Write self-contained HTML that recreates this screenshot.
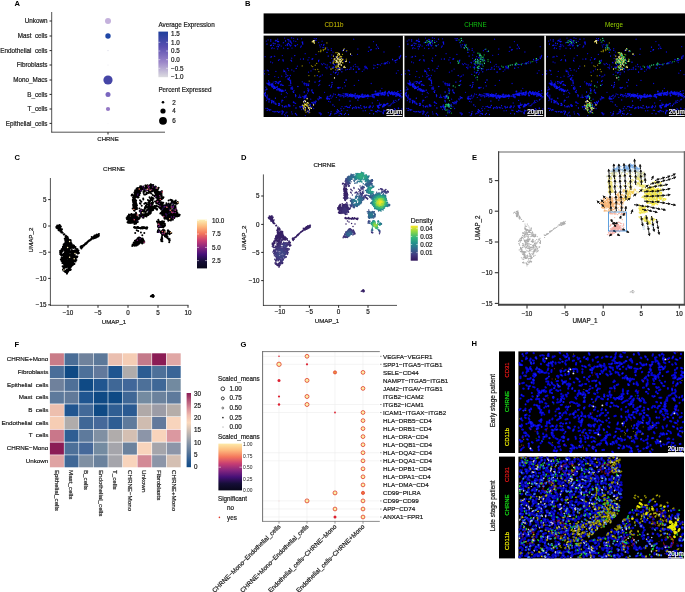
<!DOCTYPE html>
<html><head><meta charset="utf-8"><title>Figure</title><style>html,body{margin:0;padding:0;background:#fff;overflow:hidden}svg{display:block}</style></head><body>
<svg width="685" height="592" viewBox="0 0 685 592" font-family="'Liberation Sans', sans-serif" fill="#1a1a1a" stroke-width="0.2">
<style>.s{stroke:#1a1a1a}</style>
<defs>
<linearGradient id="gA" x1="0" y1="0" x2="0" y2="1"><stop offset="0.000" stop-color="#1f3f9c"/><stop offset="0.333" stop-color="#5a4fb0"/><stop offset="0.667" stop-color="#9b86c9"/><stop offset="1.000" stop-color="#dcdce0"/></linearGradient>
<linearGradient id="gC" x1="0" y1="0" x2="0" y2="1"><stop offset="0.000" stop-color="#fcf0b5"/><stop offset="0.143" stop-color="#fdb97d"/><stop offset="0.286" stop-color="#f4765c"/><stop offset="0.429" stop-color="#c73d73"/><stop offset="0.571" stop-color="#86267f"/><stop offset="0.714" stop-color="#451077"/><stop offset="0.857" stop-color="#150e37"/><stop offset="1.000" stop-color="#08071a"/></linearGradient>
<linearGradient id="gD" x1="0" y1="0" x2="0" y2="1"><stop offset="0.000" stop-color="#fde725"/><stop offset="0.167" stop-color="#8fd744"/><stop offset="0.333" stop-color="#35b779"/><stop offset="0.500" stop-color="#21918c"/><stop offset="0.667" stop-color="#31688e"/><stop offset="0.833" stop-color="#423a80"/><stop offset="1.000" stop-color="#32185c"/></linearGradient>
<linearGradient id="gF" x1="0" y1="0" x2="0" y2="1"><stop offset="0.000" stop-color="#8b1c55"/><stop offset="0.100" stop-color="#b45577"/><stop offset="0.200" stop-color="#d68b97"/><stop offset="0.300" stop-color="#f0bcae"/><stop offset="0.400" stop-color="#fbd9bd"/><stop offset="0.500" stop-color="#d2c0b5"/><stop offset="0.600" stop-color="#a9a9ae"/><stop offset="0.700" stop-color="#7e8fa5"/><stop offset="0.800" stop-color="#5a7799"/><stop offset="0.900" stop-color="#2f5e93"/><stop offset="1.000" stop-color="#0f4a85"/></linearGradient>
<linearGradient id="gG" x1="0" y1="0" x2="0" y2="1"><stop offset="0.000" stop-color="#fdeaa8"/><stop offset="0.143" stop-color="#fdb97d"/><stop offset="0.286" stop-color="#f4765c"/><stop offset="0.429" stop-color="#c73d73"/><stop offset="0.571" stop-color="#86267f"/><stop offset="0.714" stop-color="#451077"/><stop offset="0.857" stop-color="#150e37"/><stop offset="1.000" stop-color="#08071a"/></linearGradient>
<filter id="b3" x="-5%" y="-5%" width="110%" height="110%"><feGaussianBlur stdDeviation="0.8"/></filter>
<filter id="b5" x="-5%" y="-5%" width="110%" height="110%"><feGaussianBlur stdDeviation="0.8"/></filter>
<filter id="b6" x="-5%" y="-5%" width="110%" height="110%"><feGaussianBlur stdDeviation="0.85"/></filter>
<clipPath id="cb1"><rect x="263.6" y="35.6" width="139.3" height="81.4"/></clipPath><clipPath id="cb2"><rect x="404.4" y="35.6" width="139.9" height="81.4"/></clipPath><clipPath id="cb3"><rect x="545.9" y="35.6" width="139.1" height="81.4"/></clipPath><clipPath id="ch1"><rect x="518.4" y="351.4" width="165.6" height="101.6"/></clipPath><clipPath id="ch2"><rect x="518.4" y="456.6" width="165.6" height="101.8"/></clipPath>
</defs>
<rect x="0.0" y="0.0" width="685.0" height="592.0" fill="#fff"/>
<text x="14.5" y="6.2" font-size="7.6" fill="#000" font-weight="bold">A</text>
<line x1="51.7" y1="12.0" x2="51.7" y2="132.5" stroke="#1a1a1a" stroke-width="0.75"/>
<line x1="51.4" y1="132.2" x2="165.0" y2="132.2" stroke="#1a1a1a" stroke-width="0.75"/>
<text x="47.5" y="23.3" font-size="6.3" text-anchor="end" class="s" word-spacing="1.7">Unkown</text>
<line x1="49.5" y1="21.0" x2="51.7" y2="21.0" stroke="#1a1a1a" stroke-width="0.95"/>
<circle cx="108.0" cy="21.0" r="3.00" fill="#c4b1dc"/>
<text x="47.5" y="38.3" font-size="6.3" text-anchor="end" class="s" word-spacing="1.7">Mast cells</text>
<line x1="49.5" y1="36.0" x2="51.7" y2="36.0" stroke="#1a1a1a" stroke-width="0.95"/>
<circle cx="108.0" cy="36.0" r="2.70" fill="#1f47a6"/>
<text x="47.5" y="52.9" font-size="6.3" text-anchor="end" class="s" word-spacing="1.7">Endothelial cells</text>
<line x1="49.5" y1="50.6" x2="51.7" y2="50.6" stroke="#1a1a1a" stroke-width="0.95"/>
<circle cx="108.0" cy="50.6" r="0.70" fill="#dcdcea"/>
<text x="47.5" y="67.3" font-size="6.3" text-anchor="end" class="s" word-spacing="1.7">Fibroblasts</text>
<line x1="49.5" y1="65.0" x2="51.7" y2="65.0" stroke="#1a1a1a" stroke-width="0.95"/>
<circle cx="108.0" cy="65.0" r="0.50" fill="#e6e6ee"/>
<text x="47.5" y="82.3" font-size="6.3" text-anchor="end" class="s" word-spacing="1.7">Mono_Macs</text>
<line x1="49.5" y1="80.0" x2="51.7" y2="80.0" stroke="#1a1a1a" stroke-width="0.95"/>
<circle cx="108.0" cy="80.0" r="4.60" fill="#4545a6"/>
<text x="47.5" y="96.7" font-size="6.3" text-anchor="end" class="s" word-spacing="1.7">B_cells</text>
<line x1="49.5" y1="94.4" x2="51.7" y2="94.4" stroke="#1a1a1a" stroke-width="0.95"/>
<circle cx="108.0" cy="94.4" r="2.50" fill="#7a66bf"/>
<text x="47.5" y="111.3" font-size="6.3" text-anchor="end" class="s" word-spacing="1.7">T_cells</text>
<line x1="49.5" y1="109.0" x2="51.7" y2="109.0" stroke="#1a1a1a" stroke-width="0.95"/>
<circle cx="108.0" cy="109.0" r="2.10" fill="#9478c5"/>
<text x="47.5" y="125.7" font-size="6.3" text-anchor="end" class="s" word-spacing="1.7">Epithelial_cells</text>
<line x1="49.5" y1="123.4" x2="51.7" y2="123.4" stroke="#1a1a1a" stroke-width="0.95"/>
<circle cx="108.0" cy="123.4" r="0.40" fill="#eeeef2"/>
<line x1="108.0" y1="132.2" x2="108.0" y2="134.5" stroke="#1a1a1a" stroke-width="0.95"/>
<text x="108.0" y="141.4" font-size="6.0" text-anchor="middle" class="s">CHRNE</text>
<text x="158.4" y="27.1" font-size="6.3" class="s">Average Expression</text>
<rect x="158.4" y="31.6" width="9.6" height="45.6" fill="url(#gA)"/>
<text x="171.0" y="36.0" font-size="6.3" class="s">1.5</text>
<text x="171.0" y="44.6" font-size="6.3" class="s">1.0</text>
<line x1="158.4" y1="42.3" x2="160.3" y2="42.3" stroke="#fff" stroke-width="0.5"/>
<line x1="166.1" y1="42.3" x2="168.0" y2="42.3" stroke="#fff" stroke-width="0.5"/>
<text x="171.0" y="53.3" font-size="6.3" class="s">0.5</text>
<line x1="158.4" y1="51.0" x2="160.3" y2="51.0" stroke="#fff" stroke-width="0.5"/>
<line x1="166.1" y1="51.0" x2="168.0" y2="51.0" stroke="#fff" stroke-width="0.5"/>
<text x="171.0" y="62.0" font-size="6.3" class="s">0.0</text>
<line x1="158.4" y1="59.7" x2="160.3" y2="59.7" stroke="#fff" stroke-width="0.5"/>
<line x1="166.1" y1="59.7" x2="168.0" y2="59.7" stroke="#fff" stroke-width="0.5"/>
<text x="171.0" y="70.6" font-size="6.3" class="s">−0.5</text>
<line x1="158.4" y1="68.3" x2="160.3" y2="68.3" stroke="#fff" stroke-width="0.5"/>
<line x1="166.1" y1="68.3" x2="168.0" y2="68.3" stroke="#fff" stroke-width="0.5"/>
<text x="171.0" y="79.0" font-size="6.3" class="s">−1.0</text>
<text x="158.4" y="92.4" font-size="6.3" class="s">Percent Expressed</text>
<circle cx="163.0" cy="102.3" r="1.30" fill="#000"/>
<text x="172.3" y="104.6" font-size="6.3" class="s">2</text>
<circle cx="163.0" cy="111.0" r="2.60" fill="#000"/>
<text x="172.3" y="113.3" font-size="6.3" class="s">4</text>
<circle cx="163.0" cy="120.8" r="3.90" fill="#000"/>
<text x="172.3" y="123.1" font-size="6.3" class="s">6</text>
<text x="245.0" y="6.2" font-size="7.6" fill="#000" font-weight="bold">B</text>
<rect x="263.6" y="13.4" width="421.4" height="20.2" fill="#000"/>
<text x="334.0" y="26.9" font-size="6.3" text-anchor="middle" fill="#d0c400">CD11b</text>
<text x="475.4" y="26.9" font-size="6.3" text-anchor="middle" fill="#10c010">CHRNE</text>
<text x="614.0" y="26.9" font-size="6.3" text-anchor="middle" fill="#98d400">Merge</text>
<rect x="263.6" y="35.6" width="421.4" height="81.4" fill="#000"/>
<defs><g id="bblue">
<path d="M121.9 27.7h0M101.2 30.9h0M133.8 24.1h0M92.6 36.4h0M92.6 36.6h0M116.9 29.5h0M130.7 25.2h0M123.8 27.5h0M135.8 22.9h0M96.1 33.4h0M129.0 24.2h0M136.0 23.0h0M129.0 23.7h0M118.2 28.0h0M101.4 32.3h0M102.2 32.3h0M120.6 28.2h0M100.4 34.2h0M121.3 27.2h0M125.9 27.3h0M136.9 21.2h0M124.2 26.0h0M102.2 32.1h0M103.8 33.1h0M131.9 25.1h0M110.2 29.5h0M103.2 32.3h0M101.6 30.5h0M110.2 32.6h0M115.2 29.0h0M95.1 33.0h0M111.5 30.0h0M135.7 21.5h0M132.9 24.4h0M122.7 27.1h0M122.0 28.2h0M113.8 28.9h0M102.6 31.3h0M132.9 57.1h0M110.7 59.0h0M118.8 57.2h0M103.8 60.3h0M65.5 60.7h0M125.8 57.5h0M130.0 57.4h0M101.1 61.4h0M121.8 58.6h0M104.1 62.5h0M94.8 62.2h0M118.4 59.1h0M137.0 59.8h0M102.4 61.0h0M87.3 59.7h0M80.3 60.0h0M81.4 58.0h0M67.5 62.6h0M80.2 61.3h0M104.1 60.5h0M124.3 57.5h0M94.0 61.4h0M116.6 55.4h0M68.7 61.2h0M128.3 58.1h0M95.7 61.2h0M82.2 58.5h0M127.9 57.3h0M133.7 57.4h0M99.6 61.7h0M64.2 63.4h0M82.6 58.0h0M98.0 59.9h0M104.7 59.6h0M86.2 59.3h0M103.7 59.9h0M104.8 60.0h0M74.5 59.8h0M74.9 58.7h0M81.7 60.7h0M79.6 58.2h0M93.0 60.2h0M134.4 59.7h0M79.0 60.1h0M84.3 61.4h0M63.7 62.0h0M138.4 61.2h0M84.4 58.3h0M129.2 58.0h0M125.7 55.7h0M137.1 60.3h0M124.3 58.6h0M134.6 58.6h0M69.4 60.2h0M108.4 59.2h0M110.7 60.8h0M131.9 57.4h0M94.5 61.0h0M120.7 56.9h0M117.9 57.6h0M64.8 62.9h0M129.5 57.2h0M107.2 60.5h0M87.2 58.6h0M128.8 56.9h0M82.7 60.2h0M128.7 58.4h0M75.8 59.0h0M137.4 57.8h0M63.8 60.7h0M134.3 55.9h0M124.1 59.0h0M71.8 58.9h0M79.6 58.1h0M85.7 59.0h0M64.2 62.6h0M129.4 57.2h0M108.9 61.2h0M103.8 60.1h0M137.4 62.2h0M83.3 60.0h0M117.5 59.6h0M100.3 61.4h0M81.5 59.0h0M131.5 57.5h0M118.6 57.1h0M66.8 60.2h0M87.1 58.4h0M84.6 60.7h0M92.7 61.5h0M95.8 60.3h0M130.8 57.1h0M105.1 60.3h0M93.6 60.1h0M97.0 61.0h0M100.0 59.5h0M76.2 60.5h0M109.7 61.3h0M119.4 57.2h0M78.1 59.6h0M98.8 60.3h0M93.3 60.4h0M114.8 58.6h0M114.3 59.2h0M122.1 58.3h0M76.8 59.4h0M65.8 63.4h0M97.6 59.2h0M135.0 58.9h0M129.2 56.5h0M101.5 59.3h0M131.0 56.4h0M81.9 60.7h0M119.4 57.4h0M83.9 59.8h0M82.3 60.6h0M72.8 61.8h0M117.4 58.9h0M103.1 60.7h0M95.5 60.1h0M116.7 57.2h0M92.2 60.7h0M121.6 55.7h0M94.2 59.5h0M108.6 60.7h0M96.5 61.0h0M113.7 59.2h0M99.0 61.8h0M62.9 62.5h0M63.7 61.1h0M98.5 61.0h0M77.4 61.0h0M91.1 58.6h0M81.6 59.2h0M104.5 60.3h0M112.4 57.7h0M120.7 57.6h0M63.9 62.2h0M112.8 58.7h0M115.9 57.9h0M108.8 59.3h0M125.5 56.9h0M63.3 63.2h0M134.0 60.1h0M67.2 59.5h0M70.1 58.4h0M110.5 62.1h0M121.5 58.4h0M89.4 60.5h0M81.5 71.1h0M73.8 74.1h0M89.3 72.0h0M74.4 77.2h0M101.1 72.4h0M88.9 73.0h0M84.0 71.8h0M120.6 69.6h0M114.5 71.2h0M126.4 70.1h0M116.4 69.5h0M121.9 69.8h0M131.7 64.7h0M86.8 69.8h0M105.4 71.5h0M123.1 68.3h0M98.1 72.7h0M109.6 70.5h0M90.9 72.2h0M129.9 67.2h0M102.3 71.7h0M122.3 69.1h0M73.2 75.9h0M131.2 66.8h0M127.3 68.7h0M120.9 69.5h0M92.6 72.8h0M106.1 71.0h0M106.2 71.9h0M134.9 64.2h0M82.7 70.7h0M96.4 72.3h0M99.5 75.2h0M130.0 65.5h0M85.2 71.8h0M106.3 72.1h0M72.8 77.6h0M97.1 70.1h0M124.6 70.2h0M127.7 68.3h0M135.7 63.5h0M118.8 71.2h0M89.6 71.9h0M77.3 72.9h0M94.6 71.5h0M100.5 70.8h0M83.2 70.9h0M117.6 68.9h0M119.8 70.8h0M92.2 71.2h0M105.3 72.0h0M108.9 72.0h0M133.2 65.5h0M103.0 71.5h0M93.0 72.0h0M86.1 71.3h0M78.0 74.9h0M95.2 72.1h0M114.2 71.7h0M80.2 73.0h0M112.9 76.1h0M120.6 75.2h0M113.6 76.3h0M121.5 75.1h0M120.6 75.3h0M114.1 74.8h0M130.0 74.8h0M134.7 73.1h0M106.1 77.8h0M110.0 78.2h0M124.1 76.6h0M135.1 72.7h0M130.9 73.1h0M119.5 77.1h0M138.3 73.4h0M116.0 75.5h0M134.8 72.2h0M128.8 74.6h0M120.1 74.5h0M108.4 74.8h0M119.8 76.3h0M112.2 75.9h0M117.4 76.1h0M126.5 73.7h0M131.8 73.9h0M76.6 77.9h0M76.2 76.1h0M71.1 78.3h0M74.1 76.9h0M67.2 77.9h0M75.5 79.7h0M57.1 79.2h0M64.7 77.0h0M81.8 77.8h0M65.8 79.7h0M78.0 78.8h0M55.5 77.2h0M84.9 78.9h0M56.6 77.3h0M67.6 76.1h0M56.6 78.1h0M67.0 79.2h0M72.2 77.7h0M6.1 46.7h0M7.9 49.0h0M10.6 52.1h0M4.9 45.1h0M14.5 54.1h0M7.7 49.6h0M10.1 53.0h0M6.0 49.7h0M6.2 48.7h0M17.8 58.6h0M13.4 54.3h0M14.0 53.0h0M10.6 52.7h0M8.5 48.4h0M8.1 49.3h0M13.6 51.8h0M14.8 53.1h0M13.0 54.0h0M12.4 52.0h0M8.2 49.2h0M3.3 47.6h0M13.3 51.0h0M8.2 48.4h0M15.8 53.4h0M6.2 48.0h0M19.2 54.5h0M20.2 55.5h0M9.3 50.3h0M10.3 52.4h0M12.2 52.2h0M18.4 55.9h0M5.3 46.4h0M17.5 55.6h0M16.8 54.0h0M11.4 52.8h0M7.9 49.9h0M17.7 55.9h0M13.7 50.8h0M10.0 50.4h0M10.9 51.6h0M3.4 62.4h0M2.9 65.0h0M19.4 49.8h0M2.7 54.1h0M3.7 63.4h0M16.9 49.2h0M5.3 49.1h0M14.4 47.7h0M3.6 53.6h0M15.1 68.2h0M8.1 67.2h0M22.8 56.8h0M19.2 64.8h0M6.6 48.5h0M14.7 48.0h0M18.1 66.3h0M1.6 54.5h0M13.5 47.1h0M1.7 56.7h0M14.8 46.5h0M2.1 59.5h0M0.6 59.0h0M1.8 57.4h0M20.9 61.7h0M9.7 66.1h0M8.2 65.9h0M1.7 59.6h0M9.6 46.5h0M13.1 46.5h0M2.1 60.7h0M1.6 60.1h0M2.2 60.8h0M18.3 65.0h0M17.5 48.5h0M11.6 46.1h0M2.3 51.6h0M18.8 64.9h0M12.9 46.1h0M21.7 54.6h0M3.0 53.4h0M14.9 67.8h0M5.0 63.4h0M16.9 45.8h0M15.5 47.2h0M23.7 58.0h0M11.4 68.1h0M8.2 66.4h0M18.4 49.4h0M18.5 64.6h0M11.9 47.8h0M5.4 66.3h0M13.5 47.0h0M22.5 61.2h0M7.0 49.3h0M0.9 58.1h0M23.3 71.3h0M8.6 64.9h0M20.8 70.7h0M18.6 70.0h0M7.6 64.7h0M11.4 66.7h0M5.4 64.4h0M15.6 67.9h0M3.9 61.3h0M3.9 59.6h0M16.0 69.2h0M12.4 68.5h0M10.4 65.5h0M25.3 69.7h0M25.4 70.8h0M15.0 69.7h0M10.1 67.3h0M15.9 69.8h0M26.4 70.1h0M24.8 69.5h0M6.0 64.0h0M22.6 70.3h0M21.9 70.6h0M21.1 71.3h0M16.1 68.8h0M25.6 69.2h0M3.1 61.6h0M9.7 65.9h0M9.4 66.3h0M26.4 70.6h0M25.0 69.0h0M12.3 68.4h0M25.5 69.6h0M19.1 71.2h0M6.1 63.2h0M42.6 59.5h0M30.0 56.4h0M27.6 53.1h0M23.2 40.6h0M27.6 52.4h0M40.1 61.5h0M22.2 36.6h0M36.1 59.5h0M42.2 60.5h0M22.0 41.2h0M35.0 61.7h0M43.9 57.5h0M40.9 60.6h0M41.7 60.0h0M29.4 56.1h0M27.1 49.6h0M25.8 42.2h0M25.3 43.4h0M43.4 61.6h0M42.1 61.0h0M27.2 47.6h0M28.6 51.4h0M39.6 61.1h0M27.5 53.4h0M24.6 43.9h0M37.3 61.7h0M27.0 45.9h0M40.5 62.7h0M44.5 54.8h0M25.5 49.7h0M41.7 61.5h0M24.3 42.7h0M31.8 59.2h0M42.0 61.9h0M26.3 44.9h0M29.2 52.5h0M28.7 53.5h0M21.1 35.4h0M45.3 54.4h0M44.8 55.9h0M40.9 62.3h0M41.7 60.9h0M36.2 61.0h0M22.2 38.2h0M30.1 56.8h0M22.6 38.7h0M20.2 35.9h0M30.4 54.9h0M32.2 60.1h0M25.9 44.6h0M32.0 61.1h0M36.4 61.9h0M20.9 35.8h0M44.5 54.2h0M27.5 52.3h0M27.1 44.5h0M27.1 47.2h0M39.3 60.8h0M20.0 34.5h0M24.2 39.8h0M48.4 66.9h0M29.9 66.3h0M36.7 72.1h0M30.1 66.4h0M57.0 62.0h0M51.5 67.9h0M52.5 65.9h0M30.2 70.0h0M51.6 66.8h0M56.2 62.6h0M54.3 63.4h0M51.5 68.2h0M52.3 65.5h0M29.8 67.0h0M45.2 69.6h0M39.8 71.9h0M38.8 71.4h0M57.8 62.3h0M46.5 69.9h0M49.4 68.2h0M46.6 68.7h0M30.0 66.5h0M38.0 70.6h0M49.8 68.0h0M50.5 66.4h0M39.2 70.4h0M31.0 67.3h0M38.6 70.8h0M32.4 72.4h0M36.8 71.4h0M32.0 67.8h0M54.8 64.2h0M49.5 67.6h0M39.0 71.9h0M55.8 63.1h0M32.2 78.2h0M18.5 77.6h0M4.8 73.7h0M18.4 78.7h0M19.3 77.1h0M12.3 76.1h0M18.9 75.4h0M4.0 72.8h0M15.5 76.0h0M31.8 77.9h0M7.3 74.3h0M33.2 79.6h0M5.7 74.9h0M24.0 80.2h0M32.6 78.7h0M22.2 77.6h0M9.3 75.8h0M6.3 74.1h0M23.3 76.6h0M28.5 78.3h0M2.4 72.8h0M19.5 76.1h0M13.9 75.8h0M21.7 80.2h0M17.6 75.6h0M10.6 76.2h0M14.8 76.8h0M21.0 79.1h0M28.0 76.3h0M3.6 74.7h0M40.3 48.0h0M40.6 47.4h0M41.6 48.1h0M48.9 56.6h0M44.3 52.8h0M42.8 49.9h0M43.3 48.1h0M44.7 49.9h0M42.8 48.6h0M47.9 55.2h0M45.0 49.7h0M48.4 54.4h0M40.8 49.2h0M38.7 46.2h0M44.1 49.3h0M49.7 57.4h0M39.1 6.3h0M32.2 5.7h0M37.7 10.3h0M9.6 7.6h0M21.0 2.5h0M7.2 5.7h0M20.0 7.0h0M25.0 7.7h0M14.5 8.7h0M8.2 12.9h0M30.1 5.3h0M14.8 11.1h0M22.2 9.8h0M13.4 11.0h0M16.0 9.4h0M39.2 8.4h0M32.3 10.0h0M28.1 2.3h0M20.0 12.6h0M31.8 10.5h0M24.0 9.9h0M24.2 3.9h0M25.9 8.8h0M34.0 3.6h0M27.9 2.3h0M38.0 3.2h0M2.7 5.5h0M7.8 9.6h0M17.6 10.5h0M37.0 11.6h0M30.0 2.7h0M7.2 4.3h0M14.4 9.3h0M22.0 5.5h0M8.6 12.0h0M15.0 5.9h0M31.3 9.9h0M26.4 9.6h0M25.2 4.1h0M11.4 8.1h0M10.5 12.7h0M13.3 5.2h0M9.9 9.8h0M14.0 5.8h0M37.5 10.7h0M27.6 9.5h0M25.4 5.4h0M39.0 7.3h0M38.4 6.5h0M26.8 10.4h0M26.8 5.3h0M23.7 8.8h0M24.0 8.3h0M14.5 6.3h0M26.9 6.5h0M22.0 5.3h0M28.4 12.5h0M19.6 7.2h0M33.9 9.0h0M27.4 6.6h0M28.1 7.7h0M14.1 3.6h0M14.0 13.3h0M6.9 9.9h0M11.8 5.3h0M4.5 4.3h0M12.7 5.0h0M12.3 4.7h0M55.2 49.9h0M23.8 32.8h0M56.2 48.7h0M55.6 45.8h0M0.6 35.3h0M6.4 49.4h0M17.1 49.6h0M32.6 32.8h0M56.3 44.9h0M28.1 22.6h0M6.8 21.5h0M27.5 24.7h0M11.2 41.0h0M47.4 35.3h0M45.4 22.0h0M51.4 46.5h0M49.6 33.5h0M5.2 38.8h0M11.1 20.8h0M19.4 24.4h0M15.6 24.0h0M45.2 48.4h0M18.1 40.6h0M0.7 38.2h0M41.6 18.1h0M7.1 26.4h0M24.3 33.1h0M53.7 39.9h0M18.7 20.0h0M55.0 26.0h0M36.9 23.5h0M8.0 21.2h0M44.9 36.6h0M25.0 34.7h0M28.2 34.3h0M39.8 23.4h0M14.8 41.7h0M52.4 18.8h0M26.8 39.9h0M4.7 35.2h0M3.7 34.6h0M30.3 35.5h0M9.0 27.2h0M31.2 20.0h0M12.3 35.8h0M49.2 23.1h0M57.9 28.2h0M48.6 23.4h0M63.3 33.1h0M65.7 31.4h0M61.6 28.7h0M73.6 34.9h0M48.5 23.8h0M68.7 31.5h0M60.3 27.8h0M70.2 32.0h0M63.6 29.4h0M63.4 31.5h0M58.9 29.1h0M55.0 25.1h0M55.4 24.5h0M60.4 8.9h0M56.6 11.3h0M64.5 14.2h0M58.5 5.6h0M52.4 4.8h0M50.6 3.0h0M52.6 3.0h0M56.1 9.5h0M51.6 4.6h0M63.4 12.3h0M60.1 9.6h0M57.8 9.1h0M55.1 7.0h0M67.7 13.1h0M59.5 11.9h0M67.7 14.8h0M76.4 21.2h0M73.3 26.9h0M70.1 31.4h0M66.9 27.1h0M73.3 32.9h0M78.9 15.1h0M64.6 20.5h0M73.2 24.6h0M75.6 28.9h0M69.4 16.5h0M76.6 23.7h0M75.0 22.3h0M74.7 32.9h0M68.2 19.4h0M78.4 33.3h0M74.6 19.2h0M66.5 26.8h0M69.9 36.4h0M86.0 26.6h0M77.7 24.9h0M80.6 25.5h0M75.8 32.3h0M78.3 36.2h0M68.1 22.7h0M71.4 29.7h0M73.3 28.5h0M70.2 25.0h0M85.8 33.7h0M67.0 27.3h0M79.2 23.0h0M70.5 28.8h0M76.0 28.3h0M74.8 37.2h0M71.4 23.0h0M77.8 29.2h0M69.3 32.0h0M68.9 25.5h0M74.1 22.0h0M80.6 13.8h0M72.2 21.0h0M45.6 75.9h0M45.3 75.4h0M36.3 71.1h0M38.9 69.2h0M43.7 70.8h0M47.1 63.6h0M40.5 65.3h0M38.1 74.0h0M43.5 75.9h0M46.6 70.7h0M40.1 74.0h0M40.9 66.3h0M39.5 70.9h0M46.8 70.7h0M46.7 70.8h0M41.7 80.0h0M48.5 71.2h0M40.5 64.9h0M44.2 69.6h0M44.4 71.6h0M44.3 74.5h0M43.9 68.0h0M40.7 72.5h0M39.8 73.0h0M95.0 33.8h0M89.8 30.6h0M89.8 33.6h0M83.7 33.8h0M72.9 36.6h0M87.3 31.9h0M72.0 37.2h0M76.9 34.4h0M82.1 34.3h0M94.3 31.4h0M71.7 37.3h0M92.3 31.1h0M87.3 33.4h0M74.1 38.9h0M107.6 14.1h0M120.4 16.4h0M112.6 13.1h0M93.9 18.7h0M105.5 11.6h0M106.8 14.5h0M104.8 15.8h0M107.0 14.6h0M114.9 12.8h0M114.1 11.3h0M67.4 51.9h0M81.7 50.4h0M68.0 50.5h0M74.0 52.1h0M67.8 51.2h0M76.5 51.8h0M65.7 49.8h0M74.5 52.7h0M68.5 48.8h0M90.7 49.8h0M75.3 52.3h0M79.0 52.5h0M58.7 39.4h0M10.7 20.5h0M34.3 50.9h0M82.7 15.9h0M14.9 24.8h0M132.2 27.0h0M86.4 65.5h0M45.9 27.2h0M113.6 70.0h0M135.7 11.1h0M44.7 77.1h0M28.0 25.6h0M134.4 78.9h0M40.6 56.6h0M68.4 46.9h0M33.8 30.6h0M113.7 32.0h0M15.9 45.9h0M82.5 44.4h0M95.0 44.8h0M132.8 37.6h0M98.7 35.7h0M40.6 56.4h0M114.1 64.8h0M57.0 40.6h0M88.2 19.7h0M91.8 58.2h0M109.9 6.0h0M138.0 39.0h0M55.8 41.2h0M128.2 56.3h0M75.7 64.4h0M50.1 72.9h0M74.8 51.9h0M11.8 62.6h0M91.6 28.9h0M90.1 3.6h0M137.0 55.1h0M55.7 61.3h0M134.5 35.0h0M1.5 21.1h0M71.1 42.2h0M80.9 46.8h0M62.1 31.8h0M107.6 47.9h0M69.7 28.1h0M3.4 8.5h0M57.9 78.3h0M16.2 76.6h0M19.7 25.4h0M63.4 16.8h0M67.3 38.8h0M61.0 56.7h0M44.4 24.4h0M112.9 9.4h0M118.3 52.7h0M94.3 13.4h0M137.1 19.9h0M24.3 13.0h0M78.0 78.0h0M78.4 71.0h0M74.6 75.1h0M94.3 64.5h0M108.7 67.4h0M107.0 70.8h0M115.9 67.6h0M119.7 78.1h0M65.0 65.8h0M129.1 67.3h0M85.9 72.0h0M80.8 79.0h0M101.8 75.1h0M107.3 74.6h0M106.5 70.1h0M127.0 74.7h0M124.5 76.3h0M83.6 74.7h0M66.7 66.3h0M69.3 69.3h0M74.5 76.1h0M100.5 71.3h0M70.9 70.7h0M74.7 75.1h0M115.0 75.2h0" stroke="#0808d8" stroke-width="1.3" stroke-linecap="round" fill="none"/>
<path d="M127.1 58.5h0M111.9 55.9h0M135.7 59.6h0M98.7 58.8h0M87.5 60.0h0M128.3 57.2h0M128.0 57.4h0M115.3 57.7h0M132.9 58.7h0M132.2 58.2h0M95.6 60.8h0M109.3 60.7h0M88.7 60.9h0M113.4 59.5h0M95.4 61.9h0M132.2 57.8h0M83.4 58.6h0M125.3 56.1h0M132.4 60.3h0M105.2 60.7h0M92.3 62.5h0M126.4 57.3h0M94.4 60.7h0M132.4 57.9h0M115.0 59.7h0M120.8 59.3h0M134.2 58.4h0M135.9 58.9h0M117.4 57.8h0M93.5 60.0h0M91.3 60.0h0M136.0 60.5h0M88.3 59.0h0M129.4 58.5h0M97.6 61.0h0M90.5 60.4h0M123.9 57.5h0M108.9 60.5h0M87.5 60.6h0M117.7 58.0h0M88.2 59.5h0M100.9 60.4h0M91.8 62.0h0M112.8 59.1h0M114.1 58.3h0M86.1 59.6h0M130.5 58.6h0M95.2 62.2h0M121.5 57.2h0M98.6 60.9h0M114.0 58.7h0M102.1 60.7h0M118.0 58.1h0M85.7 60.4h0M88.7 59.6h0M103.4 60.3h0M88.2 60.1h0M129.4 58.9h0M97.0 60.8h0M99.3 61.2h0M119.4 58.8h0M113.4 59.1h0M113.7 57.9h0M104.0 59.7h0M109.5 59.2h0M89.3 59.4h0M111.5 58.7h0M118.9 58.0h0M124.6 60.0h0M134.7 58.4h0M10.8 51.0h0M17.7 55.0h0M9.0 48.6h0M4.4 48.1h0M8.6 50.9h0M17.0 54.0h0M10.9 52.2h0M5.1 47.8h0M18.6 55.1h0M5.3 48.8h0M8.4 50.7h0M10.9 51.5h0M8.5 50.4h0M15.5 53.7h0M8.8 51.3h0M17.6 55.2h0M15.8 55.0h0M11.0 51.3h0M115.2 72.1h0M120.3 69.1h0M120.2 69.2h0M124.0 68.0h0M116.4 69.4h0M119.4 70.3h0M120.1 70.8h0M114.2 70.8h0M114.7 70.1h0M120.8 69.1h0" stroke="#0c10e8" stroke-width="1.9" stroke-linecap="round" fill="none"/>
<path d="M121.9 27.7h0M92.6 36.6h0M135.8 22.9h0M129.0 23.7h0M120.6 28.2h0M136.9 21.2h0M131.9 25.1h0M110.2 32.6h0M135.7 21.5h0M113.8 28.9h0M118.8 57.2h0M130.0 57.4h0M94.8 62.2h0M87.3 59.7h0M80.2 61.3h0M116.6 55.4h0M82.2 58.5h0M64.2 63.4h0M86.2 59.3h0M74.9 58.7h0M134.4 59.7h0M138.4 61.2h0M137.1 60.3h0M108.4 59.2h0M120.7 56.9h0M107.2 60.5h0M128.7 58.4h0M134.3 55.9h0M85.7 59.0h0M103.8 60.1h0M100.3 61.4h0M66.8 60.2h0M95.8 60.3h0M97.0 61.0h0M119.4 57.2h0M114.8 58.6h0M65.8 63.4h0M101.5 59.3h0M83.9 59.8h0M103.1 60.7h0M121.6 55.7h0M113.7 59.2h0M98.5 61.0h0M104.5 60.3h0M112.8 58.7h0M63.3 63.2h0M110.5 62.1h0M73.8 74.1h0M88.9 73.0h0M126.4 70.1h0M86.8 69.8h0M109.6 70.5h0M122.3 69.1h0M120.9 69.5h0M134.9 64.2h0M130.0 65.5h0M97.1 70.1h0M118.8 71.2h0M100.5 70.8h0M92.2 71.2h0M103.0 71.5h0M95.2 72.1h0M120.6 75.2h0M114.1 74.8h0M110.0 78.2h0M119.5 77.1h0M128.8 74.6h0M112.2 75.9h0M76.6 77.9h0M67.2 77.9h0M81.8 77.8h0M84.9 78.9h0M67.0 79.2h0M10.6 52.1h0M10.1 53.0h0M13.4 54.3h0M8.1 49.3h0M12.4 52.0h0M8.2 48.4h0M20.2 55.5h0M18.4 55.9h0M11.4 52.8h0M10.0 50.4h0M19.4 49.8h0M5.3 49.1h0M8.1 67.2h0M14.7 48.0h0M1.7 56.7h0M1.8 57.4h0M1.7 59.6h0M1.6 60.1h0M11.6 46.1h0M21.7 54.6h0M16.9 45.8h0M8.2 66.4h0M5.4 66.3h0M0.9 58.1h0M18.6 70.0h0M15.6 67.9h0M12.4 68.5h0M15.0 69.7h0M24.8 69.5h0M21.1 71.3h0M9.7 65.9h0M12.3 68.4h0M42.6 59.5h0M27.6 52.4h0M42.2 60.5h0M40.9 60.6h0M25.8 42.2h0M27.2 47.6h0M24.6 43.9h0M44.5 54.8h0M31.8 59.2h0M28.7 53.5h0M40.9 62.3h0M30.1 56.8h0M32.2 60.1h0M20.9 35.8h0M27.1 47.2h0M48.4 66.9h0M57.0 62.0h0M51.6 66.8h0M52.3 65.5h0M38.8 71.4h0M46.6 68.7h0M50.5 66.4h0M32.4 72.4h0M49.5 67.6h0M18.5 77.6h0M12.3 76.1h0M31.8 77.9h0M24.0 80.2h0M6.3 74.1h0M19.5 76.1h0M10.6 76.2h0M3.6 74.7h0M48.9 56.6h0M44.7 49.9h0M48.4 54.4h0M49.7 57.4h0M9.6 7.6h0M25.0 7.7h0M14.8 11.1h0M39.2 8.4h0M31.8 10.5h0M34.0 3.6h0M7.8 9.6h0M7.2 4.3h0M15.0 5.9h0M11.4 8.1h0M14.0 5.8h0M39.0 7.3h0M23.7 8.8h0M22.0 5.3h0M27.4 6.6h0M6.9 9.9h0M12.3 4.7h0M55.6 45.8h0M32.6 32.8h0M27.5 24.7h0M51.4 46.5h0M19.4 24.4h0M0.7 38.2h0M53.7 39.9h0M8.0 21.2h0M39.8 23.4h0M4.7 35.2h0M31.2 20.0h0M48.6 23.4h0M73.6 34.9h0M70.2 32.0h0M55.0 25.1h0M64.5 14.2h0M52.6 3.0h0M60.1 9.6h0M59.5 11.9h0M70.1 31.4h0M64.6 20.5h0M76.6 23.7h0M78.4 33.3h0M86.0 26.6h0M78.3 36.2h0M70.2 25.0h0M70.5 28.8h0M77.8 29.2h0M80.6 13.8h0M36.3 71.1h0M40.5 65.3h0M40.1 74.0h0M46.7 70.8h0M44.2 69.6h0M40.7 72.5h0M89.8 33.6h0M72.0 37.2h0M71.7 37.3h0M107.6 14.1h0M105.5 11.6h0M114.9 12.8h0M68.0 50.5h0M65.7 49.8h0M75.3 52.3h0M34.3 50.9h0M86.4 65.5h0M44.7 77.1h0M68.4 46.9h0M82.5 44.4h0M40.6 56.4h0M91.8 58.2h0M128.2 56.3h0M11.8 62.6h0M55.7 61.3h0M80.9 46.8h0M3.4 8.5h0M63.4 16.8h0M112.9 9.4h0M24.3 13.0h0M94.3 64.5h0M119.7 78.1h0M80.8 79.0h0M127.0 74.7h0M69.3 69.3h0M74.7 75.1h0" stroke="#1c28ff" stroke-width="0.8" stroke-linecap="round" fill="none"/>
</g></defs>
<g clip-path="url(#cb1)"><g transform="translate(263.6 35.6)">
<use href="#bblue"/>
<path d="M73.2 25.7h0M73.7 30.1h0M79.2 26.9h0M77.8 25.6h0M79.8 14.6h0M70.6 25.3h0M73.8 21.1h0M78.1 21.0h0M76.4 26.1h0M75.7 21.7h0M74.7 31.1h0M77.8 29.9h0M75.2 17.7h0M73.5 24.8h0M81.0 30.7h0M77.3 21.6h0M76.0 24.3h0M74.5 19.8h0M77.4 25.4h0M78.9 18.8h0M70.8 42.3h0M71.8 26.8h0M77.3 21.0h0M82.8 25.2h0M76.1 33.9h0M72.2 23.3h0M74.0 19.2h0M76.7 27.7h0M76.3 28.5h0M79.1 27.1h0M74.5 31.1h0M72.6 31.9h0M74.7 29.0h0M83.2 15.1h0M74.7 23.6h0M82.7 23.6h0M87.0 18.5h0M77.0 23.7h0M77.6 22.9h0M73.6 17.1h0M76.0 18.6h0M70.0 25.9h0M75.0 30.2h0M69.8 27.4h0M76.9 24.1h0M72.1 25.1h0M79.2 23.8h0M79.1 24.2h0M82.7 25.6h0M74.8 18.1h0M69.5 27.3h0M74.5 26.8h0M72.6 24.8h0M72.9 26.9h0M74.6 34.1h0M72.6 30.6h0M71.1 23.4h0M72.0 31.3h0M77.3 26.1h0M76.5 20.5h0M81.4 31.9h0M75.4 25.6h0M78.2 24.7h0M74.7 23.2h0M74.0 23.3h0M78.6 24.0h0M73.7 22.6h0M69.2 32.7h0M77.6 29.5h0M73.3 32.2h0M76.1 32.2h0M75.4 25.3h0M73.3 25.9h0M76.4 32.4h0M82.0 25.9h0M80.6 13.0h0M73.5 26.6h0M79.2 27.4h0M75.3 23.4h0M72.1 34.2h0M80.2 31.5h0M75.5 23.0h0M77.8 25.4h0M75.0 25.4h0M72.8 21.5h0M74.5 19.1h0M78.0 29.4h0M72.3 17.1h0M77.2 26.6h0M75.6 19.4h0M67.4 33.4h0M74.6 27.8h0M75.2 27.4h0M70.1 23.4h0M69.8 20.5h0M41.3 65.1h0M41.9 68.4h0M40.2 70.1h0M43.0 68.0h0M47.8 72.7h0M45.7 69.5h0M45.1 72.8h0M40.6 68.5h0M50.0 69.3h0M44.2 69.9h0M45.0 67.5h0M40.6 73.9h0M43.5 63.1h0M43.1 70.0h0M44.7 71.5h0M43.8 70.8h0M43.7 67.0h0M41.0 67.9h0M39.8 72.9h0M45.6 72.3h0M41.6 68.9h0M41.9 73.8h0M44.3 75.7h0M40.7 69.8h0M40.0 66.2h0M42.6 69.5h0M41.8 65.9h0M43.5 69.6h0M45.2 72.2h0M39.9 71.7h0M41.6 75.1h0M42.9 69.0h0M42.0 66.0h0M46.1 76.9h0M38.8 69.7h0M42.7 68.7h0M45.9 74.2h0M42.4 76.7h0M43.1 69.8h0M43.7 68.3h0M46.5 72.3h0M42.1 69.9h0M40.8 71.3h0M39.9 70.5h0M41.8 72.2h0M50.4 6.7h0M49.4 5.4h0M49.2 6.0h0M49.9 5.5h0M48.6 6.2h0M50.7 7.7h0M50.2 5.1h0M50.8 5.2h0M57.3 15.1h0M55.2 16.0h0M59.8 15.0h0M57.1 16.1h0M61.8 13.1h0M63.3 7.3h0M61.3 13.7h0M57.2 14.4h0M61.7 12.2h0M59.6 13.9h0M54.2 33.7h0M51.6 34.0h0M49.1 30.9h0M47.8 30.2h0M55.2 36.1h0M53.1 27.8h0M51.2 40.2h0M45.6 45.5h0M51.6 29.6h0M45.3 39.9h0M38.6 30.3h0" stroke="#a89800" stroke-width="1.25" stroke-linecap="round" fill="none"/>
<path d="M73.2 25.7h0M79.2 26.9h0M79.8 14.6h0M73.8 21.1h0M76.4 26.1h0M74.7 31.1h0M75.2 17.7h0M81.0 30.7h0M76.0 24.3h0M77.4 25.4h0M70.8 42.3h0M77.3 21.0h0M76.1 33.9h0M74.0 19.2h0M76.3 28.5h0M74.5 31.1h0M74.7 29.0h0M74.7 23.6h0M87.0 18.5h0M77.6 22.9h0M76.0 18.6h0M75.0 30.2h0M76.9 24.1h0M79.2 23.8h0M82.7 25.6h0M69.5 27.3h0M72.6 24.8h0M74.6 34.1h0M71.1 23.4h0M77.3 26.1h0M81.4 31.9h0M78.2 24.7h0M74.0 23.3h0M73.7 22.6h0M77.6 29.5h0M76.1 32.2h0M73.3 25.9h0M82.0 25.9h0M73.5 26.6h0M75.3 23.4h0M80.2 31.5h0M77.8 25.4h0M72.8 21.5h0M78.0 29.4h0M77.2 26.6h0M67.4 33.4h0M75.2 27.4h0M69.8 20.5h0M41.3 65.1h0M40.2 70.1h0M47.8 72.7h0M45.1 72.8h0M50.0 69.3h0M45.0 67.5h0M43.5 63.1h0M44.7 71.5h0M43.7 67.0h0M39.8 72.9h0M41.6 68.9h0M44.3 75.7h0M40.0 66.2h0M41.8 65.9h0M45.2 72.2h0M41.6 75.1h0M42.0 66.0h0M38.8 69.7h0M45.9 74.2h0M43.1 69.8h0M46.5 72.3h0M40.8 71.3h0M41.8 72.2h0M50.4 6.7h0M49.4 5.4h0M49.2 6.0h0M49.9 5.5h0M48.6 6.2h0M50.7 7.7h0M50.2 5.1h0M50.8 5.2h0" stroke="#e8dc80" stroke-width="0.9" stroke-linecap="round" fill="none"/>
<path d="M73.2 25.7h0M79.8 14.6h0M76.4 26.1h0M75.2 17.7h0M76.0 24.3h0M70.8 42.3h0M76.1 33.9h0M76.3 28.5h0M74.7 29.0h0M87.0 18.5h0M76.0 18.6h0M76.9 24.1h0M82.7 25.6h0M72.6 24.8h0M71.1 23.4h0M81.4 31.9h0M74.0 23.3h0M77.6 29.5h0M73.3 25.9h0M73.5 26.6h0M80.2 31.5h0M72.8 21.5h0M77.2 26.6h0M75.2 27.4h0M41.3 65.1h0M47.8 72.7h0M50.0 69.3h0M43.5 63.1h0M43.7 67.0h0M41.6 68.9h0M40.0 66.2h0M45.2 72.2h0M42.0 66.0h0M45.9 74.2h0M46.5 72.3h0M41.8 72.2h0M50.4 6.7h0M49.9 5.5h0M50.2 5.1h0" stroke="#ffffff" stroke-width="0.8" stroke-linecap="round" fill="none"/>
</g></g>
<g clip-path="url(#cb2)"><g transform="translate(404.5 35.6)">
<use href="#bblue"/>
<path d="M74.5 30.6h0M78.6 26.1h0M71.4 25.8h0M78.9 21.5h0M76.5 22.2h0M78.6 30.4h0M74.3 25.3h0M78.1 22.1h0M75.3 20.3h0M79.7 19.3h0M72.6 27.3h0M83.6 25.7h0M73.0 23.8h0M77.5 28.2h0M79.9 27.6h0M73.4 32.4h0M84.0 15.6h0M83.5 24.1h0M77.8 24.2h0M74.4 17.6h0M70.8 26.4h0M70.6 27.9h0M72.9 25.6h0M79.9 24.7h0M75.6 18.6h0M75.3 27.3h0M73.7 27.4h0M73.4 31.1h0M72.8 31.8h0M77.3 21.0h0M76.2 26.1h0M75.5 23.7h0M79.4 24.5h0M70.0 33.2h0M74.1 32.7h0M76.2 25.8h0M77.2 32.9h0M81.4 13.5h0M80.0 27.9h0M72.9 34.7h0M76.3 23.5h0M75.8 25.9h0M75.3 19.6h0M73.1 17.6h0M76.4 19.9h0M75.4 28.3h0M70.9 23.9h0M42.7 68.9h0M43.8 68.5h0M46.5 70.0h0M41.4 69.0h0M45.0 70.4h0M41.4 74.4h0M43.9 70.5h0M44.6 71.3h0M41.8 68.4h0M46.4 72.8h0M42.7 74.3h0M41.5 70.3h0M43.4 70.0h0M44.3 70.1h0M40.7 72.2h0M43.7 69.5h0M46.9 77.4h0M43.5 69.2h0M43.2 77.2h0M44.5 68.8h0M42.9 70.4h0M40.7 71.0h0M23.7 5.8h0M21.1 6.7h0M22.6 7.0h0M30.3 6.9h0M31.5 10.1h0M27.9 5.2h0M22.8 4.7h0M25.7 6.8h0M25.8 7.8h0M24.7 6.1h0M54.5 4.3h0M57.1 4.8h0M55.9 6.3h0M56.7 2.8h0M61.8 9.3h0M61.9 11.8h0M63.0 14.3h0M61.0 10.4h0M63.1 12.9h0M59.9 12.4h0M54.5 26.9h0M53.8 27.6h0M54.3 27.3h0M53.4 25.6h0M128.3 25.9h0M111.1 29.1h0M110.6 28.4h0M107.7 29.2h0M112.7 28.5h0M105.7 29.6h0M103.7 30.1h0M111.7 27.6h0M121.7 28.0h0M98.6 31.5h0M116.8 29.0h0M132.0 23.1h0M116.9 28.5h0M131.7 23.2h0M126.5 26.2h0M104.0 31.3h0M97.1 30.4h0M43.6 63.0h0M43.5 60.8h0M43.8 62.1h0M45.0 64.9h0M41.9 60.5h0M44.9 57.6h0M54.6 49.8h0M50.8 51.5h0M48.7 50.3h0M70.0 40.0h0M72.7 41.6h0M72.8 44.2h0" stroke="#10a840" stroke-width="1.25" stroke-linecap="round" fill="none"/>
<path d="M74.5 30.6h0M71.4 25.8h0M76.5 22.2h0M74.3 25.3h0M75.3 20.3h0M72.6 27.3h0M73.0 23.8h0M79.9 27.6h0M84.0 15.6h0M77.8 24.2h0M70.8 26.4h0M72.9 25.6h0M75.6 18.6h0M73.7 27.4h0M72.8 31.8h0M76.2 26.1h0M79.4 24.5h0M74.1 32.7h0M77.2 32.9h0M80.0 27.9h0M76.3 23.5h0M75.3 19.6h0M76.4 19.9h0M70.9 23.9h0M43.8 68.5h0M41.4 69.0h0M41.4 74.4h0M44.6 71.3h0M46.4 72.8h0M41.5 70.3h0M44.3 70.1h0M43.7 69.5h0M43.5 69.2h0M44.5 68.8h0M40.7 71.0h0M21.1 6.7h0M30.3 6.9h0M27.9 5.2h0M25.7 6.8h0M24.7 6.1h0M57.1 4.8h0M56.7 2.8h0M61.9 11.8h0M61.0 10.4h0M59.9 12.4h0M53.8 27.6h0M53.4 25.6h0M111.1 29.1h0M107.7 29.2h0M105.7 29.6h0M111.7 27.6h0M98.6 31.5h0M132.0 23.1h0M131.7 23.2h0M104.0 31.3h0M43.6 63.0h0M43.8 62.1h0M41.9 60.5h0M54.6 49.8h0M48.7 50.3h0M72.7 41.6h0" stroke="#40d8b0" stroke-width="0.85" stroke-linecap="round" fill="none"/>
</g></g>
<g clip-path="url(#cb3)"><g transform="translate(546 35.6)">
<use href="#bblue"/>
<path d="M73.2 25.7h0M73.7 30.1h0M79.2 26.9h0M77.8 25.6h0M79.8 14.6h0M70.6 25.3h0M73.8 21.1h0M78.1 21.0h0M76.4 26.1h0M75.7 21.7h0M74.7 31.1h0M77.8 29.9h0M75.2 17.7h0M73.5 24.8h0M81.0 30.7h0M77.3 21.6h0M76.0 24.3h0M74.5 19.8h0M77.4 25.4h0M78.9 18.8h0M70.8 42.3h0M71.8 26.8h0M77.3 21.0h0M82.8 25.2h0M76.1 33.9h0M72.2 23.3h0M74.0 19.2h0M76.7 27.7h0M76.3 28.5h0M79.1 27.1h0M74.5 31.1h0M72.6 31.9h0M74.7 29.0h0M83.2 15.1h0M74.7 23.6h0M82.7 23.6h0M87.0 18.5h0M77.0 23.7h0M77.6 22.9h0M73.6 17.1h0M76.0 18.6h0M70.0 25.9h0M75.0 30.2h0M69.8 27.4h0M76.9 24.1h0M72.1 25.1h0M79.2 23.8h0M79.1 24.2h0M82.7 25.6h0M74.8 18.1h0M69.5 27.3h0M74.5 26.8h0M72.6 24.8h0M72.9 26.9h0M74.6 34.1h0M72.6 30.6h0M71.1 23.4h0M72.0 31.3h0M77.3 26.1h0M76.5 20.5h0M81.4 31.9h0M75.4 25.6h0M78.2 24.7h0M74.7 23.2h0M74.0 23.3h0M78.6 24.0h0M73.7 22.6h0M69.2 32.7h0M77.6 29.5h0M73.3 32.2h0M76.1 32.2h0M75.4 25.3h0M73.3 25.9h0M76.4 32.4h0M82.0 25.9h0M80.6 13.0h0M73.5 26.6h0M79.2 27.4h0M75.3 23.4h0M72.1 34.2h0M80.2 31.5h0M75.5 23.0h0M77.8 25.4h0M75.0 25.4h0M72.8 21.5h0M74.5 19.1h0M78.0 29.4h0M72.3 17.1h0M77.2 26.6h0M75.6 19.4h0M67.4 33.4h0M74.6 27.8h0M75.2 27.4h0M70.1 23.4h0M69.8 20.5h0M41.3 65.1h0M41.9 68.4h0M40.2 70.1h0M43.0 68.0h0M47.8 72.7h0M45.7 69.5h0M45.1 72.8h0M40.6 68.5h0M50.0 69.3h0M44.2 69.9h0M45.0 67.5h0M40.6 73.9h0M43.5 63.1h0M43.1 70.0h0M44.7 71.5h0M43.8 70.8h0M43.7 67.0h0M41.0 67.9h0M39.8 72.9h0M45.6 72.3h0M41.6 68.9h0M41.9 73.8h0M44.3 75.7h0M40.7 69.8h0M40.0 66.2h0M42.6 69.5h0M41.8 65.9h0M43.5 69.6h0M45.2 72.2h0M39.9 71.7h0M41.6 75.1h0M42.9 69.0h0M42.0 66.0h0M46.1 76.9h0M38.8 69.7h0M42.7 68.7h0M45.9 74.2h0M42.4 76.7h0M43.1 69.8h0M43.7 68.3h0M46.5 72.3h0M42.1 69.9h0M40.8 71.3h0M39.9 70.5h0M41.8 72.2h0M50.4 6.7h0M49.4 5.4h0M49.2 6.0h0M49.9 5.5h0M48.6 6.2h0M50.7 7.7h0M50.2 5.1h0M50.8 5.2h0M57.3 15.1h0M55.2 16.0h0M59.8 15.0h0M57.1 16.1h0M61.8 13.1h0M63.3 7.3h0M61.3 13.7h0M57.2 14.4h0M61.7 12.2h0M59.6 13.9h0M54.2 33.7h0M51.6 34.0h0M49.1 30.9h0M47.8 30.2h0M55.2 36.1h0M53.1 27.8h0M51.2 40.2h0M45.6 45.5h0M51.6 29.6h0M45.3 39.9h0M38.6 30.3h0" stroke="#a89800" stroke-width="1.25" stroke-linecap="round" fill="none"/>
<path d="M73.2 25.7h0M79.2 26.9h0M79.8 14.6h0M73.8 21.1h0M76.4 26.1h0M74.7 31.1h0M75.2 17.7h0M81.0 30.7h0M76.0 24.3h0M77.4 25.4h0M70.8 42.3h0M77.3 21.0h0M76.1 33.9h0M74.0 19.2h0M76.3 28.5h0M74.5 31.1h0M74.7 29.0h0M74.7 23.6h0M87.0 18.5h0M77.6 22.9h0M76.0 18.6h0M75.0 30.2h0M76.9 24.1h0M79.2 23.8h0M82.7 25.6h0M69.5 27.3h0M72.6 24.8h0M74.6 34.1h0M71.1 23.4h0M77.3 26.1h0M81.4 31.9h0M78.2 24.7h0M74.0 23.3h0M73.7 22.6h0M77.6 29.5h0M76.1 32.2h0M73.3 25.9h0M82.0 25.9h0M73.5 26.6h0M75.3 23.4h0M80.2 31.5h0M77.8 25.4h0M72.8 21.5h0M78.0 29.4h0M77.2 26.6h0M67.4 33.4h0M75.2 27.4h0M69.8 20.5h0M41.3 65.1h0M40.2 70.1h0M47.8 72.7h0M45.1 72.8h0M50.0 69.3h0M45.0 67.5h0M43.5 63.1h0M44.7 71.5h0M43.7 67.0h0M39.8 72.9h0M41.6 68.9h0M44.3 75.7h0M40.0 66.2h0M41.8 65.9h0M45.2 72.2h0M41.6 75.1h0M42.0 66.0h0M38.8 69.7h0M45.9 74.2h0M43.1 69.8h0M46.5 72.3h0M40.8 71.3h0M41.8 72.2h0M50.4 6.7h0M49.4 5.4h0M49.2 6.0h0M49.9 5.5h0M48.6 6.2h0M50.7 7.7h0M50.2 5.1h0M50.8 5.2h0" stroke="#e8dc80" stroke-width="0.9" stroke-linecap="round" fill="none"/>
<path d="M73.2 25.7h0M79.8 14.6h0M76.4 26.1h0M75.2 17.7h0M76.0 24.3h0M70.8 42.3h0M76.1 33.9h0M76.3 28.5h0M74.7 29.0h0M87.0 18.5h0M76.0 18.6h0M76.9 24.1h0M82.7 25.6h0M72.6 24.8h0M71.1 23.4h0M81.4 31.9h0M74.0 23.3h0M77.6 29.5h0M73.3 25.9h0M73.5 26.6h0M80.2 31.5h0M72.8 21.5h0M77.2 26.6h0M75.2 27.4h0M41.3 65.1h0M47.8 72.7h0M50.0 69.3h0M43.5 63.1h0M43.7 67.0h0M41.6 68.9h0M40.0 66.2h0M45.2 72.2h0M42.0 66.0h0M45.9 74.2h0M46.5 72.3h0M41.8 72.2h0M50.4 6.7h0M49.9 5.5h0M50.2 5.1h0" stroke="#ffffff" stroke-width="0.8" stroke-linecap="round" fill="none"/>
<path d="M74.5 30.6h0M78.6 26.1h0M71.4 25.8h0M78.9 21.5h0M76.5 22.2h0M78.6 30.4h0M74.3 25.3h0M78.1 22.1h0M75.3 20.3h0M79.7 19.3h0M72.6 27.3h0M83.6 25.7h0M73.0 23.8h0M77.5 28.2h0M79.9 27.6h0M73.4 32.4h0M84.0 15.6h0M83.5 24.1h0M77.8 24.2h0M74.4 17.6h0M70.8 26.4h0M70.6 27.9h0M72.9 25.6h0M79.9 24.7h0M75.6 18.6h0M75.3 27.3h0M73.7 27.4h0M73.4 31.1h0M72.8 31.8h0M77.3 21.0h0M76.2 26.1h0M75.5 23.7h0M79.4 24.5h0M70.0 33.2h0M74.1 32.7h0M76.2 25.8h0M77.2 32.9h0M81.4 13.5h0M80.0 27.9h0M72.9 34.7h0M76.3 23.5h0M75.8 25.9h0M75.3 19.6h0M73.1 17.6h0M76.4 19.9h0M75.4 28.3h0M70.9 23.9h0M42.7 68.9h0M43.8 68.5h0M46.5 70.0h0M41.4 69.0h0M45.0 70.4h0M41.4 74.4h0M43.9 70.5h0M44.6 71.3h0M41.8 68.4h0M46.4 72.8h0M42.7 74.3h0M41.5 70.3h0M43.4 70.0h0M44.3 70.1h0M40.7 72.2h0M43.7 69.5h0M46.9 77.4h0M43.5 69.2h0M43.2 77.2h0M44.5 68.8h0M42.9 70.4h0M40.7 71.0h0M23.7 5.8h0M21.1 6.7h0M22.6 7.0h0M30.3 6.9h0M31.5 10.1h0M27.9 5.2h0M22.8 4.7h0M25.7 6.8h0M25.8 7.8h0M24.7 6.1h0M54.5 4.3h0M57.1 4.8h0M55.9 6.3h0M56.7 2.8h0M61.8 9.3h0M61.9 11.8h0M63.0 14.3h0M61.0 10.4h0M63.1 12.9h0M59.9 12.4h0M54.5 26.9h0M53.8 27.6h0M54.3 27.3h0M53.4 25.6h0M128.3 25.9h0M111.1 29.1h0M110.6 28.4h0M107.7 29.2h0M112.7 28.5h0M105.7 29.6h0M103.7 30.1h0M111.7 27.6h0M121.7 28.0h0M98.6 31.5h0M116.8 29.0h0M132.0 23.1h0M116.9 28.5h0M131.7 23.2h0M126.5 26.2h0M104.0 31.3h0M97.1 30.4h0M43.6 63.0h0M43.5 60.8h0M43.8 62.1h0M45.0 64.9h0M41.9 60.5h0M44.9 57.6h0M54.6 49.8h0M50.8 51.5h0M48.7 50.3h0M70.0 40.0h0M72.7 41.6h0M72.8 44.2h0" stroke="#10a840" stroke-width="1.25" stroke-linecap="round" fill="none"/>
<path d="M74.5 30.6h0M71.4 25.8h0M76.5 22.2h0M74.3 25.3h0M75.3 20.3h0M72.6 27.3h0M73.0 23.8h0M79.9 27.6h0M84.0 15.6h0M77.8 24.2h0M70.8 26.4h0M72.9 25.6h0M75.6 18.6h0M73.7 27.4h0M72.8 31.8h0M76.2 26.1h0M79.4 24.5h0M74.1 32.7h0M77.2 32.9h0M80.0 27.9h0M76.3 23.5h0M75.3 19.6h0M76.4 19.9h0M70.9 23.9h0M43.8 68.5h0M41.4 69.0h0M41.4 74.4h0M44.6 71.3h0M46.4 72.8h0M41.5 70.3h0M44.3 70.1h0M43.7 69.5h0M43.5 69.2h0M44.5 68.8h0M40.7 71.0h0M21.1 6.7h0M30.3 6.9h0M27.9 5.2h0M25.7 6.8h0M24.7 6.1h0M57.1 4.8h0M56.7 2.8h0M61.9 11.8h0M61.0 10.4h0M59.9 12.4h0M53.8 27.6h0M53.4 25.6h0M111.1 29.1h0M107.7 29.2h0M105.7 29.6h0M111.7 27.6h0M98.6 31.5h0M132.0 23.1h0M131.7 23.2h0M104.0 31.3h0M43.6 63.0h0M43.8 62.1h0M41.9 60.5h0M54.6 49.8h0M48.7 50.3h0M72.7 41.6h0" stroke="#40d8b0" stroke-width="0.85" stroke-linecap="round" fill="none"/>
<path d="M73.2 25.7h0M77.8 25.6h0M73.8 21.1h0M75.7 21.7h0M75.2 17.7h0M77.3 21.6h0M77.4 25.4h0M71.8 26.8h0M76.1 33.9h0M76.7 27.7h0M74.5 31.1h0M83.2 15.1h0M87.0 18.5h0M73.6 17.1h0M75.0 30.2h0M72.1 25.1h0M82.7 25.6h0M74.5 26.8h0M74.6 34.1h0M72.0 31.3h0M81.4 31.9h0M74.7 23.2h0M73.7 22.6h0M73.3 32.2h0M73.3 25.9h0M80.6 13.0h0M75.3 23.4h0M75.5 23.0h0M72.8 21.5h0M72.3 17.1h0M67.4 33.4h0M70.1 23.4h0M41.3 65.1h0M43.0 68.0h0M45.1 72.8h0M44.2 69.9h0M43.5 63.1h0M43.8 70.8h0M39.8 72.9h0M41.9 73.8h0M40.0 66.2h0M43.5 69.6h0M41.6 75.1h0M46.1 76.9h0M45.9 74.2h0M43.7 68.3h0M40.8 71.3h0" stroke="#e0e868" stroke-width="0.9" stroke-linecap="round" fill="none"/>
</g></g>
<rect x="402.9" y="35.6" width="1.5" height="81.6" fill="#fff"/>
<rect x="544.3" y="35.6" width="1.6" height="81.6" fill="#fff"/>
<text x="394.3" y="114.0" font-size="6.4" text-anchor="middle" fill="#fff" stroke="#fff">20μm</text>
<line x1="386.4" y1="115.5" x2="402.2" y2="115.5" stroke="#fff" stroke-width="0.9"/>
<text x="535.3" y="114.0" font-size="6.4" text-anchor="middle" fill="#fff" stroke="#fff">20μm</text>
<line x1="527.4" y1="115.5" x2="543.2" y2="115.5" stroke="#fff" stroke-width="0.9"/>
<text x="676.8" y="114.0" font-size="6.4" text-anchor="middle" fill="#fff" stroke="#fff">20μm</text>
<line x1="668.9" y1="115.5" x2="684.7" y2="115.5" stroke="#fff" stroke-width="0.9"/>
<text x="14.5" y="160.3" font-size="7.6" fill="#000" font-weight="bold">C</text>
<text x="114.0" y="170.6" font-size="6.2" text-anchor="middle" class="s">CHRNE</text>
<line x1="50.4" y1="178.0" x2="50.4" y2="305.7" stroke="#1a1a1a" stroke-width="0.75"/>
<line x1="50.0" y1="305.3" x2="188.5" y2="305.3" stroke="#1a1a1a" stroke-width="0.75"/>
<text x="46.5" y="201.9" font-size="6.3" text-anchor="end" class="s">5</text>
<line x1="48.2" y1="199.6" x2="50.4" y2="199.6" stroke="#1a1a1a" stroke-width="0.95"/>
<text x="46.5" y="228.3" font-size="6.3" text-anchor="end" class="s">0</text>
<line x1="48.2" y1="226.0" x2="50.4" y2="226.0" stroke="#1a1a1a" stroke-width="0.95"/>
<text x="46.5" y="254.5" font-size="6.3" text-anchor="end" class="s">−5</text>
<line x1="48.2" y1="252.2" x2="50.4" y2="252.2" stroke="#1a1a1a" stroke-width="0.95"/>
<text x="46.5" y="280.7" font-size="6.3" text-anchor="end" class="s">−10</text>
<line x1="48.2" y1="278.4" x2="50.4" y2="278.4" stroke="#1a1a1a" stroke-width="0.95"/>
<text x="46.5" y="307.1" font-size="6.3" text-anchor="end" class="s">−15</text>
<line x1="48.2" y1="304.8" x2="50.4" y2="304.8" stroke="#1a1a1a" stroke-width="0.95"/>
<text x="68.0" y="315.1" font-size="6.3" text-anchor="middle" class="s">−10</text>
<line x1="68.0" y1="305.3" x2="68.0" y2="307.8" stroke="#1a1a1a" stroke-width="0.95"/>
<text x="98.0" y="315.1" font-size="6.3" text-anchor="middle" class="s">−5</text>
<line x1="98.0" y1="305.3" x2="98.0" y2="307.8" stroke="#1a1a1a" stroke-width="0.95"/>
<text x="128.0" y="315.1" font-size="6.3" text-anchor="middle" class="s">0</text>
<line x1="128.0" y1="305.3" x2="128.0" y2="307.8" stroke="#1a1a1a" stroke-width="0.95"/>
<text x="158.0" y="315.1" font-size="6.3" text-anchor="middle" class="s">5</text>
<line x1="158.0" y1="305.3" x2="158.0" y2="307.8" stroke="#1a1a1a" stroke-width="0.95"/>
<text x="188.0" y="315.1" font-size="6.3" text-anchor="middle" class="s">10</text>
<line x1="188.0" y1="305.3" x2="188.0" y2="307.8" stroke="#1a1a1a" stroke-width="0.95"/>
<text x="114.0" y="323.6" font-size="6.15" text-anchor="middle" class="s">UMAP_1</text>
<text x="31.0" y="242.2" font-size="6.2" text-anchor="middle" transform="rotate(-90 31.0 240.0)" class="s">UMAP_2</text>
<path d="M56.5 227.7h0M59.9 226.4h0M56.4 227.0h0M59.1 228.8h0M59.5 227.9h0M58.2 226.7h0M57.2 225.4h0M58.6 227.4h0M57.9 227.0h0M58.8 228.2h0M60.1 227.5h0M56.2 226.9h0M56.2 227.1h0M57.2 227.5h0M59.7 225.1h0M58.0 228.1h0M58.3 227.7h0M58.6 225.6h0M59.3 225.9h0M59.5 227.1h0M59.9 226.2h0M59.9 227.0h0M60.3 228.1h0M58.6 226.0h0M59.6 227.8h0M60.9 226.6h0M59.3 227.9h0M58.8 227.5h0M58.7 226.2h0M56.9 226.5h0M59.3 229.4h0M59.9 228.7h0M59.6 228.2h0M58.7 228.3h0M58.8 228.6h0M59.7 225.4h0M58.7 228.3h0M58.6 225.8h0M58.2 227.7h0M60.1 228.2h0M58.5 229.2h0M57.2 228.3h0M60.1 226.7h0M58.8 227.9h0M58.4 228.1h0M59.9 225.8h0M57.8 227.5h0M58.6 229.5h0M57.4 226.4h0M59.5 229.3h0M59.4 227.6h0M57.5 226.3h0M59.3 226.6h0M59.6 227.3h0M57.9 227.3h0M59.1 230.0h0M58.6 230.2h0M61.1 230.5h0M59.2 229.0h0M61.5 230.9h0M61.3 231.6h0M61.9 232.0h0M60.5 231.4h0M59.6 230.4h0M61.0 231.8h0M60.3 230.0h0M61.8 231.6h0M62.7 232.7h0M59.5 229.9h0M59.5 230.3h0M61.2 232.1h0M60.9 230.4h0M62.0 229.2h0M60.7 229.6h0M61.4 231.3h0M61.4 230.9h0M61.3 232.5h0M60.5 228.6h0M59.8 229.6h0M59.7 229.9h0M61.0 231.6h0M61.1 230.1h0M64.4 234.2h0M63.7 234.6h0M64.4 234.6h0M67.4 244.9h0M65.4 261.7h0M69.0 241.3h0M72.1 253.2h0M63.7 257.4h0M71.7 244.7h0M73.5 251.1h0M64.8 263.7h0M65.2 266.3h0M71.2 246.5h0M73.4 261.1h0M68.0 271.8h0M66.4 238.0h0M64.0 270.8h0M67.5 251.8h0M64.3 249.7h0M69.9 267.3h0M72.7 247.5h0M65.6 238.7h0M70.2 266.1h0M67.8 269.5h0M75.5 246.9h0M62.4 261.3h0M72.3 261.1h0M68.2 254.2h0M77.2 250.5h0M66.1 245.5h0M61.8 260.6h0M73.8 250.7h0M68.0 240.8h0M60.4 253.8h0M67.6 252.0h0M68.2 247.1h0M65.7 261.5h0M75.4 252.5h0M61.2 255.3h0M70.1 264.6h0M63.2 262.2h0M71.4 263.0h0M67.3 245.6h0M64.8 265.3h0M72.7 256.0h0M64.3 270.8h0M65.9 266.8h0M68.3 250.1h0M66.0 235.8h0M68.7 260.5h0M70.6 265.8h0M66.9 246.5h0M62.5 261.4h0M72.3 247.1h0M72.4 259.7h0M62.7 249.4h0M74.6 257.5h0M66.1 267.0h0M67.9 246.0h0M61.8 250.9h0M66.9 247.2h0M77.8 253.6h0M65.3 263.1h0M66.8 254.1h0M69.6 246.0h0M71.8 251.5h0M76.1 256.2h0M62.5 258.5h0M72.0 252.2h0M66.9 243.2h0M75.0 254.0h0M73.8 254.8h0M68.8 258.2h0M70.8 251.9h0M73.4 261.3h0M66.8 240.3h0M68.0 257.9h0M65.9 255.8h0M63.6 260.9h0M72.4 261.0h0M73.8 261.3h0M65.2 266.0h0M69.4 265.1h0M68.1 244.4h0M69.1 260.3h0M67.5 249.6h0M71.3 251.7h0M66.9 261.9h0M64.4 261.2h0M65.0 261.1h0M72.9 247.5h0M66.2 244.5h0M70.7 244.6h0M68.5 262.2h0M73.4 259.6h0M65.2 264.9h0M67.5 248.0h0M69.2 244.1h0M64.7 266.5h0M73.1 251.3h0M69.9 269.6h0M72.7 260.3h0M65.8 265.4h0M68.3 250.0h0M67.1 270.6h0M75.3 252.7h0M66.6 242.3h0M65.8 266.2h0M66.4 254.1h0M70.5 239.9h0M68.4 268.3h0M64.3 263.4h0M72.1 256.5h0M72.4 246.0h0M65.5 266.6h0M65.9 241.0h0M67.2 247.4h0M69.2 260.6h0M65.2 245.2h0M68.1 251.0h0M76.7 250.0h0M66.6 263.5h0M72.4 247.2h0M70.0 259.4h0M72.9 255.0h0M71.2 257.3h0M61.8 250.7h0M65.2 261.4h0M67.8 250.8h0M75.4 247.8h0M63.2 258.9h0M70.7 246.3h0M65.9 241.1h0M66.6 238.8h0M71.5 266.3h0M72.2 258.4h0M66.1 244.9h0M66.3 272.0h0M68.5 252.0h0M74.8 253.1h0M72.0 256.9h0M69.7 243.6h0M66.1 260.2h0M65.7 261.3h0M60.6 251.3h0M66.3 262.2h0M64.9 247.0h0M64.1 244.5h0M66.3 242.4h0M72.2 251.8h0M61.6 260.9h0M67.5 254.3h0M66.9 256.9h0M66.6 262.1h0M77.1 248.9h0M74.5 252.5h0M78.0 251.8h0M66.3 242.0h0M64.6 243.6h0M65.0 265.5h0M67.7 269.4h0M73.1 248.0h0M70.3 259.6h0M66.4 238.5h0M70.5 270.1h0M68.0 248.5h0M69.5 269.3h0M74.1 247.5h0M64.5 256.4h0M69.2 264.4h0M65.5 266.7h0M74.4 254.2h0M60.8 259.4h0M67.3 250.4h0M70.4 262.3h0M74.0 247.2h0M65.0 245.2h0M66.0 240.6h0M61.8 258.2h0M62.9 259.8h0M68.7 243.9h0M70.8 259.9h0M73.1 256.3h0M64.5 266.2h0M64.6 244.5h0M65.1 260.9h0M66.3 242.5h0M64.6 264.2h0M67.2 256.8h0M67.9 249.3h0M70.9 267.1h0M73.8 247.3h0M74.9 256.2h0M70.4 265.0h0M66.6 250.1h0M70.7 267.0h0M71.1 252.1h0M63.6 244.7h0M71.4 244.2h0M63.4 259.4h0M71.1 254.1h0M68.8 260.4h0M67.5 254.3h0M74.2 251.6h0M69.7 264.9h0M71.8 250.1h0M63.8 257.8h0M70.8 248.3h0M64.9 243.9h0M74.5 253.7h0M72.2 262.0h0M70.7 259.0h0M61.0 250.6h0M67.2 245.8h0M65.5 241.5h0M69.5 245.9h0M65.4 242.4h0M60.9 254.7h0M64.9 243.8h0M64.5 246.9h0M68.0 258.2h0M78.5 250.4h0M69.7 264.9h0M70.1 258.2h0M62.6 266.3h0M65.6 244.6h0M73.7 259.6h0M72.2 261.2h0M65.6 266.2h0M69.4 262.8h0M75.1 256.3h0M68.1 255.3h0M71.8 244.5h0M66.9 256.2h0M67.9 252.2h0M61.2 251.4h0M73.7 260.9h0M66.3 241.2h0M63.6 253.9h0M65.2 272.0h0M70.3 260.4h0M68.7 243.5h0M74.4 264.1h0M72.0 257.2h0M65.7 261.2h0M66.4 242.3h0M65.7 242.2h0M62.2 255.1h0M66.1 262.1h0M68.5 260.9h0M63.7 244.2h0M72.9 264.9h0M62.3 262.9h0M72.3 263.7h0M72.2 252.8h0M72.3 262.7h0M68.1 241.3h0M67.7 252.0h0M68.6 243.0h0M71.0 265.8h0M63.4 270.5h0M67.2 238.9h0M73.6 258.6h0M69.2 256.0h0M69.6 259.7h0M66.3 241.8h0M68.8 270.5h0M68.1 251.5h0M66.9 242.6h0M63.2 259.1h0M71.4 266.6h0M68.8 257.3h0M70.7 265.5h0M72.5 256.6h0M71.9 251.3h0M64.1 266.2h0M72.2 261.1h0M66.4 257.2h0M66.8 251.7h0M65.2 261.7h0M69.6 263.9h0M68.1 253.6h0M64.1 270.1h0M71.0 247.6h0M64.7 259.3h0M71.4 250.8h0M71.6 244.4h0M71.6 255.3h0M75.0 250.3h0M73.6 247.7h0M69.5 257.9h0M70.7 243.9h0M63.8 260.9h0M74.4 263.8h0M73.9 251.4h0M71.9 246.2h0M72.7 251.4h0M68.7 249.7h0M68.0 247.1h0M67.0 260.0h0M69.8 241.2h0M66.9 245.3h0M65.2 264.1h0M65.5 266.6h0M65.8 246.0h0M68.1 254.2h0M68.1 242.6h0M68.4 270.3h0M68.0 238.2h0M74.8 256.2h0M69.0 262.5h0M64.2 270.6h0M66.2 243.3h0M66.3 245.0h0M62.4 259.6h0M72.0 252.8h0M65.7 261.0h0M65.5 241.0h0M66.3 250.8h0M67.5 242.8h0M65.5 262.7h0M71.8 253.6h0M69.6 240.1h0M64.3 244.8h0M69.2 257.7h0M68.1 248.1h0M69.9 244.1h0M75.0 261.1h0M71.0 256.1h0M66.1 265.0h0M63.6 260.4h0M67.0 263.5h0M72.8 252.8h0M70.6 266.0h0M69.7 268.6h0M72.3 257.7h0M73.2 247.4h0M70.5 266.4h0M65.0 246.0h0M69.6 244.0h0M73.6 253.2h0M66.9 257.8h0M73.1 260.5h0M66.5 271.1h0M69.2 269.1h0M71.3 247.1h0M71.8 247.1h0M71.6 257.3h0M64.2 262.7h0M66.3 251.8h0M73.3 246.5h0M75.3 258.3h0M68.7 257.1h0M68.2 265.9h0M62.8 260.1h0M69.0 241.3h0M66.6 245.2h0M64.7 247.7h0M62.7 258.9h0M67.6 253.7h0M70.2 265.1h0M67.1 257.8h0M67.4 244.4h0M72.2 247.7h0M65.2 240.8h0M65.2 260.9h0M71.5 258.5h0M72.0 256.7h0M69.3 246.0h0M65.1 246.6h0M73.7 260.0h0M60.7 253.7h0M72.0 251.1h0M70.9 257.7h0M65.7 265.7h0M62.9 259.5h0M68.4 243.9h0M71.9 255.8h0M62.2 251.1h0M61.9 251.1h0M64.9 243.8h0M72.3 258.6h0M74.4 257.7h0M67.2 242.5h0M69.8 259.5h0M67.9 265.1h0M70.1 259.3h0M69.2 242.6h0M63.4 270.5h0M64.0 263.3h0M76.1 251.7h0M63.3 248.6h0M68.9 270.6h0M67.8 264.7h0M75.2 257.3h0M67.4 244.1h0M64.9 262.5h0M70.0 265.0h0M71.5 246.9h0M71.8 244.6h0M64.7 257.2h0M64.3 255.4h0M68.3 245.8h0M68.9 252.2h0M73.9 259.2h0M73.1 258.7h0M69.1 262.2h0M65.0 246.5h0M62.5 250.0h0M72.1 255.3h0M74.9 259.6h0M74.9 255.9h0M75.0 260.2h0M66.0 264.9h0M71.2 245.8h0M69.7 243.7h0M66.9 273.7h0M65.8 258.3h0M61.9 251.4h0M66.6 244.1h0M63.6 246.7h0M71.1 246.6h0M68.9 242.0h0M65.2 253.1h0M68.1 265.8h0M67.9 247.5h0M66.4 266.0h0M67.2 246.3h0M73.7 261.0h0M77.9 253.7h0M70.3 257.6h0M64.9 256.6h0M65.1 252.2h0M62.6 259.5h0M69.0 260.3h0M69.5 242.2h0M72.1 260.7h0M68.3 248.1h0M72.7 246.9h0M70.8 245.5h0M60.1 254.0h0M66.4 241.4h0M66.4 243.0h0M70.5 240.1h0M67.5 257.9h0M69.3 269.5h0M65.9 266.9h0M64.5 270.8h0M67.3 242.4h0M63.9 247.1h0M66.4 266.8h0M69.7 269.3h0M74.4 259.2h0M66.0 238.6h0M74.3 259.3h0M68.9 242.3h0M73.7 261.8h0M62.7 249.0h0M70.8 251.7h0M62.3 249.6h0M69.6 245.7h0M74.8 256.7h0M69.6 242.2h0M69.8 257.2h0M77.3 252.4h0M64.9 261.3h0M65.4 255.4h0M72.7 260.8h0M76.1 252.0h0M69.4 259.9h0M65.8 257.4h0M75.3 260.8h0M64.6 260.4h0M65.5 270.7h0M74.4 257.5h0M66.5 266.4h0M71.4 252.4h0M62.0 260.6h0M67.7 254.6h0M68.3 248.2h0M67.4 265.6h0M73.2 260.2h0M64.8 256.1h0M66.8 264.5h0M67.3 251.1h0M69.3 248.9h0M68.7 257.4h0M72.9 251.3h0M69.9 241.9h0M72.3 258.2h0M66.5 242.7h0M72.0 250.5h0M61.9 257.2h0M71.4 247.1h0M64.4 267.7h0M63.4 259.4h0M63.0 262.3h0M70.7 240.6h0M67.0 241.5h0M70.8 265.6h0M68.8 246.0h0M69.3 250.7h0M64.4 261.4h0M72.7 256.8h0M75.8 257.8h0M72.3 265.0h0M67.2 272.2h0M70.3 258.2h0M66.5 266.2h0M65.2 248.6h0M70.9 242.5h0M64.9 263.5h0M75.6 251.5h0M66.1 263.5h0M73.6 260.7h0M72.3 259.1h0M70.6 266.3h0M68.8 239.5h0M63.9 267.4h0M72.9 246.7h0M71.3 258.9h0M66.7 270.0h0M63.5 267.7h0M72.8 262.3h0M67.4 264.7h0M69.7 266.9h0M69.0 252.2h0M60.0 251.1h0M72.0 245.3h0M74.4 259.5h0M69.0 257.6h0M64.7 238.8h0M62.9 246.7h0M66.3 265.1h0M69.4 244.0h0M65.4 264.4h0M70.9 254.5h0M70.8 265.7h0M68.6 241.2h0M69.6 257.6h0M67.9 265.0h0M73.3 247.9h0M69.5 240.6h0M67.8 241.9h0M65.1 244.4h0M67.5 243.5h0M73.3 247.1h0M70.5 264.5h0M72.6 264.5h0M62.0 260.2h0M68.1 270.7h0M65.3 250.8h0M65.9 248.0h0M70.5 242.4h0M72.7 256.3h0M66.9 258.3h0M65.6 271.7h0M70.0 257.6h0M66.9 259.8h0M73.2 264.3h0M74.2 246.7h0M63.5 263.5h0M70.7 266.4h0M66.6 250.7h0M70.7 265.0h0M67.5 245.2h0M70.7 241.8h0M65.2 262.7h0M73.1 255.4h0M67.4 240.9h0M71.6 246.5h0M65.6 243.5h0M68.9 259.7h0M69.7 263.6h0M62.4 258.7h0M66.9 243.0h0M69.4 259.5h0M68.4 242.4h0M73.3 255.7h0M69.4 244.1h0M64.9 252.4h0M68.2 248.2h0M67.3 241.6h0M72.7 264.7h0M75.7 259.4h0M75.5 260.7h0M68.8 252.2h0M70.0 268.4h0M61.6 253.0h0M61.5 251.3h0M69.3 244.8h0M74.8 252.2h0M65.7 238.8h0M69.8 265.3h0M66.3 253.8h0M66.1 265.2h0M73.8 256.5h0M63.5 246.5h0M69.8 240.9h0M64.7 264.5h0M75.6 261.6h0M74.5 253.3h0M67.8 253.8h0M65.6 246.3h0M69.1 241.5h0M73.0 255.2h0M71.7 263.5h0M71.7 246.7h0M67.5 263.9h0M73.7 256.0h0M69.3 260.3h0M70.2 269.6h0M66.9 242.9h0M71.2 262.1h0M68.7 258.1h0M68.9 243.9h0M67.5 254.1h0M63.9 256.8h0M65.3 257.3h0M62.7 251.2h0M67.1 251.7h0M67.9 240.5h0M67.5 251.1h0M65.0 262.0h0M63.4 261.9h0M64.1 270.8h0M64.4 261.0h0M68.4 256.7h0M61.7 252.1h0M69.9 257.2h0M64.5 263.0h0M66.5 253.3h0M70.2 240.3h0M68.0 241.9h0M67.5 252.3h0M70.6 240.5h0M63.8 253.8h0M70.9 256.2h0M65.3 239.2h0M68.4 263.9h0M73.7 246.5h0M64.0 261.1h0M65.5 238.4h0M66.5 252.4h0M65.6 237.6h0M72.8 260.9h0M65.7 261.3h0M74.6 259.7h0M65.4 256.2h0M66.5 242.7h0M72.3 262.5h0M64.7 263.1h0M69.1 258.2h0M70.1 263.6h0M71.6 244.6h0M68.9 244.0h0M69.5 242.3h0M67.6 251.7h0M65.5 251.5h0M73.8 252.6h0M69.5 249.9h0M67.8 249.8h0M71.6 244.2h0M70.1 242.9h0M67.3 255.5h0M66.5 266.3h0M72.7 261.0h0M65.1 262.1h0M61.0 253.7h0M69.2 258.5h0M69.8 254.7h0M66.9 262.0h0M65.0 246.4h0M69.4 264.0h0M76.0 252.6h0M69.1 260.3h0M63.5 260.9h0M65.6 240.7h0M70.6 266.0h0M67.7 248.8h0M64.6 246.7h0M69.4 265.1h0M65.1 261.5h0M60.4 251.9h0M65.4 239.9h0M74.7 259.6h0M70.3 256.7h0M66.5 254.5h0M66.3 242.5h0M66.3 244.3h0M71.9 251.6h0M68.9 266.7h0M66.7 266.4h0M64.1 271.1h0M72.7 262.8h0M70.9 259.6h0M68.8 239.5h0M72.6 245.5h0M71.9 259.1h0M66.4 243.9h0M72.2 253.3h0M71.8 246.8h0M65.7 240.0h0M67.4 246.2h0M67.7 272.1h0M68.9 260.1h0M63.7 262.3h0M62.8 248.2h0M69.8 241.8h0M64.5 246.1h0M69.5 257.6h0M67.6 250.4h0M64.8 247.6h0M74.4 253.3h0M71.8 255.4h0M64.7 245.5h0M75.3 257.1h0M66.3 251.9h0M66.9 271.8h0M70.1 269.2h0M63.2 259.2h0M68.5 243.8h0M67.9 253.7h0M73.9 259.1h0M64.7 265.1h0M70.6 244.6h0M75.3 256.3h0M61.4 251.4h0M73.8 251.4h0M65.9 265.7h0M73.9 253.0h0M61.6 249.2h0M67.8 255.5h0M69.6 244.4h0M73.4 247.7h0M71.1 262.6h0M64.6 261.0h0M61.2 254.5h0M64.9 265.2h0M70.9 256.6h0M71.4 260.6h0M69.2 243.0h0M76.9 256.8h0M65.2 263.0h0M60.1 252.2h0M65.3 261.0h0M75.3 253.3h0M66.8 273.6h0M66.2 265.7h0M67.9 252.2h0M71.6 244.7h0M64.2 260.2h0M70.6 246.1h0M69.0 242.3h0M65.7 261.2h0M67.7 237.5h0M67.4 266.4h0M72.9 257.8h0M74.0 251.9h0M71.5 244.4h0M66.0 246.0h0M72.4 253.4h0M70.3 242.2h0M65.3 253.5h0M66.1 238.8h0M65.5 243.8h0M78.1 252.6h0M62.3 258.0h0M73.3 247.8h0M73.5 254.1h0M72.4 264.7h0M70.1 268.8h0M66.8 271.5h0M64.0 263.4h0M77.6 249.2h0M76.6 250.5h0M71.3 246.9h0M69.2 251.2h0M66.6 243.9h0M68.6 266.6h0M68.1 247.8h0M69.6 241.0h0M64.9 254.0h0M65.2 263.0h0M70.2 269.3h0M63.4 255.3h0M73.2 260.6h0M66.3 238.3h0M67.1 247.4h0M62.9 260.2h0M65.9 242.3h0M68.4 250.8h0M67.3 260.3h0M62.9 260.7h0M75.5 248.3h0M66.2 255.2h0M63.5 259.6h0M72.1 262.9h0M72.1 259.7h0M71.4 247.3h0M63.5 256.9h0M75.8 252.3h0M72.5 255.5h0M72.3 246.8h0M68.4 267.1h0M62.0 251.4h0M67.5 253.8h0M68.4 252.1h0M65.2 243.8h0M65.8 240.6h0M73.9 254.0h0M74.2 253.6h0M64.1 260.7h0M65.6 263.5h0M64.4 260.9h0M66.2 261.4h0M69.2 262.9h0M67.1 261.8h0M72.7 251.8h0M67.9 264.5h0M68.0 244.0h0M69.5 250.1h0M73.5 245.3h0M71.6 246.6h0M71.7 244.5h0M69.8 262.4h0M71.7 258.7h0M65.8 261.7h0M67.3 238.3h0M62.6 248.4h0M66.6 257.2h0M63.0 254.7h0M66.5 243.4h0M64.9 245.9h0M79.0 253.1h0M72.3 247.4h0M65.9 238.6h0M64.1 261.1h0M66.4 267.6h0M65.9 263.9h0M66.2 261.6h0M67.4 236.8h0M66.3 261.3h0M64.2 245.0h0M61.7 258.7h0M65.7 238.5h0M67.8 264.8h0M70.2 265.0h0M74.4 259.1h0M61.7 252.0h0M65.3 262.8h0M72.3 258.0h0M63.8 261.4h0M68.6 256.6h0M66.6 242.0h0M65.9 257.6h0M70.5 265.3h0M67.5 247.8h0M67.1 252.4h0M67.1 242.6h0M69.3 250.3h0M62.7 250.8h0M70.6 251.9h0M66.1 243.7h0M65.1 259.6h0M72.7 259.7h0M66.5 262.0h0M63.7 257.8h0M70.4 257.0h0M65.6 254.6h0M67.9 271.9h0M73.1 247.0h0M62.0 258.6h0M64.8 267.8h0M70.4 252.2h0M73.2 254.0h0M65.1 246.9h0M65.4 265.0h0M66.3 266.3h0M69.0 268.8h0M69.0 257.8h0M66.4 245.0h0M69.3 257.8h0M65.8 256.1h0M64.1 255.9h0M65.5 236.7h0M73.2 253.7h0M66.3 251.1h0M68.5 267.4h0M65.7 264.2h0M66.3 254.8h0M66.8 248.8h0M69.1 243.5h0M73.2 263.5h0M73.6 247.7h0M69.3 257.3h0M73.0 245.8h0M66.6 241.4h0M65.2 252.1h0M70.6 242.9h0M65.9 240.6h0M73.8 253.9h0M67.7 272.1h0M69.1 244.1h0M69.9 269.7h0M69.6 258.1h0M69.7 247.8h0M69.0 269.9h0M77.9 252.9h0M69.0 254.1h0M63.0 257.4h0M65.9 237.0h0M69.4 245.3h0M68.3 269.8h0M66.2 237.7h0M71.5 243.5h0M76.0 258.0h0M62.8 258.5h0M70.4 240.8h0M75.4 252.4h0M73.5 254.7h0M72.6 257.5h0M74.0 255.4h0M66.2 258.4h0M65.8 266.5h0M68.6 243.8h0M72.7 259.9h0M66.4 241.6h0M68.6 257.4h0M64.6 244.6h0M71.4 266.1h0M65.1 264.5h0M69.5 262.9h0M67.7 271.5h0M64.4 266.6h0M61.5 257.9h0M63.6 257.3h0M72.8 257.4h0M63.8 248.6h0M61.6 252.6h0M69.9 240.3h0M65.0 251.1h0M75.7 258.5h0M73.1 246.2h0M66.3 254.5h0M69.8 242.6h0M72.7 252.7h0M63.9 261.6h0M67.5 252.1h0M71.4 252.0h0M69.8 264.2h0M68.3 243.2h0M65.4 255.7h0M72.5 255.0h0M66.0 244.7h0M68.5 243.6h0M67.5 264.7h0M65.7 253.3h0M74.7 257.3h0M62.7 250.2h0M61.9 251.4h0M65.5 245.8h0M65.6 249.3h0M70.2 267.2h0M66.5 266.6h0M64.0 245.2h0M64.2 263.7h0M65.4 256.0h0M78.1 251.4h0M72.4 262.8h0M70.2 269.7h0M66.9 251.1h0M64.1 262.7h0M63.6 245.7h0M72.5 257.9h0M67.0 271.7h0M69.6 258.4h0M65.7 245.3h0M67.7 251.2h0M66.5 242.0h0M74.1 245.8h0M64.8 262.6h0M73.3 246.5h0M72.7 251.0h0M77.4 256.6h0M68.9 263.4h0M63.3 260.1h0M64.0 260.8h0M67.3 240.6h0M69.6 264.5h0M67.1 273.3h0M69.9 244.2h0M61.8 251.4h0M67.3 247.4h0M68.2 242.6h0M66.1 244.6h0M64.8 262.0h0M63.8 257.2h0M66.6 266.8h0M69.8 256.1h0M72.9 257.2h0M71.8 251.6h0M65.9 266.3h0M64.1 254.2h0M70.8 254.5h0M70.5 259.5h0M66.2 252.5h0M78.0 253.6h0M74.4 251.5h0M64.6 263.0h0M70.2 241.4h0M74.1 259.3h0M71.0 244.4h0M62.8 261.3h0M63.7 261.5h0M68.2 247.1h0M63.4 267.3h0M71.4 260.0h0M63.8 255.4h0M66.8 250.8h0M78.1 251.2h0M70.0 269.4h0M70.8 266.9h0M69.2 263.0h0M63.8 269.2h0M72.0 254.8h0M77.1 257.2h0M66.1 253.3h0M61.7 251.4h0M65.3 245.9h0M64.2 264.7h0M72.2 247.2h0M65.5 256.0h0M64.9 265.9h0M70.6 240.7h0M75.9 257.6h0M72.2 250.6h0M74.1 256.5h0M64.8 260.7h0M69.5 248.6h0M70.5 266.2h0M64.1 255.1h0M75.6 258.2h0M70.4 254.7h0M67.3 256.3h0M65.2 263.7h0M69.0 268.9h0M75.4 259.3h0M72.6 264.5h0M66.8 271.9h0M77.2 253.0h0M73.7 251.1h0M77.4 250.8h0M65.2 251.7h0M69.5 249.6h0M66.5 250.8h0M70.5 241.9h0M70.2 244.3h0M63.9 267.0h0M69.3 243.9h0M69.0 259.2h0M68.3 255.7h0M70.8 269.6h0M68.9 243.1h0M68.9 257.8h0M73.7 264.0h0M66.4 261.1h0M66.8 237.2h0M62.9 269.6h0M74.8 253.6h0M70.0 260.1h0M65.2 243.5h0M73.0 246.8h0M69.0 257.7h0M76.4 260.1h0M73.1 260.7h0M66.3 242.3h0M61.9 251.1h0M66.3 243.0h0M69.6 258.5h0M74.5 255.6h0M70.1 252.3h0M81.6 248.0h0M81.4 246.6h0M81.1 246.2h0M81.1 247.1h0M80.7 247.8h0M82.4 247.3h0M80.9 246.4h0M80.6 246.7h0M81.1 248.0h0M81.4 248.6h0M81.6 247.5h0M81.5 246.1h0M81.2 246.7h0M87.3 242.7h0M82.2 246.8h0M85.0 244.1h0M82.4 246.4h0M90.8 239.8h0M88.3 241.4h0M90.1 240.3h0M90.8 239.2h0M88.5 241.3h0M91.1 239.2h0M86.6 242.9h0M87.1 242.7h0M83.8 245.1h0M86.1 243.3h0M84.9 244.5h0M88.5 241.1h0M91.2 239.5h0M85.9 243.2h0M92.1 238.5h0M89.4 240.5h0M89.0 240.9h0M83.8 245.7h0M90.2 240.2h0M83.1 245.4h0M83.0 245.8h0M90.1 240.2h0M88.8 240.9h0M86.0 243.4h0M90.0 240.0h0M81.8 246.6h0M86.3 243.7h0M86.8 242.8h0M83.4 245.6h0M85.6 243.4h0M90.8 239.8h0M85.4 243.6h0M82.1 246.4h0M86.0 243.0h0M85.7 243.5h0M82.9 245.7h0M85.6 243.5h0M89.3 240.3h0M88.7 241.1h0M87.4 241.8h0M89.8 240.6h0M84.6 245.1h0M86.2 243.1h0M90.3 239.8h0M85.8 244.0h0M86.4 243.0h0M83.5 245.3h0M85.6 243.2h0M88.6 241.2h0M86.7 242.8h0M86.8 243.1h0M89.0 240.5h0M82.8 245.8h0M85.4 243.7h0M90.3 240.1h0M85.1 243.9h0M87.5 242.3h0M85.4 243.9h0M93.2 237.8h0M92.9 237.4h0M98.4 234.4h0M95.6 237.0h0M96.0 235.8h0M99.0 234.1h0M97.2 236.6h0M97.6 235.0h0M96.4 234.7h0M96.4 235.2h0M97.2 235.5h0M96.8 235.6h0M95.5 237.7h0M93.5 238.2h0M93.7 236.5h0M96.3 235.1h0M97.2 236.5h0M98.5 235.1h0M98.3 235.8h0M96.1 236.6h0M95.3 236.0h0M94.6 235.5h0M96.6 234.7h0M93.6 238.5h0M97.3 236.2h0M93.4 237.3h0M98.9 235.7h0M96.0 236.8h0M94.4 237.2h0M96.3 237.4h0M94.0 237.1h0M98.3 235.8h0M93.1 237.8h0M94.5 236.6h0M95.9 236.6h0M96.5 237.1h0M97.2 235.1h0M94.8 237.2h0M93.1 238.5h0M95.6 236.5h0M97.5 236.8h0M94.2 236.3h0M97.5 235.9h0M95.3 236.3h0M97.6 235.3h0M92.0 238.7h0M97.8 235.6h0M96.0 235.5h0M98.1 236.4h0M94.2 237.1h0M95.4 237.5h0M94.1 236.6h0M96.9 235.2h0M94.0 238.2h0M95.2 237.4h0M94.4 237.1h0M96.5 237.3h0M96.5 236.2h0M93.5 237.8h0M96.0 236.2h0M96.7 236.0h0M95.6 236.4h0M96.3 235.7h0M96.2 236.3h0M94.4 237.7h0M97.1 235.4h0M97.2 235.7h0M91.7 237.1h0M94.8 236.1h0M96.3 235.3h0M98.1 234.4h0M93.7 237.0h0M95.6 235.5h0M95.0 238.0h0M149.8 187.9h0M156.5 195.9h0M146.6 186.1h0M138.4 196.7h0M133.7 196.2h0M144.7 190.9h0M134.5 195.9h0M154.7 189.4h0M147.4 186.9h0M142.6 189.3h0M146.1 189.4h0M158.0 188.2h0M160.9 194.3h0M139.4 194.9h0M158.7 187.7h0M138.2 190.1h0M134.7 195.4h0M157.8 196.2h0M155.0 189.1h0M149.9 187.5h0M158.6 194.7h0M145.5 190.3h0M150.8 184.2h0M138.1 192.6h0M154.0 189.8h0M155.4 193.3h0M155.9 188.8h0M145.5 187.3h0M137.3 189.8h0M135.8 194.1h0M135.2 191.2h0M160.5 191.8h0M146.8 187.3h0M137.8 188.0h0M156.4 196.4h0M158.6 195.3h0M148.3 187.5h0M133.8 195.6h0M134.2 195.8h0M139.2 190.6h0M141.1 186.3h0M156.5 193.4h0M157.1 191.3h0M138.1 193.2h0M148.0 186.9h0M158.8 193.2h0M138.5 194.1h0M140.3 190.5h0M138.8 188.5h0M156.6 188.3h0M136.6 190.4h0M149.5 186.9h0M157.8 197.6h0M134.9 194.8h0M160.3 199.1h0M157.7 201.9h0M158.5 191.8h0M158.9 194.0h0M137.8 188.4h0M160.4 198.4h0M152.7 186.6h0M137.9 193.6h0M147.0 188.3h0M148.4 187.3h0M155.8 188.5h0M157.9 195.4h0M145.0 189.9h0M154.8 190.2h0M154.8 189.9h0M147.2 188.2h0M136.8 193.6h0M154.1 189.8h0M150.5 190.0h0M141.5 186.8h0M155.6 188.1h0M140.4 188.8h0M142.2 189.3h0M157.1 197.2h0M160.5 192.7h0M145.3 189.9h0M139.3 190.1h0M131.6 195.4h0M137.9 189.1h0M157.5 195.0h0M140.5 187.8h0M160.3 199.0h0M158.6 194.7h0M160.2 199.0h0M153.8 187.1h0M157.3 191.5h0M155.6 189.1h0M146.3 188.1h0M149.9 187.7h0M158.6 193.8h0M139.0 188.5h0M139.3 189.5h0M139.1 194.4h0M157.5 188.7h0M148.5 191.0h0M135.4 190.6h0M149.3 188.8h0M159.5 195.2h0M159.9 195.0h0M157.6 189.8h0M136.3 190.6h0M134.0 195.8h0M154.4 187.5h0M135.6 190.9h0M155.9 190.4h0M159.8 193.1h0M158.6 197.2h0M156.2 188.5h0M148.6 189.7h0M154.0 190.5h0M160.1 194.4h0M160.0 192.9h0M157.9 195.2h0M159.0 195.3h0M147.0 189.2h0M145.7 187.8h0M158.2 199.4h0M157.1 196.4h0M149.9 191.4h0M158.7 192.5h0M154.8 192.5h0M157.0 197.4h0M145.6 190.2h0M148.3 189.0h0M155.0 192.5h0M147.2 188.1h0M139.3 191.5h0M139.2 191.8h0M136.7 192.0h0M135.8 191.2h0M156.7 194.6h0M161.4 192.2h0M141.1 189.0h0M137.7 192.0h0M135.1 190.6h0M139.1 191.0h0M151.1 187.5h0M137.2 192.7h0M157.1 197.1h0M138.4 194.5h0M148.1 186.6h0M156.8 189.5h0M158.8 193.3h0M134.9 192.6h0M159.0 195.9h0M139.2 189.0h0M158.9 200.5h0M138.6 189.0h0M134.7 192.1h0M148.5 189.5h0M138.6 194.7h0M156.1 187.2h0M145.2 187.9h0M147.7 188.5h0M158.2 194.1h0M148.5 189.1h0M145.1 189.8h0M156.6 191.8h0M161.8 198.0h0M147.6 186.9h0M147.7 189.7h0M160.1 198.7h0M156.6 189.7h0M161.2 192.3h0M156.7 196.4h0M147.1 188.4h0M145.0 191.1h0M138.2 194.4h0M146.6 187.9h0M156.7 191.9h0M137.3 195.8h0M137.3 195.1h0M146.7 186.5h0M139.0 190.3h0M135.8 190.6h0M156.5 188.8h0M139.1 191.6h0M157.4 197.8h0M143.4 192.0h0M147.7 189.9h0M158.5 193.5h0M156.0 188.6h0M155.6 189.9h0M145.5 189.4h0M136.4 190.7h0M136.7 193.4h0M157.9 197.2h0M157.2 193.9h0M147.0 186.6h0M156.3 197.7h0M137.8 188.6h0M134.1 195.3h0M146.1 188.2h0M138.2 188.8h0M147.6 187.9h0M158.0 197.0h0M161.6 196.0h0M139.3 194.7h0M147.9 188.2h0M148.7 189.1h0M140.0 190.7h0M155.8 191.9h0M155.1 189.0h0M156.8 188.6h0M148.8 187.3h0M160.8 195.6h0M156.1 190.0h0M141.1 187.3h0M163.5 197.3h0M136.7 194.4h0M135.4 192.6h0M150.3 191.0h0M157.1 196.5h0M156.9 192.0h0M147.3 188.7h0M137.8 197.4h0M137.7 191.3h0M137.2 194.1h0M135.9 197.2h0M147.2 188.2h0M133.2 198.9h0M151.3 191.0h0M148.5 187.3h0M155.1 192.0h0M161.2 191.5h0M143.5 191.5h0M134.9 197.8h0M155.5 194.8h0M149.3 187.3h0M147.7 187.4h0M146.8 189.1h0M158.9 194.3h0M142.9 188.1h0M139.8 187.6h0M158.4 198.8h0M137.1 189.1h0M155.7 189.1h0M151.0 190.9h0M158.1 193.9h0M139.9 188.5h0M155.5 186.5h0M141.0 189.4h0M153.9 189.4h0M153.7 187.4h0M155.7 195.3h0M161.7 195.1h0M135.5 190.8h0M153.4 187.6h0M144.4 191.6h0M137.6 190.7h0M138.7 188.3h0M140.4 187.8h0M159.8 193.8h0M158.0 192.2h0M138.2 193.1h0M160.0 195.4h0M157.4 191.2h0M156.1 191.6h0M155.0 189.2h0M135.8 190.6h0M157.1 191.5h0M151.7 189.8h0M157.1 197.5h0M159.6 195.9h0M136.7 191.8h0M157.0 188.4h0M152.0 184.9h0M151.8 185.8h0M138.1 191.7h0M140.2 186.2h0M132.9 195.1h0M149.0 188.1h0M149.7 190.2h0M149.2 189.8h0M147.1 190.0h0M135.5 190.8h0M149.8 192.1h0M156.3 202.4h0M139.7 190.2h0M154.8 188.8h0M136.6 188.6h0M156.1 187.8h0M160.7 194.3h0M147.3 188.9h0M140.5 189.5h0M154.5 189.4h0M135.2 197.1h0M147.4 188.6h0M136.8 193.7h0M147.1 188.7h0M162.8 197.8h0M157.6 194.1h0M157.0 196.3h0M158.2 199.2h0M145.6 188.9h0M150.0 187.3h0M138.6 193.9h0M136.9 190.2h0M158.6 193.9h0M160.0 199.6h0M137.9 196.2h0M158.2 198.8h0M135.7 196.8h0M156.2 188.0h0M154.7 188.3h0M135.7 190.5h0M140.4 190.9h0M142.7 188.9h0M159.8 199.0h0M145.6 190.1h0M152.7 186.2h0M156.0 197.0h0M137.8 192.6h0M136.2 192.3h0M157.8 194.1h0M134.4 192.7h0M149.7 188.1h0M161.7 193.0h0M136.1 190.7h0M146.7 187.7h0M147.9 189.1h0M133.0 197.3h0M145.6 188.2h0M137.1 189.3h0M139.6 190.2h0M158.6 194.7h0M156.8 191.6h0M159.3 198.9h0M162.5 197.5h0M141.4 189.1h0M134.7 195.7h0M136.5 190.8h0M149.4 187.8h0M136.8 194.0h0M161.6 192.7h0M138.5 189.3h0M156.0 191.6h0M144.7 189.7h0M150.2 187.6h0M159.2 196.5h0M137.1 195.6h0M160.1 199.0h0M151.1 190.3h0M157.0 188.4h0M151.1 191.2h0M145.3 188.1h0M150.8 190.5h0M138.1 196.5h0M140.0 190.0h0M140.7 187.4h0M143.9 188.0h0M149.7 187.3h0M151.3 185.0h0M150.5 187.9h0M149.7 191.3h0M154.1 190.4h0M135.4 196.1h0M147.5 187.9h0M149.7 190.5h0M147.7 189.0h0M156.1 188.5h0M155.2 195.7h0M157.2 192.2h0M147.2 187.4h0M153.7 190.5h0M137.6 195.0h0M146.0 190.0h0M154.8 192.4h0M141.1 187.2h0M155.4 196.4h0M156.9 202.1h0M158.7 194.3h0M158.0 196.6h0M150.0 188.1h0M148.1 187.6h0M154.2 189.2h0M158.2 199.1h0M143.6 193.0h0M155.2 192.6h0M135.0 192.5h0M148.4 185.7h0M160.0 193.0h0M137.2 195.2h0M145.5 189.4h0M141.8 187.7h0M156.6 191.1h0M152.6 191.3h0M136.0 190.5h0M140.1 189.1h0M158.9 195.6h0M159.6 199.1h0M158.2 191.9h0M138.6 189.7h0M149.5 187.2h0M144.8 191.2h0M157.3 188.5h0M156.7 188.1h0M158.5 193.0h0M137.3 189.2h0M139.5 190.9h0M147.6 189.8h0M136.8 193.7h0M157.0 192.3h0M158.3 195.1h0M132.3 194.8h0M144.9 189.3h0M159.0 192.0h0M131.9 194.8h0M141.6 187.1h0M158.6 194.3h0M157.1 193.7h0M144.1 190.0h0M143.4 189.2h0M148.4 189.2h0M147.4 188.7h0M139.1 189.1h0M141.7 189.0h0M156.3 201.6h0M136.1 193.1h0M158.5 198.2h0M139.2 191.8h0M145.4 190.4h0M154.1 190.7h0M155.7 195.0h0M162.0 191.2h0M148.3 189.2h0M155.5 192.1h0M159.5 196.3h0M151.2 185.3h0M158.1 188.9h0M146.8 187.7h0M158.1 188.3h0M159.7 199.5h0M160.6 195.1h0M135.1 197.5h0M158.3 192.0h0M161.2 194.9h0M163.2 198.1h0M157.2 191.0h0M157.6 199.2h0M139.1 191.2h0M154.3 189.5h0M150.2 185.6h0M157.4 194.3h0M149.2 187.8h0M156.6 196.9h0M162.3 198.7h0M140.8 187.8h0M154.7 189.3h0M153.3 185.1h0M134.9 194.1h0M154.8 190.8h0M161.6 196.7h0M159.2 192.3h0M141.0 190.0h0M138.6 190.0h0M155.0 189.2h0M158.3 194.2h0M156.0 188.1h0M158.0 192.7h0M161.7 191.9h0M159.5 192.8h0M147.1 188.2h0M150.2 188.4h0M157.9 197.1h0M142.1 188.7h0M150.1 188.1h0M135.4 192.6h0M139.4 192.0h0M158.5 193.8h0M137.2 188.8h0M148.7 186.9h0M135.5 197.1h0M155.0 189.0h0M157.6 199.5h0M155.4 191.5h0M137.6 190.7h0M139.4 188.4h0M159.0 192.8h0M146.3 189.8h0M150.6 187.9h0M145.4 187.4h0M135.3 190.2h0M157.0 195.4h0M138.1 193.8h0M151.0 189.0h0M145.1 190.7h0M138.4 192.0h0M135.4 194.7h0M137.2 189.5h0M159.0 193.8h0M135.5 196.0h0M135.2 191.2h0M159.4 195.5h0M158.8 194.7h0M141.2 187.8h0M134.1 199.2h0M138.6 197.3h0M155.6 190.2h0M138.2 190.9h0M156.7 196.1h0M159.2 195.9h0M157.9 192.9h0M160.7 199.0h0M156.1 189.5h0M147.4 187.8h0M152.4 187.3h0M154.6 189.5h0M157.0 193.8h0M158.0 188.0h0M147.4 187.5h0M135.9 190.8h0M144.7 188.3h0M156.8 191.8h0M162.0 197.0h0M161.3 199.2h0M156.5 190.6h0M142.8 188.7h0M149.7 187.6h0M138.6 194.5h0M132.3 194.9h0M153.7 187.3h0M146.5 187.9h0M137.5 192.9h0M149.6 185.5h0M150.7 188.1h0M158.8 193.4h0M139.2 191.3h0M143.2 186.6h0M160.5 194.6h0M140.4 189.0h0M160.5 198.5h0M145.8 190.8h0M147.1 187.7h0M158.2 196.8h0M158.9 192.9h0M150.2 187.8h0M158.5 193.7h0M137.3 195.9h0M134.7 196.4h0M160.8 199.5h0M157.2 191.2h0M156.8 191.0h0M158.3 192.3h0M141.2 190.8h0M157.8 195.8h0M146.7 188.0h0M147.0 187.3h0M149.3 189.9h0M140.4 189.8h0M151.1 188.1h0M147.2 188.0h0M161.8 191.3h0M157.4 201.8h0M138.2 194.5h0M142.9 189.0h0M139.2 194.8h0M138.3 188.9h0M137.1 189.8h0M157.3 197.1h0M140.5 188.1h0M159.0 194.6h0M146.7 187.2h0M155.1 188.0h0M159.1 199.5h0M152.0 184.9h0M136.7 189.2h0M154.2 190.1h0M144.3 190.3h0M136.6 191.6h0M160.6 195.4h0M148.3 187.2h0M154.2 188.6h0M136.7 192.8h0M159.2 199.8h0M151.3 185.1h0M158.4 194.1h0M141.7 186.8h0M156.6 201.4h0M138.0 194.5h0M159.3 192.8h0M159.0 196.0h0M159.2 198.5h0M158.2 194.1h0M150.1 188.0h0M157.7 192.6h0M157.1 193.7h0M138.9 190.8h0M140.3 187.6h0M143.2 186.5h0M135.9 191.9h0M132.2 194.6h0M152.3 186.5h0M149.8 187.6h0M149.9 189.7h0M144.7 189.8h0M147.2 187.0h0M144.7 189.1h0M146.1 186.0h0M147.4 186.7h0M144.1 189.5h0M150.8 187.0h0M145.4 185.6h0M146.4 189.7h0M147.0 185.7h0M147.8 185.7h0M146.0 186.8h0M150.4 189.6h0M149.8 187.2h0M146.0 189.2h0M146.2 189.8h0M149.9 189.8h0M144.1 189.0h0M149.7 187.3h0M151.5 186.1h0M148.4 188.1h0M149.4 189.0h0M145.7 186.1h0M153.1 187.8h0M151.9 186.8h0M147.7 186.1h0M149.4 188.2h0M153.0 187.7h0M149.9 189.1h0M149.7 185.6h0M151.9 190.2h0M149.8 186.3h0M150.8 187.1h0M151.4 186.3h0M152.4 189.4h0M149.6 188.7h0M148.1 186.5h0M150.8 189.9h0M147.3 185.3h0M145.3 185.4h0M150.6 189.4h0M147.1 187.3h0M145.8 186.7h0M146.0 189.6h0M146.2 186.6h0M150.9 187.4h0M146.7 189.4h0M149.8 190.2h0M152.2 188.2h0M150.4 189.1h0M150.1 185.7h0M146.2 187.7h0M152.3 185.4h0M146.6 188.1h0M148.2 190.5h0M148.5 188.2h0M150.4 189.1h0M150.8 186.1h0M146.4 190.3h0M151.9 187.0h0M147.3 186.5h0M151.3 187.4h0M151.3 190.0h0M146.0 186.9h0M149.7 187.9h0M152.4 186.5h0M151.9 189.4h0M147.2 186.6h0M149.8 189.8h0M145.5 185.9h0M150.7 188.3h0M149.2 187.9h0M144.1 189.0h0M145.2 189.1h0M147.2 186.3h0M145.3 189.6h0M146.8 186.7h0M150.3 186.9h0M151.6 189.9h0M146.3 188.9h0M146.7 189.0h0M146.2 186.4h0M150.3 186.5h0M149.9 189.6h0M145.6 187.5h0M149.5 187.6h0M132.8 200.2h0M134.4 203.2h0M135.7 203.1h0M134.8 206.7h0M135.4 199.4h0M135.0 209.8h0M134.0 204.7h0M133.6 201.0h0M133.4 201.3h0M133.3 200.0h0M133.6 200.3h0M134.0 207.3h0M136.1 205.9h0M137.0 207.9h0M134.2 204.0h0M134.5 202.8h0M133.2 206.1h0M135.5 204.6h0M135.2 209.0h0M134.7 204.2h0M134.5 204.5h0M134.0 201.8h0M135.3 203.8h0M136.2 200.7h0M133.1 202.5h0M136.5 207.2h0M133.1 204.4h0M135.8 206.4h0M133.4 198.5h0M136.2 206.7h0M133.6 197.4h0M134.5 201.0h0M135.4 200.3h0M137.0 205.6h0M133.6 204.8h0M134.9 199.4h0M134.0 207.8h0M136.2 203.3h0M134.0 205.6h0M134.4 202.5h0M133.5 205.5h0M134.0 209.9h0M136.5 204.3h0M134.6 210.2h0M134.9 200.9h0M134.9 202.0h0M134.2 207.6h0M135.7 209.1h0M134.1 200.4h0M134.6 210.7h0M132.8 199.8h0M134.1 199.1h0M133.7 207.3h0M135.4 205.1h0M135.4 202.2h0M135.4 204.4h0M134.8 202.6h0M135.0 199.2h0M135.4 205.0h0M134.9 201.2h0M133.9 210.3h0M135.0 203.2h0M134.9 207.7h0M134.3 201.2h0M134.6 205.2h0M136.0 202.9h0M136.7 205.0h0M133.9 209.2h0M134.0 210.4h0M134.4 205.9h0M134.4 208.1h0M133.8 203.2h0M135.0 205.1h0M134.7 208.1h0M135.4 201.4h0M132.9 201.6h0M134.2 200.4h0M133.7 206.8h0M135.7 207.7h0M134.0 199.6h0M135.1 207.4h0M135.6 199.9h0M135.9 202.3h0M136.0 208.3h0M136.0 206.7h0M135.0 208.1h0M134.8 199.6h0M133.2 205.0h0M133.4 204.6h0M135.8 208.2h0M133.2 205.5h0M135.6 203.3h0M132.6 208.6h0M133.1 208.5h0M135.1 207.3h0M136.7 208.7h0M134.1 207.3h0M134.2 207.8h0M135.2 204.4h0M134.9 206.6h0M134.3 207.3h0M135.0 204.3h0M135.2 206.8h0M134.3 205.7h0M133.3 208.8h0M135.2 206.9h0M136.3 207.4h0M136.0 208.4h0M134.3 205.7h0M135.7 205.8h0M133.7 207.6h0M136.3 208.6h0M136.6 208.9h0M134.7 208.9h0M133.0 208.3h0M134.3 205.8h0M135.0 208.2h0M133.7 206.7h0M136.1 206.8h0M133.6 207.8h0M135.0 206.5h0M134.0 207.9h0M134.6 207.6h0M135.3 207.4h0M136.2 207.5h0M134.2 207.0h0M134.5 206.1h0M134.2 204.6h0M133.8 205.9h0M136.5 208.3h0M134.5 207.2h0M135.6 205.6h0M137.0 208.9h0M135.4 205.0h0M134.3 206.9h0M134.8 221.7h0M134.3 222.6h0M135.4 218.2h0M129.0 220.3h0M133.5 220.1h0M129.6 214.7h0M134.4 223.4h0M132.7 222.1h0M129.4 219.7h0M133.1 217.6h0M131.6 220.8h0M134.1 218.4h0M134.0 220.8h0M137.1 221.0h0M134.6 219.1h0M135.6 218.8h0M129.0 219.3h0M134.6 218.7h0M129.5 219.8h0M134.2 218.6h0M127.4 218.5h0M136.5 220.8h0M136.7 220.4h0M135.3 223.8h0M134.8 214.2h0M134.4 219.3h0M132.9 216.8h0M136.6 215.8h0M132.5 218.0h0M136.3 215.5h0M132.2 220.9h0M131.2 221.3h0M133.3 218.0h0M131.4 221.6h0M133.7 216.7h0M135.9 221.3h0M134.3 217.7h0M134.1 220.5h0M133.9 222.5h0M130.6 222.4h0M129.8 219.3h0M129.0 219.9h0M136.1 218.8h0M138.2 218.4h0M133.5 219.7h0M134.2 220.0h0M136.9 220.2h0M133.8 220.6h0M132.4 217.3h0M136.3 219.4h0M127.4 218.9h0M135.7 217.9h0M135.2 218.4h0M134.7 216.5h0M133.7 216.7h0M133.6 219.7h0M136.0 217.7h0M136.0 215.4h0M132.2 216.0h0M136.4 215.7h0M132.7 221.4h0M133.1 220.6h0M137.3 219.4h0M134.4 219.3h0M132.4 220.5h0M135.2 217.9h0M133.3 215.3h0M131.5 220.2h0M132.1 214.9h0M136.2 215.0h0M136.7 221.3h0M137.1 221.1h0M138.9 218.8h0M134.8 221.9h0M132.4 218.9h0M133.7 217.3h0M135.4 215.5h0M132.0 220.2h0M136.1 217.6h0M132.7 221.9h0M135.0 219.7h0M137.6 221.3h0M132.0 218.8h0M130.3 218.8h0M136.6 215.7h0M133.0 218.1h0M132.3 217.1h0M133.6 217.5h0M131.7 220.7h0M133.3 218.2h0M132.4 220.6h0M137.7 217.2h0M134.6 217.7h0M133.3 219.9h0M133.5 217.4h0M138.9 218.7h0M131.3 220.7h0M131.3 213.9h0M137.2 221.4h0M135.1 214.7h0M135.2 219.5h0M133.9 215.8h0M137.1 221.9h0M133.1 221.6h0M136.0 218.8h0M133.1 219.0h0M129.6 218.7h0M129.7 222.0h0M128.9 219.6h0M133.6 217.2h0M134.7 221.9h0M134.7 216.3h0M133.5 222.2h0M133.6 221.6h0M136.4 216.1h0M135.7 218.9h0M128.9 218.5h0M128.6 217.0h0M131.8 222.7h0M133.3 220.3h0M131.6 216.4h0M132.6 220.5h0M137.7 219.4h0M131.5 220.3h0M132.2 220.1h0M133.2 221.8h0M135.0 217.4h0M137.8 221.9h0M134.5 216.6h0M133.1 221.7h0M132.5 221.0h0M133.0 220.3h0M133.3 221.2h0M131.4 220.1h0M132.1 215.7h0M136.2 216.6h0M130.1 220.1h0M133.9 215.2h0M130.4 221.2h0M129.8 219.9h0M132.7 216.0h0M131.6 219.9h0M136.2 223.6h0M133.7 217.1h0M130.4 222.7h0M133.8 220.4h0M128.4 217.9h0M134.4 216.6h0M132.5 221.4h0M132.0 220.5h0M136.0 218.5h0M128.6 220.1h0M132.3 216.4h0M129.7 219.9h0M128.8 219.8h0M127.3 217.3h0M135.8 218.4h0M128.9 218.9h0M126.6 217.9h0M132.2 217.7h0M131.7 221.8h0M134.2 218.3h0M133.5 217.5h0M136.9 220.2h0M129.0 218.8h0M131.1 218.2h0M135.5 216.0h0M127.8 218.8h0M131.1 220.7h0M133.6 214.6h0M131.2 219.5h0M137.2 220.4h0M135.4 219.4h0M134.1 222.0h0M131.2 219.3h0M132.2 214.5h0M135.3 215.4h0M132.9 222.4h0M134.4 214.7h0M133.0 216.5h0M134.5 220.2h0M135.9 220.0h0M128.3 216.6h0M131.2 222.6h0M136.7 219.4h0M132.9 221.0h0M136.5 220.5h0M136.3 218.8h0M131.3 219.4h0M131.6 216.2h0M132.6 221.0h0M132.6 221.5h0M135.7 218.7h0M131.6 221.0h0M135.2 220.8h0M129.5 219.6h0M130.1 223.0h0M134.5 219.6h0M130.1 218.5h0M129.2 216.2h0M129.8 221.2h0M131.6 221.7h0M132.3 215.1h0M133.8 215.4h0M136.3 215.9h0M135.6 214.7h0M132.2 222.8h0M133.6 222.6h0M131.5 218.2h0M134.4 224.0h0M136.0 219.2h0M129.3 218.6h0M134.0 218.3h0M136.3 220.8h0M131.4 221.2h0M136.8 217.4h0M133.5 217.0h0M134.6 216.8h0M134.9 218.9h0M135.9 220.3h0M136.3 214.4h0M131.8 216.5h0M134.8 221.7h0M136.3 217.4h0M136.9 221.8h0M134.0 219.9h0M129.2 222.0h0M134.8 220.5h0M132.3 215.7h0M131.7 219.9h0M131.4 215.4h0M132.7 216.8h0M129.8 218.7h0M127.0 219.3h0M137.3 217.7h0M136.3 220.0h0M127.9 216.9h0M132.9 214.8h0M136.4 214.1h0M128.4 215.7h0M131.2 220.0h0M135.0 217.5h0M132.2 221.0h0M135.2 221.1h0M135.2 216.3h0M130.9 220.4h0M136.7 221.0h0M129.5 215.4h0M134.0 222.3h0M130.3 221.8h0M136.7 220.7h0M133.8 218.0h0M134.1 218.2h0M133.0 220.8h0M138.7 218.8h0M133.8 222.0h0M133.1 220.5h0M132.8 219.1h0M136.2 217.6h0M139.7 217.9h0M136.0 221.2h0M133.9 222.2h0M133.4 222.2h0M132.8 219.6h0M136.7 221.3h0M134.7 217.1h0M138.9 219.1h0M131.1 218.8h0M134.4 217.6h0M133.0 218.0h0M127.7 216.3h0M134.1 216.6h0M131.4 221.6h0M128.3 219.0h0M136.0 212.8h0M133.2 214.8h0M130.8 221.5h0M135.9 218.5h0M134.9 217.2h0M135.8 215.6h0M131.6 216.1h0M129.0 215.6h0M132.0 215.5h0M136.4 220.4h0M137.1 219.3h0M134.9 218.5h0M139.3 217.9h0M130.2 221.1h0M138.4 218.7h0M138.3 219.1h0M134.0 217.6h0M134.6 218.5h0M136.3 221.1h0M126.9 218.4h0M134.3 222.6h0M137.1 221.5h0M134.7 218.4h0M136.8 220.8h0M132.4 219.0h0M134.6 216.8h0M136.0 219.3h0M128.9 214.5h0M133.9 222.8h0M133.4 219.1h0M134.2 220.3h0M134.2 217.8h0M136.5 217.5h0M135.4 222.4h0M134.7 215.1h0M133.9 215.1h0M135.3 221.3h0M131.1 220.5h0M133.7 216.5h0M137.1 220.0h0M133.9 218.6h0M134.0 214.9h0M132.9 218.0h0M132.1 219.5h0M135.6 217.7h0M131.3 221.1h0M132.5 221.6h0M134.6 217.1h0M135.9 218.7h0M135.1 223.8h0M132.8 216.9h0M135.8 217.7h0M131.2 219.8h0M136.1 214.1h0M131.6 220.3h0M131.7 220.5h0M130.3 220.9h0M135.5 215.8h0M130.1 219.0h0M135.0 214.4h0M133.6 221.7h0M127.3 218.9h0M130.2 222.1h0M134.3 223.0h0M128.8 219.2h0M136.5 216.5h0M134.6 218.7h0M129.5 222.5h0M134.2 222.1h0M131.2 219.2h0M128.3 217.9h0M131.1 219.2h0M130.7 217.3h0M130.2 219.3h0M129.2 222.8h0M127.9 219.0h0M128.5 220.4h0M129.1 219.1h0M129.9 218.4h0M130.5 219.0h0M131.8 221.1h0M128.4 221.2h0M128.9 219.2h0M127.5 217.5h0M130.4 219.5h0M129.5 217.0h0M130.2 217.5h0M128.4 222.2h0M127.8 218.0h0M127.9 222.1h0M131.3 219.1h0M129.4 219.9h0M131.2 220.1h0M129.5 219.1h0M129.2 217.2h0M130.7 220.0h0M130.6 218.1h0M130.6 219.0h0M129.3 217.6h0M128.2 218.1h0M128.3 220.9h0M130.6 217.8h0M131.0 218.9h0M127.5 219.3h0M130.9 220.2h0M126.9 217.9h0M130.1 217.7h0M130.3 217.8h0M129.8 220.3h0M128.2 222.6h0M131.5 220.3h0M130.0 217.9h0M131.6 220.1h0M130.2 217.5h0M128.3 217.3h0M131.2 219.2h0M127.7 222.4h0M127.5 222.2h0M128.9 219.2h0M128.8 222.6h0M130.3 220.1h0M128.9 222.5h0M129.1 222.1h0M128.2 222.8h0M130.1 218.9h0M129.5 219.3h0M128.5 222.3h0M131.0 218.5h0M131.1 219.4h0M128.5 222.8h0M131.0 218.3h0M150.1 208.6h0M154.8 206.7h0M150.8 213.0h0M149.1 210.9h0M143.3 216.7h0M140.3 215.5h0M145.5 214.7h0M146.9 215.1h0M149.1 213.6h0M145.1 214.4h0M139.4 215.8h0M141.0 213.5h0M145.3 211.5h0M150.2 212.6h0M156.1 205.9h0M143.7 214.4h0M144.9 214.0h0M150.8 212.4h0M149.0 212.4h0M141.5 213.8h0M153.8 208.6h0M143.8 217.0h0M148.4 215.1h0M142.5 216.1h0M140.7 216.4h0M149.5 213.2h0M141.3 215.3h0M149.9 208.3h0M141.5 214.0h0M148.8 209.9h0M150.9 212.1h0M151.2 210.9h0M148.8 212.9h0M145.4 215.7h0M145.3 215.1h0M152.6 208.3h0M154.4 206.5h0M152.0 208.9h0M151.7 207.9h0M154.8 206.8h0M146.4 213.9h0M146.2 214.4h0M149.2 212.2h0M143.1 217.2h0M149.4 211.1h0M150.2 208.1h0M148.1 215.0h0M146.2 215.8h0M146.7 215.9h0M140.3 216.1h0M157.2 208.9h0M144.4 215.8h0M142.7 214.9h0M143.1 217.0h0M152.0 209.3h0M147.7 209.2h0M143.7 216.5h0M148.1 209.8h0M143.2 217.0h0M145.8 212.8h0M143.5 216.5h0M154.5 206.4h0M148.8 211.8h0M150.1 213.8h0M140.3 216.4h0M149.4 211.5h0M145.4 215.4h0M146.0 211.5h0M143.5 215.7h0M143.5 216.3h0M153.0 209.1h0M142.3 214.0h0M143.1 215.4h0M144.9 215.2h0M149.3 210.2h0M141.9 212.4h0M148.1 213.2h0M146.5 216.6h0M152.7 209.9h0M151.8 208.7h0M148.7 212.4h0M146.3 214.0h0M143.9 214.6h0M152.4 210.0h0M153.0 209.5h0M150.4 210.6h0M153.2 210.1h0M148.9 212.1h0M142.8 214.8h0M147.6 214.6h0M154.6 207.4h0M150.0 209.9h0M150.9 210.8h0M150.7 210.7h0M139.5 215.5h0M150.3 208.5h0M145.2 214.8h0M145.3 211.6h0M153.4 208.2h0M139.8 215.6h0M148.3 213.0h0M148.6 212.6h0M148.9 213.0h0M150.4 207.8h0M147.8 210.1h0M150.6 208.5h0M155.3 208.1h0M149.1 208.5h0M147.2 214.7h0M149.3 211.2h0M156.3 205.9h0M151.3 209.5h0M150.8 211.2h0M145.4 215.3h0M141.3 212.7h0M150.2 212.8h0M149.4 210.7h0M148.5 212.4h0M142.9 215.1h0M150.6 208.4h0M150.3 207.6h0M140.9 215.1h0M148.6 213.0h0M153.2 206.8h0M152.8 208.6h0M154.8 207.0h0M141.2 216.0h0M152.4 209.1h0M143.1 214.9h0M155.0 206.8h0M148.1 214.1h0M142.6 217.5h0M148.6 213.5h0M141.1 214.7h0M150.0 208.5h0M140.2 216.6h0M146.0 213.6h0M144.9 215.2h0M139.3 214.9h0M148.7 214.5h0M150.2 212.1h0M142.4 216.2h0M145.8 214.3h0M146.1 216.0h0M145.9 216.3h0M148.7 212.8h0M146.5 214.5h0M148.3 213.8h0M147.3 214.2h0M149.3 212.7h0M153.3 208.0h0M149.7 212.1h0M149.1 211.4h0M142.3 212.8h0M143.7 216.6h0M143.5 217.7h0M150.9 210.2h0M148.4 211.1h0M150.0 209.3h0M141.5 211.2h0M143.4 211.1h0M142.8 209.9h0M148.6 208.3h0M143.8 211.2h0M143.6 211.1h0M145.3 208.8h0M150.4 206.0h0M141.1 212.3h0M141.4 212.3h0M150.4 206.0h0M140.1 211.2h0M146.1 207.0h0M151.5 205.8h0M148.9 207.1h0M145.0 207.2h0M141.4 211.1h0M144.2 210.9h0M148.6 208.0h0M151.2 206.2h0M150.0 208.9h0M140.7 210.9h0M144.2 211.5h0M143.8 210.9h0M149.5 209.0h0M141.7 211.2h0M140.4 211.7h0M143.6 211.1h0M141.0 211.6h0M142.1 212.6h0M146.0 207.2h0M144.4 211.0h0M143.3 211.1h0M144.7 208.4h0M145.5 206.7h0M149.5 208.8h0M141.0 212.5h0M144.2 211.8h0M143.0 211.4h0M141.2 212.7h0M148.2 207.8h0M151.9 205.7h0M141.1 213.2h0M148.7 208.3h0M151.7 210.7h0M140.7 211.4h0M143.9 211.0h0M147.1 206.9h0M144.1 211.2h0M149.6 208.6h0M146.0 207.7h0M149.8 209.7h0M141.6 211.7h0M141.2 209.4h0M143.7 210.9h0M148.5 207.3h0M145.8 208.2h0M143.9 210.0h0M145.5 208.1h0M143.2 210.9h0M151.1 208.9h0M139.7 211.0h0M149.3 207.2h0M146.9 227.5h0M147.3 227.5h0M134.5 227.8h0M141.2 227.9h0M135.9 227.9h0M143.7 228.1h0M140.2 227.9h0M146.8 227.5h0M138.0 227.1h0M145.9 228.1h0M136.7 227.6h0M142.1 227.1h0M141.4 227.6h0M142.8 228.0h0M143.6 227.8h0M137.8 228.0h0M141.4 227.4h0M147.0 228.5h0M137.6 227.0h0M144.3 227.6h0M145.3 227.8h0M145.9 227.7h0M140.4 228.2h0M134.9 227.8h0M142.9 228.1h0M138.2 227.5h0M134.0 227.3h0M136.0 228.1h0M138.4 227.2h0M141.4 227.4h0M136.2 228.0h0M138.3 227.9h0M142.2 228.4h0M136.5 227.8h0M145.9 228.4h0M135.5 227.2h0M143.2 228.3h0M142.0 227.5h0M146.6 228.6h0M144.4 227.9h0M140.5 228.4h0M135.4 227.6h0M143.9 227.1h0M146.9 228.7h0M138.9 228.1h0M144.8 227.8h0M139.4 227.9h0M138.2 227.6h0M134.8 226.9h0M135.2 233.0h0M140.9 232.4h0M144.3 233.0h0M138.2 231.1h0M142.3 235.3h0M136.7 230.2h0M133.2 244.4h0M141.4 239.9h0M139.7 242.4h0M143.2 239.6h0M137.7 238.2h0M143.5 241.2h0M133.4 244.6h0M134.0 243.0h0M138.2 239.7h0M141.2 239.5h0M138.0 239.7h0M139.6 240.7h0M142.0 239.7h0M137.9 244.2h0M135.6 243.6h0M135.2 241.6h0M140.3 239.6h0M144.2 242.0h0M139.9 238.9h0M138.4 237.7h0M142.1 240.6h0M139.1 243.7h0M134.9 243.3h0M135.5 241.1h0M139.9 238.6h0M139.0 238.4h0M132.6 244.5h0M141.3 242.6h0M138.2 241.1h0M141.3 241.5h0M138.3 243.3h0M138.2 240.0h0M137.7 242.7h0M138.9 238.5h0M138.0 243.4h0M137.0 242.8h0M142.8 241.2h0M140.7 240.3h0M136.8 239.9h0M136.9 242.9h0M142.0 239.8h0M138.5 240.0h0M135.8 241.8h0M141.1 239.1h0M137.1 244.8h0M137.6 243.2h0M143.7 241.2h0M133.7 242.4h0M139.0 238.9h0M137.9 244.7h0M138.1 239.2h0M138.1 242.9h0M135.8 242.7h0M136.8 244.2h0M140.8 240.3h0M137.6 244.1h0M134.6 243.1h0M137.4 244.7h0M138.1 243.4h0M138.4 238.2h0M137.3 238.9h0M144.3 242.0h0M143.9 241.3h0M137.5 239.5h0M143.8 240.7h0M143.3 241.1h0M135.1 245.2h0M138.6 243.7h0M139.3 237.4h0M143.0 242.7h0M141.4 239.8h0M140.5 239.3h0M141.9 241.0h0M140.5 240.4h0M139.1 238.7h0M139.8 240.1h0M138.9 242.9h0M139.4 241.3h0M136.8 242.2h0M133.7 245.3h0M136.7 242.7h0M138.7 239.3h0M133.0 245.1h0M136.6 244.2h0M138.4 243.9h0M143.0 241.5h0M138.3 243.5h0M136.9 243.2h0M143.5 240.8h0M140.5 239.7h0M143.1 242.5h0M140.7 241.7h0M136.6 245.6h0M140.8 242.7h0M134.7 244.7h0M135.8 243.5h0M140.6 239.9h0M140.3 242.6h0M141.8 240.8h0M134.4 245.8h0M138.8 240.9h0M136.3 243.3h0M144.0 242.5h0M135.6 242.7h0M140.2 238.7h0M140.1 240.1h0M138.7 240.1h0M140.0 237.8h0M139.8 237.7h0M139.8 238.5h0M137.2 240.0h0M135.2 242.6h0M139.0 240.1h0M140.4 240.4h0M136.1 242.9h0M135.4 243.0h0M136.4 242.5h0M136.0 243.1h0M138.3 239.5h0M138.8 239.9h0M135.6 242.0h0M135.1 242.3h0M140.8 239.1h0M139.0 241.4h0M135.8 241.7h0M137.1 240.6h0M140.6 241.1h0M136.5 242.4h0M142.4 239.6h0M138.6 238.1h0M137.9 239.6h0M132.2 246.0h0M142.6 238.6h0M136.6 240.6h0M139.5 238.0h0M135.7 244.7h0M140.1 238.9h0M140.5 238.1h0M139.1 241.2h0M135.5 242.9h0M141.5 240.8h0M135.0 241.0h0M133.9 243.4h0M138.7 240.5h0M135.4 241.7h0M135.5 242.8h0M140.2 239.2h0M137.2 240.3h0M134.9 240.7h0M141.8 240.9h0M137.5 239.6h0M143.3 241.2h0M142.4 240.4h0M135.6 241.8h0M140.9 238.4h0M140.6 239.8h0M139.9 240.7h0M138.4 238.1h0M136.2 241.1h0M138.6 239.4h0M141.7 240.1h0M135.4 242.9h0M135.4 242.6h0M135.8 241.6h0M135.3 241.9h0M135.3 242.0h0M138.4 240.0h0M134.8 242.8h0M142.2 243.5h0M137.5 243.5h0M140.1 238.1h0M139.7 239.7h0M137.0 244.6h0M136.9 239.7h0M136.9 243.2h0M135.5 245.4h0M136.6 242.3h0M139.2 242.9h0M139.4 240.5h0M135.6 243.1h0M140.4 239.8h0M136.2 242.1h0M137.5 242.2h0M141.2 242.1h0M138.0 240.4h0M139.0 240.3h0M136.7 241.3h0M139.1 242.3h0M138.5 240.3h0M137.3 239.5h0M139.7 240.2h0M139.0 240.5h0M140.2 242.2h0M139.7 241.1h0M137.1 242.4h0M137.2 239.7h0M135.6 242.4h0M136.0 240.2h0M138.2 240.2h0M136.1 243.3h0M136.7 243.0h0M139.6 240.9h0M136.9 242.0h0M139.1 240.9h0M138.3 240.6h0M138.1 239.9h0M137.8 239.9h0M136.6 242.4h0M140.2 241.8h0M139.3 241.2h0M136.8 240.1h0M139.2 241.1h0M138.6 238.5h0M137.3 239.6h0M139.4 241.2h0M137.4 239.3h0M138.2 238.7h0M137.9 240.6h0M136.5 242.2h0M137.5 239.8h0M151.7 197.3h0M151.5 197.8h0M149.5 197.3h0M151.8 198.1h0M153.5 198.5h0M151.2 199.0h0M152.8 198.2h0M153.3 198.2h0M153.3 198.6h0M150.8 199.4h0M152.5 197.7h0M153.3 198.5h0M152.0 199.8h0M154.9 206.0h0M145.9 207.9h0M150.6 206.9h0M150.2 192.8h0M155.0 201.4h0M148.6 206.0h0M156.7 200.6h0M148.3 202.5h0M145.4 194.5h0M154.4 196.0h0M140.2 193.1h0M152.7 201.0h0M151.8 203.0h0M151.4 207.0h0M138.3 197.4h0M143.3 199.4h0M139.4 208.6h0M144.3 203.7h0M139.9 203.2h0M150.8 193.1h0M140.0 200.2h0M152.8 195.1h0M147.9 192.8h0M148.5 209.5h0M141.4 201.7h0M146.6 194.1h0M140.5 203.7h0M145.5 203.0h0M143.2 198.6h0M141.7 205.7h0M155.9 208.7h0M144.1 194.6h0M157.0 209.8h0M145.9 205.7h0M150.8 209.5h0M151.4 193.5h0M146.6 192.8h0M154.4 206.0h0M140.4 200.7h0M153.5 198.8h0M148.6 193.1h0M148.6 193.0h0M156.3 208.3h0M147.0 210.1h0M142.2 210.3h0M149.5 204.0h0M151.1 204.9h0M149.5 201.1h0M149.1 201.4h0M150.3 198.8h0M147.9 200.1h0M150.0 201.3h0M150.1 204.4h0M151.9 202.7h0M149.9 204.6h0M150.8 199.4h0M153.4 198.4h0M150.0 201.7h0M151.9 204.5h0M152.7 204.1h0M151.4 199.6h0M152.0 202.7h0M150.5 204.4h0M150.3 204.3h0M149.0 200.9h0M149.4 201.1h0M153.1 202.8h0M150.8 199.8h0M149.1 201.5h0M149.7 201.3h0M152.4 199.4h0M149.8 203.4h0M150.5 199.9h0M149.9 205.4h0M151.5 204.8h0M150.6 199.3h0M151.7 198.5h0M151.5 200.0h0M147.0 204.7h0M145.9 202.9h0M148.1 204.6h0M146.7 204.2h0M146.4 203.2h0M145.2 203.3h0M162.0 207.0h0M161.3 208.0h0M158.0 197.6h0M162.3 205.9h0M163.6 208.3h0M158.1 203.2h0M159.1 202.7h0M158.3 198.3h0M158.3 202.0h0M159.9 201.4h0M159.8 201.8h0M161.5 204.3h0M160.8 204.0h0M160.6 205.5h0M162.6 208.9h0M161.1 209.6h0M161.7 202.3h0M162.1 207.9h0M162.1 204.6h0M159.3 200.3h0M160.0 202.2h0M157.3 200.6h0M160.7 207.2h0M163.2 205.2h0M163.3 207.1h0M156.9 201.3h0M161.5 204.3h0M163.5 208.3h0M158.6 203.2h0M159.9 201.8h0M164.3 208.2h0M160.2 207.1h0M160.0 200.3h0M164.6 206.0h0M163.5 206.0h0M159.3 207.5h0M162.2 202.7h0M158.7 203.4h0M161.1 203.7h0M162.7 207.8h0M157.7 201.0h0M161.4 203.1h0M159.4 202.6h0M159.0 203.7h0M163.3 202.8h0M161.0 202.5h0M162.5 204.1h0M160.7 208.2h0M162.0 208.7h0M160.2 200.3h0M159.2 202.3h0M163.1 207.7h0M161.6 203.3h0M158.7 203.5h0M164.6 207.3h0M161.6 206.5h0M161.7 206.4h0M158.5 204.0h0M158.6 201.8h0M163.3 206.9h0M164.5 207.1h0M159.9 201.9h0M158.3 203.6h0M160.8 204.9h0M161.4 202.7h0M164.6 207.8h0M161.3 202.6h0M160.1 203.2h0M161.6 204.4h0M165.4 206.1h0M158.4 206.6h0M157.9 203.4h0M157.3 203.6h0M159.7 203.2h0M160.4 203.0h0M157.7 206.2h0M160.1 208.3h0M159.8 206.1h0M159.9 204.2h0M162.0 206.4h0M164.0 206.1h0M158.3 198.9h0M160.1 206.6h0M161.8 202.4h0M160.0 200.2h0M159.7 207.4h0M156.3 203.4h0M162.0 206.4h0M159.3 207.2h0M162.8 206.4h0M158.8 203.2h0M159.0 198.3h0M161.8 208.2h0M161.7 203.3h0M157.9 200.7h0M158.7 202.9h0M162.4 207.4h0M160.0 205.8h0M169.5 204.8h0M165.8 215.1h0M163.0 211.7h0M173.5 217.3h0M172.6 216.7h0M162.6 210.3h0M165.1 207.8h0M170.0 209.4h0M173.3 211.3h0M170.9 211.8h0M170.6 208.3h0M170.5 211.6h0M168.8 216.3h0M168.8 204.6h0M164.5 216.4h0M166.7 214.1h0M162.9 208.4h0M167.6 218.7h0M170.9 208.7h0M167.2 218.7h0M165.4 215.7h0M165.8 212.6h0M164.1 214.0h0M173.8 217.1h0M167.8 217.6h0M164.3 213.0h0M164.3 213.9h0M169.6 216.6h0M165.7 209.2h0M173.1 209.4h0M169.3 210.0h0M164.7 214.4h0M172.9 215.0h0M173.0 209.6h0M173.1 217.3h0M170.7 218.7h0M167.1 208.5h0M167.7 218.5h0M167.1 207.2h0M172.4 211.7h0M171.7 217.6h0M163.8 213.3h0M166.0 210.6h0M172.5 214.7h0M171.5 217.6h0M167.1 212.0h0M167.4 207.4h0M167.3 211.1h0M164.9 210.2h0M176.4 212.7h0M169.1 215.4h0M172.9 219.8h0M168.2 206.8h0M172.7 205.8h0M173.4 206.9h0M160.3 213.4h0M168.1 211.1h0M163.2 214.3h0M167.1 210.3h0M170.9 204.2h0M165.9 216.0h0M165.8 215.9h0M172.4 217.2h0M170.3 210.0h0M171.4 215.2h0M167.5 218.7h0M173.1 206.7h0M174.4 210.9h0M172.5 214.9h0M176.3 213.5h0M162.2 214.3h0M171.7 210.0h0M171.1 217.9h0M172.7 215.9h0M169.8 211.3h0M172.8 211.1h0M170.1 219.0h0M168.2 211.6h0M173.1 209.0h0M169.3 210.3h0M166.4 207.5h0M168.8 207.2h0M166.2 210.8h0M169.1 212.2h0M173.6 208.6h0M170.6 212.6h0M173.2 214.4h0M174.9 207.7h0M164.2 208.1h0M164.4 213.4h0M169.5 210.3h0M171.0 206.8h0M174.6 209.6h0M167.4 206.0h0M168.3 211.1h0M174.6 209.0h0M165.6 213.9h0M162.4 207.9h0M169.5 215.7h0M172.4 211.9h0M164.3 212.3h0M167.8 205.9h0M166.6 205.6h0M171.4 218.4h0M177.1 216.4h0M171.7 216.7h0M163.1 209.9h0M169.5 208.0h0M175.7 213.2h0M171.7 213.6h0M164.6 218.7h0M169.1 206.2h0M174.2 212.3h0M169.5 216.1h0M165.7 209.9h0M169.4 214.3h0M170.0 211.5h0M169.2 217.4h0M164.7 207.6h0M167.0 216.8h0M171.9 211.6h0M175.5 205.9h0M165.2 210.8h0M170.8 215.2h0M172.7 211.3h0M167.0 204.2h0M175.3 211.9h0M169.8 213.0h0M165.2 207.7h0M171.3 211.4h0M168.3 220.7h0M167.7 209.4h0M165.2 217.8h0M164.6 213.4h0M173.4 216.3h0M171.8 211.0h0M168.4 211.7h0M169.9 209.4h0M167.5 211.9h0M164.9 218.1h0M176.1 210.9h0M170.1 217.2h0M171.4 207.3h0M168.9 216.0h0M169.3 205.3h0M173.6 208.9h0M170.7 208.1h0M169.3 209.1h0M168.8 204.8h0M172.0 208.1h0M169.2 211.6h0M174.2 209.0h0M175.7 209.9h0M162.2 213.9h0M171.0 208.2h0M167.9 206.5h0M175.7 210.6h0M171.8 206.3h0M176.2 214.1h0M166.5 218.6h0M167.7 213.9h0M166.0 210.2h0M169.7 214.0h0M168.1 207.2h0M164.0 212.7h0M170.0 206.7h0M170.2 214.0h0M166.4 213.4h0M167.6 212.0h0M171.3 207.5h0M166.5 214.9h0M169.2 210.7h0M172.5 212.0h0M167.5 217.9h0M175.1 207.3h0M169.8 217.6h0M166.0 208.9h0M168.5 204.8h0M166.1 217.3h0M170.7 219.3h0M171.3 207.3h0M163.5 213.4h0M169.7 212.6h0M173.3 211.5h0M173.5 216.0h0M170.9 220.6h0M172.3 208.4h0M171.1 216.6h0M169.1 208.2h0M172.1 215.4h0M164.9 216.3h0M169.0 212.5h0M166.8 208.7h0M170.1 211.5h0M168.3 204.4h0M176.5 213.3h0M171.7 209.2h0M177.0 212.8h0M166.6 209.5h0M170.3 213.8h0M168.5 211.5h0M174.2 216.7h0M169.9 208.0h0M166.0 210.7h0M169.3 216.4h0M165.9 210.6h0M170.8 211.0h0M168.1 204.8h0M167.6 207.7h0M168.4 213.1h0M175.4 210.6h0M165.7 206.6h0M170.8 218.2h0M176.1 215.1h0M171.8 209.9h0M168.8 210.9h0M164.9 206.6h0M173.5 211.7h0M164.6 209.6h0M164.1 215.1h0M166.3 215.6h0M173.8 209.4h0M171.8 213.9h0M174.3 207.3h0M164.9 205.2h0M167.2 212.2h0M170.4 219.8h0M165.5 210.6h0M172.8 211.7h0M166.7 216.3h0M166.0 210.4h0M167.1 207.4h0M169.6 217.6h0M170.5 210.6h0M172.2 211.0h0M174.5 214.7h0M168.8 206.4h0M172.1 206.4h0M165.4 214.6h0M164.8 206.8h0M164.3 210.6h0M170.7 212.3h0M166.5 218.7h0M163.4 208.4h0M167.0 215.2h0M170.7 212.0h0M172.6 211.2h0M160.5 213.2h0M168.4 208.4h0M169.9 215.6h0M163.1 208.2h0M163.8 211.0h0M168.2 209.8h0M176.1 213.6h0M168.7 210.4h0M168.4 204.8h0M172.9 216.5h0M173.2 211.6h0M170.3 211.4h0M171.8 211.4h0M175.1 207.1h0M169.0 214.1h0M167.4 215.0h0M172.8 210.5h0M173.2 212.1h0M175.2 209.1h0M174.1 211.2h0M164.1 216.7h0M165.9 211.1h0M170.5 207.5h0M176.4 214.2h0M173.0 212.6h0M168.1 210.1h0M168.0 211.1h0M166.2 211.0h0M170.7 208.4h0M173.5 207.2h0M172.7 214.5h0M163.3 211.5h0M166.0 210.2h0M167.7 208.9h0M171.0 218.5h0M165.3 211.6h0M170.1 212.9h0M169.1 210.0h0M174.3 207.6h0M167.8 214.1h0M169.3 219.5h0M172.5 212.2h0M169.3 210.8h0M168.1 212.3h0M167.4 210.1h0M162.2 211.8h0M175.6 210.9h0M175.6 207.9h0M168.7 204.8h0M172.9 207.8h0M164.3 211.7h0M168.4 218.9h0M168.0 209.4h0M176.5 215.6h0M167.4 212.0h0M174.3 210.0h0M172.1 211.1h0M167.3 205.5h0M164.9 211.6h0M167.9 211.2h0M161.4 213.0h0M174.0 211.6h0M167.2 211.3h0M172.1 213.4h0M176.0 212.8h0M162.3 214.8h0M163.4 208.4h0M168.9 207.3h0M170.8 218.8h0M170.1 209.9h0M173.3 211.8h0M167.2 217.7h0M170.1 209.8h0M164.3 214.3h0M165.6 215.6h0M172.7 217.3h0M169.5 209.0h0M169.6 209.1h0M168.1 211.9h0M170.4 211.8h0M170.0 210.0h0M175.8 213.5h0M165.3 207.0h0M169.9 206.3h0M167.8 204.9h0M169.0 211.9h0M162.5 214.6h0M165.9 213.7h0M165.3 207.4h0M167.8 219.6h0M169.4 206.3h0M170.5 213.1h0M168.3 207.3h0M171.9 207.5h0M167.2 208.7h0M172.9 212.1h0M167.5 213.2h0M167.6 206.4h0M169.0 204.3h0M162.7 214.2h0M172.3 212.8h0M165.2 210.7h0M167.3 218.3h0M171.4 207.4h0M163.2 208.1h0M173.8 216.2h0M172.8 209.1h0M162.5 213.8h0M171.3 212.4h0M170.7 218.7h0M174.2 207.5h0M173.6 213.4h0M176.1 214.2h0M170.9 216.4h0M172.8 207.0h0M172.3 207.8h0M165.7 207.4h0M175.6 213.9h0M168.2 209.2h0M166.5 207.3h0M173.3 213.4h0M172.7 211.7h0M171.6 216.5h0M172.9 212.4h0M172.1 211.9h0M168.0 215.4h0M164.8 207.8h0M162.7 209.5h0M164.0 211.1h0M161.6 212.5h0M172.7 213.8h0M176.9 216.3h0M165.4 210.2h0M172.5 207.4h0M170.4 212.1h0M166.2 210.9h0M168.0 205.7h0M173.3 210.6h0M170.0 210.9h0M170.7 211.5h0M170.9 211.8h0M167.7 211.9h0M172.9 205.5h0M169.0 213.6h0M164.1 207.4h0M167.2 213.2h0M162.1 213.2h0M165.7 211.1h0M161.1 213.6h0M171.3 208.7h0M168.0 216.9h0M163.7 207.1h0M166.0 215.3h0M167.5 218.1h0M172.4 207.7h0M171.7 211.9h0M163.4 213.0h0M169.6 213.3h0M164.7 211.6h0M172.9 212.6h0M162.7 213.5h0M169.7 211.9h0M163.8 210.1h0M163.8 211.2h0M169.2 208.2h0M169.0 214.8h0M172.5 208.8h0M169.0 210.6h0M163.5 213.9h0M164.2 216.2h0M170.0 219.9h0M171.2 210.5h0M164.6 208.0h0M170.5 211.8h0M174.5 212.6h0M166.9 208.7h0M169.1 212.0h0M172.0 211.6h0M164.5 209.6h0M166.6 209.7h0M171.1 218.3h0M170.0 211.6h0M171.7 209.5h0M172.7 208.7h0M169.7 206.0h0M168.9 216.3h0M172.4 211.7h0M171.0 211.7h0M174.0 211.0h0M167.9 209.8h0M165.7 210.6h0M166.7 216.9h0M169.9 210.1h0M171.4 206.7h0M164.5 212.7h0M169.8 210.7h0M172.5 214.8h0M169.8 207.5h0M171.8 211.5h0M172.9 214.7h0M171.2 210.9h0M169.9 210.6h0M171.1 209.8h0M177.4 212.9h0M172.3 207.3h0M168.1 215.0h0M166.8 214.7h0M174.1 206.3h0M162.2 214.6h0M167.3 205.6h0M166.6 208.9h0M172.0 216.4h0M169.1 208.6h0M174.6 206.9h0M168.6 218.4h0M160.8 213.1h0M167.4 218.1h0M169.1 214.7h0M170.7 215.1h0M167.9 209.8h0M171.5 216.9h0M164.0 213.6h0M164.7 213.6h0M168.2 209.0h0M165.9 206.7h0M175.9 210.7h0M173.4 211.9h0M171.3 218.9h0M174.1 209.3h0M163.8 213.5h0M169.4 207.8h0M167.4 216.7h0M164.9 208.1h0M167.5 212.8h0M165.5 216.9h0M163.5 215.1h0M163.0 213.6h0M170.4 212.6h0M164.0 211.6h0M164.1 210.9h0M166.0 209.1h0M166.0 210.5h0M164.6 207.4h0M165.4 205.3h0M166.4 203.2h0M169.9 210.5h0M170.7 215.1h0M174.4 216.2h0M164.2 210.2h0M175.2 212.1h0M168.9 209.9h0M172.2 208.1h0M174.9 207.9h0M167.9 213.9h0M173.5 218.2h0M167.7 216.8h0M172.0 209.5h0M173.1 207.1h0M165.3 218.4h0M172.0 209.1h0M167.4 211.3h0M168.1 209.9h0M171.9 211.0h0M167.2 206.7h0M169.9 210.6h0M173.5 209.7h0M173.9 216.6h0M163.5 216.2h0M166.0 205.7h0M164.1 212.1h0M168.0 209.6h0M172.5 210.1h0M169.0 216.0h0M166.8 205.8h0M161.3 213.4h0M162.5 213.2h0M172.5 209.3h0M175.5 216.5h0M168.1 208.5h0M164.5 210.2h0M172.8 206.4h0M168.9 206.6h0M173.3 216.8h0M175.0 208.9h0M175.7 214.9h0M169.4 206.8h0M165.9 208.7h0M176.3 209.6h0M169.7 214.2h0M170.0 206.2h0M168.6 211.2h0M171.6 212.8h0M168.5 208.0h0M171.6 218.7h0M175.6 207.4h0M172.5 213.3h0M172.4 217.0h0M170.2 209.5h0M169.4 218.5h0M164.0 213.0h0M173.4 212.2h0M172.9 209.2h0M173.2 212.2h0M173.1 206.1h0M167.1 211.8h0M168.8 210.8h0M169.4 204.7h0M174.1 216.5h0M170.0 211.5h0M166.4 207.5h0M163.7 215.6h0M165.8 210.5h0M169.7 207.7h0M170.3 206.2h0M171.4 210.2h0M171.8 211.3h0M169.2 211.3h0M163.2 211.4h0M172.9 213.6h0M168.2 216.0h0M170.4 217.4h0M174.1 206.0h0M168.1 204.7h0M166.2 209.2h0M165.8 205.9h0M170.1 209.3h0M174.5 214.8h0M176.2 209.8h0M164.6 218.2h0M175.3 206.5h0M172.6 217.3h0M166.3 213.7h0M165.5 216.9h0M174.1 208.3h0M164.4 218.2h0M169.8 209.9h0M169.4 214.1h0M169.9 214.8h0M168.5 219.3h0M168.8 215.3h0M172.2 217.6h0M170.3 218.2h0M173.0 207.4h0M171.5 212.0h0M163.6 212.8h0M168.7 220.0h0M171.0 209.4h0M175.5 215.0h0M175.0 213.2h0M177.1 216.3h0M172.0 210.1h0M174.1 207.7h0M175.5 210.8h0M169.9 210.0h0M167.7 204.6h0M164.8 206.8h0M167.4 209.9h0M166.3 210.2h0M170.5 217.5h0M168.9 211.3h0M170.5 211.3h0M167.2 213.6h0M169.2 211.2h0M162.1 209.2h0M169.0 216.6h0M169.3 214.7h0M165.0 218.1h0M168.9 212.1h0M170.4 214.5h0M165.7 216.3h0M170.4 217.2h0M171.5 210.4h0M167.3 208.0h0M174.6 207.4h0M165.3 210.4h0M172.5 217.0h0M168.3 205.2h0M166.9 212.2h0M165.9 209.5h0M168.9 218.7h0M175.6 210.2h0M173.8 212.2h0M168.7 209.3h0M162.4 214.0h0M173.5 207.3h0M169.2 218.2h0M169.7 216.1h0M168.0 211.0h0M164.6 210.5h0M172.4 207.1h0M167.9 205.3h0M165.2 207.8h0M168.9 211.8h0M169.8 220.1h0M171.2 208.0h0M168.6 214.0h0M165.7 205.0h0M175.1 214.6h0M174.8 207.5h0M173.7 206.2h0M161.2 212.5h0M172.9 214.9h0M168.5 207.2h0M166.2 218.6h0M176.8 211.0h0M168.5 219.8h0M166.1 210.9h0M175.5 209.3h0M174.4 213.2h0M166.2 215.5h0M171.9 212.3h0M162.2 215.0h0M162.3 214.2h0M170.4 211.8h0M166.9 214.8h0M172.2 212.4h0M172.6 206.9h0M174.3 218.0h0M166.6 216.7h0M172.6 211.4h0M166.7 216.7h0M165.4 211.3h0M166.9 205.9h0M162.0 211.6h0M170.9 211.9h0M172.5 209.9h0M168.1 209.7h0M169.1 216.3h0M168.5 204.9h0M170.8 206.3h0M165.8 205.3h0M167.7 207.7h0M173.5 207.1h0M170.2 220.2h0M171.5 214.6h0M166.6 215.3h0M164.6 210.9h0M163.6 216.3h0M161.7 212.8h0M169.6 209.5h0M165.3 216.0h0M164.6 217.9h0M168.9 212.7h0M172.3 210.7h0M173.7 208.8h0M167.2 212.1h0M164.3 215.0h0M165.5 215.2h0M168.6 211.7h0M166.8 209.8h0M170.4 208.7h0M173.2 209.7h0M170.9 217.8h0M169.5 209.2h0M169.8 209.9h0M162.8 213.1h0M167.9 207.4h0M165.4 207.9h0M172.1 219.2h0M165.3 214.2h0M175.0 207.1h0M167.3 213.5h0M163.4 213.2h0M168.5 215.8h0M166.8 213.3h0M169.9 205.4h0M165.5 215.7h0M171.6 210.7h0M162.6 209.3h0M169.6 213.0h0M170.5 215.4h0M166.7 218.4h0M164.1 211.9h0M169.0 205.0h0M172.3 217.0h0M166.3 210.6h0M172.4 216.5h0M169.1 215.7h0M172.4 212.0h0M166.5 214.4h0M174.5 210.0h0M171.1 215.3h0M168.8 218.2h0M166.3 204.9h0M174.5 209.4h0M172.2 209.0h0M166.6 214.6h0M168.8 203.5h0M168.2 208.5h0M170.7 217.6h0M166.1 208.1h0M177.8 214.9h0M179.4 215.4h0M172.0 213.9h0M175.2 215.3h0M173.3 213.1h0M173.2 213.1h0M173.4 213.6h0M178.6 214.4h0M179.1 214.7h0M179.1 215.0h0M176.9 215.2h0M173.2 212.9h0M173.7 213.8h0M173.5 212.3h0M174.2 213.2h0M176.6 215.4h0M176.8 214.0h0M177.3 215.7h0M177.6 215.9h0M173.3 213.1h0M177.7 214.5h0M179.0 214.9h0M174.5 213.7h0M174.9 213.9h0M173.7 212.9h0M178.4 215.3h0M175.0 213.9h0M178.8 216.0h0M178.1 214.6h0M179.7 214.8h0M171.8 212.9h0M173.9 202.9h0M171.1 200.0h0M175.2 202.3h0M175.8 200.4h0M174.3 201.6h0M177.6 202.6h0M175.4 201.1h0M175.8 200.6h0M173.6 202.5h0M170.4 199.8h0M177.5 202.1h0M174.1 202.4h0M171.7 200.0h0M175.1 201.0h0M178.1 202.8h0M172.5 200.6h0M170.8 200.0h0M177.7 202.1h0M171.4 200.7h0M173.6 202.4h0M177.9 202.9h0M171.3 200.4h0M168.6 200.4h0M175.7 203.0h0M176.5 203.5h0M171.7 202.7h0M176.5 203.5h0M175.7 203.0h0M174.3 201.7h0M175.9 203.1h0M176.0 203.1h0M171.0 203.2h0M174.6 202.3h0M176.2 203.1h0M174.7 201.7h0M175.0 203.0h0M173.6 205.5h0M176.2 203.0h0M173.0 202.1h0M175.5 203.7h0M175.2 202.8h0M173.1 202.4h0M171.1 203.2h0M171.8 201.9h0M175.3 202.4h0M176.4 203.6h0M176.9 203.7h0M173.8 202.7h0M175.8 202.8h0M175.4 202.3h0M175.9 203.5h0M173.4 204.5h0M158.4 223.7h0M159.1 224.3h0M160.1 224.6h0M159.0 224.5h0M161.8 224.0h0M160.9 227.1h0M162.3 221.6h0M160.2 226.9h0M160.0 225.7h0M160.9 226.0h0M161.6 223.5h0M162.2 226.2h0M164.0 221.4h0M158.9 227.0h0M156.9 221.5h0M158.7 223.9h0M159.6 223.5h0M157.7 222.7h0M162.3 221.4h0M161.1 226.0h0M158.6 220.9h0M160.0 222.1h0M158.1 222.0h0M158.0 226.8h0M158.3 223.0h0M158.4 222.9h0M158.9 227.1h0M159.9 222.6h0M159.3 225.2h0M164.4 225.3h0M158.7 224.8h0M158.4 225.0h0M158.8 224.8h0M163.1 226.0h0M163.4 221.8h0M164.5 223.7h0M162.7 221.4h0M159.7 225.9h0M161.5 224.9h0M158.0 221.5h0M161.5 223.5h0M161.2 226.4h0M159.7 225.8h0M160.0 226.0h0M158.2 226.4h0M161.7 221.5h0M161.4 222.6h0M161.4 222.5h0M163.0 225.5h0M160.9 223.1h0M159.2 222.5h0M161.9 225.7h0M161.8 221.5h0M158.5 226.1h0M162.1 225.7h0M158.9 224.8h0M165.0 225.5h0M160.4 224.2h0M160.6 223.6h0M163.2 225.5h0M160.0 226.4h0M161.3 224.7h0M163.9 226.0h0M159.0 224.1h0M163.7 222.5h0M163.3 227.4h0M158.8 224.5h0M164.9 224.0h0M159.6 221.8h0M160.0 223.8h0M163.2 226.5h0M161.0 225.6h0M158.9 221.3h0M159.4 225.1h0M160.1 223.5h0M158.9 223.7h0M164.5 226.3h0M162.4 222.4h0M161.6 225.6h0M158.9 221.7h0M163.3 222.3h0M160.4 226.5h0M160.5 224.9h0M164.5 225.4h0M163.5 225.6h0M161.5 224.7h0M161.3 226.4h0M159.9 227.0h0M158.4 225.0h0M158.7 223.9h0M161.6 225.7h0M158.7 227.7h0M163.3 225.8h0M161.9 225.0h0M158.3 219.8h0M162.0 225.1h0M157.9 226.0h0M161.6 225.5h0M162.5 223.8h0M158.2 223.9h0M160.8 224.1h0M162.4 225.4h0M161.1 222.5h0M162.6 225.7h0M160.6 223.5h0M159.6 226.6h0M162.2 221.9h0M160.7 222.2h0M161.3 226.7h0M162.0 224.6h0M162.2 225.1h0M159.1 221.9h0M159.4 224.2h0M161.9 225.2h0M160.6 222.9h0M161.4 225.0h0M158.7 226.7h0M160.6 223.7h0M161.8 224.5h0M164.3 224.6h0M162.2 221.3h0M164.8 223.7h0M160.3 226.3h0M158.8 222.9h0M157.9 223.1h0M161.3 223.8h0M159.0 223.2h0M161.3 223.6h0M160.7 223.5h0M159.2 222.7h0M160.3 226.6h0M159.0 227.6h0M158.6 226.7h0M162.9 222.7h0M160.7 221.9h0M159.7 223.7h0M160.2 223.9h0M162.1 227.0h0M158.5 223.8h0M160.0 223.9h0M158.1 223.6h0M163.0 225.5h0M159.9 222.0h0M157.6 232.0h0M159.1 230.4h0M159.6 230.4h0M157.9 230.5h0M158.4 229.9h0M158.6 231.3h0M158.4 232.0h0M163.8 232.9h0M162.9 234.8h0M166.4 236.5h0M162.3 231.2h0M163.9 233.1h0M166.2 235.8h0M162.9 233.3h0M166.9 233.5h0M170.0 232.8h0M162.1 235.8h0M166.7 236.3h0M169.2 233.0h0M162.5 232.2h0M166.7 236.1h0M160.9 232.2h0M164.8 234.7h0M166.8 236.5h0M166.4 236.4h0M166.2 235.0h0M161.1 232.9h0M161.3 233.0h0M166.0 236.4h0M164.2 232.6h0M161.8 231.8h0M166.1 235.9h0M164.8 234.5h0M166.0 236.7h0M162.1 231.6h0M165.2 234.0h0M166.1 235.8h0M168.0 230.3h0M163.6 230.3h0M163.8 230.3h0M163.0 233.1h0M170.0 232.8h0M164.1 233.3h0M166.2 236.1h0M164.9 235.7h0M170.1 233.5h0M166.2 236.2h0M166.8 236.6h0M166.1 235.1h0M171.3 233.1h0M170.2 233.2h0M168.0 230.2h0M166.8 234.6h0M165.6 234.3h0M168.3 233.4h0M160.8 232.1h0M164.2 233.8h0M162.3 231.6h0M165.0 236.4h0M166.8 234.6h0M163.7 233.0h0M166.4 234.9h0M166.3 236.2h0M165.2 233.7h0M164.8 234.9h0M164.4 233.1h0M166.1 236.0h0M162.5 231.8h0M164.9 236.3h0M161.8 231.5h0M166.4 234.5h0M171.1 232.9h0M167.1 233.5h0M165.5 234.1h0M161.9 232.2h0M164.7 234.0h0M169.6 233.6h0M163.1 234.5h0M169.8 232.7h0M170.1 232.1h0M170.4 233.3h0M162.9 229.9h0M169.7 234.2h0M164.1 234.5h0M164.6 230.8h0M169.4 233.1h0M165.7 234.4h0M163.5 234.8h0M165.2 234.6h0M163.9 230.5h0M163.1 230.5h0M165.2 233.8h0M162.1 231.8h0M162.2 231.6h0M165.9 235.7h0M167.7 230.9h0M163.5 232.5h0M161.4 232.3h0M162.7 233.6h0M162.7 232.5h0M163.3 230.9h0M164.1 234.0h0M170.3 232.9h0M167.8 231.1h0M163.1 233.5h0M164.0 234.4h0M163.5 234.4h0M162.1 230.7h0M162.6 231.5h0M165.9 235.2h0M164.5 233.9h0M166.5 236.6h0M167.2 233.3h0M162.6 231.5h0M164.8 232.3h0M165.8 235.2h0M165.0 235.0h0M164.3 230.3h0M164.5 232.5h0M166.7 235.4h0M167.5 236.4h0M164.1 232.0h0M162.2 232.1h0M165.7 234.1h0M168.8 231.0h0M165.6 236.7h0M164.0 232.6h0M166.5 234.7h0M167.5 232.7h0M164.1 234.4h0M163.6 231.0h0M161.5 232.2h0M163.4 232.3h0M166.8 234.9h0M162.7 230.2h0M161.4 232.6h0M162.0 234.2h0M161.0 232.9h0M166.8 237.5h0M165.4 236.4h0M164.6 232.9h0M160.7 232.5h0M163.1 233.9h0M165.9 236.1h0M165.8 236.7h0M161.1 232.7h0M170.3 232.5h0M165.8 235.9h0M164.2 234.1h0M162.4 241.2h0M161.9 237.1h0M161.9 241.3h0M162.0 238.0h0M161.3 241.1h0M162.1 241.0h0M161.9 239.4h0M162.1 238.1h0M161.9 238.8h0M162.3 238.9h0M161.5 238.3h0M161.0 239.7h0M161.8 239.5h0M168.9 238.8h0M169.6 239.0h0M168.7 238.5h0M168.0 238.2h0M168.7 239.3h0M167.8 238.3h0M168.7 238.7h0M169.2 242.2h0M169.4 240.1h0M169.3 240.5h0M169.4 240.5h0M169.8 240.4h0M169.4 240.8h0M168.9 239.1h0M152.3 296.4h0M152.5 296.7h0M153.9 296.0h0M152.5 295.9h0M152.4 294.9h0M151.2 296.2h0M152.9 295.4h0M153.5 295.9h0M153.0 295.2h0M150.8 296.3h0M152.4 296.7h0M153.2 296.9h0M151.5 295.8h0M153.1 295.0h0" stroke="#000" stroke-width="2.0" stroke-linecap="round" fill="none"/>
<path d="M74.2 258.8h0M67.6 247.5h0M69.6 241.5h0M63.9 270.1h0M69.6 257.2h0M75.0 253.4h0M146.2 189.7h0M142.5 212.7h0M172.1 208.9h0" stroke="#fcf0b5" stroke-width="1.5" stroke-linecap="round" fill="none"/>
<path d="M151.6 189.8h0M148.6 187.4h0M159.7 195.8h0M152.7 186.9h0M141.5 210.3h0M137.4 240.2h0M150.6 205.0h0M160.0 206.3h0M157.8 201.4h0M173.0 207.4h0M173.3 212.2h0M169.7 209.9h0M173.4 206.2h0M173.3 209.4h0M172.5 212.7h0M175.2 212.4h0M173.3 218.2h0M176.0 209.0h0M159.7 226.0h0M162.4 233.4h0" stroke="#832681" stroke-width="1.5" stroke-linecap="round" fill="none"/>
<path d="M161.0 191.8h0M155.8 187.0h0M152.8 185.8h0M138.0 193.8h0M146.3 189.7h0M133.8 218.9h0M137.1 220.9h0M148.4 211.0h0M140.8 213.9h0M140.4 210.4h0M165.1 206.6h0M164.1 207.2h0M169.1 213.3h0M173.0 209.4h0M162.9 208.2h0M172.7 209.6h0M174.2 209.8h0M170.2 212.0h0M162.4 209.4h0M169.2 209.1h0M166.5 216.0h0M167.6 207.3h0M166.8 214.6h0M166.5 215.0h0M174.0 209.8h0M168.1 205.0h0M173.2 205.1h0M172.1 203.3h0M160.9 226.6h0M158.6 230.8h0M164.3 232.8h0" stroke="#1d1147" stroke-width="1.5" stroke-linecap="round" fill="none"/>
<path d="M142.9 186.7h0M140.9 190.4h0M156.6 188.1h0M155.9 188.3h0M147.2 190.2h0M143.9 189.1h0M149.3 186.6h0M137.6 195.0h0M155.7 196.6h0M146.0 189.7h0M142.7 216.7h0M140.2 211.9h0M140.1 238.8h0M159.3 203.5h0M164.3 206.6h0M166.2 206.5h0M172.0 206.8h0M173.9 216.8h0M173.3 207.1h0M165.9 214.0h0M171.4 217.0h0M158.6 226.6h0M159.1 232.2h0" stroke="#51127c" stroke-width="1.5" stroke-linecap="round" fill="none"/>
<path d="M147.3 189.3h0M157.0 188.1h0M150.1 190.3h0M169.7 218.7h0M177.9 202.5h0M170.9 232.5h0" stroke="#fec488" stroke-width="1.5" stroke-linecap="round" fill="none"/>
<path d="M162.3 192.1h0M134.3 219.8h0M137.1 215.0h0M160.3 199.6h0M171.7 212.0h0M158.8 224.3h0M162.4 231.4h0" stroke="#e75263" stroke-width="1.5" stroke-linecap="round" fill="none"/>
<path d="M139.2 189.0h0M133.8 209.4h0M166.9 207.3h0M170.5 210.2h0M164.9 231.9h0" stroke="#fc8961" stroke-width="1.5" stroke-linecap="round" fill="none"/>
<path d="M157.3 201.7h0M148.0 185.9h0M149.0 188.9h0M144.2 242.3h0M175.2 210.2h0M171.3 206.9h0M163.7 216.6h0M158.5 224.2h0M164.1 233.8h0" stroke="#b73779" stroke-width="1.5" stroke-linecap="round" fill="none"/>
<rect x="197.0" y="219.6" width="10.0" height="48.8" fill="url(#gC)"/>
<text x="212.0" y="222.7" font-size="6.3" class="s">10.0</text>
<line x1="197.0" y1="220.4" x2="199.0" y2="220.4" stroke="#fff" stroke-width="0.5"/>
<line x1="205.0" y1="220.4" x2="207.0" y2="220.4" stroke="#fff" stroke-width="0.5"/>
<text x="212.0" y="236.3" font-size="6.3" class="s">7.5</text>
<line x1="197.0" y1="234.0" x2="199.0" y2="234.0" stroke="#fff" stroke-width="0.5"/>
<line x1="205.0" y1="234.0" x2="207.0" y2="234.0" stroke="#fff" stroke-width="0.5"/>
<text x="212.0" y="249.7" font-size="6.3" class="s">5.0</text>
<line x1="197.0" y1="247.4" x2="199.0" y2="247.4" stroke="#fff" stroke-width="0.5"/>
<line x1="205.0" y1="247.4" x2="207.0" y2="247.4" stroke="#fff" stroke-width="0.5"/>
<text x="212.0" y="262.9" font-size="6.3" class="s">2.5</text>
<line x1="197.0" y1="260.6" x2="199.0" y2="260.6" stroke="#fff" stroke-width="0.5"/>
<line x1="205.0" y1="260.6" x2="207.0" y2="260.6" stroke="#fff" stroke-width="0.5"/>
<text x="241.0" y="159.7" font-size="7.6" fill="#000" font-weight="bold">D</text>
<text x="324.4" y="166.8" font-size="6.2" text-anchor="middle" class="s">CHRNE</text>
<line x1="263.4" y1="174.4" x2="263.4" y2="305.8" stroke="#1a1a1a" stroke-width="0.75"/>
<line x1="263.0" y1="305.4" x2="397.0" y2="305.4" stroke="#1a1a1a" stroke-width="0.75"/>
<text x="259.5" y="198.3" font-size="6.3" text-anchor="end" class="s">5</text>
<line x1="261.2" y1="196.0" x2="263.4" y2="196.0" stroke="#1a1a1a" stroke-width="0.95"/>
<text x="259.5" y="226.7" font-size="6.3" text-anchor="end" class="s">0</text>
<line x1="261.2" y1="224.4" x2="263.4" y2="224.4" stroke="#1a1a1a" stroke-width="0.95"/>
<text x="259.5" y="254.7" font-size="6.3" text-anchor="end" class="s">−5</text>
<line x1="261.2" y1="252.4" x2="263.4" y2="252.4" stroke="#1a1a1a" stroke-width="0.95"/>
<text x="259.5" y="282.9" font-size="6.3" text-anchor="end" class="s">−10</text>
<line x1="261.2" y1="280.6" x2="263.4" y2="280.6" stroke="#1a1a1a" stroke-width="0.95"/>
<text x="280.0" y="314.1" font-size="6.3" text-anchor="middle" class="s">−10</text>
<line x1="280.0" y1="305.4" x2="280.0" y2="307.8" stroke="#1a1a1a" stroke-width="0.95"/>
<text x="309.4" y="314.1" font-size="6.3" text-anchor="middle" class="s">−5</text>
<line x1="309.4" y1="305.4" x2="309.4" y2="307.8" stroke="#1a1a1a" stroke-width="0.95"/>
<text x="338.6" y="314.1" font-size="6.3" text-anchor="middle" class="s">0</text>
<line x1="338.6" y1="305.4" x2="338.6" y2="307.8" stroke="#1a1a1a" stroke-width="0.95"/>
<text x="368.0" y="314.1" font-size="6.3" text-anchor="middle" class="s">5</text>
<line x1="368.0" y1="305.4" x2="368.0" y2="307.8" stroke="#1a1a1a" stroke-width="0.95"/>
<text x="327.0" y="323.1" font-size="6.15" text-anchor="middle" class="s">UMAP_1</text>
<text x="244.0" y="240.2" font-size="6.2" text-anchor="middle" transform="rotate(-90 244.0 238.0)" class="s">UMAP_2</text>
<path d="M268.8 218.4h0M272.1 217.0h0M268.6 217.7h0M271.3 219.6h0M271.7 218.6h0M270.4 217.4h0M269.4 216.0h0M270.7 218.0h0M270.1 217.7h0M271.0 218.9h0M272.2 218.1h0M268.5 217.5h0M268.4 217.8h0M269.4 218.1h0M271.9 215.7h0M270.2 218.9h0M270.5 218.4h0M270.8 216.2h0M271.4 216.5h0M271.6 217.8h0M272.0 216.8h0M272.1 217.6h0M272.5 218.8h0M270.8 216.6h0M271.8 218.5h0M273.1 217.2h0M271.4 218.6h0M271.0 218.1h0M270.9 216.8h0M269.1 217.2h0M271.5 220.2h0M272.1 219.5h0M271.8 218.9h0M270.9 219.0h0M271.0 219.4h0M271.9 216.0h0M270.9 219.0h0M270.8 216.4h0M270.4 218.4h0M272.3 218.9h0M270.7 220.0h0M269.5 219.1h0M272.3 217.3h0M271.0 218.6h0M270.6 218.8h0M272.1 216.3h0M270.0 218.2h0M270.8 220.3h0M269.6 217.0h0M271.7 220.1h0M271.6 218.3h0M269.7 216.9h0M271.5 217.3h0M271.8 217.9h0M270.1 218.0h0M271.3 220.8h0M270.8 221.1h0M273.3 221.4h0M271.4 219.8h0M273.6 221.8h0M273.4 222.5h0M274.0 223.0h0M272.7 222.3h0M271.8 221.2h0M273.1 222.8h0M272.5 220.8h0M273.9 222.5h0M274.8 223.7h0M271.7 220.7h0M271.7 221.1h0M273.3 223.0h0M273.0 221.2h0M274.1 220.0h0M272.9 220.4h0M273.5 222.2h0M273.6 221.8h0M273.4 223.5h0M272.7 219.3h0M272.0 220.4h0M271.9 220.7h0M273.1 222.6h0M273.2 220.9h0M276.5 225.3h0M275.8 225.7h0M276.4 225.7h0M279.4 236.7h0M281.0 232.8h0M283.6 236.4h0M283.2 238.4h0M278.5 229.4h0M277.6 230.0h0M287.3 238.8h0M278.2 237.3h0M280.0 232.3h0M280.2 238.9h0M279.3 237.4h0M278.0 227.0h0M278.9 238.3h0M274.8 241.4h0M280.0 237.8h0M278.9 239.0h0M281.6 237.9h0M278.9 234.8h0M278.9 231.8h0M280.2 236.1h0M278.2 236.2h0M282.6 236.3h0M281.2 235.8h0M278.7 233.8h0M282.5 231.4h0M284.3 237.9h0M277.9 232.5h0M279.2 239.4h0M277.3 237.0h0M282.6 238.2h0M278.0 232.6h0M278.6 230.1h0M278.2 236.7h0M281.7 235.3h0M276.9 238.9h0M276.2 236.2h0M278.4 234.0h0M278.4 233.5h0M276.6 235.3h0M279.6 239.4h0M278.5 229.9h0M277.0 236.9h0M278.1 232.1h0M280.7 235.5h0M276.7 236.2h0M278.3 234.1h0M275.7 236.4h0M283.4 235.9h0M277.0 235.6h0M279.2 237.7h0M277.6 233.0h0M281.5 237.7h0M277.5 234.0h0M277.0 235.5h0M276.6 238.8h0M277.7 236.4h0M283.7 236.2h0M278.3 232.7h0M280.8 235.2h0M278.5 233.9h0M277.8 233.8h0M275.8 235.9h0M280.1 232.9h0M280.6 234.7h0M279.3 230.3h0M278.4 233.3h0M279.0 234.2h0M283.6 236.2h0M282.7 235.6h0M283.9 238.0h0M280.0 239.0h0M281.8 232.7h0M278.9 237.1h0M277.9 237.9h0M280.2 234.3h0M280.0 229.6h0M278.3 235.0h0M278.4 236.7h0M277.6 232.5h0M279.6 234.5h0M281.6 231.5h0M276.4 236.5h0M281.9 235.8h0M277.1 237.8h0M281.6 235.7h0M285.2 238.3h0M281.0 232.9h0M278.6 237.0h0M276.8 239.6h0M281.6 233.0h0M279.4 236.1h0M277.3 232.3h0M281.3 237.9h0M277.2 238.4h0M280.5 235.5h0M277.0 235.5h0M279.2 234.1h0M281.2 234.2h0M275.4 240.6h0M279.4 235.8h0M283.8 236.3h0M280.4 237.6h0M277.1 238.4h0M283.2 237.6h0M281.7 235.4h0M278.7 235.8h0M275.7 238.6h0M280.9 233.6h0M280.0 239.4h0M279.3 238.2h0M281.5 233.8h0M282.7 237.3h0M278.5 232.9h0M278.4 234.7h0M282.5 231.5h0M279.3 234.0h0M276.0 239.0h0M278.0 230.0h0M280.9 233.9h0M274.8 241.0h0M274.4 241.6h0M281.6 237.6h0M281.6 233.8h0M281.9 233.4h0M278.5 234.3h0M282.7 232.1h0M279.0 233.0h0M280.8 237.8h0M277.2 240.6h0M282.8 234.1h0M280.8 230.9h0M284.9 238.5h0M272.2 243.3h0M284.0 237.1h0M276.8 230.2h0M275.0 238.5h0M281.4 235.7h0M280.6 232.7h0M281.5 232.1h0M279.8 233.5h0M277.1 236.1h0M279.5 235.2h0M278.0 239.9h0M282.4 234.0h0M286.1 238.5h0M279.5 237.0h0M282.6 233.3h0M279.4 232.4h0M283.6 238.4h0M277.6 235.1h0M278.9 234.6h0M280.4 234.0h0M281.4 235.8h0M279.4 233.2h0M281.3 236.5h0M277.8 230.2h0M275.6 238.4h0M281.8 232.4h0M277.7 238.1h0M281.1 233.1h0M283.7 238.6h0M278.9 234.5h0M280.9 235.6h0M280.0 232.0h0M282.2 231.8h0M280.0 233.5h0M282.6 232.0h0M277.4 230.6h0M285.6 238.3h0M277.6 229.7h0M277.6 228.9h0M278.6 234.3h0M283.5 236.3h0M280.9 235.7h0M281.5 233.9h0M283.6 235.9h0M282.1 234.5h0M277.0 238.2h0M277.6 232.2h0M276.7 238.6h0M277.4 231.4h0M278.4 234.1h0M278.4 236.0h0M280.8 230.9h0M284.6 237.3h0M278.4 235.6h0M277.7 231.4h0M279.4 238.1h0M274.9 240.1h0M281.8 233.3h0M276.6 237.9h0M276.9 239.5h0M276.8 237.3h0M280.5 235.4h0M282.6 236.3h0M273.7 241.3h0M281.6 236.2h0M281.2 234.6h0M283.5 236.4h0M282.6 237.9h0M281.0 233.9h0M279.8 228.8h0M283.4 236.2h0M278.0 237.8h0M282.3 233.8h0M278.1 230.2h0M277.6 235.4h0M278.6 235.6h0M281.6 232.5h0M278.4 229.7h0M279.2 239.3h0M278.0 233.8h0M277.3 235.5h0M277.8 232.1h0M280.0 235.7h0M285.4 237.0h0M283.7 236.2h0M279.3 229.7h0M274.8 240.4h0M278.5 235.1h0M277.0 237.7h0M278.0 230.0h0M279.4 228.1h0M276.2 236.7h0M277.7 229.8h0M278.7 233.5h0M279.1 234.2h0M278.1 235.4h0M277.2 238.7h0M278.5 236.7h0M277.6 228.0h0M281.1 235.1h0M284.9 237.6h0M278.7 233.0h0M282.5 234.5h0M278.0 232.0h0M281.1 235.8h0M278.0 228.3h0M281.4 237.1h0M278.2 229.0h0M283.4 235.2h0M282.3 232.3h0M280.6 235.5h0M278.5 233.1h0M276.7 236.4h0M275.9 240.6h0M281.9 231.7h0M285.0 238.0h0M281.8 234.3h0M280.3 234.8h0M278.1 236.4h0M280.5 235.3h0M277.6 237.6h0M276.1 236.9h0M275.7 237.5h0M277.8 237.1h0M278.6 233.5h0M286.0 237.6h0M285.2 238.3h0M279.3 232.1h0M281.9 235.9h0M279.3 239.3h0M280.2 234.3h0M278.2 236.3h0M282.2 233.0h0M282.9 236.1h0M280.2 239.0h0M277.4 237.7h0M282.6 232.1h0M282.5 233.5h0M282.2 236.1h0M281.3 235.6h0M280.9 234.8h0M278.8 228.5h0M277.3 235.2h0M278.4 233.9h0M278.3 234.6h0M293.3 240.0h0M293.2 238.5h0M292.8 238.0h0M292.9 239.0h0M292.5 239.7h0M294.2 239.2h0M292.7 238.2h0M292.4 238.6h0M292.9 239.9h0M293.2 240.6h0M293.4 239.4h0M293.3 237.9h0M293.0 238.6h0M299.0 234.3h0M293.9 238.6h0M296.7 235.8h0M294.2 238.2h0M302.4 231.2h0M300.0 232.9h0M301.7 231.8h0M302.4 230.6h0M300.2 232.8h0M302.7 230.6h0M298.3 234.5h0M298.8 234.4h0M295.6 236.9h0M297.8 235.0h0M296.6 236.2h0M300.2 232.6h0M302.8 231.0h0M297.6 234.8h0M303.7 229.8h0M301.0 232.0h0M300.6 232.4h0M295.5 237.5h0M301.9 231.6h0M294.9 237.2h0M294.7 237.6h0M301.7 231.6h0M300.5 232.4h0M297.8 235.0h0M301.7 231.5h0M293.6 238.5h0M298.0 235.4h0M298.5 234.4h0M295.2 237.4h0M297.3 235.0h0M302.5 231.3h0M297.1 235.2h0M293.9 238.2h0M297.7 234.6h0M297.5 235.2h0M294.7 237.5h0M297.3 235.1h0M300.9 231.8h0M300.3 232.6h0M299.0 233.4h0M301.4 232.1h0M296.3 236.9h0M297.9 234.7h0M301.9 231.2h0M297.5 235.7h0M298.1 234.7h0M295.3 237.1h0M297.3 234.9h0M300.3 232.8h0M298.4 234.4h0M298.5 234.8h0M300.7 232.0h0M294.6 237.6h0M297.1 235.3h0M301.9 231.5h0M296.8 235.6h0M299.2 233.9h0M297.1 235.5h0M304.7 229.1h0M304.4 228.7h0M309.8 225.5h0M307.2 228.3h0M307.5 227.0h0M310.4 225.2h0M308.8 227.8h0M309.1 226.1h0M307.9 225.8h0M307.9 226.4h0M308.7 226.7h0M308.3 226.8h0M307.1 229.0h0M305.1 229.5h0M305.2 227.7h0M307.8 226.2h0M308.7 227.7h0M310.0 226.2h0M309.8 226.9h0M307.6 227.9h0M306.8 227.2h0M306.2 226.7h0M308.1 225.8h0M305.2 229.9h0M308.8 227.4h0M305.0 228.5h0M310.4 226.9h0M307.5 228.0h0M305.9 228.5h0M307.8 228.6h0M305.5 228.4h0M309.8 227.0h0M304.7 229.1h0M306.0 227.9h0M307.4 227.8h0M308.0 228.3h0M308.7 226.2h0M306.3 228.4h0M304.7 229.9h0M307.2 227.7h0M309.0 228.1h0M305.8 227.6h0M309.0 227.1h0M306.8 227.5h0M309.1 226.4h0M303.6 230.1h0M309.3 226.8h0M307.6 226.7h0M309.6 227.6h0M305.7 228.4h0M306.9 228.8h0M305.6 227.9h0M308.4 226.4h0M305.5 229.6h0M306.8 228.7h0M306.0 228.4h0M308.0 228.5h0M308.0 227.5h0M305.1 229.1h0M307.5 227.4h0M308.2 227.2h0M307.2 227.7h0M307.8 226.9h0M307.8 227.5h0M306.0 229.0h0M308.6 226.5h0M308.7 226.9h0M303.3 228.3h0M306.4 227.3h0M307.8 226.5h0M309.6 225.5h0M305.3 228.2h0M307.1 226.6h0M306.5 229.3h0M343.6 189.2h0M345.3 192.3h0M346.5 192.3h0M344.9 194.0h0M344.4 190.1h0M344.3 190.4h0M344.2 188.9h0M344.5 189.3h0M345.1 193.2h0M345.3 191.9h0M344.0 195.5h0M345.6 193.4h0M344.9 190.9h0M344.0 191.7h0M344.0 193.6h0M345.4 190.0h0M346.2 189.3h0M344.4 194.0h0M345.3 191.6h0M344.4 194.8h0M345.7 189.9h0M345.8 191.1h0M344.9 189.4h0M343.7 188.8h0M346.3 191.3h0M345.6 191.7h0M345.7 190.2h0M345.9 192.4h0M345.1 190.3h0M344.6 192.4h0M346.2 190.5h0M343.8 190.7h0M345.0 189.4h0M346.7 191.4h0M344.1 194.3h0M344.2 193.8h0M344.1 194.8h0M343.5 198.1h0M345.0 193.9h0M339.9 204.4h0M357.5 218.2h0M358.0 218.2h0M352.0 218.7h0M346.8 218.6h0M354.4 218.8h0M351.0 218.6h0M357.5 218.2h0M356.5 218.8h0M347.5 218.2h0M352.8 217.8h0M352.2 218.2h0M353.5 218.7h0M354.3 218.5h0M348.6 218.7h0M352.1 218.1h0M357.6 219.3h0M354.9 218.3h0M356.0 218.5h0M356.5 218.4h0M351.1 218.9h0M353.6 218.8h0M349.2 217.9h0M352.2 218.1h0M347.0 218.7h0M349.1 218.6h0M352.9 219.1h0M356.5 219.2h0M353.9 219.1h0M352.8 218.2h0M357.2 219.4h0M355.1 218.6h0M351.3 219.2h0M354.6 217.8h0M357.5 219.5h0M349.7 218.8h0M355.4 218.5h0M350.2 218.6h0M346.0 224.0h0M351.6 223.4h0M355.0 224.0h0M349.0 222.0h0M353.0 226.5h0M347.5 221.0h0M362.8 291.3h0M363.0 291.7h0M364.4 290.9h0M363.0 290.8h0M363.0 289.7h0M361.8 291.1h0M363.4 290.3h0M364.1 290.8h0M363.5 290.0h0M361.3 291.3h0M362.9 291.6h0M363.8 291.8h0M362.1 290.7h0M363.6 289.9h0M349.0 218.3h0M344.5 196.2h0M337.6 207.9h0M346.8 192.0h0M346.8 218.8h0M340.6 204.6h0M349.0 218.2h0M337.9 208.5h0M289.5 241.3h0M344.8 188.6h0M280.1 239.8h0M273.2 242.7h0M345.4 193.7h0M283.6 238.5h0M284.9 238.7h0M272.6 244.1h0M345.8 193.5h0M279.5 239.8h0M279.2 266.8h0M338.7 206.3h0M344.6 196.1h0M344.7 195.3h0M283.3 238.8h0M284.6 238.8h0M276.4 241.7h0M274.6 242.0h0M339.3 205.6h0M344.0 198.0h0M345.2 195.0h0M347.1 189.8h0M283.0 238.4h0M284.2 238.9h0M345.7 218.5h0M340.0 205.5h0M348.4 217.6h0M273.4 243.5h0M346.1 193.1h0M345.3 195.3h0M274.0 242.8h0M338.8 206.9h0M272.3 244.4h0M279.5 240.0h0M277.7 241.3h0M285.0 238.9h0M284.3 239.0h0M347.3 218.5h0M345.2 195.0h0M345.3 218.5h0M348.8 217.8h0M344.8 194.9h0M274.1 243.6h0M272.8 243.5h0M274.8 242.9h0M337.9 208.0h0M344.9 188.0h0M344.5 197.3h0M279.0 267.2h0M278.9 240.8h0M346.5 192.5h0M287.3 239.7h0M278.9 267.1h0M280.3 240.1h0M342.2 203.7h0M273.9 243.0h0M274.1 243.6h0M343.9 197.8h0M338.3 207.4h0M345.9 194.4h0M344.2 198.3h0M273.9 243.5h0M284.2 238.7h0M344.1 187.8h0M344.6 197.1h0M274.8 242.3h0M285.7 239.2h0M274.3 243.3h0M283.8 238.7h0M283.4 239.0h0M339.3 206.6h0M280.3 240.1h0M283.4 238.8h0M274.0 243.3h0M338.7 208.1h0M346.2 194.3h0M346.4 188.8h0M343.1 204.4h0M338.0 209.4h0M273.7 243.5h0M280.1 240.1h0M338.4 208.6h0M338.5 207.5h0M283.4 239.2h0M273.5 243.6h0M344.9 188.1h0M344.9 197.3h0M283.8 239.0h0M346.3 217.9h0M345.5 194.5h0M344.6 196.7h0M343.1 237.8h0M344.3 187.4h0M285.9 239.1h0M290.3 242.5h0M345.1 195.2h0M283.3 239.0h0M345.4 195.4h0M344.8 197.4h0M284.1 239.1h0M285.1 239.3h0M339.2 207.3h0M338.8 209.0h0M346.0 193.7h0M346.2 218.3h0M285.2 239.0h0M345.1 197.0h0M345.1 197.2h0M289.0 240.9h0M345.7 217.5h0M345.6 188.6h0M347.0 192.5h0M340.5 205.3h0M338.5 209.5h0M338.2 209.1h0M345.2 196.3h0M339.3 208.0h0M274.0 243.3h0M343.7 204.7h0M346.2 193.7h0M344.9 196.7h0M274.9 243.3h0M344.8 196.7h0M285.6 239.6h0M339.5 207.0h0M345.6 196.1h0M345.9 188.2h0M345.4 196.6h0M344.9 217.9h0M281.7 239.7h0M286.0 239.4h0M344.1 204.7h0M287.4 240.3h0M339.2 208.2h0M340.1 206.2h0M273.9 243.6h0M339.4 208.0h0M273.8 244.2h0M346.3 193.9h0M273.8 244.3h0M274.1 243.6h0M285.3 239.6h0M344.7 199.0h0M345.1 196.4h0M285.2 239.8h0M280.0 240.5h0M278.6 242.1h0M345.8 196.0h0M280.2 240.2h0M290.9 245.3h0M345.1 196.7h0M338.5 212.6h0M339.2 213.2h0M289.9 243.3h0M346.2 194.3h0M345.6 205.0h0M277.2 265.4h0M339.4 213.2h0M347.3 193.6h0M284.8 239.4h0M338.9 212.4h0M345.8 188.3h0M289.9 244.0h0M278.9 265.3h0M346.2 194.5h0M272.3 246.3h0M338.4 209.0h0M280.0 265.2h0M346.0 196.2h0M278.3 265.4h0M343.0 204.8h0M346.2 188.3h0M338.6 212.8h0M346.5 195.0h0M339.4 212.5h0M279.6 241.6h0M339.4 212.7h0M346.5 195.1h0M279.3 265.6h0M345.2 204.6h0M279.7 240.8h0M282.9 239.5h0M343.9 186.1h0M276.2 264.4h0M289.1 242.6h0M346.0 196.3h0M344.9 204.8h0M279.7 265.5h0M342.5 184.1h0M340.2 207.2h0M284.3 239.3h0M344.8 199.5h0M350.8 189.2h0M344.7 198.7h0M344.8 205.1h0M343.1 205.6h0M342.9 205.5h0M344.5 204.5h0M279.0 265.1h0M272.6 246.1h0M344.8 200.1h0M275.5 263.9h0M277.4 243.0h0M278.7 242.9h0M342.3 205.4h0M279.8 265.6h0M345.4 197.0h0M284.2 239.7h0M276.6 264.2h0M284.7 239.4h0M272.9 246.0h0M278.8 264.9h0M285.5 239.6h0M345.5 197.6h0M339.2 213.0h0M339.5 210.6h0M277.2 243.8h0M338.9 209.1h0M279.0 265.2h0M278.6 242.9h0M280.0 241.4h0M339.8 213.0h0M339.9 208.9h0M289.9 244.8h0M279.9 241.8h0M289.9 243.6h0M345.9 204.2h0M344.4 186.2h0M339.6 210.3h0M340.4 207.0h0M277.0 243.2h0M343.2 205.0h0M339.8 212.9h0M339.3 211.1h0M273.7 244.8h0M344.2 205.2h0M276.3 264.2h0M345.8 195.9h0M277.6 265.1h0M282.8 240.2h0M273.8 245.3h0M344.8 199.9h0M279.8 264.9h0M285.1 240.0h0M340.2 207.7h0M278.9 242.9h0M342.5 206.0h0M345.2 197.6h0M342.5 206.2h0M351.2 189.7h0M345.7 204.1h0M344.7 205.3h0M279.9 265.3h0M339.3 209.2h0M344.8 205.1h0M275.5 263.9h0M277.6 243.6h0M340.1 209.3h0M343.2 206.4h0M278.3 242.9h0M276.1 264.2h0M277.3 244.3h0M345.8 197.5h0M339.8 208.7h0M273.2 246.0h0M276.3 263.9h0M346.9 195.2h0M343.0 205.7h0M345.9 196.8h0M275.0 262.9h0M289.7 245.1h0M285.3 239.9h0M345.7 197.1h0M342.8 183.5h0M289.9 245.9h0M346.2 205.3h0M340.2 213.2h0M340.5 209.8h0M346.6 195.8h0M340.1 212.4h0M278.3 243.2h0M340.1 212.4h0M341.5 207.9h0M345.9 196.9h0M347.5 194.3h0M341.1 207.6h0" stroke="#362065" stroke-width="1.5" stroke-linecap="round" fill="none"/>
<path d="M288.6 242.0h0M352.1 190.7h0M341.6 207.3h0M340.0 209.5h0M276.2 264.2h0M345.8 197.7h0M344.8 205.8h0M278.3 244.1h0M345.4 199.8h0M339.8 209.3h0M281.5 240.5h0M346.4 205.8h0M341.5 208.2h0M289.3 242.9h0M340.4 209.3h0M346.1 196.8h0M342.5 206.4h0M345.5 206.5h0M278.3 244.0h0M341.1 207.5h0M339.9 209.1h0M346.4 204.6h0M347.0 196.1h0M343.6 206.0h0M341.1 209.2h0M339.4 211.5h0M346.1 198.6h0M279.6 242.5h0M342.7 206.5h0M339.8 209.8h0M341.0 208.0h0M340.4 210.1h0M277.5 264.0h0M339.8 209.3h0M345.9 204.6h0M345.5 198.4h0M340.4 209.5h0M346.2 205.4h0M343.1 205.9h0M339.7 210.0h0M340.4 210.0h0M289.8 246.0h0M341.0 208.7h0M273.3 247.6h0M340.7 212.4h0M349.0 208.5h0M281.3 240.9h0M278.6 264.5h0M289.3 249.1h0M340.4 212.9h0M340.2 208.7h0M273.0 247.1h0M341.0 213.4h0M346.4 206.0h0M344.3 207.0h0M273.4 246.9h0M339.8 209.3h0M347.1 205.9h0M346.0 206.3h0M346.0 186.4h0M349.7 209.3h0M345.4 200.4h0M340.0 210.6h0M347.6 207.4h0M340.4 209.9h0M280.3 242.2h0M288.4 242.6h0M343.7 206.9h0M343.9 206.5h0M280.5 263.6h0M346.6 205.6h0M354.9 233.6h0M279.1 244.6h0M278.9 243.2h0M341.6 209.2h0M341.4 209.7h0M279.4 242.5h0M276.2 263.4h0M275.9 262.4h0M276.0 263.4h0M340.5 208.8h0M348.5 209.6h0M347.8 194.9h0M347.1 206.6h0M278.8 243.8h0M289.6 245.9h0M340.8 208.5h0M341.2 209.0h0M345.4 206.8h0M341.1 212.5h0M349.1 209.2h0M340.0 210.2h0M348.6 212.2h0M340.7 209.4h0M345.8 186.6h0M343.8 206.8h0M340.8 208.8h0M341.0 210.3h0M347.0 197.0h0M347.2 206.1h0M354.9 233.9h0M277.2 244.4h0M280.3 242.0h0M348.1 207.8h0M341.1 207.8h0M341.2 207.8h0M275.7 246.2h0M347.1 205.4h0M347.1 196.8h0M345.9 199.4h0M346.8 196.1h0M345.5 207.1h0M344.6 206.7h0M277.2 245.3h0M344.6 185.0h0M343.1 183.2h0M346.9 196.2h0M346.3 185.9h0M355.0 233.6h0M347.3 207.5h0M354.5 232.2h0M346.1 214.3h0M348.4 211.6h0M282.5 263.4h0M347.1 204.9h0M341.3 210.4h0M344.6 206.7h0M342.4 208.3h0M344.9 184.5h0M341.0 209.0h0M275.9 246.1h0M280.2 264.0h0M280.7 241.7h0M343.2 183.6h0M343.6 206.8h0M345.6 206.3h0M341.9 208.7h0M340.7 210.5h0M349.7 208.9h0M346.8 205.3h0M345.6 185.1h0M344.3 207.5h0M277.0 244.6h0M278.7 263.3h0M281.0 263.2h0M354.7 234.1h0M345.0 207.9h0M346.7 197.7h0M279.3 243.2h0M342.2 209.4h0M350.6 192.3h0M341.2 209.5h0M279.1 263.9h0M289.1 245.3h0M345.2 206.6h0M349.2 208.8h0M342.2 209.7h0M344.9 206.6h0M347.4 206.5h0M289.2 244.6h0M278.2 244.7h0M341.3 213.1h0M348.5 207.3h0M345.4 206.6h0M347.2 205.7h0M379.5 233.8h0M279.6 243.2h0M279.8 262.8h0M348.0 211.7h0M279.2 243.9h0M345.2 207.7h0M347.4 205.8h0M340.8 211.5h0M345.5 206.8h0M279.5 244.3h0M345.3 214.5h0M279.6 243.9h0M346.8 202.6h0M341.4 211.4h0M347.1 214.0h0M342.1 208.3h0M341.5 212.8h0M280.9 263.9h0M344.7 184.3h0M349.4 209.0h0M347.7 210.4h0M279.5 243.9h0M343.2 183.4h0M340.8 210.1h0M344.6 206.5h0M345.7 207.3h0M277.7 245.6h0M346.7 208.8h0M341.9 208.4h0M347.7 210.4h0M346.5 197.2h0M342.1 213.0h0M342.2 209.6h0M347.9 212.2h0M343.2 207.1h0M347.9 211.1h0M340.6 210.1h0M343.4 208.1h0M278.5 244.6h0M342.0 210.7h0M341.9 209.0h0M345.4 184.7h0M281.5 241.7h0M346.9 207.6h0M345.5 207.1h0M341.2 212.2h0M276.2 246.5h0M344.9 208.4h0M345.8 207.6h0M385.9 189.5h0M279.8 243.0h0M282.2 262.8h0M279.6 244.5h0M343.5 236.3h0M346.7 207.8h0M344.6 207.3h0M341.7 211.8h0M344.6 207.2h0M280.9 263.8h0M343.8 236.9h0M346.6 208.8h0M345.0 184.0h0M341.6 210.3h0M343.3 207.4h0M347.5 211.6h0M341.2 211.2h0M347.4 205.6h0M345.5 208.8h0M280.4 243.0h0M341.4 209.2h0M347.9 210.2h0M280.2 243.2h0M346.9 197.9h0M346.0 214.3h0M281.5 242.0h0M346.5 207.9h0M278.3 246.1h0M342.4 210.4h0M342.0 208.9h0M343.0 209.6h0M346.0 185.9h0M342.5 210.1h0M282.8 262.8h0M345.0 208.6h0M346.5 198.7h0M345.7 209.1h0M347.1 209.0h0M343.6 209.3h0M347.1 207.4h0M341.1 211.3h0M346.4 207.8h0M288.0 243.8h0M278.6 245.6h0M346.8 209.0h0M275.6 260.9h0M346.8 207.7h0M346.7 186.0h0M342.0 209.3h0M347.1 198.1h0M345.5 208.8h0M381.0 189.0h0M342.5 211.2h0M281.9 263.0h0M276.0 260.5h0M344.5 213.0h0M341.8 210.6h0M345.1 208.7h0M343.8 183.8h0M342.0 209.6h0M344.4 207.2h0M353.3 229.9h0M282.2 263.0h0M347.9 209.5h0M346.5 209.0h0M347.4 196.6h0M342.5 210.6h0M280.1 243.6h0M385.3 190.1h0M347.0 207.7h0M342.1 209.5h0M346.3 208.3h0M288.9 249.7h0M342.3 211.5h0M288.0 244.1h0M385.9 189.6h0M387.6 191.2h0M344.8 207.7h0M347.9 211.8h0M381.3 189.0h0M287.2 248.8h0M346.7 208.7h0M345.5 208.5h0M343.0 213.2h0M346.1 208.5h0M280.3 263.1h0M347.9 211.3h0M342.4 210.6h0M343.3 209.2h0M354.4 232.8h0M345.2 213.0h0M349.7 209.0h0M345.3 209.5h0M343.3 211.7h0M274.0 249.7h0M343.3 212.0h0M343.1 207.7h0M344.4 207.6h0M346.9 203.9h0M278.1 245.6h0M344.5 207.6h0M345.8 207.4h0M343.9 208.2h0M343.3 209.0h0M342.9 210.4h0M274.3 247.4h0M341.8 210.4h0M343.8 208.1h0M342.7 211.3h0M354.6 232.8h0M348.1 209.6h0M345.5 209.3h0M276.9 246.3h0M380.6 188.8h0M279.8 243.4h0M275.2 247.0h0M342.3 211.9h0M281.0 262.1h0M345.0 184.5h0M347.5 209.6h0M275.5 260.5h0M347.3 211.1h0M346.0 208.0h0M342.1 210.3h0M342.1 210.0h0M351.3 193.0h0M344.7 212.5h0M345.3 213.8h0M344.3 209.3h0M347.2 210.7h0M346.8 197.8h0M344.5 211.9h0M342.2 211.4h0M344.0 207.7h0M344.4 209.9h0M346.0 211.4h0M286.9 242.4h0M282.0 262.7h0M278.8 246.4h0M276.9 261.0h0M345.5 184.5h0M343.9 210.7h0M345.0 210.7h0M347.1 210.2h0M342.5 210.3h0M347.1 209.5h0M343.9 208.1h0M288.8 249.2h0M346.7 211.6h0M277.4 245.8h0M346.9 208.9h0M342.5 211.0h0M287.8 244.9h0M344.0 210.9h0M276.1 247.5h0M281.9 262.9h0M282.2 262.5h0M343.1 211.2h0M281.5 242.1h0M279.6 244.1h0M346.6 185.5h0M348.0 210.6h0M342.3 211.9h0M353.9 231.1h0M347.1 204.2h0M279.7 262.7h0M385.5 190.1h0M359.7 190.6h0M343.5 211.2h0M343.6 212.3h0M345.5 207.8h0M342.1 209.3h0M277.7 246.9h0M273.6 250.4h0M354.2 232.7h0M282.0 261.6h0M342.9 209.0h0M346.5 208.9h0M346.6 208.5h0M366.4 198.2h0M344.7 208.7h0M344.0 212.0h0M273.9 251.3h0M346.8 208.6h0M387.7 191.2h0M272.9 252.1h0M344.0 211.9h0M350.1 208.0h0M347.5 211.3h0M343.4 211.3h0M281.3 242.4h0M346.8 210.5h0M345.6 212.0h0M345.6 212.2h0M344.1 236.1h0M347.2 204.0h0M344.4 210.4h0M342.6 210.8h0M274.1 251.2h0M345.2 209.5h0M342.5 212.0h0M345.0 212.4h0M346.8 209.4h0M342.1 211.6h0M345.2 207.8h0M279.7 244.2h0M281.0 262.0h0M388.2 192.0h0M342.2 210.9h0M276.5 260.8h0M342.2 209.3h0M281.2 243.4h0M288.0 248.6h0M274.4 250.6h0M344.5 212.0h0M342.7 213.1h0M344.2 208.1h0M345.1 208.4h0M275.5 247.7h0M344.7 210.6h0M342.9 210.8h0M353.1 231.0h0M342.0 211.0h0M279.5 246.4h0M342.1 210.3h0M276.4 247.8h0M345.5 184.1h0M344.8 213.2h0M344.8 212.9h0M343.6 211.7h0M343.3 210.8h0M345.8 209.9h0M342.6 210.1h0M276.0 260.1h0M281.3 242.8h0M345.4 208.7h0M343.9 210.6h0M344.5 237.1h0M347.7 212.1h0M281.2 262.4h0M342.3 210.3h0M345.1 210.0h0" stroke="#3a296e" stroke-width="1.5" stroke-linecap="round" fill="none"/>
<path d="M381.9 188.9h0M281.3 262.8h0M287.2 249.6h0M345.2 213.0h0M345.0 208.3h0M349.2 229.0h0M345.3 210.4h0M278.4 247.1h0M342.6 211.0h0M344.2 212.6h0M343.9 211.0h0M344.1 208.3h0M345.2 237.6h0M348.6 186.2h0M344.5 209.9h0M345.2 213.4h0M343.5 211.8h0M347.3 197.8h0M381.5 189.4h0M344.6 208.1h0M354.2 232.3h0M347.7 211.1h0M343.7 209.8h0M347.9 211.4h0M287.8 250.1h0M345.7 210.8h0M280.2 246.5h0M345.6 212.2h0M344.8 212.7h0M347.5 211.0h0M273.7 253.7h0M359.6 190.0h0M346.1 211.1h0M344.7 210.8h0M282.1 262.1h0M278.6 246.9h0M279.9 246.0h0M344.2 210.5h0M282.0 262.4h0M278.4 246.8h0M281.7 262.6h0M346.8 209.5h0M347.5 211.6h0M273.9 250.8h0M387.7 191.8h0M346.7 210.2h0M344.4 212.5h0M287.1 249.8h0M342.6 212.1h0M351.2 229.4h0M279.9 244.4h0M344.7 209.0h0M279.7 246.0h0M345.7 208.6h0M350.6 229.0h0M287.5 243.7h0M279.9 244.4h0M281.5 262.5h0M346.2 209.6h0M342.4 210.5h0M287.9 250.5h0M347.5 210.6h0M354.0 232.7h0M276.8 248.5h0M344.2 211.5h0M362.4 191.8h0M349.0 186.2h0M287.7 244.5h0M347.2 211.4h0M358.9 191.7h0M277.4 248.1h0M279.7 247.0h0M343.9 209.1h0M360.6 190.4h0M286.8 248.3h0M344.1 212.1h0M347.3 210.7h0M343.8 211.2h0M279.9 246.1h0M346.3 212.8h0M280.9 244.4h0M360.3 190.4h0M347.5 198.2h0M343.6 212.4h0M360.1 190.2h0M346.9 211.4h0M343.8 212.8h0M346.1 211.6h0M274.7 259.3h0M345.1 210.2h0M344.8 210.1h0M273.9 253.3h0M354.0 188.4h0M274.4 255.7h0M360.6 190.8h0M275.9 247.8h0M276.6 259.3h0M343.1 210.3h0M359.7 190.5h0M277.9 259.9h0M279.5 246.6h0M347.2 211.0h0M388.0 191.6h0M287.7 250.4h0M280.4 261.5h0M345.6 212.0h0M350.0 228.7h0M343.3 210.8h0M276.5 259.7h0M347.4 198.4h0M285.7 249.0h0M274.5 251.3h0M277.4 248.6h0M346.1 209.7h0M346.2 184.9h0M347.9 204.9h0M344.6 212.3h0M388.0 192.1h0M367.7 198.4h0M279.5 246.1h0M381.6 189.7h0M382.7 189.6h0M345.0 212.4h0M277.9 260.0h0M277.8 259.6h0M350.7 229.2h0M286.7 249.2h0M343.1 211.3h0M281.9 260.5h0M350.4 208.0h0M275.1 249.9h0M343.5 210.8h0M278.5 246.4h0M351.7 229.7h0M365.1 196.9h0M347.8 197.4h0M274.5 252.3h0M366.7 197.8h0M279.4 247.9h0M344.1 210.1h0M345.4 209.7h0M287.2 244.9h0M345.1 210.5h0M287.6 252.1h0M277.0 249.1h0M275.8 249.9h0M280.4 244.3h0M344.3 236.4h0M281.7 261.8h0M286.8 248.6h0M346.2 183.4h0M274.7 252.1h0M353.9 187.5h0M274.5 254.1h0M364.9 195.9h0M349.2 185.5h0M362.6 191.9h0M275.6 249.4h0M280.8 244.4h0M274.6 254.1h0M287.3 251.9h0M358.5 189.1h0M278.5 260.7h0M347.8 198.4h0M277.6 259.7h0M356.1 192.2h0M346.4 184.7h0M344.9 211.1h0M283.3 259.7h0M360.4 192.6h0M363.3 193.3h0M278.5 259.4h0M287.3 244.7h0M349.2 229.4h0M283.9 242.6h0M285.4 243.3h0M384.4 190.6h0M275.0 252.5h0M362.3 192.2h0M279.9 247.9h0M286.3 250.0h0M365.8 197.6h0M284.0 249.0h0M278.1 260.1h0M280.5 244.2h0M372.3 232.8h0M354.0 232.6h0M275.3 251.7h0M284.7 248.8h0M283.7 242.2h0M287.5 254.4h0M288.3 252.8h0M284.4 249.0h0M286.9 252.9h0M286.5 252.4h0M349.4 186.1h0M287.0 248.7h0M286.7 248.7h0M275.4 255.0h0M277.5 248.4h0M275.3 251.5h0M276.8 258.1h0M350.8 229.5h0M283.4 259.2h0M286.9 245.6h0M286.3 251.9h0M283.4 259.3h0M286.3 251.7h0M276.2 248.3h0M357.0 192.4h0M279.5 246.7h0M280.1 246.5h0M286.3 256.7h0M278.3 259.3h0M277.9 248.5h0M276.0 249.3h0M277.6 259.3h0M277.5 247.8h0M287.3 244.7h0M371.6 232.6h0M275.9 249.7h0M275.7 249.8h0M278.3 247.6h0M285.6 243.3h0M360.0 190.1h0M353.7 233.1h0M280.2 245.9h0M345.8 183.4h0M280.5 260.5h0M362.4 193.7h0M285.1 243.5h0M286.6 252.3h0M286.6 249.8h0M277.3 257.8h0M277.5 259.7h0M282.8 260.0h0M284.0 243.3h0M284.8 249.7h0M287.2 250.9h0M353.8 234.1h0M278.6 259.9h0M287.5 250.8h0M284.0 249.4h0M283.8 243.4h0M277.9 259.2h0M348.9 185.2h0M275.3 251.8h0M284.7 249.3h0M350.2 229.3h0M356.5 192.0h0M286.3 257.0h0M281.7 260.1h0M279.3 248.8h0M286.3 243.7h0M287.4 253.4h0M287.5 251.0h0M276.6 248.9h0M286.4 248.0h0M350.9 230.1h0M282.9 260.2h0M274.9 251.1h0M284.6 257.6h0M281.0 244.4h0M286.9 253.9h0M277.0 258.9h0M275.5 252.0h0M285.9 247.8h0M275.5 254.7h0M276.7 259.5h0M278.5 259.4h0M286.7 244.4h0M277.4 249.9h0M345.8 182.8h0M277.5 248.4h0M286.0 249.0h0M347.9 184.3h0M276.3 256.6h0M277.4 258.0h0M275.9 253.6h0M284.6 243.1h0M276.2 259.3h0M367.5 199.3h0M274.6 251.1h0M349.4 229.4h0M365.5 196.2h0M282.3 249.2h0M285.6 251.2h0M276.3 257.7h0M285.7 242.8h0M278.0 259.4h0M275.5 252.1h0M286.0 244.1h0M274.1 252.9h0M275.1 255.1h0M386.3 192.1h0M274.8 251.5h0M276.7 257.1h0M352.8 232.1h0M285.7 252.7h0M287.2 253.5h0M278.5 259.9h0M361.0 193.7h0M277.3 257.0h0M274.2 253.3h0M282.2 259.2h0M285.2 248.1h0M284.5 257.5h0M282.9 248.6h0M353.5 232.8h0M277.1 258.5h0M282.8 243.9h0M280.4 260.2h0M384.8 190.8h0M283.4 242.9h0M275.0 252.8h0M278.9 248.7h0M275.4 252.7h0M378.9 189.4h0M287.2 245.5h0M284.9 257.8h0M344.8 235.1h0M283.0 258.9h0M285.9 251.8h0M352.7 231.1h0M361.6 194.2h0M277.6 259.7h0M284.2 242.7h0M385.4 191.5h0M282.6 259.0h0M276.8 257.4h0M365.3 196.4h0M283.2 249.8h0M285.5 253.5h0M353.7 234.3h0M285.6 248.4h0M281.0 246.5h0M284.7 249.9h0M280.3 248.1h0M346.3 237.2h0M285.2 257.2h0M286.4 245.6h0M372.7 232.7h0M345.2 181.2h0M277.8 250.0h0M275.0 252.2h0M286.5 250.1h0M348.7 185.0h0M280.7 249.1h0M346.6 182.7h0M348.1 184.7h0M276.5 253.9h0M275.1 252.9h0M285.4 253.8h0M276.8 249.7h0M282.6 258.8h0M284.4 247.9h0M385.4 191.5h0" stroke="#3e3277" stroke-width="1.5" stroke-linecap="round" fill="none"/>
<path d="M349.2 229.5h0M384.8 191.4h0M365.3 196.1h0M278.0 258.7h0M274.9 254.1h0M278.6 259.2h0M284.7 243.5h0M277.9 248.2h0M284.8 243.4h0M353.1 231.8h0M284.9 247.6h0M278.0 257.8h0M285.4 247.1h0M277.2 259.4h0M284.1 243.9h0M384.4 190.8h0M276.1 253.6h0M285.7 256.9h0M285.0 248.7h0M276.5 254.1h0M283.8 248.3h0M280.8 249.8h0M350.2 205.7h0M276.5 253.6h0M362.0 189.0h0M364.9 195.3h0M285.8 243.5h0M278.9 249.3h0M280.1 247.7h0M386.6 192.7h0M284.1 247.7h0M276.1 256.2h0M345.6 236.5h0M385.8 192.2h0M286.1 243.8h0M276.3 252.9h0M286.3 250.3h0M350.9 230.1h0M285.3 252.2h0M283.1 244.3h0M361.4 188.7h0M285.6 252.3h0M365.3 196.2h0M352.7 231.2h0M345.8 181.0h0M283.0 248.6h0M380.1 231.9h0M283.9 249.1h0M285.0 251.3h0M282.2 258.1h0M386.3 192.3h0M282.2 260.3h0M352.1 231.3h0M282.6 260.1h0M385.6 191.5h0M372.5 232.5h0M282.4 257.9h0M285.8 243.6h0M276.6 255.9h0M282.4 247.0h0M277.3 259.1h0M344.6 234.0h0M282.6 259.0h0M355.0 192.9h0M275.8 250.4h0M277.6 256.4h0M282.7 258.5h0M276.7 253.1h0M275.9 250.3h0M379.6 232.0h0M349.3 229.9h0M279.8 257.8h0M280.9 259.8h0M278.2 258.2h0M278.6 259.7h0M281.6 249.8h0M286.9 246.3h0M350.7 230.0h0M286.4 246.0h0M350.6 205.6h0M277.8 257.2h0M282.5 258.3h0M284.7 253.5h0M275.0 253.4h0M276.9 256.6h0M355.8 192.4h0M282.6 244.1h0M284.2 255.4h0M286.7 245.4h0M282.8 258.8h0M284.3 250.8h0M352.5 232.3h0M276.2 253.8h0M275.7 253.1h0M286.4 244.7h0M364.9 195.7h0M283.1 246.4h0M285.1 252.9h0M351.0 230.6h0M284.7 244.9h0M286.2 252.0h0M278.7 259.5h0M360.1 193.2h0M362.0 194.1h0M279.4 257.7h0M280.7 259.7h0M284.7 253.6h0M379.6 232.2h0M346.0 237.0h0M276.4 256.3h0M281.2 250.2h0M363.7 196.3h0M277.1 253.7h0M286.8 252.3h0M277.0 253.9h0M276.9 258.3h0M278.8 257.4h0M348.5 229.5h0M283.8 251.7h0M282.8 244.1h0M282.0 250.1h0M347.5 183.1h0M349.7 230.3h0M284.2 256.6h0M286.0 251.9h0M280.2 258.9h0M282.1 244.5h0M348.1 184.5h0M285.6 253.6h0M281.9 249.7h0M279.9 258.1h0M282.6 259.3h0M283.6 249.8h0M284.4 253.7h0M347.6 182.7h0M351.9 230.5h0M282.9 246.8h0M350.9 230.3h0M275.6 256.4h0M277.8 258.7h0M276.9 255.5h0M364.3 198.1h0M281.2 248.5h0M286.1 251.4h0M278.3 258.1h0M279.1 256.4h0M275.6 252.2h0M282.7 259.5h0M361.1 188.9h0M281.8 249.7h0M383.8 191.7h0M275.8 254.3h0M282.5 259.5h0M284.7 252.5h0M286.7 245.9h0M363.2 190.1h0M277.0 258.2h0M284.6 244.0h0M386.0 192.2h0M275.6 253.7h0M277.4 255.7h0M351.5 230.4h0M284.5 257.5h0M282.9 250.2h0M285.8 246.3h0M281.0 250.1h0M278.0 250.2h0M283.9 244.4h0M277.2 252.3h0M350.5 229.9h0M282.7 258.0h0M276.1 256.3h0M282.9 249.0h0M281.5 250.1h0M277.3 255.8h0M284.3 251.1h0M379.5 232.0h0M277.3 256.6h0M284.5 250.5h0M283.9 247.1h0M348.1 230.3h0M279.4 259.5h0M368.3 221.4h0M348.0 183.9h0M281.6 250.6h0M345.8 232.1h0M284.3 250.2h0M276.8 251.9h0M277.0 255.3h0M286.3 252.1h0M281.8 248.6h0M277.2 257.4h0M351.1 206.1h0M344.9 234.7h0M282.5 259.3h0M284.1 252.3h0M284.6 248.4h0M278.2 258.7h0M379.7 231.5h0M278.4 259.0h0M284.2 245.0h0M282.8 246.8h0M352.4 231.6h0M280.7 249.6h0M277.8 250.9h0M285.6 253.8h0M385.9 191.9h0M280.0 250.5h0M282.3 244.4h0M285.8 251.7h0M383.2 191.2h0M387.0 192.9h0M275.8 255.1h0M361.2 188.2h0M284.9 250.3h0M277.9 258.4h0M277.0 256.4h0M275.9 254.1h0M346.0 179.7h0M284.3 257.7h0M279.6 250.4h0M284.5 250.0h0M285.7 247.1h0M276.7 256.0h0M283.8 243.8h0M276.0 254.4h0M276.7 255.9h0M349.7 229.7h0M282.1 258.0h0M281.7 257.8h0M360.9 193.6h0M280.4 249.2h0M283.4 244.2h0M277.2 254.3h0M285.4 246.5h0M283.7 243.6h0M278.1 252.9h0M284.2 254.0h0M283.6 247.7h0M277.5 255.5h0M386.6 192.7h0M386.0 192.7h0M277.1 255.0h0M282.8 258.6h0M276.2 255.5h0M284.3 251.7h0M351.3 230.7h0M277.4 256.0h0M347.6 182.3h0M383.7 191.6h0M283.3 251.5h0M281.3 249.9h0M286.3 245.5h0M277.3 254.1h0M283.7 251.3h0M276.1 253.8h0M278.5 253.9h0M280.1 250.8h0M275.7 253.7h0M284.3 258.0h0M276.7 253.8h0M278.3 254.1h0M283.8 247.8h0M283.7 243.7h0M348.4 183.7h0M282.1 257.5h0M281.8 255.2h0M277.7 254.0h0M285.7 244.9h0M284.1 250.9h0M346.2 181.1h0M284.0 249.7h0M284.1 245.5h0M286.3 246.5h0M285.7 246.2h0M284.1 253.8h0M280.1 258.9h0M276.5 253.7h0M278.5 254.8h0M278.4 249.7h0M351.0 206.6h0M279.3 249.3h0M284.0 255.7h0M282.1 256.5h0M281.8 247.0h0M349.0 183.2h0M279.9 258.0h0M279.4 253.0h0M352.9 235.1h0M278.9 250.9h0M281.3 250.3h0M285.8 245.2h0M286.1 245.9h0M285.2 246.3h0M285.3 254.0h0M280.8 253.1h0M277.5 257.4h0M281.8 258.3h0M361.4 188.3h0M352.0 230.9h0M277.1 254.8h0M354.2 207.7h0M284.2 250.6h0M281.9 258.0h0M283.3 243.8h0M278.2 258.0h0M285.0 247.8h0M345.8 181.1h0M362.4 195.1h0M363.8 187.4h0M281.1 250.3h0M278.7 249.7h0M277.9 256.8h0M350.2 205.4h0M280.4 256.8h0M277.4 253.7h0M285.6 254.6h0M282.0 252.8h0M276.2 253.4h0M285.0 253.4h0M281.4 258.1h0M285.1 256.4h0M362.6 188.8h0M276.3 255.6h0M285.1 253.3h0M352.1 231.2h0M362.0 195.1h0M360.7 193.7h0M284.7 255.2h0M348.4 183.7h0M386.2 192.3h0M282.5 252.2h0M349.9 230.0h0M283.5 251.1h0M282.3 252.3h0M279.4 258.6h0M284.6 255.7h0M362.0 188.6h0M347.6 182.2h0M284.4 247.4h0M384.2 191.5h0M281.4 258.1h0M277.3 255.9h0M278.6 256.4h0M283.3 255.8h0M284.7 252.4h0M283.4 244.6h0M282.4 249.5h0M281.0 250.2h0M382.0 191.0h0M279.5 257.7h0M285.7 254.1h0M350.1 204.8h0M280.7 250.6h0M349.7 229.9h0M384.1 192.1h0M284.7 245.0h0M280.9 250.3h0M278.3 255.0h0M351.3 231.4h0M362.9 188.4h0M365.4 195.3h0M276.9 254.9h0M279.1 252.7h0M281.6 257.4h0M352.5 232.4h0M345.6 180.6h0M281.4 252.6h0M281.8 257.1h0M347.4 237.4h0M346.2 178.6h0M369.7 196.9h0M277.5 254.5h0M280.6 250.0h0M276.9 253.5h0M351.4 231.2h0M385.8 192.2h0M281.1 250.7h0M281.0 255.3h0M346.2 179.0h0M282.8 252.5h0M279.0 254.8h0M351.1 206.4h0M350.7 230.2h0M282.1 250.8h0M361.3 188.4h0M285.5 245.4h0M284.9 247.3h0M284.2 254.8h0M280.7 253.2h0M281.2 257.4h0M282.4 255.1h0M277.8 254.5h0M348.9 230.0h0M278.3 251.0h0M363.8 197.4h0" stroke="#423a80" stroke-width="1.5" stroke-linecap="round" fill="none"/>
<path d="M278.2 256.4h0M368.8 220.7h0M363.9 197.7h0M277.3 254.4h0M278.9 252.4h0M363.8 187.5h0M281.7 257.8h0M348.1 183.7h0M279.0 250.4h0M277.0 254.1h0M284.7 253.0h0M285.1 253.3h0M281.2 251.1h0M277.8 253.9h0M360.5 194.7h0M277.3 255.5h0M277.7 254.0h0M363.3 187.1h0M282.3 250.1h0M346.0 179.7h0M345.9 179.0h0M285.1 246.0h0M363.1 197.8h0M283.4 252.7h0M385.1 192.2h0M284.3 255.7h0M348.9 230.6h0M347.0 181.7h0M364.0 187.7h0M385.3 192.0h0M284.2 253.9h0M350.2 198.2h0M281.5 255.8h0M347.7 231.1h0M281.6 250.2h0M280.7 250.0h0M278.6 254.9h0M277.3 253.6h0M279.1 250.3h0M282.5 257.5h0M360.5 193.9h0M280.9 252.3h0M281.1 253.0h0M345.4 234.7h0M281.6 256.9h0M278.3 254.4h0M364.1 187.4h0M346.4 179.2h0M369.0 221.6h0M371.0 183.0h0M279.9 257.7h0M353.3 207.5h0M386.5 192.8h0M346.6 179.0h0M281.2 255.7h0M281.4 256.9h0M368.0 223.0h0M358.8 193.9h0M346.2 181.1h0M281.5 250.5h0M362.0 196.4h0M362.2 187.4h0M279.9 257.4h0M283.9 245.1h0M363.3 198.1h0M281.6 250.9h0M347.5 181.9h0M351.3 231.8h0M279.5 256.9h0M363.7 192.0h0M284.4 252.3h0M361.2 194.3h0M281.3 253.0h0M284.3 245.6h0M345.8 232.5h0M281.0 251.9h0M349.4 183.4h0M351.4 206.4h0M280.8 250.7h0M351.2 231.2h0M284.0 253.4h0M353.8 207.3h0M352.2 232.3h0M352.6 232.5h0M280.9 256.2h0M347.5 180.5h0M284.2 255.6h0M345.7 234.9h0M283.6 256.4h0M381.9 191.9h0M383.2 191.5h0M348.7 182.2h0M348.8 183.2h0M284.7 253.8h0M360.9 187.7h0M347.5 181.3h0M283.7 245.8h0M346.8 231.6h0M283.1 255.5h0M349.1 231.0h0M346.7 179.7h0M282.1 251.9h0M284.2 245.5h0M352.0 205.9h0M279.0 254.7h0M282.3 250.8h0M346.4 179.2h0M357.3 193.4h0M347.6 182.3h0M281.4 255.6h0M360.9 195.3h0M350.1 183.6h0M346.0 233.9h0M346.7 180.4h0M283.4 253.3h0M283.1 254.9h0M277.7 254.3h0M357.6 194.0h0M351.3 231.1h0M277.7 254.1h0M277.7 253.7h0M281.6 252.4h0M346.1 233.2h0M348.1 231.1h0M281.2 253.4h0M346.2 233.3h0M282.3 253.1h0M347.1 179.0h0M350.0 183.5h0M361.8 187.9h0M278.3 254.0h0M361.1 196.3h0M352.4 195.0h0M350.8 231.5h0M346.5 236.5h0M282.6 251.7h0M350.4 200.7h0M282.9 252.2h0M351.1 205.4h0M349.3 182.8h0M347.9 236.6h0M383.9 191.8h0M281.7 256.5h0M278.2 254.9h0M281.6 251.1h0M374.3 211.7h0M282.0 252.0h0M361.8 195.5h0M280.9 252.8h0M363.0 186.5h0M281.0 253.0h0M348.0 231.4h0M348.0 182.7h0M346.2 234.3h0M371.3 182.9h0M281.8 252.1h0M281.2 255.9h0M368.7 210.0h0M279.2 254.6h0M369.7 196.7h0M346.4 179.4h0M351.0 231.1h0M352.0 205.2h0M351.6 231.7h0M351.0 201.6h0M353.2 206.1h0M363.5 199.1h0M348.1 230.9h0M349.0 183.0h0M372.1 181.5h0M371.9 181.2h0M349.3 183.1h0M371.4 231.1h0M348.0 181.3h0M360.1 186.1h0M349.9 183.1h0M346.5 178.9h0M370.1 196.8h0M370.9 181.3h0M281.4 252.1h0M364.0 187.3h0M348.9 182.4h0M348.9 181.2h0M366.6 195.2h0M370.9 183.2h0M370.2 182.4h0M350.9 200.9h0M371.4 180.3h0M372.6 180.6h0M349.2 183.1h0M281.1 252.9h0M346.4 235.3h0M360.9 195.4h0M347.0 180.8h0M281.1 255.0h0M346.0 234.2h0M280.5 255.0h0M346.8 179.2h0M346.3 232.7h0M350.1 183.4h0M345.7 234.4h0M349.6 231.4h0M280.5 253.6h0M348.3 231.2h0M385.6 192.9h0M371.1 196.6h0M371.6 183.5h0M368.2 184.5h0M349.5 231.5h0M369.0 222.2h0M346.4 234.5h0M370.5 197.8h0M353.9 207.0h0M348.2 236.5h0M348.7 236.4h0M348.8 182.4h0M346.3 234.5h0" stroke="#3e4684" stroke-width="1.5" stroke-linecap="round" fill="none"/>
<path d="M366.8 195.2h0M363.5 198.7h0M369.0 183.4h0M347.6 236.0h0M349.3 182.5h0M354.5 207.0h0M348.2 231.7h0M350.5 231.1h0M347.2 179.1h0M363.8 187.1h0M363.7 199.7h0M351.1 231.9h0M347.4 232.0h0M348.1 177.6h0M354.4 206.6h0M348.8 231.3h0M348.2 230.7h0M362.4 187.0h0M372.1 180.3h0M347.9 177.4h0M368.3 184.1h0M369.2 183.4h0M350.4 232.2h0M348.3 230.9h0M346.5 234.0h0M366.5 185.8h0M350.5 231.5h0M374.8 216.9h0M347.5 176.9h0M362.9 199.6h0M348.3 231.0h0M351.4 231.8h0M370.5 183.0h0M348.0 231.8h0M353.1 206.2h0M354.2 206.6h0M371.5 180.8h0M381.3 192.4h0M347.3 179.2h0M349.4 230.9h0M352.0 234.2h0M368.8 222.9h0M353.8 207.1h0M348.5 180.5h0M349.5 230.7h0M352.0 233.0h0M372.1 183.8h0M348.6 231.3h0M346.4 234.7h0M370.0 221.2h0M347.6 231.4h0M352.2 203.9h0M347.8 236.3h0M346.4 234.4h0M389.5 205.4h0M351.0 181.7h0M346.9 179.2h0M348.6 176.9h0M346.1 233.5h0M369.0 182.9h0M369.9 183.9h0M372.3 179.7h0M373.7 212.1h0M369.3 211.6h0M369.4 182.4h0M351.6 205.0h0M362.3 186.2h0M362.1 186.6h0M348.7 231.1h0M346.7 179.0h0M346.6 235.2h0M348.0 177.1h0M367.5 185.1h0M346.1 233.5h0M349.0 231.1h0M351.3 232.6h0M368.0 183.6h0M371.0 184.1h0M367.3 211.8h0M353.4 206.7h0M347.4 180.0h0M353.8 205.3h0M348.9 181.8h0M348.4 179.1h0M359.9 196.7h0M372.2 179.7h0M362.3 200.3h0M354.0 206.7h0M369.8 184.2h0M349.3 231.8h0M348.7 235.9h0M348.0 231.1h0M351.7 201.3h0M375.1 214.2h0M372.3 195.8h0M362.9 198.6h0M346.8 178.9h0M369.9 181.4h0M371.1 197.7h0M348.2 181.5h0M370.6 196.5h0M351.9 204.5h0M352.0 233.7h0M372.2 230.8h0M368.1 195.6h0M370.9 180.3h0M378.9 230.7h0M351.8 203.0h0M349.8 231.6h0M347.6 231.6h0M367.4 185.1h0M370.3 183.6h0M349.1 231.5h0M349.1 177.2h0M347.5 177.5h0M356.6 195.0h0M349.9 180.3h0M360.9 197.1h0M379.8 230.4h0M347.5 180.2h0M347.4 235.9h0M346.6 233.3h0M352.1 202.1h0M348.6 176.7h0M351.1 234.2h0M363.3 199.5h0M366.9 185.2h0M373.6 218.1h0M368.3 183.9h0M348.9 180.1h0M347.0 233.6h0M369.4 183.3h0M349.3 231.4h0M367.2 184.9h0M382.3 192.5h0M351.6 203.8h0M348.0 178.1h0M371.8 180.7h0M349.0 179.4h0M368.8 183.7h0M366.2 185.4h0M369.0 211.2h0M369.5 221.3h0M348.8 231.1h0M347.9 177.7h0M367.0 184.6h0M347.9 232.1h0M369.1 182.5h0M353.8 204.9h0M347.4 178.8h0M349.0 231.4h0M379.0 192.7h0M369.3 182.0h0M354.2 206.2h0M369.0 182.4h0M349.0 181.7h0M372.2 230.9h0M348.7 177.4h0M368.9 182.2h0M349.1 232.1h0M369.4 218.3h0M370.4 181.6h0M376.7 192.3h0M353.0 203.9h0M368.8 196.0h0M350.2 232.8h0M374.3 216.6h0M368.9 182.1h0M346.4 233.5h0M359.5 196.5h0M371.0 183.8h0M362.2 197.4h0M351.0 174.3h0M349.6 232.4h0M349.0 231.7h0M371.7 197.5h0M348.6 181.1h0M381.3 192.4h0M350.0 177.3h0M368.3 213.5h0M372.6 212.2h0M350.4 231.7h0M383.5 193.8h0M370.2 181.6h0M349.9 177.4h0M348.7 232.1h0M351.4 201.1h0M361.4 202.8h0M365.9 185.2h0M351.4 233.2h0M350.0 180.3h0M351.1 201.4h0M346.2 234.6h0M370.2 195.4h0M370.0 184.7h0M369.4 184.0h0M368.4 216.6h0M352.5 175.9h0M349.0 177.1h0M354.0 180.5h0M369.1 182.9h0M356.8 205.8h0M389.1 205.0h0M351.7 202.2h0M349.9 232.7h0M347.5 234.0h0M351.3 176.3h0M346.9 234.5h0" stroke="#3a5187" stroke-width="1.5" stroke-linecap="round" fill="none"/>
<path d="M349.8 232.0h0M352.1 200.8h0M371.6 179.9h0M362.5 198.4h0M361.7 198.5h0M354.4 206.5h0M349.6 179.2h0M372.3 196.5h0M372.1 211.8h0M350.5 234.0h0M354.8 183.3h0M351.9 198.9h0M369.3 182.6h0M348.6 176.3h0M365.5 190.5h0M350.0 232.8h0M375.3 216.0h0M349.3 177.6h0M360.9 197.3h0M346.4 233.3h0M346.6 234.3h0M350.2 179.4h0M370.4 184.1h0M346.6 233.3h0M370.5 196.0h0M359.0 205.0h0M348.5 179.7h0M370.4 181.5h0M367.1 185.2h0M349.4 235.3h0M369.6 184.6h0M369.0 184.0h0M350.4 232.4h0M368.5 211.8h0M351.4 200.6h0M366.2 183.7h0M369.5 223.2h0M347.5 234.6h0M353.0 177.6h0M347.1 234.9h0M350.5 175.8h0M348.1 178.1h0M373.8 216.2h0M347.7 178.6h0M369.3 184.3h0M369.3 182.9h0M346.6 233.2h0M355.6 196.7h0M347.5 234.3h0M356.1 196.1h0M347.4 233.8h0M355.5 205.1h0M349.3 178.4h0M356.8 206.0h0M348.9 235.1h0M361.1 198.0h0M350.6 232.2h0M352.3 175.3h0M362.3 198.2h0M368.8 213.3h0M368.6 217.0h0M372.7 211.9h0M351.1 200.0h0M361.2 198.0h0M346.5 234.4h0M372.6 195.2h0M351.9 177.3h0M361.9 199.1h0M359.2 195.4h0M346.9 234.9h0M369.0 183.4h0M351.3 177.8h0M352.4 177.3h0M362.6 198.8h0M369.1 183.3h0M348.0 177.9h0M348.4 179.1h0M372.5 211.6h0M374.8 215.9h0M367.6 186.0h0M379.1 230.4h0M355.1 205.7h0M349.6 176.7h0M372.4 195.8h0M360.9 198.0h0M361.5 200.5h0M351.8 202.0h0M350.7 179.1h0M373.7 212.7h0M348.9 234.5h0M359.2 197.5h0M351.7 203.3h0M360.4 197.8h0M373.4 216.6h0M373.5 217.1h0M351.5 234.3h0M361.4 202.2h0M368.1 213.1h0M353.5 177.0h0M350.7 178.4h0M349.8 231.7h0M349.9 179.1h0M381.3 224.0h0M367.1 185.7h0M367.6 182.3h0M352.2 199.9h0M348.4 235.8h0M350.1 180.5h0M369.0 217.3h0M369.9 185.0h0M349.8 233.0h0M349.9 179.7h0M348.3 233.7h0M370.0 212.1h0M350.0 232.6h0M349.1 180.5h0M374.3 195.5h0M352.0 202.4h0M375.2 214.4h0M369.6 180.8h0M369.2 218.3h0M371.7 217.3h0M346.8 234.8h0M347.0 232.7h0M347.3 234.0h0M372.0 195.9h0M367.5 184.1h0M348.8 235.0h0M369.3 217.7h0M351.2 176.0h0M374.7 215.9h0M349.3 178.1h0M372.6 211.7h0M374.1 212.9h0M360.8 197.6h0M371.9 229.7h0M350.1 232.0h0M365.7 184.4h0M361.3 200.9h0M368.5 217.4h0M351.9 176.0h0M367.5 182.4h0M373.6 216.1h0M348.5 234.3h0M353.4 204.8h0M348.8 231.9h0M359.6 198.0h0M352.4 200.9h0M369.4 184.7h0M374.8 214.1h0M371.2 184.4h0M367.6 182.3h0M349.5 232.0h0M357.1 206.6h0M368.6 212.3h0M389.7 204.7h0M372.5 216.8h0M368.6 182.7h0M367.6 185.3h0M368.9 181.6h0M354.2 180.0h0M354.2 205.7h0M369.4 184.7h0M356.0 205.7h0M350.9 233.4h0M351.0 178.9h0M359.2 197.8h0M352.7 202.1h0M347.5 232.8h0M352.3 175.0h0M374.6 215.1h0M370.3 217.7h0M368.8 182.8h0M351.8 175.4h0M349.5 176.6h0M361.5 201.8h0M356.6 206.3h0M370.1 216.4h0M368.6 182.7h0M349.8 233.9h0M349.0 232.6h0M372.5 197.3h0M353.6 205.0h0M368.6 185.6h0M369.2 181.8h0M350.2 176.6h0M349.0 178.5h0M372.2 197.6h0M373.0 211.8h0M357.6 205.0h0M359.1 196.8h0M373.6 196.3h0M351.8 174.5h0M368.4 185.8h0M350.6 176.7h0M350.4 178.6h0M369.3 181.5h0M353.5 199.5h0M368.9 182.4h0M360.6 198.0h0M371.8 213.0h0M371.5 212.9h0M358.7 204.9h0M369.6 185.2h0M349.8 178.7h0M364.9 184.8h0M369.3 212.0h0M351.9 202.5h0M356.7 196.4h0M368.8 215.6h0M372.9 216.3h0M368.7 213.4h0M350.2 232.9h0M351.8 175.5h0M373.4 216.1h0M359.3 197.8h0M350.4 232.6h0M352.2 203.6h0" stroke="#355c8a" stroke-width="1.5" stroke-linecap="round" fill="none"/>
<path d="M372.0 195.8h0M373.1 195.8h0M358.7 204.0h0M352.3 201.4h0M368.9 216.6h0M389.1 204.8h0M360.7 198.1h0M369.0 217.2h0M354.6 204.5h0M356.2 204.6h0M349.9 179.7h0M368.2 185.0h0M371.7 215.5h0M347.8 233.6h0M368.8 182.7h0M347.2 234.1h0M348.3 235.2h0M368.7 180.5h0M349.9 180.1h0M360.8 202.4h0M388.8 206.0h0M361.0 200.3h0M368.6 182.5h0M367.7 185.9h0M369.8 214.7h0M372.0 184.8h0M350.4 178.5h0M371.7 214.1h0M372.3 198.3h0M369.4 181.4h0M370.4 195.7h0M351.8 178.3h0M357.3 205.9h0M351.2 177.3h0M350.0 177.3h0M353.0 202.6h0M360.0 200.4h0M360.6 199.5h0M375.2 194.5h0M351.0 233.8h0M354.3 181.6h0M370.1 184.5h0M373.6 216.4h0M349.1 235.2h0M357.9 204.1h0M351.1 179.3h0M373.4 216.0h0M379.0 229.9h0M370.7 203.2h0M349.9 235.4h0M372.0 214.0h0M352.4 175.0h0M372.2 214.4h0M370.4 195.1h0M349.9 232.4h0M372.5 216.3h0M370.4 214.2h0M347.7 234.5h0M350.1 177.8h0M351.4 175.6h0M353.7 201.0h0M368.5 181.2h0M356.0 183.1h0M352.0 179.2h0M359.7 203.4h0M372.6 215.6h0M369.7 181.3h0M370.1 216.6h0M379.1 230.2h0M383.4 194.4h0M353.5 204.7h0M383.8 194.8h0M372.2 211.9h0M350.1 178.5h0M370.5 214.0h0M361.8 200.5h0M351.1 175.9h0M370.4 212.4h0M351.1 178.2h0M360.1 198.6h0M347.7 234.8h0M360.8 202.6h0M359.9 199.9h0M350.0 180.0h0M372.4 217.7h0M371.0 213.3h0M354.8 177.3h0M349.3 177.3h0M360.0 200.8h0M349.9 179.4h0M354.3 200.8h0M369.1 214.4h0M359.2 202.8h0M361.5 199.8h0M358.8 197.2h0M373.8 186.2h0M368.2 182.8h0M369.5 212.2h0M371.8 212.9h0M351.6 176.0h0M361.3 200.3h0M357.3 182.7h0M351.2 176.0h0M368.3 186.0h0M347.9 234.0h0M369.6 212.9h0M356.8 204.2h0M347.7 234.9h0M347.3 233.8h0M369.1 181.1h0M359.7 200.5h0M361.3 199.0h0M349.2 235.6h0M367.0 182.0h0M369.2 181.7h0M368.7 214.4h0M372.2 215.6h0M367.6 185.9h0M368.4 185.4h0M370.3 212.3h0M368.2 181.1h0M358.7 203.0h0M370.9 203.0h0M353.9 174.8h0M368.8 215.6h0M372.3 216.3h0M381.1 223.5h0M371.3 217.7h0M347.6 233.7h0M353.9 174.6h0M371.1 213.9h0M366.2 184.0h0M389.2 204.6h0M349.7 176.8h0M381.1 193.4h0M369.2 214.7h0M373.5 194.5h0M369.7 215.7h0M369.8 215.6h0M360.1 198.3h0M356.5 197.7h0M371.9 213.9h0M355.6 203.9h0M370.0 217.3h0M357.8 196.3h0M368.1 182.8h0M376.3 195.0h0M356.6 197.2h0M378.8 194.1h0M355.9 198.3h0M352.2 200.9h0M368.5 186.5h0M388.5 205.2h0M367.8 182.9h0M367.2 183.2h0M371.1 212.6h0M371.5 199.1h0M360.6 198.5h0M371.7 202.8h0M367.5 186.2h0M379.0 230.1h0M371.0 194.8h0M371.3 217.2h0M377.3 193.4h0M359.1 202.2h0M355.6 205.1h0M355.4 178.1h0M354.4 200.6h0M372.8 216.0h0M368.4 185.9h0M353.6 174.9h0M369.1 214.4h0M369.4 217.6h0M370.6 217.5h0M359.8 202.0h0M370.3 213.0h0M354.1 200.8h0M369.1 217.3h0M351.2 177.1h0M353.4 177.2h0M378.6 210.9h0M372.4 215.1h0M353.6 177.3h0M354.5 200.8h0M379.0 193.9h0M378.8 194.2h0M357.3 181.3h0M372.0 185.5h0M375.7 194.6h0M367.4 180.8h0M372.8 196.8h0M366.8 186.6h0M352.2 177.5h0M369.4 215.4h0M352.8 177.0h0M373.8 195.4h0M369.0 214.7h0M379.1 194.1h0M372.7 212.7h0M358.2 204.5h0M356.0 205.2h0M387.2 206.4h0M367.7 192.8h0M372.5 193.8h0M371.6 217.0h0M370.7 217.2h0M354.9 201.2h0M360.6 198.9h0M356.4 202.5h0M370.4 217.0h0M353.6 176.3h0M369.2 213.3h0M371.7 214.3h0M360.7 201.9h0M356.5 197.4h0M357.2 204.4h0M359.4 202.7h0M349.1 235.0h0M358.9 203.6h0M378.3 194.0h0M349.7 234.5h0M350.0 234.5h0M347.8 234.4h0M374.6 196.0h0M360.1 198.1h0M360.7 203.7h0M367.1 190.5h0M354.9 201.5h0M355.9 205.0h0M368.5 214.0h0M369.5 214.7h0M373.2 213.1h0M366.0 183.5h0M385.4 195.9h0M356.6 196.6h0M370.4 216.2h0M371.1 202.9h0M359.5 201.8h0M371.1 212.3h0M353.2 202.5h0M356.1 205.3h0" stroke="#31688e" stroke-width="1.5" stroke-linecap="round" fill="none"/>
<path d="M369.3 214.1h0M373.5 197.1h0M359.3 204.3h0M350.9 177.4h0M354.4 204.3h0M372.9 186.3h0M371.5 216.6h0M372.4 185.8h0M354.8 178.3h0M353.3 177.6h0M369.1 215.3h0M355.6 178.2h0M376.6 194.1h0M381.5 224.1h0M369.4 215.0h0M371.2 214.5h0M372.2 215.7h0M352.8 202.4h0M369.7 213.0h0M371.9 215.3h0M378.2 194.6h0M372.3 230.1h0M367.6 186.3h0M358.9 202.8h0M368.7 180.4h0M367.6 180.7h0M379.7 194.1h0M368.4 181.5h0M354.9 200.5h0M372.9 193.4h0M348.4 234.8h0M370.9 214.1h0M359.4 201.5h0M366.8 192.6h0M359.9 200.9h0M369.2 215.3h0M351.7 178.8h0M360.4 199.3h0M378.6 194.5h0M352.9 199.9h0M365.9 181.8h0M351.7 177.7h0M371.9 215.4h0M370.6 214.4h0M355.7 178.2h0M372.8 198.9h0M372.7 230.3h0M354.9 178.6h0M369.4 180.5h0M376.0 194.3h0M367.7 182.5h0M369.1 175.9h0M368.8 214.2h0M372.3 229.3h0M355.8 204.7h0M355.1 180.0h0M357.8 204.5h0M369.4 213.6h0M376.1 195.2h0M367.8 186.7h0M385.6 195.3h0M371.6 217.0h0M355.4 197.9h0M373.3 197.7h0M355.8 204.3h0M374.9 208.8h0M358.3 198.7h0M373.5 197.7h0M363.3 183.8h0M372.0 216.0h0M368.9 187.0h0M359.1 199.0h0M378.3 194.3h0M356.0 201.3h0M371.6 215.2h0M370.5 215.1h0M366.8 190.7h0M371.9 193.5h0M354.1 177.6h0M388.1 204.5h0M367.3 180.2h0M356.9 203.9h0M355.7 179.5h0M356.2 177.8h0M384.2 195.4h0M356.0 178.0h0M366.3 180.4h0M368.4 180.7h0M368.9 180.2h0M367.3 180.5h0M377.1 195.1h0M368.7 180.8h0M367.9 179.6h0M355.8 179.1h0M383.1 194.8h0M359.3 202.6h0M372.5 229.4h0M354.6 176.2h0M373.6 187.0h0M388.7 204.3h0M375.1 196.2h0M368.5 176.6h0M359.9 202.4h0M373.0 197.2h0M372.4 215.7h0M369.2 215.0h0M375.7 195.5h0M378.0 194.2h0M356.2 197.6h0M370.1 216.5h0M370.4 216.6h0M378.5 193.7h0M368.5 176.5h0M367.2 180.1h0M368.9 214.2h0M370.8 217.1h0M387.0 206.3h0M359.5 202.7h0M366.5 180.1h0M359.0 200.7h0M359.5 202.1h0M370.1 214.1h0M372.8 214.3h0M369.4 214.5h0M360.1 203.0h0M353.9 200.5h0M369.1 186.1h0M379.5 194.7h0M371.3 213.5h0M356.2 178.4h0M370.7 216.9h0M372.7 197.4h0M359.4 199.5h0M356.2 178.6h0M387.8 204.3h0M378.9 194.1h0M368.5 176.2h0M387.9 204.8h0M370.9 215.4h0M359.2 181.5h0M368.3 192.6h0M379.2 193.6h0M373.7 196.5h0M378.2 221.0h0M372.0 216.1h0M378.4 194.1h0M370.0 213.9h0M375.2 196.0h0M368.0 188.4h0M377.9 193.8h0M373.6 197.6h0M371.0 213.9h0M374.9 195.4h0M374.4 196.6h0M372.0 216.2h0M359.2 202.3h0M356.7 203.4h0M371.3 216.6h0M380.1 210.4h0M359.2 203.3h0M355.9 177.4h0M380.5 223.5h0M360.0 201.2h0M367.2 179.4h0M355.5 177.6h0" stroke="#2d728e" stroke-width="1.5" stroke-linecap="round" fill="none"/>
<path d="M354.5 200.6h0M368.6 187.8h0M376.1 194.6h0M360.3 201.9h0M357.1 178.7h0M383.9 195.5h0M356.0 176.4h0M367.3 190.3h0M371.0 214.0h0M372.0 193.7h0M380.7 224.3h0M378.6 194.0h0M355.3 177.4h0M368.2 186.5h0M354.5 177.5h0M367.7 179.9h0M368.9 193.3h0M359.2 181.7h0M371.3 216.2h0M354.8 200.9h0M379.2 194.3h0M354.8 177.3h0M371.9 193.6h0M355.4 179.3h0M374.8 196.5h0M373.1 199.1h0M374.9 196.7h0M373.2 197.9h0M354.0 200.8h0M367.0 180.3h0M356.6 178.1h0M375.6 196.5h0M354.6 199.6h0M368.5 177.2h0M374.1 196.6h0M385.7 196.8h0M370.8 214.7h0M366.7 191.5h0M359.0 200.7h0M383.3 195.5h0M355.4 178.0h0M372.2 215.0h0M374.9 196.8h0M372.3 228.3h0M356.4 204.1h0M372.5 198.7h0M370.4 214.4h0M367.5 179.9h0M367.7 179.6h0M372.7 187.6h0M378.7 210.0h0M367.3 191.2h0M374.9 208.0h0M356.4 174.3h0M385.1 196.5h0M356.1 175.6h0M369.6 187.4h0M365.5 181.1h0M373.0 198.5h0M357.1 203.7h0M374.6 197.7h0M356.3 176.4h0M354.8 177.9h0M369.4 187.2h0M358.7 199.4h0M354.3 200.8h0M368.0 178.1h0M368.1 191.0h0M355.9 176.1h0M372.5 204.5h0M372.1 202.6h0M356.6 201.2h0M355.1 200.7h0M377.2 195.2h0M357.6 173.8h0M379.7 194.0h0M355.4 179.6h0M356.7 178.0h0M384.2 195.7h0M385.0 197.2h0M380.6 210.0h0M356.7 176.5h0M367.1 180.4h0M376.9 194.9h0M381.1 210.9h0M371.5 203.4h0M357.4 174.9h0M375.2 196.2h0M367.7 176.8h0M380.3 223.1h0M368.6 188.1h0M386.1 198.5h0M371.6 202.3h0M380.2 223.8h0M387.7 205.9h0M356.1 175.5h0M376.5 195.9h0M384.5 196.8h0M387.4 205.6h0M382.9 195.1h0M372.2 186.9h0M374.0 206.6h0M358.4 199.8h0M359.1 179.4h0M368.0 177.0h0M371.7 203.2h0M357.2 174.2h0M378.2 229.5h0M380.9 209.4h0M365.3 181.0h0M359.7 201.1h0M367.4 176.6h0M354.6 200.7h0M356.1 178.8h0M359.3 202.1h0M380.2 223.8h0M370.9 187.3h0M373.9 197.8h0M369.1 192.0h0M374.5 196.8h0M372.0 202.3h0M370.3 193.5h0M356.7 175.1h0M380.4 224.2h0M376.5 208.7h0M370.8 187.3h0M372.4 203.0h0M377.6 195.4h0M368.4 189.7h0M366.4 178.7h0M357.6 175.5h0M380.2 210.1h0M380.0 223.7h0M369.1 192.7h0M371.5 192.9h0M367.8 190.8h0M368.1 190.0h0M371.1 194.2h0M357.9 175.2h0M373.2 220.8h0M365.9 180.0h0M356.8 174.6h0M380.5 223.9h0M367.6 179.4h0M360.7 181.4h0M375.4 196.0h0M378.1 229.6h0" stroke="#297c8d" stroke-width="1.5" stroke-linecap="round" fill="none"/>
<path d="M368.9 187.7h0M356.0 201.2h0M356.4 174.9h0M357.9 177.6h0M362.0 182.1h0M367.4 176.7h0M357.2 176.1h0M375.4 197.2h0M356.1 173.7h0M371.8 192.3h0M357.9 173.4h0M385.7 197.3h0M372.7 203.9h0M366.9 179.1h0M386.9 203.8h0M369.2 192.3h0M378.1 195.2h0M369.8 191.8h0M356.0 173.5h0M368.7 192.9h0M368.8 187.8h0M380.5 210.4h0M355.9 178.3h0M378.9 210.2h0M373.7 197.9h0M387.2 206.3h0M383.7 196.6h0M356.2 177.7h0M384.5 208.1h0M365.3 179.3h0M356.9 178.1h0M358.3 174.2h0M358.5 177.4h0M356.6 178.4h0M380.1 195.7h0M356.7 177.5h0M372.7 204.1h0M355.3 176.6h0M356.1 174.0h0M375.5 207.9h0M373.1 186.7h0M369.1 192.5h0M357.7 199.7h0M373.1 202.9h0M358.6 181.3h0M387.1 202.6h0M378.0 209.7h0M372.9 203.6h0M358.2 178.2h0M387.5 202.6h0M371.7 191.7h0M356.2 178.7h0M358.3 175.6h0M374.1 221.1h0M367.7 189.6h0M372.5 204.9h0M356.5 179.2h0M370.2 187.9h0M366.5 176.0h0M367.2 176.3h0M382.3 209.3h0M367.9 190.9h0M367.5 179.7h0M383.1 210.0h0M380.1 194.7h0M365.4 177.4h0M366.0 180.6h0M366.3 176.8h0M367.0 178.1h0M373.0 221.1h0M372.7 204.7h0M367.1 189.6h0M367.1 179.6h0M358.3 177.3h0M381.8 208.9h0M368.2 190.5h0M366.3 177.1h0M386.6 205.6h0M375.7 197.4h0M372.5 204.1h0M366.5 176.9h0M371.5 224.0h0M356.7 175.0h0M358.7 174.7h0M358.8 178.9h0M378.3 221.1h0M383.5 208.4h0M356.8 174.7h0M385.2 196.6h0M377.6 194.8h0M361.6 179.7h0M366.0 176.3h0M378.3 195.0h0M383.3 196.1h0M359.0 177.6h0M374.9 208.3h0M361.4 172.2h0M375.3 208.2h0M358.6 174.0h0M357.2 176.1h0M369.6 191.4h0M374.5 197.5h0M373.4 221.4h0M372.5 221.6h0M357.8 176.4h0M372.2 222.7h0M360.3 178.9h0M358.0 177.0h0M358.9 175.7h0M357.4 176.0h0M376.0 196.0h0M357.8 178.6h0M366.6 178.4h0M384.9 196.9h0M373.9 206.3h0M373.0 198.9h0M358.4 173.8h0M364.2 178.9h0M365.5 177.5h0M386.4 203.3h0M381.0 208.9h0M364.6 179.1h0M382.8 196.3h0M365.5 177.6h0M366.6 180.0h0M367.2 176.9h0M382.2 196.2h0M373.6 201.0h0M372.6 203.7h0M357.8 176.5h0M372.7 222.1h0M379.9 195.3h0M365.7 181.1h0M379.0 221.9h0M374.7 208.3h0M357.9 174.7h0M379.1 208.8h0M375.6 208.5h0M367.0 176.4h0M377.6 195.0h0M377.5 208.8h0M372.4 201.3h0M368.6 188.3h0M384.8 196.3h0M381.6 196.1h0M357.0 178.0h0M356.8 175.9h0M378.8 209.4h0M371.2 223.1h0M359.2 178.1h0M380.9 208.9h0M385.2 196.7h0M364.9 175.7h0M364.6 178.1h0M368.1 188.1h0M371.1 188.0h0M381.5 209.1h0M357.7 176.6h0M367.4 176.4h0M362.6 173.0h0M382.0 195.7h0M376.2 196.1h0M369.0 192.4h0M374.0 197.8h0M370.5 187.6h0M366.5 175.4h0M372.8 203.0h0M385.8 199.5h0M371.7 223.3h0M357.8 177.0h0M379.6 224.1h0M363.3 174.0h0M370.3 191.0h0M356.2 177.2h0M368.8 187.2h0M376.8 208.8h0M357.7 176.6h0M373.7 197.9h0M377.3 196.8h0M377.4 196.6h0M357.7 175.5h0M380.3 209.2h0M364.6 178.8h0M365.3 178.6h0M357.9 174.8h0M360.3 178.5h0M371.1 223.5h0" stroke="#25878c" stroke-width="1.5" stroke-linecap="round" fill="none"/>
<path d="M373.8 206.2h0M360.3 180.6h0M380.9 208.8h0M357.9 177.2h0M376.7 196.9h0M365.6 180.5h0M377.9 208.8h0M382.5 196.5h0M368.6 192.4h0M357.3 174.7h0M374.4 206.7h0M372.2 222.4h0M356.7 177.7h0M386.5 204.1h0M357.4 177.7h0M371.4 223.7h0M362.3 173.9h0M383.5 195.6h0M373.0 204.0h0M375.0 197.5h0M357.0 177.2h0M375.2 197.6h0M384.7 196.9h0M363.8 173.1h0M387.0 205.2h0M373.8 203.3h0M378.0 208.7h0M372.9 199.9h0M368.6 188.0h0M366.6 177.8h0M375.2 208.2h0M361.8 173.1h0M374.0 221.2h0M357.2 176.3h0M356.8 178.1h0M365.3 180.9h0M363.2 179.8h0M364.2 175.5h0M370.7 187.9h0M369.4 192.9h0M357.8 175.9h0M359.1 176.5h0M366.0 174.7h0M375.6 196.9h0M357.1 178.1h0M380.3 224.6h0M377.9 195.8h0M380.3 195.6h0M356.3 176.0h0M374.1 199.8h0M374.9 197.3h0M357.8 176.4h0M358.5 176.5h0M373.6 204.2h0M366.6 176.3h0M377.9 221.8h0M374.9 199.1h0M386.6 203.1h0M385.8 204.8h0M372.1 191.5h0M375.1 197.3h0M366.4 176.3h0M360.4 176.2h0M357.6 174.8h0M383.3 196.5h0M372.8 222.3h0M380.5 195.6h0M374.5 206.2h0M360.0 177.3h0M374.4 205.0h0M356.8 178.1h0M364.8 177.8h0M372.6 201.5h0M360.5 177.5h0M385.6 198.8h0M356.3 175.7h0M357.8 175.6h0M373.6 191.9h0M379.8 224.7h0M360.7 173.9h0M385.6 204.9h0M384.5 197.1h0M367.0 176.5h0M370.7 188.6h0M371.2 193.2h0M360.3 179.7h0M357.8 174.5h0M372.1 192.5h0M359.9 178.3h0M357.5 177.4h0M370.4 188.6h0M373.3 203.4h0M359.6 176.4h0M364.5 178.9h0M359.4 175.5h0M369.7 192.7h0M356.8 174.1h0M386.3 204.1h0M361.4 181.7h0M359.3 177.4h0M383.7 196.6h0M379.4 195.6h0M363.6 176.0h0M361.4 175.3h0M371.2 223.1h0M385.8 199.9h0M366.6 176.8h0M367.0 177.1h0M383.7 196.7h0M366.1 177.4h0M358.1 176.1h0M379.4 224.0h0M367.3 177.8h0M357.4 176.0h0M362.4 175.2h0M379.6 196.2h0M370.1 192.4h0M357.9 177.0h0M376.7 196.9h0M360.4 175.4h0M385.9 203.3h0M368.7 191.2h0M375.0 197.1h0M379.5 209.7h0M365.2 177.7h0M358.9 177.3h0M371.4 223.9h0M383.2 196.9h0M386.7 205.3h0M357.3 176.2h0M378.7 196.6h0M384.3 206.8h0M383.0 195.7h0M383.7 207.3h0M376.0 196.8h0M373.5 199.5h0M382.2 195.7h0M359.9 175.5h0M385.2 198.5h0M373.7 202.8h0M370.5 192.4h0M374.1 200.9h0M383.3 207.3h0M370.6 187.9h0M365.3 177.1h0M370.0 188.0h0M384.3 197.8h0M386.2 200.6h0M361.1 176.1h0M372.0 192.5h0M360.4 178.6h0M366.6 176.8h0M365.0 177.7h0M359.1 175.5h0M381.6 208.6h0M370.5 188.0h0M361.4 175.2h0M359.3 175.1h0M377.5 196.1h0M372.8 204.5h0M369.0 190.9h0M357.5 175.5h0M372.1 191.5h0M360.5 176.0h0M360.8 173.7h0M384.2 206.5h0" stroke="#21918c" stroke-width="1.5" stroke-linecap="round" fill="none"/>
<path d="M366.1 178.6h0M361.9 179.5h0M383.6 196.3h0M376.4 197.6h0M361.6 177.3h0M386.4 199.2h0M382.4 207.7h0M370.4 191.4h0M370.8 192.1h0M360.3 176.1h0M366.3 175.2h0M363.2 174.3h0M360.5 179.9h0M385.9 200.3h0M357.4 177.3h0M365.6 177.3h0M369.5 191.8h0M358.3 178.1h0M378.2 195.8h0M366.0 178.3h0M357.7 177.5h0M360.7 178.7h0M385.7 206.5h0M366.4 176.5h0M381.2 208.6h0M362.1 178.1h0M382.7 196.8h0M364.7 178.5h0M356.9 176.4h0M360.1 175.8h0M379.9 225.2h0M385.7 203.8h0M374.0 221.9h0M359.6 177.2h0M377.9 197.2h0M373.0 222.4h0M381.5 196.4h0M360.8 175.8h0M357.7 178.3h0M384.3 196.9h0M382.4 197.5h0M373.9 203.8h0M360.6 175.5h0M381.0 195.6h0M386.9 200.7h0M376.2 198.3h0M357.8 176.3h0M362.5 173.0h0M371.4 191.6h0M377.7 208.2h0M363.2 175.1h0M373.9 205.0h0M369.7 189.3h0M377.7 196.9h0M360.6 176.4h0M360.4 178.2h0M385.0 197.4h0M360.3 175.5h0M371.8 191.8h0M362.1 174.3h0M372.6 223.0h0M360.2 177.0h0M371.8 223.6h0M374.6 204.9h0M361.7 178.7h0M369.6 188.8h0M384.6 199.0h0M379.1 196.6h0M375.2 199.8h0M382.2 197.6h0M358.3 178.3h0M386.5 202.4h0M377.0 208.5h0M361.6 179.3h0M361.9 178.4h0M359.0 175.5h0M360.7 176.1h0M386.0 200.3h0M386.3 205.0h0M381.9 207.7h0M374.6 203.7h0M376.8 208.8h0M375.5 197.3h0M375.8 206.9h0M360.7 176.7h0M375.5 197.2h0M360.9 179.5h0M364.3 175.3h0M373.0 203.3h0M378.6 224.4h0M383.0 196.5h0M372.5 222.5h0M362.8 174.7h0M377.7 208.2h0M358.0 174.8h0M366.2 177.5h0M386.3 199.4h0M358.6 175.1h0M359.8 176.0h0M357.4 175.4h0M372.3 225.3h0M358.1 176.2h0M360.4 175.8h0M359.0 177.5h0M359.1 177.9h0M361.3 176.6h0M382.6 197.1h0M369.7 187.8h0M362.2 178.2h0M359.0 176.4h0M370.3 190.4h0M358.0 175.1h0M380.2 196.0h0M361.4 178.9h0M378.1 222.0h0M358.9 175.4h0M371.7 188.1h0M370.7 188.0h0M360.3 175.8h0M365.3 178.3h0M384.0 207.1h0M384.0 206.2h0M374.9 200.1h0M359.9 174.8h0M358.0 176.9h0M365.6 176.2h0M384.0 206.6h0M385.3 199.8h0M379.4 208.3h0M376.3 228.0h0M383.5 196.5h0M377.2 196.7h0M382.8 207.3h0M378.4 196.6h0M384.4 198.6h0M360.7 176.4h0M381.0 208.3h0M372.8 222.7h0M365.2 177.8h0M362.1 178.3h0M374.1 203.3h0M372.6 191.8h0M361.0 178.4h0M384.5 206.2h0M379.6 195.7h0M377.8 208.0h0M374.8 206.4h0M383.6 208.3h0M365.2 176.6h0" stroke="#269a87" stroke-width="1.5" stroke-linecap="round" fill="none"/>
<path d="M357.9 176.3h0M364.7 177.5h0M359.2 175.6h0M370.1 188.4h0M379.6 208.6h0M360.6 176.2h0M377.0 198.3h0M380.5 208.3h0M362.4 178.6h0M358.8 174.8h0M383.2 196.8h0M365.1 177.8h0M360.2 173.6h0M373.0 222.4h0M376.2 199.0h0M374.2 200.7h0M370.4 189.3h0M365.4 177.4h0M374.6 200.3h0M361.3 174.2h0M358.0 175.7h0M374.6 204.2h0M371.7 224.0h0M377.7 208.8h0M376.9 206.7h0M369.5 188.5h0M378.4 196.2h0M359.0 173.8h0M361.2 177.7h0M373.4 201.4h0M377.6 208.4h0M372.8 223.1h0M384.2 197.2h0M375.8 205.6h0M359.1 177.4h0M360.4 174.4h0M386.3 204.0h0M379.1 196.7h0M360.1 175.1h0M375.7 227.6h0M360.0 176.0h0M358.2 175.1h0M363.0 175.5h0M375.9 205.6h0M364.2 175.6h0M377.0 227.5h0M382.8 198.2h0M362.4 175.0h0M379.1 196.0h0M362.9 174.6h0M382.6 207.2h0M376.8 196.8h0M363.3 174.8h0M381.2 196.2h0M383.6 206.3h0M358.3 176.8h0M381.5 196.7h0M379.0 195.8h0M376.1 205.9h0M373.7 203.0h0M375.0 203.4h0M385.8 200.5h0M360.5 178.0h0M377.1 228.8h0M384.5 199.6h0M364.5 178.1h0M371.9 223.2h0M374.6 221.2h0M379.3 197.7h0M386.1 202.6h0M378.6 209.0h0M361.9 175.6h0M358.2 176.1h0M374.5 200.5h0M360.8 175.1h0M374.6 202.0h0M374.2 221.4h0M374.4 200.8h0M381.4 197.5h0M386.2 203.4h0M375.0 200.6h0M361.7 175.7h0M384.6 200.5h0M372.4 222.7h0M369.3 189.6h0M363.5 175.9h0M374.0 205.5h0M362.9 177.8h0M382.1 196.9h0M373.6 201.2h0M371.2 188.4h0M384.1 206.8h0M359.8 178.1h0M385.2 204.5h0M378.8 208.5h0M361.2 176.4h0M364.7 176.9h0M358.7 175.9h0M361.4 178.3h0M370.6 189.3h0M370.2 190.9h0M360.9 177.5h0M375.6 206.0h0M377.7 223.7h0M377.9 196.7h0M379.9 197.2h0M381.6 196.9h0M376.5 198.7h0M376.5 227.3h0M360.5 178.2h0M359.8 177.1h0M384.3 198.8h0M383.1 198.7h0M374.9 199.1h0M359.8 176.1h0M375.6 200.1h0M382.5 196.7h0M374.4 201.9h0M383.0 198.6h0M360.3 173.7h0M375.8 206.9h0M385.1 203.8h0M381.3 208.4h0M382.5 207.1h0M370.3 190.9h0M380.0 208.9h0M385.3 198.6h0M370.4 189.2h0M361.6 176.4h0M361.8 173.4h0M383.1 197.3h0M364.4 177.7h0M384.7 198.6h0M376.0 198.8h0M360.4 178.0h0M382.3 198.4h0M374.3 202.5h0M379.7 197.5h0M362.7 176.5h0M382.5 197.9h0M362.8 173.5h0M363.9 175.8h0M360.3 175.9h0M380.0 197.0h0M360.0 176.5h0M360.0 175.4h0M372.5 222.5h0M385.4 205.2h0M377.6 197.4h0M372.7 222.6h0M361.9 173.0h0M362.4 177.7h0M378.4 198.0h0M376.6 227.5h0M375.2 206.3h0M360.3 175.5h0M383.2 199.0h0" stroke="#2ba482" stroke-width="1.5" stroke-linecap="round" fill="none"/>
<path d="M374.5 203.9h0M376.7 227.6h0M361.2 176.1h0M372.8 224.4h0M384.4 199.4h0M378.7 197.9h0M376.3 205.2h0M375.0 204.3h0M380.6 207.4h0M383.8 198.3h0M377.8 227.6h0M376.1 227.1h0M384.7 199.1h0M376.2 205.9h0M376.7 227.7h0M361.9 174.5h0M380.7 196.9h0M376.3 200.2h0M380.9 197.9h0M378.3 206.9h0M375.0 201.3h0M376.3 198.7h0M378.2 196.8h0M378.0 206.8h0M377.0 206.3h0M376.4 227.2h0M383.8 198.1h0M378.5 196.8h0M373.4 225.6h0M374.1 203.1h0M384.0 198.9h0M373.6 221.8h0M376.4 207.3h0M374.3 201.3h0M379.2 206.6h0M360.9 174.6h0M376.5 205.5h0M373.8 223.5h0M379.6 197.3h0M376.0 199.5h0M374.5 199.8h0M384.4 203.0h0M382.5 197.2h0M360.3 176.4h0M374.3 202.8h0M360.9 177.9h0M376.1 200.1h0M376.3 200.3h0M375.2 201.3h0M385.5 200.2h0M382.6 207.0h0M379.4 207.5h0M385.0 203.8h0M375.7 204.5h0M383.1 206.5h0M385.8 203.0h0M376.7 227.8h0M372.3 223.2h0M380.8 197.8h0M374.9 221.7h0M361.0 177.5h0M379.9 207.7h0M361.5 175.7h0M373.1 223.5h0M376.0 206.3h0M374.7 203.2h0M385.7 200.4h0M383.6 199.3h0M374.0 202.5h0M377.4 207.7h0M375.6 204.1h0M377.4 224.6h0M383.3 199.2h0M377.7 199.5h0M376.7 226.0h0M374.8 199.9h0M381.6 196.7h0M372.5 226.9h0M373.0 224.6h0M379.8 198.6h0M375.7 205.6h0M377.9 197.2h0M381.7 207.6h0" stroke="#30ae7e" stroke-width="1.5" stroke-linecap="round" fill="none"/>
<path d="M375.2 222.8h0M383.5 201.0h0M375.6 201.3h0M383.1 204.6h0M377.4 198.2h0M382.6 199.7h0M373.2 224.3h0M377.3 206.9h0M379.4 206.3h0M373.5 225.0h0M383.5 201.1h0M373.8 225.5h0M378.4 198.0h0M374.3 223.6h0M383.8 203.6h0M381.2 197.7h0M379.5 198.6h0M384.6 204.7h0M378.4 198.5h0M376.1 227.9h0M376.9 199.1h0M376.5 227.0h0M384.6 203.6h0M382.7 198.9h0M383.5 202.0h0M374.0 224.1h0M377.1 226.1h0M382.7 198.4h0M377.1 227.8h0M376.4 227.1h0M377.0 227.7h0M378.1 207.6h0M381.5 198.2h0M376.8 204.3h0M379.3 198.1h0M382.9 205.9h0M385.1 203.0h0M385.4 201.7h0M382.6 206.5h0M384.1 200.7h0M378.3 198.9h0M374.4 203.4h0M379.1 208.3h0M373.7 223.3h0M383.3 198.5h0M381.1 206.4h0M381.9 198.7h0M383.4 201.9h0M376.6 205.5h0M376.3 227.6h0M379.8 206.6h0M384.6 199.6h0M381.5 196.9h0M375.7 199.8h0M382.7 207.0h0M376.9 207.0h0M374.4 201.6h0M378.3 199.2h0M377.7 206.7h0M383.5 199.0h0M383.0 200.1h0M383.9 202.7h0M377.0 204.5h0M376.3 198.5h0M382.2 199.7h0M381.1 207.8h0M379.4 198.7h0M374.6 202.8h0M373.3 225.9h0M374.9 203.2h0M380.9 207.7h0M382.9 207.4h0M383.6 201.4h0M381.3 208.0h0M384.6 202.4h0M378.7 197.5h0M377.0 227.3h0M384.1 199.4h0M374.7 201.4h0M378.2 199.2h0M376.6 199.8h0M380.1 197.4h0M375.8 200.2h0M380.9 197.6h0M375.5 225.0h0M383.7 198.4h0M377.4 199.9h0M383.5 206.8h0M385.3 202.2h0M376.5 200.4h0M379.4 197.7h0M380.0 207.6h0M383.7 206.0h0M375.1 225.8h0M376.3 200.4h0M384.1 201.3h0M379.1 206.3h0" stroke="#35b779" stroke-width="1.5" stroke-linecap="round" fill="none"/>
<path d="M376.8 204.8h0M378.7 205.7h0M378.0 199.0h0M376.3 200.1h0M375.1 226.0h0M377.5 201.0h0M382.8 200.8h0M379.7 206.1h0M375.7 201.0h0M376.4 200.6h0M375.9 227.9h0M376.6 200.3h0M376.3 199.8h0M380.0 206.0h0M376.0 200.7h0M379.3 205.3h0M378.0 198.5h0M377.4 198.0h0M380.6 198.2h0M378.3 199.7h0M375.5 200.4h0M374.9 202.5h0M382.8 206.7h0M376.0 225.5h0M377.2 198.2h0M376.5 226.2h0M377.5 224.3h0M377.1 199.4h0M375.5 200.4h0M379.1 205.2h0M381.9 206.7h0M375.1 225.6h0M379.7 198.7h0M383.4 203.2h0M382.2 198.7h0M384.6 204.5h0M383.2 199.1h0M376.2 226.8h0M385.3 201.8h0M381.6 199.8h0M374.5 223.6h0M382.2 203.7h0M379.5 200.0h0M381.3 206.6h0M376.5 227.4h0M374.5 224.9h0M381.6 207.0h0M376.2 227.4h0M380.7 207.6h0M382.6 201.4h0M382.0 201.2h0M376.2 200.3h0M377.1 203.1h0M381.9 199.6h0M376.1 226.3h0M374.8 223.4h0M377.6 199.7h0M376.9 199.3h0M376.8 205.9h0M376.2 226.3h0M376.5 200.7h0M377.0 206.7h0M379.0 200.4h0M383.6 203.5h0M376.2 200.8h0M382.3 205.3h0M375.8 205.1h0M376.9 198.5h0M383.5 202.9h0M377.9 201.6h0M380.6 207.3h0M380.5 199.6h0M377.1 225.7h0M376.4 227.0h0M380.4 207.3h0M382.1 201.3h0M383.4 204.2h0" stroke="#4cbf6c" stroke-width="1.5" stroke-linecap="round" fill="none"/>
<path d="M379.4 200.4h0M374.4 224.9h0M383.1 201.8h0M382.6 201.4h0M376.0 225.2h0M383.0 200.8h0M383.0 202.1h0M380.3 198.8h0M376.6 203.2h0M373.5 224.6h0M378.7 201.2h0M379.5 199.6h0M376.8 205.0h0M376.4 226.2h0M383.1 202.4h0M375.9 225.4h0M382.2 200.8h0M377.3 205.2h0M374.4 222.9h0M381.4 200.2h0M382.0 199.5h0M382.7 204.8h0M378.1 199.4h0M381.1 201.6h0M382.1 206.4h0M376.3 199.9h0M375.3 226.9h0M379.8 199.1h0M375.5 224.9h0M380.1 199.6h0M383.8 203.2h0M376.1 205.1h0M382.8 201.1h0M375.5 224.7h0M381.8 206.5h0M379.2 206.0h0M381.0 205.1h0M384.3 202.1h0M383.4 201.5h0M382.4 198.6h0M374.8 225.0h0M381.7 207.0h0M376.9 204.4h0M383.2 202.3h0M378.2 200.8h0M374.9 224.0h0M381.9 199.1h0M382.2 201.3h0M383.3 199.0h0M382.9 201.0h0M380.0 199.5h0M380.2 199.0h0M375.3 227.6h0M382.4 200.6h0M380.2 199.6h0M376.2 203.8h0M380.0 199.5h0M378.4 202.1h0M380.4 199.1h0M380.3 199.0h0M375.2 227.5h0M379.3 205.6h0M377.0 226.5h0M382.5 200.3h0M376.2 203.6h0M380.1 199.8h0M383.3 202.7h0M379.2 201.8h0M378.1 199.4h0M384.2 200.9h0M384.6 203.0h0M379.0 200.6h0M379.4 200.9h0M380.3 201.3h0M373.9 225.9h0M383.4 200.2h0M375.9 203.7h0M380.9 202.1h0M380.9 205.0h0M380.3 201.2h0" stroke="#62c75e" stroke-width="1.5" stroke-linecap="round" fill="none"/>
<path d="M376.5 200.6h0M374.3 225.5h0M378.5 205.9h0M379.2 203.9h0M373.4 224.1h0M383.1 203.4h0M378.2 200.7h0M380.3 202.7h0M379.9 203.9h0M376.8 205.3h0M375.1 225.1h0M378.4 199.5h0M376.0 200.3h0M382.0 201.1h0M380.6 201.5h0M381.3 205.2h0M381.9 201.6h0M377.8 201.6h0M380.3 199.5h0M381.9 203.4h0M377.2 204.7h0M381.1 198.2h0M377.8 203.0h0M381.5 202.2h0M379.5 206.3h0M380.6 201.5h0M382.7 199.5h0M375.1 223.3h0M378.8 200.9h0M382.8 203.7h0M379.2 206.3h0M378.1 203.9h0M374.6 223.8h0M374.5 224.3h0M382.8 199.2h0M376.7 225.6h0M383.1 204.9h0M378.9 198.9h0M379.5 201.3h0M375.4 226.1h0M382.2 199.1h0M377.0 225.7h0M381.3 199.3h0M380.5 201.0h0M383.5 202.0h0M374.4 225.5h0M380.7 199.8h0M378.4 199.3h0M374.2 224.2h0M380.0 202.8h0M378.5 198.8h0M384.0 202.0h0M377.6 201.0h0M383.4 201.3h0M374.1 223.9h0M376.1 202.4h0M379.5 204.6h0M378.7 201.4h0M378.4 201.3h0M374.4 225.1h0M382.7 201.7h0M378.3 205.3h0M382.6 201.6h0M378.3 201.6h0" stroke="#78cf51" stroke-width="1.5" stroke-linecap="round" fill="none"/>
<path d="M380.3 200.5h0M379.2 202.2h0M378.2 200.7h0M377.1 224.6h0M379.9 202.3h0M381.7 201.7h0M379.3 199.6h0M382.0 203.8h0M383.1 204.8h0M380.6 202.3h0M383.5 202.9h0M383.6 201.6h0M380.7 201.3h0M379.4 201.0h0M379.8 198.6h0M381.0 200.7h0M375.5 225.8h0M381.2 198.9h0M380.3 199.3h0M381.7 200.1h0M377.6 204.9h0M382.1 200.7h0M376.9 204.0h0M382.3 203.2h0M381.8 200.3h0M374.5 225.2h0M376.8 225.8h0M377.0 204.6h0M378.0 203.8h0M378.9 203.8h0M382.9 204.4h0M380.3 201.1h0M381.6 205.1h0M376.6 203.5h0M378.6 200.8h0M381.4 200.6h0M380.1 200.1h0M378.3 200.8h0M379.2 206.0h0M380.5 203.8h0M383.7 202.0h0M382.3 201.6h0M380.0 199.5h0M374.7 224.2h0M382.7 204.5h0M382.8 201.5h0" stroke="#8fd744" stroke-width="1.5" stroke-linecap="round" fill="none"/>
<path d="M377.5 201.8h0M375.8 225.2h0M379.6 204.0h0M379.8 202.8h0M381.7 202.6h0M380.7 201.5h0M374.4 225.6h0M377.6 201.8h0M379.3 203.1h0M382.7 204.7h0M383.4 201.8h0M383.3 202.9h0M382.6 201.9h0M379.8 205.6h0M379.3 204.6h0M380.1 205.6h0M382.7 203.1h0M380.1 200.2h0M381.7 204.5h0M382.7 202.5h0M379.1 199.5h0M380.6 204.4h0M383.0 201.4h0M377.6 200.8h0M379.4 204.6h0M380.7 200.9h0M379.6 200.4h0M377.8 201.8h0M380.6 201.9h0M380.2 201.2h0M377.4 201.8h0M379.3 203.4h0M379.3 200.3h0M377.2 202.0h0M380.2 200.2h0M377.4 203.4h0M382.0 200.6h0M379.7 199.9h0M379.2 201.5h0M380.7 205.3h0M377.4 201.5h0M378.4 204.9h0M382.5 202.6h0M380.1 204.7h0M382.4 202.2h0M381.9 201.7h0" stroke="#aadb3c" stroke-width="1.5" stroke-linecap="round" fill="none"/>
<path d="M380.5 203.7h0M377.4 203.0h0M379.1 202.4h0M382.6 201.7h0M377.5 202.0h0M380.9 205.1h0M380.8 200.2h0M379.3 201.8h0M378.2 203.7h0M377.7 202.6h0M382.0 200.9h0M379.0 200.0h0M380.8 202.3h0M382.1 202.1h0M377.5 203.3h0M381.5 201.0h0M381.2 201.4h0M380.0 200.4h0M379.3 201.6h0M379.6 204.2h0M378.6 202.8h0" stroke="#c6df34" stroke-width="1.5" stroke-linecap="round" fill="none"/>
<path d="M379.2 201.0h0M382.0 202.6h0M380.7 202.9h0M381.1 201.5h0M380.9 201.2h0M378.9 201.4h0M379.9 201.7h0M379.9 204.1h0M380.0 201.0h0M380.5 201.8h0M379.3 201.9h0M381.1 201.5h0" stroke="#e2e32d" stroke-width="1.5" stroke-linecap="round" fill="none"/>
<path d="M380.9 201.8h0M379.8 203.1h0" stroke="#fde725" stroke-width="1.5" stroke-linecap="round" fill="none"/>
<text x="410.7" y="223.0" font-size="6.7" class="s">Density</text>
<rect x="410.7" y="225.7" width="7.1" height="35.0" fill="url(#gD)"/>
<text x="420.3" y="230.7" font-size="6.3" class="s">0.04</text>
<line x1="410.7" y1="228.4" x2="412.2" y2="228.4" stroke="#fff" stroke-width="0.5"/>
<line x1="416.3" y1="228.4" x2="417.8" y2="228.4" stroke="#fff" stroke-width="0.5"/>
<text x="420.3" y="238.8" font-size="6.3" class="s">0.03</text>
<line x1="410.7" y1="236.5" x2="412.2" y2="236.5" stroke="#fff" stroke-width="0.5"/>
<line x1="416.3" y1="236.5" x2="417.8" y2="236.5" stroke="#fff" stroke-width="0.5"/>
<text x="420.3" y="246.8" font-size="6.3" class="s">0.02</text>
<line x1="410.7" y1="244.5" x2="412.2" y2="244.5" stroke="#fff" stroke-width="0.5"/>
<line x1="416.3" y1="244.5" x2="417.8" y2="244.5" stroke="#fff" stroke-width="0.5"/>
<text x="420.3" y="254.9" font-size="6.3" class="s">0.01</text>
<line x1="410.7" y1="252.6" x2="412.2" y2="252.6" stroke="#fff" stroke-width="0.5"/>
<line x1="416.3" y1="252.6" x2="417.8" y2="252.6" stroke="#fff" stroke-width="0.5"/>
<text x="472.0" y="159.7" font-size="7.6" fill="#000" font-weight="bold">E</text>
<line x1="498.0" y1="152.0" x2="685.0" y2="152.0" stroke="#999" stroke-width="1.6"/>
<line x1="684.4" y1="151.2" x2="684.4" y2="305.0" stroke="#666" stroke-width="1.3"/>
<line x1="498.6" y1="151.2" x2="498.6" y2="305.7" stroke="#444" stroke-width="1.2"/>
<line x1="498.0" y1="304.8" x2="685.0" y2="304.8" stroke="#444" stroke-width="1.9"/>
<text x="492.5" y="182.9" font-size="6.3" text-anchor="end" class="s">5</text>
<line x1="494.8" y1="180.6" x2="498.6" y2="180.6" stroke="#333" stroke-width="1.1"/>
<text x="492.5" y="213.5" font-size="6.3" text-anchor="end" class="s">0</text>
<line x1="494.8" y1="211.2" x2="498.6" y2="211.2" stroke="#333" stroke-width="1.1"/>
<text x="492.5" y="244.3" font-size="6.3" text-anchor="end" class="s">−5</text>
<line x1="494.8" y1="242.0" x2="498.6" y2="242.0" stroke="#333" stroke-width="1.1"/>
<text x="492.5" y="275.0" font-size="6.3" text-anchor="end" class="s">−10</text>
<line x1="494.8" y1="272.7" x2="498.6" y2="272.7" stroke="#333" stroke-width="1.1"/>
<text x="492.5" y="305.7" font-size="6.3" text-anchor="end" class="s">−15</text>
<line x1="494.8" y1="303.4" x2="498.6" y2="303.4" stroke="#333" stroke-width="1.1"/>
<text x="527.0" y="315.7" font-size="6.3" text-anchor="middle" class="s">−10</text>
<line x1="527.0" y1="304.8" x2="527.0" y2="308.6" stroke="#333" stroke-width="1.1"/>
<text x="565.0" y="315.7" font-size="6.3" text-anchor="middle" class="s">−5</text>
<line x1="565.0" y1="304.8" x2="565.0" y2="308.6" stroke="#333" stroke-width="1.1"/>
<text x="603.2" y="315.7" font-size="6.3" text-anchor="middle" class="s">0</text>
<line x1="603.2" y1="304.8" x2="603.2" y2="308.6" stroke="#333" stroke-width="1.1"/>
<text x="641.3" y="315.7" font-size="6.3" text-anchor="middle" class="s">5</text>
<line x1="641.3" y1="304.8" x2="641.3" y2="308.6" stroke="#333" stroke-width="1.1"/>
<text x="679.3" y="315.7" font-size="6.3" text-anchor="middle" class="s">10</text>
<line x1="679.3" y1="304.8" x2="679.3" y2="308.6" stroke="#333" stroke-width="1.1"/>
<text x="585.0" y="322.9" font-size="6.3" text-anchor="middle" class="s">UMAP_1</text>
<text x="477.6" y="230.3" font-size="6.3" text-anchor="middle" transform="rotate(-90 477.6 228.0)" class="s">UMAP_2</text>
<path d="M518.1 212.1h0M517.2 214.9h0M517.6 213.8h0M516.4 213.3h0M518.3 213.4h0M513.5 213.0h0M517.9 210.7h0M516.1 213.7h0M516.5 211.3h0M517.3 211.6h0M517.6 213.0h0M518.1 212.0h0M518.6 214.1h0M516.5 211.7h0M517.3 213.9h0M516.6 212.0h0M514.4 212.3h0M517.4 215.6h0M518.1 214.8h0M516.6 214.3h0M517.9 211.1h0M516.6 214.3h0M516.4 215.4h0M518.4 212.5h0M516.3 214.1h0M516.5 215.7h0M515.0 212.2h0M517.6 215.5h0M517.5 213.5h0M515.1 212.1h0M517.4 212.4h0M517.7 213.2h0M515.6 213.2h0M516.5 216.6h0M519.6 216.9h0M517.2 215.2h0M520.1 217.3h0M519.8 218.1h0M518.9 217.9h0M517.8 216.7h0M520.4 218.1h0M521.6 219.4h0M517.6 216.6h0M519.1 215.8h0M520.0 217.8h0M519.8 219.1h0M518.0 215.8h0M519.4 218.1h0M519.6 216.4h0M523.7 221.1h0M522.8 221.5h0M524.9 252.5h0M532.6 233.1h0M524.6 257.8h0M534.8 251.8h0M528.1 264.1h0M527.4 241.2h0M523.5 238.8h0M530.5 259.0h0M533.9 236.3h0M525.1 226.2h0M530.9 257.6h0M527.8 261.4h0M521.2 252.1h0M539.5 239.7h0M525.8 234.0h0M520.4 251.3h0M518.8 243.5h0M528.3 235.8h0M525.2 252.3h0M519.7 245.2h0M522.2 253.1h0M527.2 234.1h0M524.2 256.6h0M525.5 258.3h0M528.4 239.3h0M531.3 257.2h0M521.5 238.4h0M528.0 234.6h0M526.7 235.9h0M540.2 243.3h0M530.1 234.6h0M533.0 241.7h0M529.1 248.5h0M534.7 252.0h0M525.5 245.8h0M522.7 251.7h0M529.8 256.4h0M529.4 250.9h0M527.5 238.7h0M523.6 251.9h0M524.3 251.9h0M534.1 236.2h0M534.8 250.1h0M530.5 261.6h0M528.4 239.1h0M526.9 262.7h0M537.1 242.2h0M525.4 257.6h0M526.2 243.8h0M528.6 260.0h0M523.6 254.4h0M533.1 246.6h0M533.5 234.6h0M524.6 233.7h0M538.9 239.1h0M533.5 235.9h0M530.6 249.9h0M534.2 244.8h0M532.0 247.4h0M520.5 240.0h0M524.6 252.1h0M537.2 236.6h0M525.6 228.9h0M526.4 226.3h0M533.2 248.7h0M535.7 249.2h0M528.7 241.5h0M533.0 247.1h0M525.2 252.1h0M519.0 240.7h0M524.2 235.7h0M523.2 232.9h0M526.0 230.5h0M533.3 241.2h0M527.4 244.0h0M526.7 247.0h0M540.5 241.2h0M524.4 256.9h0M531.2 262.2h0M528.1 237.4h0M535.6 236.3h0M536.0 244.0h0M519.2 249.9h0M525.7 228.4h0M520.5 248.5h0M523.7 257.7h0M523.9 232.9h0M525.9 230.6h0M524.0 255.3h0M535.3 236.1h0M531.0 256.2h0M531.9 241.6h0M522.7 233.1h0M529.1 251.0h0M527.5 244.1h0M530.2 256.1h0M532.7 239.2h0M536.1 243.4h0M533.3 252.9h0M531.4 249.5h0M519.5 239.8h0M527.1 234.4h0M525.1 229.4h0M529.9 234.5h0M519.3 244.6h0M528.1 248.5h0M521.4 257.7h0M533.3 252.0h0M529.9 253.8h0M536.8 246.3h0M528.2 245.2h0M532.8 232.8h0M526.7 246.3h0M527.9 241.6h0M535.1 251.6h0M526.0 229.1h0M522.7 243.6h0M531.0 251.0h0M529.0 231.7h0M525.3 251.9h0M526.1 230.4h0M528.7 251.6h0M522.8 232.6h0M527.7 241.4h0M528.8 231.2h0M522.5 262.6h0M535.1 249.0h0M529.5 246.1h0M530.0 250.2h0M526.0 229.7h0M528.2 240.8h0M526.8 230.7h0M529.1 247.5h0M531.4 256.8h0M533.6 246.6h0M523.3 257.7h0M524.7 252.5h0M523.4 262.1h0M531.7 236.4h0M532.4 240.0h0M532.6 245.3h0M536.7 239.5h0M529.0 238.8h0M526.9 250.6h0M526.7 233.8h0M525.1 258.1h0M525.4 234.6h0M528.2 243.9h0M528.7 262.4h0M528.1 225.7h0M529.3 253.4h0M523.4 262.7h0M533.0 242.4h0M525.2 251.7h0M525.0 228.8h0M526.0 240.0h0M523.6 233.1h0M529.5 247.9h0M528.2 237.0h0M536.7 251.9h0M522.7 251.1h0M531.3 257.4h0M534.5 236.2h0M531.2 257.9h0M526.3 263.3h0M529.6 261.0h0M532.8 235.8h0M525.9 241.2h0M537.1 248.6h0M528.9 247.2h0M521.7 250.7h0M526.3 233.7h0M524.0 236.5h0M530.1 229.4h0M527.7 243.4h0M530.8 256.4h0M527.4 232.7h0M533.3 236.6h0M524.6 228.6h0M524.6 251.6h0M524.6 235.2h0M535.2 250.6h0M519.1 243.4h0M531.7 247.9h0M525.3 257.1h0M528.6 232.1h0M532.9 245.8h0M520.5 240.4h0M535.9 248.0h0M527.1 230.5h0M530.4 250.0h0M528.0 256.4h0M538.1 241.0h0M522.3 237.6h0M529.3 262.7h0M527.9 256.0h0M530.5 256.3h0M532.8 232.9h0M523.6 245.3h0M534.3 249.1h0M529.5 253.1h0M521.3 239.1h0M525.6 256.1h0M532.1 234.4h0M520.6 240.8h0M526.4 232.4h0M522.6 235.4h0M531.9 235.2h0M528.0 236.3h0M526.1 257.4h0M540.3 243.4h0M524.3 246.7h0M524.6 241.6h0M521.5 250.0h0M529.9 230.3h0M533.1 251.4h0M528.5 237.0h0M533.9 235.6h0M531.5 234.0h0M526.2 229.3h0M531.2 227.8h0M527.5 248.1h0M525.5 258.5h0M523.8 263.0h0M523.0 235.8h0M536.0 249.7h0M535.8 249.8h0M529.3 230.4h0M521.5 238.0h0M531.6 241.1h0M521.0 238.7h0M536.5 246.9h0M530.1 230.2h0M534.0 251.5h0M538.1 241.4h0M525.3 247.6h0M537.1 251.5h0M525.0 262.8h0M536.0 247.7h0M526.2 257.9h0M532.3 241.9h0M520.7 251.3h0M528.4 237.0h0M527.4 256.9h0M534.5 250.8h0M526.6 255.7h0M533.0 239.7h0M520.5 247.4h0M523.7 259.4h0M531.4 228.5h0M529.1 234.5h0M529.6 239.9h0M537.8 248.1h0M533.5 256.3h0M524.6 237.5h0M530.2 258.5h0M529.3 247.8h0M524.9 255.6h0M530.1 247.9h0M534.7 236.8h0M527.9 229.9h0M531.2 255.8h0M533.8 255.7h0M524.8 240.1h0M525.6 236.8h0M531.1 230.4h0M535.7 235.3h0M522.6 254.5h0M526.4 240.0h0M527.4 233.7h0M531.4 229.8h0M524.7 253.6h0M532.6 235.2h0M525.1 231.7h0M521.2 249.1h0M534.7 245.7h0M529.9 232.4h0M528.3 237.1h0M527.3 229.6h0M533.9 255.9h0M537.6 249.9h0M537.4 251.3h0M520.1 240.6h0M530.3 256.6h0M526.0 243.5h0M525.8 256.5h0M524.0 255.7h0M527.9 243.5h0M525.1 234.9h0M532.6 254.6h0M532.7 235.4h0M527.5 255.1h0M535.1 246.0h0M530.8 261.5h0M526.7 231.0h0M523.0 246.9h0M521.6 240.5h0M527.5 240.4h0M523.7 251.7h0M528.5 246.8h0M530.5 247.4h0M526.3 243.0h0M528.1 229.9h0M527.5 241.8h0M531.3 228.3h0M522.9 243.5h0M535.2 235.1h0M526.2 241.9h0M534.0 251.6h0M526.3 230.8h0M533.4 253.5h0M524.0 254.2h0M529.5 248.5h0M530.7 254.7h0M529.3 232.2h0M525.0 240.8h0M535.2 242.2h0M530.0 239.1h0M532.6 232.5h0M527.3 245.4h0M529.6 248.8h0M530.4 244.5h0M524.4 235.0h0M529.8 255.2h0M522.6 251.7h0M524.5 252.3h0M518.7 241.4h0M524.9 227.6h0M536.4 250.1h0M531.0 246.8h0M526.3 244.3h0M526.0 230.6h0M532.9 241.0h0M529.2 258.3h0M526.4 257.9h0M533.8 253.8h0M529.1 227.1h0M533.8 234.0h0M526.1 232.2h0M525.2 227.7h0M527.7 264.4h0M529.2 250.7h0M521.7 237.1h0M527.6 239.6h0M524.2 236.4h0M530.6 261.1h0M522.1 249.7h0M528.7 232.0h0M528.0 243.4h0M535.3 249.5h0M535.3 240.7h0M525.5 257.1h0M520.2 238.3h0M534.7 236.5h0M531.9 253.6h0M524.3 256.6h0M529.6 231.1h0M539.1 246.9h0M537.1 242.9h0M525.8 257.1h0M528.0 241.7h0M532.5 233.1h0M527.3 257.9h0M525.6 234.6h0M525.0 232.0h0M540.5 242.1h0M521.0 248.3h0M534.6 236.7h0M530.7 260.7h0M526.6 263.7h0M523.2 254.5h0M540.0 238.3h0M538.7 239.7h0M528.9 258.2h0M528.2 236.7h0M530.0 228.8h0M524.7 254.0h0M530.8 261.2h0M522.4 245.2h0M534.5 251.3h0M527.0 236.2h0M528.6 240.1h0M527.3 251.0h0M521.8 251.3h0M533.1 253.9h0M532.3 236.0h0M533.6 245.4h0M528.6 258.7h0M520.7 240.8h0M527.5 243.5h0M528.6 241.6h0M525.4 228.4h0M535.4 243.7h0M525.1 254.6h0M523.6 251.6h0M529.6 253.9h0M533.9 241.2h0M527.9 255.7h0M528.1 232.3h0M530.0 239.2h0M532.5 235.3h0M532.7 249.1h0M521.5 237.3h0M526.4 247.4h0M525.6 226.1h0M527.3 224.1h0M526.0 252.0h0M523.4 233.4h0M520.4 249.1h0M525.2 225.9h0M536.0 249.5h0M528.9 246.7h0M531.2 256.6h0M527.0 241.9h0M529.7 239.5h0M521.6 240.1h0M531.3 241.4h0M533.9 250.2h0M531.1 247.1h0M525.1 244.4h0M534.3 235.7h0M520.7 248.9h0M524.6 235.6h0M529.7 248.1h0M525.0 224.0h0M534.5 243.4h0M526.0 240.4h0M526.0 244.6h0M529.4 231.7h0M534.2 234.3h0M526.4 229.4h0M524.7 241.5h0M525.5 228.4h0M527.8 264.4h0M529.5 232.4h0M530.1 248.4h0M530.2 236.6h0M529.3 261.9h0M529.3 243.9h0M522.0 247.6h0M532.4 231.8h0M521.7 248.9h0M534.9 244.5h0M533.8 247.7h0M535.5 245.4h0M525.9 248.8h0M525.4 258.0h0M528.9 232.1h0M526.2 229.5h0M532.3 257.6h0M530.0 253.9h0M522.7 247.5h0M534.0 247.6h0M536.7 243.0h0M522.9 237.6h0M520.2 242.1h0M524.3 240.4h0M526.0 244.3h0M530.3 230.7h0M523.1 252.4h0M532.3 241.4h0M524.9 245.7h0M533.6 244.9h0M525.6 233.1h0M528.8 231.8h0M525.2 242.9h0M520.6 240.8h0M525.0 234.3h0M530.8 258.8h0M523.2 233.6h0M540.5 240.8h0M533.5 253.8h0M526.7 240.4h0M523.3 253.6h0M526.8 263.9h0M527.8 240.5h0M526.3 230.0h0M535.7 234.4h0M539.7 246.7h0M527.0 265.8h0M530.5 232.5h0M520.4 240.7h0M527.2 236.2h0M528.4 230.7h0M525.8 233.0h0M524.2 252.9h0M526.3 258.4h0M534.1 247.4h0M523.3 243.9h0M525.8 242.0h0M540.5 243.3h0M531.8 232.8h0M522.4 259.0h0M522.9 245.3h0M526.6 240.1h0M531.6 258.4h0M529.5 254.0h0M539.3 247.3h0M525.7 242.9h0M525.0 246.0h0M524.3 257.3h0M533.3 239.8h0M535.6 246.6h0M523.2 245.0h0M531.1 244.5h0M527.2 246.4h0M524.6 254.8h0M526.6 264.2h0M539.4 242.6h0M539.7 240.1h0M524.6 241.1h0M530.0 238.7h0M530.8 232.7h0M529.6 232.1h0M529.3 249.7h0M531.6 261.5h0M529.2 231.3h0M529.2 248.1h0M535.2 255.2h0M524.6 231.8h0M529.3 247.9h0M538.5 250.7h0M526.1 230.3h0M544.7 235.3h0M544.2 234.8h0M544.6 237.5h0M545.6 235.4h0M545.9 235.0h0M553.2 229.3h0M555.4 228.1h0M553.4 229.2h0M551.1 231.0h0M551.7 230.8h0M547.6 233.5h0M553.4 229.0h0M556.7 227.2h0M557.8 226.0h0M554.0 228.7h0M547.6 234.2h0M546.7 233.9h0M546.6 234.3h0M553.8 228.8h0M545.1 235.3h0M551.3 230.9h0M547.2 234.2h0M556.3 227.5h0M549.6 231.8h0M550.3 231.1h0M550.0 231.7h0M554.4 228.1h0M553.6 229.0h0M548.6 233.6h0M550.6 231.2h0M550.0 232.3h0M550.8 231.2h0M547.2 233.8h0M549.8 231.4h0M553.6 229.1h0M551.2 230.9h0M546.4 234.3h0M549.5 231.9h0M552.2 230.4h0M559.1 225.2h0M558.8 224.7h0M562.6 222.9h0M564.2 223.8h0M563.6 222.7h0M564.2 223.7h0M562.8 223.9h0M561.7 223.1h0M560.9 222.6h0M563.4 221.7h0M562.6 224.0h0M563.0 224.7h0M560.7 223.8h0M563.3 224.4h0M564.1 222.1h0M562.2 223.7h0M564.5 224.1h0M560.5 223.5h0M564.4 223.0h0M564.6 222.3h0M557.8 226.2h0M565.2 223.6h0M561.9 224.9h0M563.7 222.2h0M561.7 224.8h0M563.3 224.6h0M563.3 223.4h0M559.6 225.2h0M562.7 223.3h0M562.2 223.7h0M563.0 223.5h0M560.7 225.1h0M561.2 223.2h0M565.3 221.3h0M559.8 224.2h0M562.1 222.5h0M561.4 225.5h0M632.1 292.2h0M632.3 292.6h0M634.1 291.7h0M632.3 290.5h0M632.8 291.1h0M633.0 290.8h0M630.2 292.1h0M633.3 292.7h0M631.2 291.5h0M633.1 290.6h0" stroke="#a8a8a8" stroke-width="1.15" stroke-linecap="round" fill="none" stroke-opacity="0.95"/>
<path d="M629.0 168.2h0M623.7 170.9h0M631.2 170.3h0M639.8 176.6h0M627.2 167.7h0M637.3 174.4h0M626.8 167.0h0M640.1 174.2h0M617.3 171.1h0M637.4 168.6h0M612.7 171.0h0M639.7 172.6h0M614.2 168.7h0M635.2 170.8h0M606.5 176.7h0M633.9 167.3h0M638.6 169.1h0M641.6 173.9h0M635.2 173.4h0M614.1 172.9h0M613.5 173.7h0M610.7 173.5h0M627.5 169.5h0M643.9 179.7h0M626.4 170.2h0M636.1 170.5h0M643.6 177.4h0M626.7 168.5h0M637.6 168.9h0M625.9 169.1h0M614.1 172.0h0M625.8 168.4h0M621.2 172.3h0M617.5 168.0h0M635.5 169.7h0M611.7 171.2h0M637.9 168.7h0M628.9 170.7h0M617.6 170.0h0M638.7 175.3h0M639.4 181.1h0M611.7 178.3h0M632.6 166.2h0M636.7 178.5h0M621.7 169.6h0M628.9 168.4h0M614.6 177.9h0M617.8 167.6h0M611.2 177.5h0M626.1 168.2h0M636.9 168.9h0M629.3 168.4h0M626.9 167.9h0M634.4 169.6h0M627.3 165.7h0M622.8 171.9h0M637.9 173.2h0M641.0 177.7h0M610.9 179.1h0M638.7 181.1h0M634.6 169.9h0M625.7 168.5h0M629.5 168.4h0M630.0 168.1h0M637.9 174.9h0M625.7 167.9h0M637.6 171.7h0M630.6 168.4h0M613.4 170.3h0M628.1 169.3h0M632.1 166.6h0M624.5 165.9h0M624.4 169.6h0M633.1 168.0h0M625.9 165.2h0M629.0 170.8h0M629.7 169.6h0M631.6 169.8h0M624.6 166.5h0M629.6 166.5h0" stroke="#c8dcea" stroke-width="1.25" stroke-linecap="round" fill="none" stroke-opacity="0.85"/>
<path d="M637.3 177.3h0M610.2 177.3h0M616.1 176.1h0M639.8 176.0h0M614.6 173.6h0M636.0 174.3h0M611.7 175.3h0M642.2 172.6h0M609.3 177.0h0M609.8 177.2h0M638.0 172.0h0M615.1 175.3h0M640.2 175.1h0M614.4 174.7h0M639.0 176.7h0M642.3 173.7h0M638.6 176.2h0M639.9 175.9h0M638.3 172.2h0M615.8 175.6h0M609.6 177.2h0M641.3 174.1h0M639.0 176.5h0M640.3 176.6h0M629.1 172.2h0M635.4 173.4h0M616.0 172.3h0M616.0 172.6h0M637.5 175.8h0M643.4 173.1h0M640.4 177.3h0M615.3 175.9h0M639.4 175.2h0M614.8 175.5h0M637.5 172.7h0M613.6 177.1h0M613.6 176.3h0M615.8 172.4h0M621.1 172.9h0M639.7 174.6h0M638.2 175.0h0M609.7 176.6h0M616.1 176.0h0M612.9 175.6h0M637.7 172.9h0M613.4 175.2h0M635.6 172.8h0M641.2 177.1h0M640.3 175.4h0M639.3 175.0h0M636.3 176.6h0M643.8 176.4h0M622.4 172.3h0M641.3 174.9h0M639.1 173.1h0M614.8 174.1h0M641.6 176.7h0M636.8 172.3h0M638.0 172.2h0M641.1 177.3h0M612.8 172.6h0M614.6 172.5h0M608.2 176.3h0M642.4 175.5h0M612.9 174.8h0M615.2 175.0h0M639.9 175.0h0M614.2 173.5h0M612.2 173.2h0M638.9 175.3h0M610.0 173.6h0M643.7 174.0h0M639.9 175.9h0M637.6 172.4h0M610.4 177.1h0M613.0 175.2h0M636.7 172.4h0M630.6 172.0h0M628.9 172.0h0M635.7 177.0h0M614.0 176.2h0M635.2 173.3h0M640.0 175.5h0M621.4 174.0h0M610.8 173.4h0M613.5 176.5h0M637.5 171.9h0M632.5 172.1h0M640.2 177.0h0M639.8 174.0h0M613.0 174.8h0M639.6 176.3h0M607.5 176.0h0M606.9 176.0h0M639.8 175.5h0M612.2 174.1h0M615.9 172.6h0M636.3 176.3h0M644.0 171.9h0M642.3 176.4h0M638.4 175.4h0M640.6 173.2h0M639.6 175.4h0M643.7 172.7h0M641.0 173.8h0M611.2 173.5h0M616.2 172.9h0M639.8 174.9h0M636.0 172.3h0M640.4 173.8h0M638.0 176.7h0M611.3 175.9h0M640.4 174.9h0M611.4 177.4h0M640.9 176.8h0M614.4 174.9h0M640.6 177.3h0M639.0 173.9h0M637.7 172.6h0M615.2 175.7h0M607.4 176.2h0M640.2 174.5h0M642.2 175.8h0M640.2 173.9h0M639.8 174.7h0M613.7 177.3h0M639.5 173.1h0M643.9 172.0h0M615.9 176.1h0M640.4 175.8h0M612.7 172.3h0M642.4 176.7h0M612.8 173.7h0M639.6 175.3h0M614.5 175.7h0M640.7 173.7h0M640.4 177.4h0M639.4 175.2h0M638.8 173.5h0M638.1 174.8h0M611.9 172.7h0M607.3 175.8h0" stroke="#d0d090" stroke-width="1.25" stroke-linecap="round" fill="none" stroke-opacity="0.85"/>
<path d="M625.1 166.1h0M630.3 163.9h0M636.5 169.2h0M625.4 167.5h0M618.3 166.4h0M615.4 168.8h0M628.7 167.0h0M625.6 168.6h0M627.2 167.5h0M636.4 168.8h0M618.8 166.9h0M636.1 168.3h0M614.3 169.5h0M628.4 169.2h0M634.7 167.7h0M636.9 168.8h0M624.0 168.0h0M627.2 169.4h0M625.8 168.3h0M618.4 169.4h0M615.2 169.4h0M636.8 167.4h0M623.4 168.1h0M626.4 168.8h0M626.3 167.0h0M625.7 168.7h0M625.0 168.1h0M637.3 169.2h0M636.5 167.1h0M625.6 166.7h0M614.7 169.2h0M626.3 168.1h0M635.5 169.4h0M627.8 167.5h0M632.7 165.8h0M637.4 168.4h0M628.4 167.5h0M616.7 167.8h0M616.8 168.8h0M636.5 168.6h0M633.8 167.6h0M631.7 164.8h0M631.5 165.8h0M628.0 168.4h0M612.8 169.0h0M625.8 169.1h0M636.9 168.3h0M620.2 169.3h0M625.2 168.0h0M623.9 168.4h0M637.9 168.4h0M637.9 168.7h0M623.5 168.4h0M629.9 168.2h0M626.4 169.4h0M615.9 169.4h0M619.2 167.9h0M628.6 167.4h0M637.5 168.3h0M615.8 169.5h0M619.1 169.4h0M639.2 169.3h0M639.3 168.6h0M629.5 165.6h0M617.9 168.0h0M633.3 164.9h0M636.6 168.4h0M629.5 168.7h0M619.5 169.1h0M613.5 169.1h0M616.2 168.7h0M623.6 167.6h0M630.5 169.4h0M626.1 168.1h0M632.3 167.5h0M639.2 168.2h0M620.4 169.0h0M633.9 167.4h0M617.5 169.4h0M629.5 168.1h0M625.1 168.2h0M625.6 167.5h0M625.9 168.3h0M626.8 165.9h0M620.5 169.4h0M631.8 164.8h0M630.8 164.9h0M620.8 166.5h0M622.7 169.5h0M632.6 167.0h0M628.9 167.5h0M627.3 168.4h0M626.4 166.0h0M628.6 168.5h0M629.0 166.3h0M630.3 167.2h0M630.9 166.3h0M628.8 169.1h0M625.7 167.4h0M630.4 167.6h0M629.4 165.7h0M632.1 165.3h0M625.1 168.3h0M627.4 168.5h0M630.2 166.1h0M626.0 166.5h0M628.9 168.1h0M625.9 166.7h0M630.2 168.6h0M622.0 169.4h0M625.8 166.3h0M625.2 169.4h0" stroke="#5a9ae4" stroke-width="1.25" stroke-linecap="round" fill="none" stroke-opacity="0.85"/>
<path d="M615.0 178.2h0M609.2 177.7h0M638.9 177.7h0M637.2 177.9h0M642.0 181.0h0M638.8 184.2h0M642.1 180.2h0M638.0 178.8h0M642.0 180.8h0M641.9 180.8h0M638.0 177.8h0M637.9 179.0h0M638.0 178.6h0M640.3 182.6h0M641.8 180.5h0M637.5 177.9h0M638.4 179.5h0M637.1 179.4h0M639.1 178.6h0M638.1 178.0h0M611.8 178.8h0M608.5 180.7h0M610.7 179.5h0M639.7 180.6h0M638.1 179.1h0M637.0 184.7h0M611.0 178.7h0M645.0 179.5h0M608.4 178.9h0M640.7 180.7h0M644.7 179.1h0M641.7 180.9h0M636.0 177.9h0M639.4 181.0h0M641.2 180.9h0M637.1 183.8h0M638.3 183.9h0M645.6 179.8h0M639.1 178.6h0M611.4 178.6h0M609.6 181.0h0M615.2 178.9h0M642.4 180.9h0M643.2 181.1h0M639.3 178.3h0M610.4 177.8h0M642.6 181.4h0M638.4 184.0h0M640.5 181.4h0M640.7 181.8h0" stroke="#e8dc5a" stroke-width="1.25" stroke-linecap="round" fill="none" stroke-opacity="0.85"/>
<path d="M635.0 169.9h0M620.1 169.8h0M614.7 170.7h0M634.3 170.3h0M613.6 170.3h0M623.1 170.4h0M619.7 169.8h0M616.1 170.7h0M616.1 169.9h0M627.4 171.6h0M611.2 171.2h0M638.6 170.3h0M612.4 171.3h0M611.5 171.6h0M636.5 171.0h0M627.6 170.2h0M634.2 171.1h0M625.9 169.7h0M610.9 171.2h0M615.9 171.7h0M618.1 171.1h0M637.7 169.9h0M623.2 170.4h0M637.4 170.2h0M623.1 171.8h0M615.7 170.9h0M611.8 171.2h0M623.7 169.9h0M636.8 170.5h0M629.6 171.7h0M630.9 171.7h0M613.3 169.6h0M636.3 169.6h0M630.6 171.5h0M634.1 169.9h0M611.4 171.5h0M616.5 170.8h0M634.9 169.8h0M613.1 170.8h0M625.8 170.8h0M617.4 171.5h0M616.5 170.7h0M612.6 171.5h0M615.1 169.8h0M630.7 170.9h0M630.3 171.2h0M616.9 170.6h0M634.3 171.0h0M628.9 171.1h0M633.9 171.1h0M624.3 170.6h0M623.7 169.9h0M617.1 169.5h0M615.2 170.2h0M613.6 169.7h0M616.3 171.6h0M623.0 169.7h0M622.0 170.5h0M621.1 169.7h0M627.3 169.6h0M623.6 171.0h0M627.2 169.7h0M638.1 171.7h0M635.1 169.8h0M618.2 170.5h0M615.2 170.6h0M624.7 170.3h0M623.2 171.4h0M636.2 170.8h0M614.8 171.6h0M635.0 170.0h0M611.9 171.4h0M637.3 171.3h0M624.2 171.4h0M618.5 171.5h0M617.4 170.3h0M629.4 170.9h0M612.8 169.7h0M634.5 170.7h0M622.2 170.8h0M615.5 171.4h0M629.1 170.2h0M622.7 170.3h0M624.8 170.2h0M622.0 170.0h0M624.9 170.3h0M629.7 170.1h0M629.2 170.3h0M624.6 170.2h0M631.6 170.8h0M632.2 169.9h0M624.3 170.1h0M629.8 169.6h0M627.1 171.1h0M624.9 170.9h0M630.9 170.6h0M629.1 170.3h0M623.4 169.5h0M623.5 170.1h0M631.2 170.5h0M629.1 170.1h0" stroke="#a9c4d4" stroke-width="1.25" stroke-linecap="round" fill="none" stroke-opacity="0.85"/>
<path d="M640.0 167.9h0M614.2 168.3h0M632.6 166.7h0M625.8 168.4h0M624.7 168.4h0M629.1 168.0h0M630.6 167.7h0M627.0 166.7h0M616.0 169.4h0M636.7 169.0h0M618.2 167.4h0M627.4 167.5h0M626.4 167.6h0M625.4 169.5h0M636.1 166.6h0M633.5 167.8h0M615.3 168.6h0M617.2 166.2h0M635.2 169.2h0M625.9 169.3h0M629.2 167.4h0M635.1 168.7h0M626.7 169.5h0M628.5 168.0h0M629.6 167.8h0M628.9 167.4h0M618.3 167.4h0M638.2 168.9h0M626.1 169.1h0M628.3 168.0h0M627.7 167.0h0M618.4 168.0h0M626.0 167.7h0M625.0 168.1h0M628.8 165.4h0M620.9 166.7h0M614.9 169.3h0M617.6 168.3h0M635.5 168.2h0M619.0 166.9h0M617.3 167.9h0M625.9 167.2h0M623.6 165.5h0M625.6 165.6h0M624.4 166.9h0M629.0 167.3h0M628.5 169.4h0M624.0 166.1h0M631.6 166.9h0M632.9 167.9h0M628.9 165.6h0M626.9 166.5h0M624.6 166.6h0M624.6 167.9h0M631.6 167.2h0M630.9 167.6h0M624.4 167.0h0M625.3 166.8h0M629.6 167.0h0M624.7 169.3h0" stroke="#8cb8ea" stroke-width="1.25" stroke-linecap="round" fill="none" stroke-opacity="0.85"/>
<path d="M608.0 182.2h0M610.1 185.6h0M611.6 185.5h0M610.5 189.7h0M611.3 181.3h0M609.5 187.4h0M609.0 183.2h0M608.8 183.5h0M608.7 181.9h0M609.5 190.3h0M612.1 188.7h0M609.3 192.8h0M613.3 191.0h0M609.8 186.5h0M610.1 185.2h0M611.4 187.2h0M611.0 192.3h0M610.4 186.7h0M610.2 187.1h0M609.5 184.1h0M611.1 186.4h0M612.3 182.8h0M608.4 184.9h0M612.7 190.2h0M608.5 187.0h0M608.8 180.3h0M612.2 189.6h0M609.0 179.0h0M610.2 183.1h0M611.2 182.4h0M609.0 187.4h0M610.7 181.3h0M609.6 190.9h0M612.2 185.8h0M610.1 184.8h0M609.5 193.3h0M612.6 186.9h0M610.6 183.0h0M609.8 190.6h0M611.6 192.4h0M609.6 182.4h0M610.3 194.2h0M608.0 181.8h0M609.6 181.0h0M609.2 190.3h0M611.2 187.9h0M611.3 184.5h0M611.3 187.0h0M610.5 184.9h0M610.8 181.1h0M611.3 187.7h0M610.6 183.3h0M609.4 193.7h0M610.8 185.7h0M610.6 190.8h0M609.8 183.4h0M610.3 187.9h0M609.5 193.9h0M610.1 188.7h0M610.0 191.3h0M609.3 185.6h0M610.8 187.8h0M610.3 191.3h0M611.3 183.6h0M609.7 182.4h0M611.7 190.8h0M610.9 190.5h0M611.5 181.8h0M611.9 184.6h0M612.0 189.7h0M610.5 181.6h0M608.6 187.7h0M608.7 187.2h0M611.8 191.4h0M608.6 188.3h0M611.5 185.8h0M608.4 191.7h0M609.6 190.3h0M609.8 190.9h0M611.0 187.0h0M610.7 189.5h0M609.9 190.3h0M610.8 186.9h0M611.0 189.7h0M609.9 188.5h0M608.7 192.0h0M612.0 191.5h0M611.7 188.6h0M609.2 190.7h0M612.7 192.1h0M610.3 192.1h0M609.9 188.7h0M610.8 191.4h0M609.2 189.7h0M612.2 189.7h0M610.7 189.4h0M609.5 191.0h0M610.2 190.6h0M612.3 190.6h0M610.2 188.9h0M612.6 191.5h0M611.5 188.4h0M613.2 192.2h0M609.9 189.8h0" stroke="#ead95a" stroke-width="1.25" stroke-linecap="round" fill="none" stroke-opacity="0.85"/>
<path d="M610.5 206.8h0M609.9 207.8h0M611.3 202.8h0M608.9 205.0h0M610.1 208.7h0M607.9 207.2h0M603.9 204.5h0M608.5 202.1h0M609.5 205.8h0M613.4 206.0h0M610.3 203.8h0M610.3 203.3h0M604.0 204.6h0M609.8 203.2h0M601.4 203.1h0M612.6 205.8h0M611.1 209.2h0M610.6 198.2h0M610.1 204.1h0M608.2 201.2h0M612.7 200.0h0M607.7 202.5h0M607.3 205.9h0M606.0 206.3h0M608.7 202.5h0M611.9 206.3h0M609.9 202.2h0M609.7 205.4h0M609.4 207.8h0M604.4 204.0h0M612.2 203.5h0M614.7 203.0h0M608.9 204.5h0M609.8 204.9h0M613.1 205.1h0M609.3 205.5h0M607.6 201.8h0M612.3 204.1h0M601.4 203.6h0M611.6 202.4h0M611.0 203.0h0M610.4 200.8h0M609.2 201.1h0M609.0 204.5h0M612.0 202.2h0M612.0 199.5h0M612.5 200.0h0M607.9 206.5h0M608.4 205.6h0M610.0 204.0h0M607.5 205.4h0M611.0 202.5h0M608.7 199.5h0M606.4 205.0h0M607.2 199.0h0M613.3 206.1h0M615.6 203.5h0M610.5 207.0h0M607.0 205.1h0M607.9 207.0h0M610.7 204.5h0M604.9 203.5h0M612.7 199.9h0M608.3 202.7h0M607.4 201.5h0M609.0 202.0h0M608.6 202.7h0M608.6 204.7h0M608.9 201.9h0M615.6 203.4h0M606.2 205.6h0M613.5 206.5h0M610.8 198.8h0M613.4 207.0h0M608.4 206.6h0M608.4 203.7h0M604.1 203.4h0M604.3 207.2h0M603.2 204.4h0M609.0 201.6h0M610.4 207.0h0M610.4 200.6h0M608.9 207.3h0M609.1 206.7h0M602.9 201.4h0M606.8 208.0h0M608.7 205.1h0M606.5 200.7h0M607.8 205.4h0M614.0 204.1h0M606.5 205.2h0M607.3 205.0h0M608.6 206.9h0M610.7 201.9h0M614.2 207.0h0M610.2 200.9h0M607.7 206.0h0M608.3 205.2h0M608.6 206.3h0M606.3 205.0h0M612.3 201.0h0M604.7 204.9h0M609.4 199.4h0M605.1 206.2h0M606.6 204.8h0M612.3 209.0h0M605.1 207.9h0M609.3 205.3h0M602.7 202.4h0M610.0 200.9h0M607.6 206.4h0M612.0 203.1h0M602.9 204.9h0M604.2 204.8h0M603.1 204.6h0M601.3 201.8h0M611.7 203.0h0M603.3 203.6h0M600.4 202.4h0M607.3 202.2h0M609.0 202.0h0M603.3 203.4h0M606.0 202.8h0M611.4 200.3h0M601.9 203.5h0M609.1 198.7h0M606.1 204.3h0M611.2 204.1h0M609.7 207.2h0M606.0 204.0h0M607.3 198.6h0M611.2 199.6h0M608.2 207.6h0M610.0 198.8h0M611.9 204.9h0M602.5 200.9h0M612.9 204.1h0M612.6 205.4h0M612.4 203.5h0M606.2 204.2h0M606.6 200.5h0M607.8 206.5h0M611.7 203.3h0M604.0 204.4h0M604.7 208.3h0M610.2 204.3h0M604.7 203.2h0M603.6 200.5h0M604.4 206.2h0M606.6 206.8h0M607.4 199.2h0M609.3 199.6h0M612.3 200.2h0M609.3 203.6h0M611.5 198.8h0M609.1 207.8h0M606.5 202.8h0M610.1 209.4h0M612.0 203.9h0M603.7 203.2h0M609.5 202.9h0M612.4 205.7h0M613.0 201.8h0M608.9 201.4h0M610.2 201.1h0M610.6 203.6h0M611.9 205.2h0M612.4 198.4h0M606.8 200.8h0M610.5 206.8h0M612.4 201.9h0M613.1 206.9h0M603.6 207.2h0M607.4 199.9h0M606.6 204.8h0M606.4 199.6h0M608.0 201.1h0M600.9 204.0h0M612.4 204.8h0M602.0 201.3h0M608.1 198.9h0M612.5 198.1h0M606.0 204.9h0M610.7 202.0h0M611.0 206.1h0M611.0 200.7h0M605.7 205.3h0M612.9 206.0h0M604.0 199.6h0M609.5 207.5h0M612.9 205.7h0M609.3 202.6h0M613.3 205.8h0M609.7 202.8h0M608.3 205.7h0M615.3 203.5h0M609.2 207.1h0M608.4 205.4h0M608.0 203.8h0M612.2 202.1h0M609.4 207.3h0M608.7 207.4h0M612.9 206.3h0M610.4 201.5h0M615.6 203.9h0M605.9 203.5h0M608.3 202.6h0M601.8 200.6h0M609.6 200.9h0M606.3 206.7h0M602.5 203.8h0M612.0 196.6h0M608.5 198.9h0M605.6 206.5h0M611.7 199.8h0M606.6 200.4h0M607.1 199.7h0M613.3 204.1h0M610.6 203.1h0M616.1 202.4h0M604.8 206.1h0M615.0 203.4h0M614.8 203.8h0M609.5 202.1h0M600.8 203.0h0M609.9 207.8h0M610.4 203.0h0M607.6 203.7h0M610.3 201.2h0M612.0 204.0h0M603.3 198.6h0M609.4 208.1h0M608.8 203.8h0M609.8 202.3h0M612.6 202.0h0M610.4 199.2h0M611.1 206.4h0M613.4 204.8h0M609.4 203.2h0M609.5 199.0h0M608.2 202.6h0M611.5 202.3h0M606.2 206.1h0M607.6 206.7h0M610.3 201.5h0M611.9 203.4h0M608.1 201.3h0M611.8 202.2h0M612.1 198.1h0M606.5 205.2h0M606.7 205.5h0M605.0 205.9h0M611.4 200.0h0M609.1 206.8h0M601.2 203.6h0M604.8 207.3h0M603.2 203.9h0M612.7 200.8h0M610.3 203.3h0M606.1 203.9h0M602.6 202.4h0M605.9 203.9h0M605.5 201.7h0M604.9 204.1h0M603.6 208.0h0M602.1 203.7h0M602.8 205.3h0M603.5 203.9h0M604.4 203.0h0M605.2 203.8h0M606.8 206.1h0M602.6 206.2h0M603.2 203.9h0M605.1 204.3h0M604.0 201.4h0M604.9 202.0h0M601.9 202.6h0M602.1 207.2h0M603.9 204.7h0M606.1 204.9h0M604.0 203.9h0M603.6 201.6h0M605.4 204.9h0M605.3 202.7h0M605.4 203.7h0M603.7 202.1h0M602.4 202.7h0M602.6 205.8h0M605.8 203.6h0M605.7 205.0h0M604.8 202.3h0M604.9 202.3h0M604.3 205.2h0M602.4 207.8h0M606.5 205.2h0M606.5 205.0h0M604.8 202.0h0M602.5 201.7h0M606.1 204.0h0M601.7 207.6h0M601.6 207.4h0M603.2 203.9h0M603.1 207.8h0M605.0 205.0h0M603.5 207.2h0M604.7 203.5h0M602.7 207.5h0M605.8 203.2h0M605.9 204.1h0M602.7 208.1h0M605.9 202.9h0M618.2 207.7h0M609.2 210.3h0M619.8 204.0h0M607.4 198.7h0M621.1 205.5h0M613.9 203.2h0M603.2 199.7h0M604.4 210.4h0M622.7 203.2h0M616.1 205.9h0M623.4 211.7h0M605.8 211.0h0M615.9 202.4h0M619.6 197.6h0M620.0 210.1h0M604.8 201.0h0M623.6 211.1h0M616.0 211.4h0M604.7 203.2h0M620.9 197.7h0M609.9 199.2h0M615.4 211.8h0M613.3 209.4h0M604.4 203.3h0M623.3 211.5h0M608.2 199.4h0M608.6 211.0h0M605.5 200.9h0M609.6 203.7h0M619.4 204.7h0M619.7 204.2h0M620.3 202.3h0M615.7 202.6h0M611.7 199.7h0M621.0 202.2h0M622.8 206.8h0M605.2 210.4h0M620.8 205.9h0M608.6 209.7h0M609.0 210.6h0M621.4 198.1h0M610.2 211.7h0M619.8 200.5h0M611.8 210.5h0M603.3 199.2h0M617.9 202.8h0M616.6 203.2h0M613.5 206.9h0M618.4 198.7h0M615.3 211.6h0M623.1 198.3h0M614.0 200.0h0M623.8 201.0h0M622.0 203.0h0M622.3 198.3h0M614.1 206.0h0M611.7 201.4h0M620.3 198.4h0M620.6 210.3h0M620.3 206.6h0M611.6 204.1h0M608.1 201.0h0M614.0 197.8h0M603.0 207.0h0M623.2 207.6h0M604.7 198.7h0M604.3 205.9h0M618.8 203.9h0M604.1 211.1h0M619.4 199.6h0M621.1 210.9h0M609.3 205.4h0M603.1 202.2h0M607.2 211.1h0M618.4 200.8h0M618.6 198.9h0M604.3 203.2h0M620.3 210.9h0M609.3 201.3h0M612.3 202.9h0M617.6 204.1h0M608.1 201.2h0M614.7 198.1h0M606.7 199.8h0M607.1 197.6h0M614.1 206.4h0M609.2 211.1h0M609.4 204.5h0M616.5 206.6h0M622.6 197.7h0M604.7 198.0h0M605.2 202.6h0M614.5 208.5h0M621.0 205.9h0M614.2 203.7h0M607.5 200.2h0M610.5 198.8h0M616.1 200.7h0M623.3 202.0h0M618.9 200.9h0M607.8 203.6h0M614.3 211.5h0M606.6 197.4h0M604.8 209.8h0M604.4 211.1h0M606.8 210.7h0M610.3 210.6h0M612.6 202.5h0M603.2 203.0h0M612.5 211.0h0M613.9 209.7h0M612.4 206.4h0M615.7 198.8h0M615.4 207.7h0M611.7 199.7h0M606.5 203.3h0M623.1 203.9h0M608.0 204.3h0M618.6 209.8h0M605.6 204.0h0" stroke="#f4a860" stroke-width="1.25" stroke-linecap="round" fill="none" stroke-opacity="0.85"/>
<path d="M620.3 201.0h0M621.0 201.1h0M617.4 199.7h0M623.2 198.4h0M618.1 197.4h0M621.5 198.5h0M623.0 198.0h0M621.7 201.4h0M617.8 200.7h0M618.8 198.0h0M620.8 201.7h0M617.3 200.4h0M622.4 200.0h0M620.2 199.0h0M621.5 200.8h0M620.9 201.4h0M621.3 200.9h0M617.3 200.7h0M621.3 200.0h0M621.3 200.6h0M619.7 198.0h0M623.0 199.3h0M621.8 198.7h0M616.3 199.7h0M623.3 198.9h0M623.5 195.3h0M616.7 199.9h0M618.1 199.2h0M618.5 200.2h0M620.7 199.1h0M620.2 201.9h0M617.2 201.0h0M623.0 199.4h0M616.1 199.0h0M619.9 200.5h0M619.8 196.7h0M618.7 194.8h0M621.1 194.7h0M621.6 194.8h0M621.4 194.7h0M623.4 192.0h0M618.3 196.0h0M618.6 196.1h0M617.1 194.8h0M617.4 193.9h0M623.1 190.2h0M618.7 194.7h0M622.1 194.4h0M617.8 194.5h0M622.2 195.1h0M621.7 194.4h0M617.4 195.3h0M618.8 193.8h0M621.4 194.7h0M618.2 195.2h0M622.4 194.5h0M621.1 194.7h0M622.8 191.6h0M618.1 196.3h0M622.1 195.5h0M620.6 195.0h0M618.4 196.6h0M618.2 197.1h0M617.8 195.0h0M622.0 194.8h0M618.9 195.4h0M618.4 192.7h0M620.9 194.4h0M616.5 194.6h0" stroke="#f4b060" stroke-width="1.25" stroke-linecap="round" fill="none" stroke-opacity="0.85"/>
<path d="M629.4 191.8h0M635.2 189.7h0M630.3 196.9h0M628.1 194.4h0M623.7 198.8h0M625.5 199.2h0M628.2 197.5h0M629.5 196.4h0M630.3 196.2h0M628.0 196.1h0M634.0 191.8h0M627.8 193.3h0M630.4 195.8h0M630.8 194.4h0M627.8 196.7h0M632.5 191.5h0M634.7 189.5h0M631.3 191.0h0M635.2 189.7h0M624.6 198.4h0M626.9 199.2h0M625.2 200.2h0M638.2 192.2h0M631.8 192.6h0M626.4 192.5h0M627.0 193.2h0M627.3 194.6h0M624.0 196.6h0M634.8 189.3h0M627.8 195.4h0M629.5 197.8h0M628.6 195.1h0M623.7 199.6h0M624.3 195.1h0M633.0 192.4h0M628.4 193.7h0M626.9 197.0h0M632.6 193.3h0M631.5 191.9h0M627.6 196.1h0M624.7 198.0h0M632.2 193.4h0M629.8 194.1h0M633.2 193.6h0M627.9 195.8h0M635.0 190.5h0M629.3 193.3h0M630.4 194.4h0M630.2 194.2h0M629.6 191.7h0M633.5 191.4h0M627.6 196.4h0M627.9 196.8h0M626.6 193.6h0M630.0 191.7h0M625.8 198.7h0M630.2 194.8h0M623.5 199.5h0M629.5 196.6h0M628.6 194.3h0M627.4 196.2h0M630.0 191.6h0M629.7 190.7h0M627.5 196.8h0M633.2 189.8h0M635.2 190.0h0M632.2 192.4h0M635.5 189.8h0M626.9 198.1h0M627.5 197.4h0M629.3 191.7h0M627.7 198.5h0M624.1 198.3h0M624.5 200.3h0M624.3 200.6h0M625.0 198.6h0M627.2 197.7h0M625.9 198.2h0M628.4 196.5h0M633.3 191.1h0M628.1 195.0h0M630.4 193.6h0M627.3 194.6h0M629.3 192.6h0M627.5 191.5h0M629.7 188.8h0M629.7 188.9h0M624.4 190.0h0M627.9 190.1h0M627.6 191.1h0M630.8 189.0h0M629.3 192.2h0M628.6 192.3h0M624.3 190.2h0M623.7 189.6h0M628.7 192.0h0M627.0 190.9h0M631.6 188.5h0M628.7 191.8h0M624.3 190.8h0M627.5 190.3h0M623.8 191.2h0M630.7 192.2h0" stroke="#f2c83a" stroke-width="1.25" stroke-linecap="round" fill="none" stroke-opacity="0.85"/>
<path d="M626.0 213.4h0M610.1 213.7h0M611.9 213.8h0M621.5 214.1h0M625.4 213.4h0M614.5 213.0h0M624.2 214.1h0M612.9 213.5h0M619.5 213.0h0M618.7 213.5h0M621.4 213.8h0M614.2 214.0h0M618.6 213.3h0M613.9 212.8h0M622.2 213.5h0M623.5 213.8h0M624.2 213.6h0M610.6 213.8h0M614.8 213.5h0M609.6 213.2h0M612.0 214.1h0M614.9 213.1h0M614.8 213.9h0M612.6 213.7h0M624.2 214.5h0M611.4 213.1h0M620.9 214.4h0M617.6 214.5h0M611.2 213.5h0M621.7 213.0h0M625.5 214.8h0M615.6 214.1h0M622.8 213.7h0M616.2 213.9h0M614.8 213.5h0M610.5 212.7h0M611.0 219.7h0M622.3 219.7h0M614.7 217.5h0M619.8 222.4h0" stroke="#f4a890" stroke-width="1.25" stroke-linecap="round" fill="none" stroke-opacity="0.85"/>
<path d="M608.5 232.7h0M618.6 227.6h0M616.6 230.5h0M620.9 227.3h0M621.2 229.1h0M609.5 231.2h0M618.4 227.2h0M619.4 227.3h0M622.1 230.0h0M615.0 225.1h0M619.5 228.4h0M615.8 231.9h0M610.6 231.5h0M611.4 229.0h0M616.8 226.2h0M615.7 225.8h0M617.1 226.3h0M618.5 230.6h0M618.6 229.4h0M614.9 231.5h0M614.7 227.7h0M614.1 230.8h0M615.6 226.0h0M614.5 231.6h0M620.3 229.1h0M617.8 228.1h0M612.9 227.7h0M613.1 231.0h0M619.4 227.5h0M615.1 227.7h0M611.8 229.8h0M618.3 226.7h0M613.9 231.4h0M615.7 226.4h0M614.4 233.1h0M614.6 231.0h0M611.7 230.8h0M613.0 232.6h0M613.7 233.1h0M614.6 231.6h0M613.6 226.5h0M622.3 230.0h0M621.8 229.2h0M613.9 227.2h0M621.0 229.0h0M610.9 233.7h0M615.2 231.9h0M616.0 224.7h0M618.6 227.5h0M617.6 226.9h0M619.2 228.8h0M617.6 228.1h0M615.8 226.2h0M616.6 227.8h0M616.2 229.2h0M613.0 230.2h0M609.1 233.8h0M612.9 230.8h0M615.4 226.9h0M622.1 230.3h0M612.8 232.6h0M615.0 232.2h0M620.6 229.4h0M614.8 231.7h0M621.2 228.6h0M617.6 227.4h0M620.7 230.5h0M617.8 229.6h0M612.7 234.1h0M617.9 230.8h0M610.4 233.1h0M617.7 227.7h0M617.3 230.7h0M619.2 228.6h0M610.0 234.4h0M615.5 228.8h0M615.4 227.8h0M616.9 225.2h0M617.4 228.2h0M612.5 230.6h0M615.5 227.6h0M611.5 229.9h0M610.9 230.3h0M617.9 226.6h0M615.8 229.3h0M613.4 228.4h0M617.6 228.9h0M612.6 230.4h0M619.9 227.3h0M607.4 234.6h0M620.1 226.1h0M616.3 225.4h0M611.6 233.1h0M617.1 226.5h0M617.5 225.5h0M615.9 229.1h0M611.4 231.0h0M618.8 228.7h0M610.8 228.9h0M609.4 231.6h0M615.4 228.3h0M611.3 229.7h0M611.4 230.9h0M617.2 226.8h0M613.5 228.1h0M610.7 228.5h0M619.1 228.8h0M621.0 229.0h0M619.9 228.1h0M611.5 229.7h0M618.1 225.8h0M617.7 227.5h0M616.8 228.5h0M615.0 225.5h0M612.2 229.0h0M615.2 227.1h0M611.7 229.6h0M611.1 229.9h0M611.1 230.0h0M614.9 227.8h0M610.6 230.9h0M619.6 231.7h0M617.1 225.6h0M616.6 227.4h0M613.2 232.9h0M613.1 227.3h0M613.1 231.3h0M611.4 233.9h0M612.7 230.3h0M616.0 231.0h0M616.1 228.3h0M611.5 231.2h0M617.4 227.5h0M612.2 230.1h0M613.9 230.2h0M618.5 230.1h0M614.5 228.2h0M615.7 228.0h0M612.8 229.1h0M615.8 230.4h0M613.6 227.1h0M616.5 228.0h0M617.2 230.3h0M616.5 229.0h0M613.4 230.5h0M613.5 227.3h0M612.0 227.9h0M614.7 228.0h0M612.1 231.5h0M615.8 228.8h0M614.9 228.5h0M614.5 227.5h0M614.2 227.6h0M612.8 230.5h0M616.0 229.1h0M613.0 227.9h0M616.0 229.0h0M615.2 226.0h0M613.6 227.3h0M616.2 229.1h0M613.8 226.9h0M614.7 226.2h0M614.3 228.4h0M612.7 230.2h0M613.9 227.5h0M609.8 226.3h0M615.9 224.6h0M610.9 233.1h0M612.2 232.6h0M611.1 224.3h0M611.9 233.4h0M610.3 225.0h0M618.2 228.2h0M622.2 226.1h0M609.7 231.9h0M615.1 229.4h0M611.9 235.1h0M620.7 225.5h0M614.4 223.7h0M623.6 223.9h0M615.1 224.9h0M616.2 230.5h0M612.8 230.2h0M619.0 225.3h0M623.7 227.4h0M617.5 235.4h0M613.6 222.0h0M612.7 223.4h0M610.3 234.7h0M618.6 224.4h0M614.8 227.2h0M610.7 225.7h0M609.3 235.0h0M615.8 229.4h0M621.5 229.9h0M616.1 232.1h0M616.9 226.6h0M620.4 223.3h0M617.7 224.3h0M616.7 224.5h0M616.9 226.9h0M619.3 226.5h0M610.6 230.4h0M615.1 232.2h0M618.6 222.2h0M617.8 222.3h0M622.6 230.0h0M617.7 227.1h0M609.8 226.3h0M613.4 224.4h0M623.6 225.6h0M616.6 225.3h0M621.7 223.5h0M623.6 224.3h0M612.9 228.2h0" stroke="#f2a096" stroke-width="1.25" stroke-linecap="round" fill="none" stroke-opacity="0.85"/>
<path d="M628.7 178.9h0M631.5 179.8h0M633.6 180.3h0M630.8 180.8h0M632.7 179.9h0M633.4 180.0h0M633.3 180.4h0M632.3 179.3h0M633.4 180.3h0M631.8 181.8h0M630.0 189.9h0M635.4 183.6h0M627.5 188.9h0M637.5 182.7h0M627.2 184.9h0M623.6 175.7h0M634.7 177.4h0M617.2 174.1h0M632.5 183.1h0M631.5 185.4h0M614.8 179.0h0M621.0 181.3h0M616.8 185.6h0M630.3 174.1h0M617.0 182.2h0M632.7 176.4h0M626.7 173.7h0M627.4 192.8h0M625.1 175.2h0M617.6 186.3h0M623.7 185.5h0M620.9 180.3h0M619.0 188.5h0M636.5 191.9h0M622.0 175.8h0M637.9 193.1h0M630.2 192.8h0M631.0 174.6h0M634.7 188.8h0M633.6 180.6h0M627.5 173.9h0M637.0 191.5h0M625.6 193.5h0M619.7 193.7h0M628.7 186.6h0M630.6 187.6h0M628.7 183.3h0M628.1 183.6h0M626.7 182.1h0M629.3 183.5h0M629.4 187.1h0M631.6 185.0h0M629.3 183.9h0M632.7 186.6h0M631.0 181.5h0M629.8 187.1h0M628.1 183.0h0M628.5 183.2h0M630.3 181.7h0M628.2 183.7h0M630.0 187.7h0M628.9 183.5h0M632.2 181.3h0M629.0 185.9h0M629.9 181.9h0M631.1 187.5h0M630.1 181.2h0M631.3 180.3h0M631.1 182.0h0M625.5 187.4h0M625.2 186.8h0M624.8 185.6h0M623.3 185.7h0" stroke="#ece27a" stroke-width="1.25" stroke-linecap="round" fill="none" stroke-opacity="0.85"/>
<path d="M644.0 190.0h0M643.3 191.1h0M639.2 179.3h0M646.1 191.5h0M640.5 185.0h0M639.6 180.0h0M639.5 184.3h0M641.5 183.5h0M641.3 184.0h0M640.8 186.0h0M643.5 186.9h0M642.6 186.5h0M642.3 188.2h0M644.8 192.2h0M647.9 189.6h0M644.2 191.0h0M644.2 187.2h0M641.6 184.5h0M638.2 182.6h0M645.6 187.9h0M637.8 183.4h0M646.9 189.5h0M643.5 186.9h0M646.0 191.5h0M639.9 185.6h0M641.5 184.0h0M646.9 191.4h0M641.9 190.1h0M641.6 182.3h0M647.2 188.9h0M645.9 188.9h0M640.7 190.6h0M644.3 185.1h0M640.0 185.8h0M642.0 181.6h0M646.6 190.2h0M642.9 186.2h0M638.8 183.1h0M643.4 185.5h0M640.9 185.0h0M640.3 186.2h0M645.7 185.2h0M642.8 184.8h0M644.7 186.7h0M642.5 191.4h0M641.9 182.3h0M645.4 190.7h0M643.6 185.8h0M640.0 186.0h0M647.3 190.3h0M643.6 189.5h0M643.7 189.3h0M639.9 184.1h0M645.6 189.9h0M647.2 190.1h0M641.5 184.1h0M639.5 186.1h0M642.5 187.6h0M647.3 190.9h0M643.6 187.1h0M648.3 189.0h0M639.6 189.5h0M639.0 185.9h0M641.7 189.2h0M641.3 185.7h0M642.2 185.4h0M641.5 186.8h0M638.9 183.6h0M644.0 189.3h0M646.6 189.0h0M639.6 180.7h0M641.7 189.5h0M641.6 182.2h0M641.2 190.4h0M637.0 185.8h0M644.1 189.3h0M640.7 190.2h0M640.3 180.0h0M643.8 191.3h0M643.8 185.8h0M639.1 182.8h0M640.0 185.2h0M644.6 190.4h0M641.7 188.6h0" stroke="#e8dc50" stroke-width="1.25" stroke-linecap="round" fill="none" stroke-opacity="0.85"/>
<path d="M648.8 199.3h0M645.4 195.3h0M658.3 201.7h0M652.8 197.2h0M657.1 201.1h0M644.8 193.7h0M647.9 190.9h0M657.7 190.5h0M658.1 194.9h0M655.0 195.4h0M654.6 195.2h0M647.2 200.7h0M649.8 198.1h0M651.0 203.4h0M650.5 203.3h0M648.3 199.9h0M648.8 196.4h0M646.7 198.0h0M646.9 197.9h0M653.4 200.9h0M648.7 192.5h0M657.8 192.8h0M653.1 193.4h0M657.6 199.1h0M657.7 192.9h0M657.8 201.8h0M654.8 203.4h0M650.4 191.7h0M651.1 203.2h0M656.0 202.2h0M646.3 197.2h0M649.0 194.1h0M657.0 198.7h0M650.4 195.8h0M650.6 194.7h0M647.7 193.7h0M657.6 204.6h0M651.7 189.8h0M657.3 188.6h0M641.9 197.3h0M645.6 198.4h0M650.4 193.8h0M655.1 186.8h0M648.8 200.1h0M655.7 199.3h0M657.8 189.7h0M659.4 194.4h0M657.0 199.0h0M656.0 193.4h0M657.3 200.2h0M653.7 194.9h0M657.4 194.7h0M654.1 203.7h0M651.7 195.2h0M653.1 193.8h0M649.5 190.5h0M652.5 190.2h0M649.2 194.3h0M652.8 195.9h0M658.4 191.8h0M654.7 196.4h0M658.0 198.4h0M660.0 190.8h0M646.8 191.2h0M647.0 197.3h0M653.3 193.8h0M657.6 192.8h0M655.2 189.7h0M651.9 194.7h0M659.6 192.3h0M648.5 197.8h0M644.6 191.0h0M653.4 199.9h0M657.0 195.6h0M646.9 196.0h0M649.7 188.4h0M655.7 203.1h0M662.8 200.7h0M645.5 193.4h0M661.0 197.1h0M656.1 197.5h0M647.3 203.4h0M659.1 196.1h0M653.9 195.1h0M652.9 201.9h0M660.7 188.8h0M648.0 194.3h0M654.9 199.4h0M657.3 194.9h0M650.3 186.8h0M660.5 195.6h0M653.7 196.8h0M648.0 190.8h0M655.5 195.0h0M651.9 205.6h0M651.2 192.7h0M648.0 202.3h0M647.3 197.3h0M658.2 200.6h0M656.2 194.5h0M652.0 195.4h0M647.7 202.7h0M657.2 193.0h0M654.1 201.7h0M655.7 190.3h0M652.6 200.3h0M653.1 188.1h0M658.4 192.1h0M654.8 191.3h0M652.5 187.4h0M656.4 191.2h0M658.0 196.0h0M653.0 195.3h0M659.2 192.3h0M661.0 193.3h0M644.4 197.8h0M655.1 191.4h0M661.0 194.2h0M649.6 203.3h0M651.1 197.9h0M649.0 193.6h0M651.6 190.2h0M646.6 196.5h0M654.2 197.9h0M651.0 195.8h0M655.5 190.6h0M652.9 194.3h0M657.0 195.7h0M650.9 202.5h0M660.3 190.3h0M653.7 202.1h0M649.0 192.2h0M652.1 187.5h0M649.1 201.8h0M654.8 204.0h0M655.5 190.3h0M645.9 197.4h0M652.8 191.3h0M656.6 199.5h0M652.7 196.2h0M650.0 192.0h0M656.0 192.5h0M662.6 196.7h0M649.8 192.9h0M654.3 197.8h0M652.1 195.1h0M653.8 191.1h0M649.0 194.2h0M653.0 200.7h0M655.0 194.6h0M651.0 190.8h0M651.9 196.9h0M648.7 189.6h0M654.9 202.8h0M661.5 199.2h0M656.1 193.3h0M652.5 194.5h0M658.2 195.3h0M647.3 192.9h0M646.6 199.2h0M649.4 199.8h0M658.6 192.7h0M659.3 190.4h0M650.5 196.0h0M648.4 194.1h0M657.4 195.4h0M650.3 190.4h0M653.5 202.2h0M654.3 195.7h0M654.6 194.1h0M659.5 198.7h0M652.5 189.3h0M656.5 189.2h0M648.3 198.6h0M647.6 189.7h0M646.9 194.1h0M645.8 191.6h0M650.3 199.4h0M657.2 194.7h0M642.3 197.0h0M652.0 191.6h0M653.8 199.8h0M646.3 194.6h0M651.7 193.1h0M661.4 197.5h0M652.0 187.4h0M658.1 189.1h0M657.9 195.2h0M656.4 189.8h0M654.3 195.0h0M656.2 195.0h0M660.2 190.1h0M652.7 198.1h0M657.5 194.0h0M657.9 195.8h0M660.4 192.4h0M646.6 201.0h0M648.9 194.7h0M654.5 190.5h0M657.6 196.3h0M651.6 193.5h0M651.4 194.6h0M654.8 191.6h0M657.3 198.6h0M645.6 195.1h0M649.0 193.7h0M648.1 195.2h0M654.1 196.8h0M652.8 193.4h0M659.3 190.7h0M653.1 204.3h0M651.6 196.1h0M650.7 193.6h0M644.4 195.5h0M660.9 194.4h0M652.3 187.5h0M647.0 195.3h0M652.0 203.5h0M651.5 192.7h0M659.3 193.4h0M656.5 194.7h0M650.6 188.3h0M647.6 195.3h0M651.4 194.7h0M658.8 195.2h0M650.6 194.9h0M656.5 197.3h0M661.3 196.6h0M644.5 198.9h0M645.8 191.6h0M654.9 203.4h0M654.0 193.3h0M658.0 195.5h0M650.4 202.2h0M646.9 198.3h0M648.5 199.8h0M657.3 201.8h0M653.4 192.4h0M654.5 195.4h0M653.9 193.4h0M661.1 197.4h0M648.1 190.0h0M653.8 189.2h0M651.2 187.6h0M644.7 198.6h0M653.2 189.2h0M654.6 197.0h0M651.8 190.4h0M650.5 191.9h0M657.6 195.8h0M650.9 197.1h0M651.0 189.4h0M652.7 186.9h0M644.9 198.2h0M656.8 196.7h0M648.0 194.2h0M655.6 190.5h0M645.6 191.3h0M658.7 200.6h0M657.4 192.4h0M644.7 197.8h0M655.6 196.2h0M659.1 190.5h0M658.4 197.3h0M661.5 198.2h0M656.8 190.9h0M648.7 190.4h0M660.8 197.9h0M651.8 192.5h0M649.6 190.4h0M658.0 197.3h0M657.2 195.4h0M655.9 200.8h0M656.5 195.6h0M651.5 199.6h0M647.6 191.0h0M646.6 194.7h0M662.5 200.7h0M648.2 193.6h0M657.0 190.4h0M654.4 195.9h0M649.3 194.5h0M651.5 188.5h0M658.0 194.1h0M654.0 194.4h0M654.9 195.2h0M651.1 195.5h0M652.7 197.5h0M646.7 190.4h0M644.2 197.1h0M655.6 191.9h0M646.2 190.1h0M649.1 199.5h0M656.9 190.8h0M656.0 195.6h0M645.8 196.9h0M653.5 197.2h0M647.4 195.2h0M657.6 196.4h0M644.9 197.4h0M653.6 195.6h0M646.3 193.6h0M653.0 191.4h0M652.7 198.8h0M657.1 192.1h0M652.8 194.1h0M646.0 197.9h0M646.7 200.5h0M653.9 204.7h0M655.4 194.0h0M654.6 195.5h0M656.4 195.2h0M649.7 200.2h0M649.7 193.0h0M658.8 201.2h0M655.3 202.8h0M654.0 195.2h0M653.6 188.8h0M652.6 200.6h0M656.9 195.3h0M655.2 195.4h0M648.7 194.1h0M649.8 201.3h0M653.8 193.6h0M655.7 189.6h0M647.2 196.5h0M653.7 190.6h0M656.2 195.1h0M657.6 198.8h0M655.4 194.5h0M653.8 194.1h0M655.3 193.1h0M651.6 199.2h0M649.9 198.8h0M659.0 189.2h0M644.3 198.7h0M650.6 188.4h0M649.7 192.2h0M656.4 200.7h0M659.6 189.9h0M652.2 203.0h0M642.5 197.0h0M650.8 202.6h0M650.1 190.3h0M652.9 198.8h0M655.9 201.3h0M646.6 197.6h0M647.4 197.5h0M651.7 192.2h0M648.9 189.7h0M661.2 194.2h0M658.1 195.6h0M655.5 203.6h0M659.1 192.6h0M650.7 201.1h0M647.6 191.3h0M650.8 196.6h0M646.0 199.2h0M645.3 197.5h0M646.6 195.2h0M648.3 188.0h0M649.5 185.6h0M653.8 194.0h0M654.9 199.3h0M659.4 200.5h0M660.4 195.8h0M652.5 193.3h0M656.7 191.2h0M660.0 191.0h0M651.4 197.9h0M658.2 202.8h0M648.2 203.0h0M650.7 194.9h0M656.3 194.6h0M650.5 189.6h0M653.6 203.4h0M653.9 194.0h0M658.7 200.9h0M651.5 193.0h0M657.0 193.6h0M652.7 200.3h0M650.0 188.6h0M643.3 197.3h0M644.7 197.0h0M657.1 192.7h0M651.6 191.6h0M647.1 193.7h0M658.1 201.2h0M660.1 192.2h0M660.9 199.0h0M653.1 189.7h0M648.9 192.0h0M661.7 193.0h0M655.5 189.9h0M654.0 189.1h0M652.2 194.8h0M652.1 191.2h0M654.6 193.6h0M660.8 190.4h0M657.1 197.2h0M656.0 195.7h0M656.9 201.4h0M654.2 192.9h0M646.5 196.8h0M651.0 190.3h0M658.1 196.0h0M657.6 192.5h0M657.9 195.9h0M657.8 189.0h0M650.4 195.5h0M653.3 187.4h0M659.0 200.8h0M654.0 195.1h0M646.2 199.8h0M648.8 194.0h0M653.6 190.8h0M654.3 189.1h0M655.7 193.6h0M645.6 195.0h0M651.7 200.2h0M659.0 188.9h0M649.3 192.5h0M648.8 188.7h0M654.1 192.6h0M659.5 198.9h0M661.6 193.2h0M647.3 202.7h0M660.5 189.4h0M657.2 201.7h0M649.4 197.6h0M647.0 202.8h0M653.7 193.3h0M653.2 198.1h0M653.9 198.9h0M652.1 204.0h0M654.3 202.7h0M655.8 195.7h0M652.3 204.8h0M660.7 199.1h0M660.1 197.1h0M662.7 200.6h0M658.0 202.8h0M656.4 193.5h0M659.0 190.8h0M653.8 193.4h0M651.1 187.2h0M647.6 189.7h0M650.7 193.3h0M649.3 193.7h0M654.6 202.0h0M652.6 194.9h0M654.6 194.9h0M650.5 197.5h0M652.9 194.8h0M658.0 190.1h0M653.1 198.8h0M647.8 202.7h0M654.5 198.6h0M648.6 200.6h0M654.4 201.7h0M650.6 191.1h0M659.6 190.5h0M648.2 193.9h0M657.0 201.4h0M651.9 187.9h0M650.1 196.0h0M648.9 192.8h0M652.5 203.4h0M660.9 193.7h0M652.9 202.8h0M653.6 200.3h0M651.4 194.6h0M656.9 190.1h0M651.4 188.0h0M652.7 195.5h0M653.7 205.0h0M655.5 191.2h0M652.2 198.0h0M648.6 187.7h0M660.3 198.7h0M659.9 190.5h0M650.0 198.7h0M658.5 189.0h0M643.1 196.3h0M657.5 199.1h0M652.1 190.2h0M649.3 203.3h0M652.1 204.6h0M649.2 194.4h0M659.4 197.1h0M644.3 199.1h0M654.5 195.5h0M650.1 198.9h0M656.7 196.2h0M657.2 189.9h0M659.3 202.6h0M649.8 201.0h0M657.2 195.0h0M649.9 201.1h0M648.2 194.9h0M650.1 188.7h0M644.1 195.3h0M661.4 192.2h0M652.9 200.6h0M652.1 187.6h0M655.0 189.2h0M648.7 188.1h0M651.1 190.8h0M654.2 205.1h0M655.8 198.6h0M647.3 194.5h0M646.0 200.6h0M643.8 196.6h0M656.5 192.2h0M653.4 192.9h0M648.1 200.3h0M647.2 202.4h0M652.6 196.5h0M656.8 194.2h0M650.5 195.8h0M648.4 199.4h0M652.3 195.4h0M650.0 193.1h0M654.5 191.9h0M657.9 193.0h0M655.1 202.3h0M653.3 192.5h0M653.7 193.3h0M645.0 197.0h0M649.7 199.2h0M651.4 190.4h0M648.3 191.0h0M656.6 203.9h0M648.1 198.2h0M660.1 190.1h0M650.6 197.4h0M645.7 197.1h0M652.1 200.0h0M650.0 197.2h0M653.8 188.1h0M651.6 187.7h0M648.4 199.9h0M644.8 192.7h0M653.4 196.9h0M654.6 199.6h0M646.6 195.5h0M652.7 187.8h0M656.8 201.4h0M649.4 194.1h0M652.8 199.9h0M649.6 198.4h0M659.5 193.4h0M655.3 199.4h0M652.5 202.7h0M649.8 198.6h0M651.7 191.7h0M654.8 202.1h0M649.2 191.3h0M663.5 199.0h0M665.6 199.6h0M656.4 197.8h0M660.4 199.4h0M658.0 196.9h0M657.9 197.0h0M664.6 198.5h0M665.2 198.8h0M665.1 199.2h0M657.8 196.8h0M659.1 197.1h0M662.3 197.9h0M663.0 199.9h0M663.3 200.2h0M658.1 197.0h0M663.4 198.5h0M665.1 199.0h0M659.5 197.7h0M658.6 196.8h0M660.1 197.9h0M664.7 200.3h0M663.9 198.7h0M665.9 198.9h0M656.1 196.7h0M658.8 185.3h0M655.3 182.0h0M661.1 182.5h0M659.2 183.8h0M663.3 185.0h0M660.6 183.2h0M661.0 182.7h0M658.4 184.9h0M654.4 181.8h0M656.1 181.9h0M660.3 183.2h0M657.0 182.6h0M654.9 182.0h0M655.7 182.7h0M658.4 184.8h0M663.7 185.3h0M652.3 182.4h0M662.0 186.0h0M661.0 185.4h0M661.2 185.5h0M661.4 185.5h0M659.7 184.6h0M659.7 183.9h0M658.4 188.3h0M661.6 185.4h0M657.7 184.4h0M660.8 186.2h0M656.5 185.7h0M655.2 185.7h0M656.2 184.1h0M660.5 184.7h0M661.8 186.1h0M662.4 186.2h0M661.1 185.2h0M660.7 184.7h0M661.2 186.0h0" stroke="#f4e420" stroke-width="1.25" stroke-linecap="round" fill="none" stroke-opacity="0.85"/>
<path d="M646.9 196.8h0M655.9 202.1h0M661.9 196.5h0M655.2 202.4h0M657.8 192.3h0M649.3 189.4h0M653.2 198.3h0M645.2 191.4h0M649.6 199.1h0M662.0 197.2h0M649.7 203.3h0M659.0 194.8h0M660.8 191.0h0M661.9 199.9h0M643.3 196.9h0M654.1 193.1h0M645.0 192.8h0M647.3 191.2h0M657.2 191.9h0M654.8 199.2h0M645.9 200.5h0M646.7 195.8h0M655.9 196.6h0M653.0 194.9h0M646.1 196.6h0M652.7 201.0h0M644.6 198.0h0M662.3 194.6h0M655.0 195.6h0M657.1 193.3h0M651.6 193.0h0M649.7 199.5h0M658.5 192.0h0M656.7 192.3h0M658.1 197.6h0M659.0 184.7h0M663.9 185.2h0M656.1 185.1h0M661.9 186.0h0M659.3 184.0h0M660.3 185.2h0" stroke="#b4d0e4" stroke-width="1.25" stroke-linecap="round" fill="none" stroke-opacity="0.85"/>
<path d="M639.6 209.1h0M641.7 210.1h0M640.3 210.0h0M643.9 209.4h0M642.8 212.9h0M644.5 206.6h0M641.8 212.7h0M641.6 211.3h0M643.6 208.9h0M644.3 211.9h0M642.7 212.4h0M646.5 206.4h0M640.3 212.8h0M640.0 209.3h0M641.1 208.8h0M638.8 208.0h0M644.4 206.5h0M642.9 211.8h0M641.6 207.2h0M639.2 212.6h0M639.5 208.3h0M639.6 208.2h0M640.3 213.0h0M640.1 209.7h0M641.5 207.8h0M640.7 210.8h0M647.0 210.9h0M640.0 210.3h0M639.6 210.6h0M640.2 210.3h0M645.8 206.9h0M644.9 206.5h0M641.2 211.6h0M639.2 206.5h0M643.5 208.8h0M643.1 212.1h0M641.2 211.5h0M641.6 211.7h0M639.3 212.2h0M643.8 206.6h0M643.3 207.7h0M642.8 208.4h0M640.6 207.7h0M644.0 211.4h0M643.9 206.6h0M639.8 209.7h0M644.2 211.4h0M640.3 210.4h0M642.2 209.7h0M642.4 208.9h0M645.6 211.2h0M641.6 212.2h0M643.2 210.3h0M646.5 211.7h0M640.4 209.5h0M640.1 210.0h0M647.6 209.4h0M641.1 206.9h0M641.6 209.2h0M645.5 212.3h0M640.2 206.3h0M641.8 208.9h0M640.2 209.1h0M647.1 212.0h0M644.5 207.5h0M643.6 211.2h0M640.2 206.7h0M645.7 207.5h0M642.2 212.3h0M642.3 210.4h0M647.1 211.0h0M643.5 210.3h0M641.5 212.9h0M639.7 210.6h0M640.0 209.3h0M643.6 211.3h0M640.1 213.6h0M645.7 211.5h0M643.9 210.6h0M639.5 204.6h0M644.1 210.7h0M643.6 211.1h0M644.6 209.2h0M639.4 209.3h0M642.6 209.5h0M644.6 211.0h0M644.8 211.4h0M642.4 208.8h0M641.1 212.4h0M642.5 207.4h0M644.1 210.1h0M644.4 210.7h0M640.5 207.0h0M640.8 209.7h0M642.3 208.1h0M643.3 210.5h0M640.0 212.5h0M642.3 209.1h0M643.9 210.0h0M646.9 210.1h0M642.0 212.1h0M639.0 208.4h0M643.3 209.2h0M640.4 208.5h0M643.3 209.0h0M642.5 208.8h0M640.7 207.9h0M642.0 212.4h0M640.4 213.5h0M639.9 212.5h0M645.2 208.0h0M642.5 207.0h0M641.3 209.0h0M641.8 209.3h0M644.2 212.9h0M639.8 209.2h0M641.7 209.3h0M645.4 211.2h0M641.5 207.1h0M639.9 217.1h0M640.5 216.8h0M639.0 216.9h0M639.9 217.8h0" stroke="#f0e030" stroke-width="1.25" stroke-linecap="round" fill="none" stroke-opacity="0.85"/>
<path d="M646.3 219.6h0M649.5 223.7h0M644.5 217.7h0M649.3 222.9h0M645.1 220.0h0M653.9 219.4h0M649.9 223.4h0M653.0 219.7h0M649.8 223.3h0M642.7 218.8h0M647.5 221.6h0M650.0 223.7h0M649.3 222.0h0M643.0 219.7h0M643.2 219.7h0M646.8 219.2h0M643.8 218.3h0M647.5 221.5h0M644.2 218.1h0M649.2 222.9h0M651.5 216.6h0M646.1 216.6h0M646.3 216.6h0M645.3 219.8h0M653.9 219.5h0M646.7 220.0h0M649.2 223.2h0M647.7 222.8h0M644.6 217.9h0M646.7 220.6h0M649.3 223.4h0M649.1 222.1h0M647.6 218.4h0M654.2 219.9h0M650.0 221.6h0M648.6 221.2h0M651.9 220.2h0M642.6 218.7h0M646.8 220.7h0M644.5 218.2h0M647.8 223.6h0M649.9 221.6h0M649.5 221.9h0M648.0 220.5h0M647.5 221.9h0M647.0 219.9h0M649.2 223.2h0M644.7 218.3h0M643.8 218.0h0M655.4 219.6h0M650.4 220.3h0M648.4 221.0h0M643.9 218.8h0M647.5 220.8h0M653.5 220.4h0M645.4 221.4h0M653.7 219.4h0M654.0 218.7h0M653.5 221.0h0M646.6 221.4h0M647.2 217.2h0M653.2 219.9h0M648.7 221.3h0M648.0 221.6h0M646.4 216.9h0M645.4 216.9h0M648.0 220.7h0M644.2 218.3h0M644.3 218.1h0M648.9 222.7h0M651.1 217.3h0M645.9 219.1h0M643.3 218.9h0M644.9 220.4h0M645.0 219.1h0M645.7 217.3h0M646.6 220.9h0M651.3 217.5h0M645.4 220.3h0M646.5 221.3h0M644.8 218.0h0M648.8 222.2h0M646.9 219.5h0M649.6 223.8h0M650.5 220.1h0M644.8 217.9h0M647.6 218.9h0M648.7 222.2h0M647.8 222.0h0M646.9 216.7h0M649.9 222.4h0M650.9 223.6h0M646.6 218.5h0M644.3 218.6h0M648.7 221.0h0M652.4 217.4h0M644.6 220.2h0M646.5 219.3h0M650.8 219.3h0M643.5 218.8h0M645.8 218.9h0M650.0 221.9h0M644.9 216.5h0M643.4 219.2h0M644.1 221.1h0M642.9 219.6h0M648.3 223.6h0M647.3 219.6h0M642.5 219.2h0M645.5 220.8h0M648.9 223.3h0M648.8 223.9h0M642.9 219.4h0M654.3 219.1h0M648.7 223.1h0" stroke="#ece440" stroke-width="1.25" stroke-linecap="round" fill="none" stroke-opacity="0.85"/>
<path d="M644.6 229.0h0M644.0 229.2h0M644.0 225.4h0M643.2 229.0h0M644.2 228.8h0M643.9 227.0h0M644.2 225.5h0M644.0 226.3h0M644.5 226.5h0M642.9 227.3h0M643.9 227.2h0M652.6 226.4h0M653.5 226.6h0M652.4 226.0h0M651.3 225.8h0M652.4 226.3h0M653.0 230.3h0M653.2 227.8h0M653.2 228.3h0M653.8 228.2h0M653.2 228.6h0" stroke="#bcd4e4" stroke-width="1.25" stroke-linecap="round" fill="none" stroke-opacity="0.85"/>
<path d="M611.1 211.0L610.8 206.4M610.6 205.7L610.6 201.1M610.2 200.4L610.0 195.8M610.4 195.1L609.9 190.5M609.9 189.8L609.7 185.2M609.3 184.5L609.0 179.9M609.4 179.2L609.1 174.6M609.1 173.9L608.6 169.3M616.4 211.0L615.9 206.4M616.2 205.7L616.2 201.1M616.0 200.4L615.9 195.8M615.5 195.1L615.4 190.5M615.0 189.8L614.7 185.2M615.1 184.5L614.9 179.9M614.6 179.2L614.1 174.6M614.2 173.9L613.8 169.3M613.9 168.6L613.8 164.0M621.7 211.0L621.6 206.4M621.8 205.7L621.3 201.1M621.2 200.4L620.9 195.8M620.6 195.1L620.3 190.5M620.8 189.8L620.3 185.2M620.3 184.5L619.8 179.9M620.0 179.2L619.9 174.6M619.5 173.9L618.9 169.3M619.1 168.6L618.8 164.0M626.1 200.0L625.6 195.4M626.1 194.7L626.0 190.1M625.7 189.4L625.4 184.8M625.5 184.1L625.0 179.5M625.2 178.8L624.7 174.2M624.9 173.5L624.9 168.9M624.2 168.2L624.0 163.6M631.0 190.0L630.5 185.4M630.4 184.7L630.4 180.1M630.6 179.4L630.1 174.8M630.1 174.1L630.0 169.5M629.5 168.8L629.3 164.2M635.7 185.0L635.4 180.4M635.8 179.7L635.6 175.1M635.5 174.4L635.0 169.8M635.0 169.1L634.9 164.5M634.8 163.8L634.5 159.2M641.4 185.0L641.4 180.4M641.2 179.7L640.7 175.1M641.0 174.4L640.7 169.8M640.5 169.1L640.1 164.5M645.4 183.0L645.1 178.4M644.9 177.7L644.7 173.1M625.5 211.0L626.0 206.4M631.0 214.0L632.7 209.7M600.0 204.0L597.2 200.8M604.0 203.0L601.2 199.8M604.5 207.5L601.7 204.3M606.0 199.0L603.2 195.8M655.0 180.6L659.3 178.9M660.4 179.1L664.7 177.3M665.8 177.9L670.0 175.9M671.2 176.0L675.3 173.9M650.0 184.3L654.4 182.9M655.4 182.9L659.8 181.7M660.8 181.8L665.1 180.2M666.2 180.6L670.5 178.9M671.6 178.9L675.8 177.0M647.0 188.2L651.5 187.1M652.4 187.0L656.9 186.2M657.8 186.1L662.3 185.2M663.2 185.6L667.6 184.4M644.0 191.9L648.5 191.2M649.4 191.6L654.0 191.0M654.8 191.3L659.4 190.9M660.2 190.4L664.7 189.5M665.6 189.7L670.1 188.6M644.0 196.2L648.6 196.1M649.4 196.4L654.0 196.0M654.8 196.0L659.4 195.9M660.2 195.8L664.8 195.4M665.6 195.3L670.2 194.7M644.0 201.1L648.6 201.7M649.4 201.6L654.0 202.1M654.8 201.6L659.4 202.0M660.2 202.5L664.8 203.0M665.6 203.4L670.2 203.9M671.0 204.4L675.5 205.1M634.0 204.7L638.6 205.2M639.4 205.5L643.9 206.2M644.8 206.1L649.4 206.8M650.2 207.0L654.7 208.1M655.6 208.0L660.0 209.2M661.0 208.8L665.4 210.1M642.0 209.2L646.4 210.4M647.4 209.9L651.8 211.2M652.8 211.2L657.3 212.4M651.5 180.0L653.2 176.2M655.0 183.5L658.7 181.5M627.0 200.5L630.2 198.2M633.0 196.3L636.2 194.0M639.0 192.0L642.2 189.7M645.0 187.5L648.2 185.2M641.0 216.0L641.9 220.5M641.9 221.4L642.8 225.9M646.0 215.0L646.9 219.5M646.9 220.4L647.8 224.9M647.8 225.8L648.7 230.3M648.7 231.2L649.6 235.7M651.5 216.0L652.4 220.5M652.4 221.4L653.3 225.9M653.3 226.8L654.2 231.3M656.5 219.0L657.4 223.5M657.4 224.4L658.3 228.9M658.3 229.8L659.2 234.3M612.0 224.0L614.9 222.6M616.0 227.0L614.1 224.4M620.0 219.0L620.9 215.9M613.0 230.0L615.6 231.9M618.0 223.0L614.9 223.6M623.0 216.0L624.4 213.1M611.0 219.0L612.2 222.0M622.0 229.0L625.0 230.2M626.0 231.0L628.9 232.4M612.0 234.0L609.4 235.9M617.0 234.0L619.7 235.7" stroke="#151515" stroke-width="1.0" fill="none"/>
<path d="M610.7 205.8L609.5 208.7L612.4 208.4ZM610.5 200.5L609.1 203.3L612.1 203.2ZM609.9 195.2L608.6 198.0L611.5 197.9ZM609.9 189.9L608.7 192.8L611.6 192.5ZM609.7 184.6L608.3 187.4L611.3 187.3ZM608.9 179.3L607.6 182.2L610.6 181.9ZM609.0 174.0L607.7 176.8L610.7 176.7ZM608.5 168.7L607.4 171.6L610.3 171.3ZM615.9 205.8L614.7 208.7L617.6 208.4ZM616.2 200.5L614.8 203.3L617.7 203.2ZM615.8 195.2L614.4 198.0L617.4 197.9ZM615.4 189.9L614.0 192.7L616.9 192.6ZM614.6 184.6L613.4 187.5L616.3 187.2ZM614.9 179.3L613.5 182.1L616.5 182.0ZM614.0 174.0L612.9 176.9L615.8 176.6ZM613.7 168.7L612.5 171.6L615.4 171.3ZM613.8 163.4L612.4 166.2L615.3 166.1ZM621.6 205.8L620.2 208.6L623.1 208.5ZM621.2 200.5L620.0 203.4L623.0 203.1ZM620.8 195.2L619.5 198.0L622.5 197.9ZM620.3 189.9L619.0 192.8L621.9 192.6ZM620.3 184.6L619.1 187.5L622.0 187.2ZM619.8 179.3L618.6 182.2L621.5 181.9ZM619.9 174.0L618.5 176.8L621.4 176.7ZM618.8 168.7L617.7 171.6L620.6 171.3ZM618.8 163.4L617.5 166.2L620.4 166.1ZM625.5 194.8L624.4 197.7L627.3 197.4ZM626.0 189.5L624.6 192.3L627.5 192.2ZM625.3 184.2L624.1 187.1L627.0 186.8ZM625.0 178.9L623.8 181.8L626.7 181.5ZM624.7 173.6L623.5 176.5L626.4 176.2ZM624.8 168.3L623.4 171.1L626.3 171.0ZM623.9 163.0L622.6 165.8L625.6 165.7ZM630.4 184.8L629.3 187.7L632.2 187.4ZM630.4 179.5L629.0 182.2L631.9 182.2ZM630.0 174.2L628.8 177.1L631.8 176.8ZM630.0 168.9L628.6 171.7L631.5 171.6ZM629.2 163.6L627.9 166.4L630.8 166.3ZM635.3 179.8L634.1 182.7L637.0 182.4ZM635.5 174.5L634.2 177.3L637.1 177.2ZM635.0 169.2L633.8 172.1L636.7 171.8ZM634.9 163.9L633.4 166.7L636.4 166.6ZM634.4 158.6L633.2 161.4L636.1 161.3ZM641.4 179.8L640.0 182.5L642.9 182.5ZM640.6 174.5L639.5 177.4L642.4 177.1ZM640.6 169.2L639.4 172.1L642.3 171.8ZM640.0 163.9L638.8 166.8L641.7 166.5ZM645.0 177.8L643.8 180.7L646.7 180.4ZM644.7 172.5L643.3 175.3L646.3 175.2ZM626.0 205.8L624.3 208.4L627.2 208.7ZM632.9 209.2L630.5 211.2L633.3 212.3ZM596.8 200.4L597.5 203.4L599.8 201.5ZM600.8 199.4L601.5 202.4L603.8 200.5ZM601.3 203.9L602.0 206.9L604.3 205.0ZM602.8 195.4L603.5 198.4L605.8 196.5ZM659.9 178.7L656.8 178.3L657.8 181.0ZM665.2 177.1L662.1 176.8L663.2 179.5ZM670.5 175.7L667.4 175.5L668.6 178.2ZM675.8 173.6L672.7 173.6L674.1 176.2ZM654.9 182.7L651.9 182.2L652.8 185.0ZM660.4 181.5L657.4 180.9L658.2 183.7ZM665.7 179.9L662.6 179.5L663.6 182.3ZM671.0 178.7L667.9 178.4L669.0 181.1ZM676.3 176.8L673.2 176.6L674.4 179.3ZM652.1 187.0L649.0 186.2L649.7 189.1ZM657.5 186.1L654.6 185.1L655.1 188.0ZM662.9 185.1L659.9 184.2L660.5 187.1ZM668.2 184.2L665.2 183.5L666.0 186.3ZM649.1 191.1L646.2 190.1L646.7 193.0ZM654.5 190.9L651.6 189.8L652.0 192.7ZM660.0 190.8L657.1 189.6L657.4 192.5ZM665.3 189.3L662.3 188.5L662.9 191.4ZM670.7 188.5L667.6 187.7L668.3 190.6ZM649.2 196.1L646.4 194.7L646.5 197.6ZM654.6 196.0L651.7 194.7L652.0 197.7ZM660.0 195.8L657.2 194.5L657.3 197.4ZM665.4 195.3L662.5 194.1L662.8 197.0ZM670.7 194.6L667.8 193.5L668.2 196.5ZM649.2 201.8L646.6 200.0L646.3 202.9ZM654.6 202.2L652.0 200.4L651.7 203.3ZM660.0 202.0L657.4 200.3L657.1 203.3ZM665.4 203.1L662.8 201.3L662.5 204.3ZM670.8 204.0L668.2 202.2L667.9 205.1ZM676.1 205.2L673.7 203.3L673.2 206.2ZM639.2 205.2L636.6 203.5L636.3 206.4ZM644.5 206.3L642.1 204.4L641.6 207.3ZM649.9 206.8L647.4 205.0L647.0 207.9ZM655.2 208.3L652.9 206.2L652.2 209.0ZM660.6 209.4L658.4 207.2L657.6 210.0ZM666.0 210.3L663.8 208.1L662.9 210.9ZM647.0 210.6L644.7 208.4L644.0 211.3ZM652.4 211.4L650.2 209.2L649.3 212.0ZM657.8 212.5L655.5 210.4L654.8 213.3ZM653.5 175.6L651.0 177.5L653.7 178.7ZM659.2 181.2L656.1 181.2L657.5 183.8ZM630.7 197.8L627.6 198.2L629.4 200.6ZM636.7 193.6L633.6 194.0L635.4 196.4ZM642.7 189.3L639.6 189.7L641.4 192.1ZM648.7 184.8L645.6 185.2L647.4 187.6ZM642.0 221.1L642.9 218.1L640.0 218.7ZM642.9 226.5L643.8 223.5L640.9 224.1ZM647.0 220.1L647.9 217.1L645.0 217.7ZM647.9 225.5L648.8 222.5L645.9 223.1ZM648.8 230.9L649.7 227.9L646.8 228.5ZM649.7 236.3L650.6 233.3L647.7 233.9ZM652.5 221.1L653.4 218.1L650.5 218.7ZM653.4 226.5L654.3 223.5L651.4 224.1ZM654.3 231.9L655.2 228.9L652.3 229.5ZM657.5 224.1L658.4 221.1L655.5 221.7ZM658.4 229.5L659.3 226.5L656.4 227.1ZM659.3 234.9L660.2 231.9L657.3 232.5ZM615.4 222.3L612.3 222.2L613.6 224.8ZM613.7 224.0L614.2 227.0L616.5 225.3ZM621.1 215.4L618.9 217.6L621.7 218.4ZM616.0 232.3L614.7 229.5L613.0 231.8ZM614.3 223.7L617.3 224.6L616.7 221.8ZM624.7 212.6L622.2 214.4L624.8 215.7ZM612.4 222.5L612.8 219.4L610.0 220.5ZM625.5 230.4L623.5 228.0L622.4 230.8ZM629.4 232.7L627.6 230.2L626.3 232.8ZM609.0 236.3L612.0 235.8L610.3 233.5ZM620.2 236.0L618.7 233.3L617.1 235.8Z" fill="#111"/>
<rect x="608.6" y="212" width="17.8" height="19" fill="none" stroke="#3a8ad6" stroke-width="0.8"/>
<text x="14.5" y="346.7" font-size="7.6" fill="#000" font-weight="bold">F</text>
<rect x="49.9" y="353.3" width="14.0" height="12.1" fill="#c97c88"/>
<rect x="64.5" y="353.3" width="14.0" height="12.1" fill="#4a6d96"/>
<rect x="79.1" y="353.3" width="14.0" height="12.1" fill="#6f829c"/>
<rect x="93.7" y="353.3" width="14.0" height="12.1" fill="#5c7899"/>
<rect x="108.3" y="353.3" width="14.0" height="12.1" fill="#eabfb0"/>
<rect x="122.9" y="353.3" width="14.0" height="12.1" fill="#f5cdb5"/>
<rect x="137.5" y="353.3" width="14.0" height="12.1" fill="#c47a8a"/>
<rect x="152.1" y="353.3" width="14.0" height="12.1" fill="#8b1c55"/>
<rect x="166.7" y="353.3" width="14.0" height="12.1" fill="#e0a7a5"/>
<text x="48.3" y="361.0" font-size="6.25" text-anchor="end" class="s" word-spacing="1.7">CHRNE+Mono</text>
<rect x="49.9" y="366.0" width="14.0" height="12.1" fill="#4a6e99"/>
<rect x="64.5" y="366.0" width="14.0" height="12.1" fill="#0f4a85"/>
<rect x="79.1" y="366.0" width="14.0" height="12.1" fill="#4d7099"/>
<rect x="93.7" y="366.0" width="14.0" height="12.1" fill="#62799c"/>
<rect x="108.3" y="366.0" width="14.0" height="12.1" fill="#1f5590"/>
<rect x="122.9" y="366.0" width="14.0" height="12.1" fill="#b0acab"/>
<rect x="137.5" y="366.0" width="14.0" height="12.1" fill="#2c5c92"/>
<rect x="152.1" y="366.0" width="14.0" height="12.1" fill="#4d7099"/>
<rect x="166.7" y="366.0" width="14.0" height="12.1" fill="#3a6597"/>
<text x="48.3" y="373.7" font-size="6.25" text-anchor="end" class="s" word-spacing="1.7">Fibroblasts</text>
<rect x="49.9" y="378.8" width="14.0" height="12.1" fill="#6f819c"/>
<rect x="64.5" y="378.8" width="14.0" height="12.1" fill="#4f7098"/>
<rect x="79.1" y="378.8" width="14.0" height="12.1" fill="#0f4a85"/>
<rect x="93.7" y="378.8" width="14.0" height="12.1" fill="#215690"/>
<rect x="108.3" y="378.8" width="14.0" height="12.1" fill="#3f6796"/>
<rect x="122.9" y="378.8" width="14.0" height="12.1" fill="#41679a"/>
<rect x="137.5" y="378.8" width="14.0" height="12.1" fill="#4d7099"/>
<rect x="152.1" y="378.8" width="14.0" height="12.1" fill="#3f6897"/>
<rect x="166.7" y="378.8" width="14.0" height="12.1" fill="#728aa0"/>
<text x="48.3" y="386.5" font-size="6.25" text-anchor="end" class="s" word-spacing="1.7">Epithelial cells</text>
<rect x="49.9" y="391.5" width="14.0" height="12.1" fill="#5e7a9c"/>
<rect x="64.5" y="391.5" width="14.0" height="12.1" fill="#617a9a"/>
<rect x="79.1" y="391.5" width="14.0" height="12.1" fill="#1f5590"/>
<rect x="93.7" y="391.5" width="14.0" height="12.1" fill="#0f4a85"/>
<rect x="108.3" y="391.5" width="14.0" height="12.1" fill="#0f4a85"/>
<rect x="122.9" y="391.5" width="14.0" height="12.1" fill="#3f6796"/>
<rect x="137.5" y="391.5" width="14.0" height="12.1" fill="#748ba1"/>
<rect x="152.1" y="391.5" width="14.0" height="12.1" fill="#6b829d"/>
<rect x="166.7" y="391.5" width="14.0" height="12.1" fill="#5e7a9c"/>
<text x="48.3" y="399.2" font-size="6.25" text-anchor="end" class="s" word-spacing="1.7">Mast cells</text>
<rect x="49.9" y="404.3" width="14.0" height="12.1" fill="#edbfae"/>
<rect x="64.5" y="404.3" width="14.0" height="12.1" fill="#205590"/>
<rect x="79.1" y="404.3" width="14.0" height="12.1" fill="#426998"/>
<rect x="93.7" y="404.3" width="14.0" height="12.1" fill="#0f4a85"/>
<rect x="108.3" y="404.3" width="14.0" height="12.1" fill="#2f5e93"/>
<rect x="122.9" y="404.3" width="14.0" height="12.1" fill="#2a5a92"/>
<rect x="137.5" y="404.3" width="14.0" height="12.1" fill="#b0a9a8"/>
<rect x="152.1" y="404.3" width="14.0" height="12.1" fill="#9c9ca6"/>
<rect x="166.7" y="404.3" width="14.0" height="12.1" fill="#b5ada9"/>
<text x="48.3" y="412.0" font-size="6.25" text-anchor="end" class="s" word-spacing="1.7">B cells</text>
<rect x="49.9" y="417.0" width="14.0" height="12.1" fill="#f6cdb4"/>
<rect x="64.5" y="417.0" width="14.0" height="12.1" fill="#b0acab"/>
<rect x="79.1" y="417.0" width="14.0" height="12.1" fill="#3f6796"/>
<rect x="93.7" y="417.0" width="14.0" height="12.1" fill="#46699a"/>
<rect x="108.3" y="417.0" width="14.0" height="12.1" fill="#2e5d93"/>
<rect x="122.9" y="417.0" width="14.0" height="12.1" fill="#5e7a9c"/>
<rect x="137.5" y="417.0" width="14.0" height="12.1" fill="#cfbcb0"/>
<rect x="152.1" y="417.0" width="14.0" height="12.1" fill="#62799c"/>
<rect x="166.7" y="417.0" width="14.0" height="12.1" fill="#f8d4bc"/>
<text x="48.3" y="424.7" font-size="6.25" text-anchor="end" class="s" word-spacing="1.7">Endothelial cells</text>
<rect x="49.9" y="429.7" width="14.0" height="12.1" fill="#c9778a"/>
<rect x="64.5" y="429.7" width="14.0" height="12.1" fill="#2f5e93"/>
<rect x="79.1" y="429.7" width="14.0" height="12.1" fill="#5e7a9c"/>
<rect x="93.7" y="429.7" width="14.0" height="12.1" fill="#8090a3"/>
<rect x="108.3" y="429.7" width="14.0" height="12.1" fill="#b0acab"/>
<rect x="122.9" y="429.7" width="14.0" height="12.1" fill="#d4bfb2"/>
<rect x="137.5" y="429.7" width="14.0" height="12.1" fill="#8c95a8"/>
<rect x="152.1" y="429.7" width="14.0" height="12.1" fill="#f8d4bc"/>
<rect x="166.7" y="429.7" width="14.0" height="12.1" fill="#db98a0"/>
<text x="48.3" y="437.4" font-size="6.25" text-anchor="end" class="s" word-spacing="1.7">T cells</text>
<rect x="49.9" y="442.5" width="14.0" height="12.1" fill="#8b1c55"/>
<rect x="64.5" y="442.5" width="14.0" height="12.1" fill="#4d7099"/>
<rect x="79.1" y="442.5" width="14.0" height="12.1" fill="#46699a"/>
<rect x="93.7" y="442.5" width="14.0" height="12.1" fill="#748ba1"/>
<rect x="108.3" y="442.5" width="14.0" height="12.1" fill="#a5a5ab"/>
<rect x="122.9" y="442.5" width="14.0" height="12.1" fill="#6b829d"/>
<rect x="137.5" y="442.5" width="14.0" height="12.1" fill="#f8d4bc"/>
<rect x="152.1" y="442.5" width="14.0" height="12.1" fill="#a5a5ab"/>
<rect x="166.7" y="442.5" width="14.0" height="12.1" fill="#8c95a8"/>
<text x="48.3" y="450.2" font-size="6.25" text-anchor="end" class="s" word-spacing="1.7">CHRNE−Mono</text>
<rect x="49.9" y="455.2" width="14.0" height="12.1" fill="#dfa3a3"/>
<rect x="64.5" y="455.2" width="14.0" height="12.1" fill="#3f6796"/>
<rect x="79.1" y="455.2" width="14.0" height="12.1" fill="#8090a3"/>
<rect x="93.7" y="455.2" width="14.0" height="12.1" fill="#6b829d"/>
<rect x="108.3" y="455.2" width="14.0" height="12.1" fill="#a5a5ab"/>
<rect x="122.9" y="455.2" width="14.0" height="12.1" fill="#f8d4bc"/>
<rect x="137.5" y="455.2" width="14.0" height="12.1" fill="#d38a96"/>
<rect x="152.1" y="455.2" width="14.0" height="12.1" fill="#8c95a8"/>
<rect x="166.7" y="455.2" width="14.0" height="12.1" fill="#d4bfb2"/>
<text x="48.3" y="462.9" font-size="6.25" text-anchor="end" class="s" word-spacing="1.7">Unkown</text>
<text x="56.9" y="470" font-size="6.2" class="s" transform="rotate(90 56.9 470)" dy="2.2">Epithelial_cells</text>
<text x="71.5" y="470" font-size="6.2" class="s" transform="rotate(90 71.5 470)" dy="2.2">Mast_cells</text>
<text x="86.1" y="470" font-size="6.2" class="s" transform="rotate(90 86.1 470)" dy="2.2">B_cells</text>
<text x="100.7" y="470" font-size="6.2" class="s" transform="rotate(90 100.7 470)" dy="2.2">Endothelial_cells</text>
<text x="115.3" y="470" font-size="6.2" class="s" transform="rotate(90 115.3 470)" dy="2.2">T_cells</text>
<text x="129.9" y="470" font-size="6.2" class="s" transform="rotate(90 129.9 470)" dy="2.2">CHRNE−Mono</text>
<text x="144.5" y="470" font-size="6.2" class="s" transform="rotate(90 144.5 470)" dy="2.2">Unkown</text>
<text x="159.1" y="470" font-size="6.2" class="s" transform="rotate(90 159.1 470)" dy="2.2">Fibroblasts</text>
<text x="173.7" y="470" font-size="6.2" class="s" transform="rotate(90 173.7 470)" dy="2.2">CHRNE+Mono</text>
<rect x="186.6" y="393.0" width="4.4" height="74.2" fill="url(#gF)"/>
<text x="194.0" y="395.7" font-size="6.3" class="s">30</text>
<text x="194.0" y="407.9" font-size="6.3" class="s">25</text>
<text x="194.0" y="420.1" font-size="6.3" class="s">20</text>
<text x="194.0" y="432.3" font-size="6.3" class="s">15</text>
<text x="194.0" y="444.6" font-size="6.3" class="s">10</text>
<text x="194.0" y="456.8" font-size="6.3" class="s">5</text>
<text x="194.0" y="469.0" font-size="6.3" class="s">0</text>
<text x="240.6" y="346.7" font-size="7.6" fill="#000" font-weight="bold">G</text>
<line x1="279.0" y1="351.6" x2="279.0" y2="521.6" stroke="#ececec" stroke-width="0.6"/>
<line x1="307.0" y1="351.6" x2="307.0" y2="521.6" stroke="#ececec" stroke-width="0.6"/>
<line x1="335.0" y1="351.6" x2="335.0" y2="521.6" stroke="#ececec" stroke-width="0.6"/>
<line x1="363.0" y1="351.6" x2="363.0" y2="521.6" stroke="#ececec" stroke-width="0.6"/>
<line x1="262.6" y1="356.3" x2="379.4" y2="356.3" stroke="#ececec" stroke-width="0.6"/>
<line x1="380.0" y1="356.3" x2="381.6" y2="356.3" stroke="#555" stroke-width="0.6"/>
<text x="383.0" y="358.5" font-size="6.25" class="s">VEGFA−VEGFR1</text>
<line x1="262.6" y1="364.3" x2="379.4" y2="364.3" stroke="#ececec" stroke-width="0.6"/>
<line x1="380.0" y1="364.3" x2="381.6" y2="364.3" stroke="#555" stroke-width="0.6"/>
<text x="383.0" y="366.6" font-size="6.25" class="s">SPP1−ITGA5−ITGB1</text>
<text x="383.0" y="374.6" font-size="6.25" class="s">SELE−CD44</text>
<text x="383.0" y="382.6" font-size="6.25" class="s">NAMPT−ITGA5−ITGB1</text>
<text x="383.0" y="390.7" font-size="6.25" class="s">JAM2−ITGAV−ITGB1</text>
<text x="383.0" y="398.7" font-size="6.25" class="s">ITGB2−ICAM2</text>
<line x1="262.6" y1="404.5" x2="379.4" y2="404.5" stroke="#ececec" stroke-width="0.6"/>
<line x1="380.0" y1="404.5" x2="381.6" y2="404.5" stroke="#555" stroke-width="0.6"/>
<text x="383.0" y="406.7" font-size="6.25" class="s">ITGB2−ICAM1</text>
<line x1="262.6" y1="412.5" x2="379.4" y2="412.5" stroke="#ececec" stroke-width="0.6"/>
<line x1="380.0" y1="412.5" x2="381.6" y2="412.5" stroke="#555" stroke-width="0.6"/>
<text x="383.0" y="414.8" font-size="6.25" class="s">ICAM1−ITGAX−ITGB2</text>
<text x="383.0" y="422.8" font-size="6.25" class="s">HLA−DRB5−CD4</text>
<text x="383.0" y="430.9" font-size="6.25" class="s">HLA−DRB1−CD4</text>
<text x="383.0" y="438.9" font-size="6.25" class="s">HLA−DRA−CD4</text>
<text x="383.0" y="446.9" font-size="6.25" class="s">HLA−DQB1−CD4</text>
<line x1="262.6" y1="452.7" x2="379.4" y2="452.7" stroke="#ececec" stroke-width="0.6"/>
<line x1="380.0" y1="452.7" x2="381.6" y2="452.7" stroke="#555" stroke-width="0.6"/>
<text x="383.0" y="455.0" font-size="6.25" class="s">HLA−DQA2−CD4</text>
<line x1="262.6" y1="460.8" x2="379.4" y2="460.8" stroke="#ececec" stroke-width="0.6"/>
<line x1="380.0" y1="460.8" x2="381.6" y2="460.8" stroke="#555" stroke-width="0.6"/>
<text x="383.0" y="463.0" font-size="6.25" class="s">HLA−DQA1−CD4</text>
<text x="383.0" y="471.0" font-size="6.25" class="s">HLA−DPB1−CD4</text>
<text x="383.0" y="479.1" font-size="6.25" class="s">HLA−DPA1−CD4</text>
<text x="383.0" y="487.1" font-size="6.25" class="s">HLA−DMA−CD4</text>
<text x="383.0" y="495.1" font-size="6.25" class="s">CD99−PILRA</text>
<line x1="262.6" y1="500.9" x2="379.4" y2="500.9" stroke="#ececec" stroke-width="0.6"/>
<line x1="380.0" y1="500.9" x2="381.6" y2="500.9" stroke="#555" stroke-width="0.6"/>
<text x="383.0" y="503.2" font-size="6.25" class="s">CD99−CD99</text>
<line x1="262.6" y1="509.0" x2="379.4" y2="509.0" stroke="#ececec" stroke-width="0.6"/>
<line x1="380.0" y1="509.0" x2="381.6" y2="509.0" stroke="#555" stroke-width="0.6"/>
<text x="383.0" y="511.2" font-size="6.25" class="s">APP−CD74</text>
<line x1="262.6" y1="517.0" x2="379.4" y2="517.0" stroke="#ececec" stroke-width="0.6"/>
<line x1="380.0" y1="517.0" x2="381.6" y2="517.0" stroke="#555" stroke-width="0.6"/>
<text x="383.0" y="519.2" font-size="6.25" class="s">ANXA1−FPR1</text>
<line x1="262.2" y1="351.6" x2="379.8" y2="351.6" stroke="#707070" stroke-width="0.9"/>
<line x1="262.6" y1="351.2" x2="262.6" y2="521.8" stroke="#606060" stroke-width="0.9"/>
<line x1="262.2" y1="521.4" x2="379.8" y2="521.4" stroke="#808080" stroke-width="0.9"/>
<circle cx="279.0" cy="356.3" r="0.80" fill="#dd2030"/>
<circle cx="279" cy="364.3" r="2.2" fill="#fdf0a8" stroke="#e03a2c" stroke-width="0.8"/>
<circle cx="279.0" cy="380.4" r="1.50" fill="#dd2030"/>
<circle cx="279.0" cy="396.5" r="1.10" fill="#dd2030"/>
<circle cx="279.0" cy="404.5" r="1.20" fill="#dd2030"/>
<circle cx="279.0" cy="500.9" r="0.40" fill="#f4a0a0"/>
<circle cx="307" cy="356.3" r="1.9" fill="#fdf0a8" stroke="#e03a2c" stroke-width="0.8"/>
<circle cx="307.0" cy="364.3" r="1.10" fill="#dd2030"/>
<circle cx="307" cy="380.4" r="2.0" fill="#fdf0a8" stroke="#e03a2c" stroke-width="0.8"/>
<circle cx="307" cy="396.5" r="2.0" fill="#fdf0a8" stroke="#e03a2c" stroke-width="0.8"/>
<circle cx="307" cy="404.5" r="2.0" fill="#fdf0a8" stroke="#e03a2c" stroke-width="0.8"/>
<circle cx="307" cy="500.9" r="2.0" fill="#fdf0a8" stroke="#e03a2c" stroke-width="0.8"/>
<circle cx="335" cy="372.4" r="1.6" fill="#f08a40" stroke="#e03a2c" stroke-width="0.7"/>
<circle cx="335.0" cy="412.5" r="0.90" fill="#dd2030"/>
<circle cx="335" cy="492.9" r="2.0" fill="#fdf0a8" stroke="#e03a2c" stroke-width="0.8"/>
<circle cx="335.0" cy="500.9" r="0.40" fill="#f4a0a0"/>
<circle cx="335" cy="509.0" r="1.9" fill="#fdf0a8" stroke="#e03a2c" stroke-width="0.8"/>
<circle cx="335.0" cy="517.0" r="1.50" fill="#dd2030"/>
<circle cx="363" cy="372.4" r="1.9" fill="#fdf0a8" stroke="#e03a2c" stroke-width="0.8"/>
<circle cx="363" cy="388.4" r="1.9" fill="#fdf0a8" stroke="#e03a2c" stroke-width="0.8"/>
<circle cx="363" cy="412.5" r="1.9" fill="#fdf0a8" stroke="#e03a2c" stroke-width="0.8"/>
<circle cx="363" cy="420.6" r="1.9" fill="#fdf0a8" stroke="#e03a2c" stroke-width="0.8"/>
<circle cx="363" cy="428.6" r="1.9" fill="#fdf0a8" stroke="#e03a2c" stroke-width="0.8"/>
<circle cx="363" cy="436.6" r="1.9" fill="#fdf0a8" stroke="#e03a2c" stroke-width="0.8"/>
<circle cx="363" cy="444.7" r="1.9" fill="#fdf0a8" stroke="#e03a2c" stroke-width="0.8"/>
<circle cx="363" cy="452.7" r="1.9" fill="#fdf0a8" stroke="#e03a2c" stroke-width="0.8"/>
<circle cx="363" cy="460.8" r="1.9" fill="#fdf0a8" stroke="#e03a2c" stroke-width="0.8"/>
<circle cx="363" cy="468.8" r="1.9" fill="#fdf0a8" stroke="#e03a2c" stroke-width="0.8"/>
<circle cx="363" cy="476.8" r="1.9" fill="#fdf0a8" stroke="#e03a2c" stroke-width="0.8"/>
<circle cx="363" cy="484.9" r="1.9" fill="#fdf0a8" stroke="#e03a2c" stroke-width="0.8"/>
<circle cx="363" cy="500.9" r="1.9" fill="#fdf0a8" stroke="#e03a2c" stroke-width="0.8"/>
<circle cx="363" cy="509.0" r="1.9" fill="#fdf0a8" stroke="#e03a2c" stroke-width="0.8"/>
<circle cx="363" cy="517.0" r="1.9" fill="#fdf0a8" stroke="#e03a2c" stroke-width="0.8"/>
<circle cx="363" cy="492.9" r="1.6" fill="#f0703c" stroke="#e03a2c" stroke-width="0.7"/>
<line x1="279.0" y1="521.6" x2="279.0" y2="523.6" stroke="#333" stroke-width="0.5"/>
<line x1="307.0" y1="521.6" x2="307.0" y2="523.6" stroke="#333" stroke-width="0.5"/>
<line x1="335.0" y1="521.6" x2="335.0" y2="523.6" stroke="#333" stroke-width="0.5"/>
<line x1="363.0" y1="521.6" x2="363.0" y2="523.6" stroke="#333" stroke-width="0.5"/>
<text x="279.5" y="527.5" font-size="6.35" class="s" text-anchor="end" transform="rotate(-45 279.5 525.5)">CHRNE−Mono−Endothelial_cells</text>
<text x="307.5" y="527.5" font-size="6.35" class="s" text-anchor="end" transform="rotate(-45 307.5 525.5)">CHRNE+Mono−Endothelial_cells</text>
<text x="335.5" y="527.5" font-size="6.35" class="s" text-anchor="end" transform="rotate(-45 335.5 525.5)">Endothelial_cells−CHRNE−Mono</text>
<text x="363.5" y="527.5" font-size="6.35" class="s" text-anchor="end" transform="rotate(-45 363.5 525.5)">Endothelial_cells−CHRNE+Mono</text>
<text x="218.0" y="380.7" font-size="6.3" class="s">Scaled_means</text>
<circle cx="222.8" cy="388.8" r="1.9" fill="none" stroke="#111" stroke-width="0.8"/>
<text x="229.6" y="390.8" font-size="6.3" class="s">1.00</text>
<circle cx="222.8" cy="398.4" r="1.45" fill="none" stroke="#111" stroke-width="0.85"/>
<text x="229.6" y="400.4" font-size="6.3" class="s">0.75</text>
<circle cx="222.8" cy="408" r="0.95" fill="none" stroke="#111" stroke-width="0.55"/>
<text x="229.6" y="410.0" font-size="6.3" class="s">0.50</text>
<rect x="222.2" y="416.9" width="1.4" height="1.4" fill="#111"/>
<text x="229.6" y="419.7" font-size="6.3" class="s">0.25</text>
<circle cx="223.0" cy="427.0" r="0.40" fill="#111"/>
<text x="229.6" y="429.3" font-size="6.3" class="s">0.00</text>
<text x="218.0" y="438.9" font-size="6.3" class="s">Scaled_means</text>
<rect x="218.4" y="443.6" width="23.6" height="46.8" fill="url(#gG)"/>
<line x1="218.4" y1="467.2" x2="221.0" y2="467.2" stroke="#fff" stroke-width="0.5"/>
<line x1="239.4" y1="467.2" x2="242.0" y2="467.2" stroke="#fff" stroke-width="0.5"/>
<text x="243" y="446.4" font-size="5.2" textLength="9.5" lengthAdjust="spacingAndGlyphs">1.00</text>
<text x="243" y="457.8" font-size="5.2" textLength="9.5" lengthAdjust="spacingAndGlyphs">0.75</text>
<text x="243" y="469.2" font-size="5.2" textLength="9.5" lengthAdjust="spacingAndGlyphs">0.50</text>
<text x="243" y="480.6" font-size="5.2" textLength="9.5" lengthAdjust="spacingAndGlyphs">0.25</text>
<text x="243" y="492.0" font-size="5.2" textLength="9.5" lengthAdjust="spacingAndGlyphs">0.00</text>
<text x="218.0" y="501.3" font-size="6.3" class="s">Significant</text>
<text x="227.0" y="509.7" font-size="6.3" class="s">no</text>
<text x="227.0" y="519.5" font-size="6.3" class="s">yes</text>
<circle cx="219.4" cy="517.4" r="0.80" fill="#e03a2c"/>
<text x="471.6" y="346.1" font-size="7.6" fill="#000" font-weight="bold">H</text>
<rect x="499.0" y="351.4" width="16.0" height="101.6" fill="#000"/>
<rect x="499.0" y="456.6" width="16.0" height="101.8" fill="#000"/>
<rect x="518.4" y="351.4" width="165.6" height="101.6" fill="#000"/>
<rect x="518.4" y="456.6" width="165.6" height="101.8" fill="#000"/>
<text x="493.0" y="403.0" font-size="6.45" text-anchor="middle" transform="rotate(-90 493.0 400.7)" class="s">Early stage patient</text>
<text x="493.0" y="508.3" font-size="6.45" text-anchor="middle" transform="rotate(-90 493.0 506.0)" class="s">Late stage patient</text>
<text x="507.0" y="372.1" font-size="5.9" text-anchor="middle" fill="#f01818" transform="rotate(-90 507.0 370.0)" stroke="#f01818">CD31</text>
<text x="507.0" y="403.7" font-size="5.9" text-anchor="middle" fill="#18e018" transform="rotate(-90 507.0 401.6)" stroke="#18e018">CHRNE</text>
<text x="507.0" y="439.1" font-size="5.9" text-anchor="middle" fill="#f0f000" transform="rotate(-90 507.0 437.0)" stroke="#f0f000">CD11b</text>
<text x="507.0" y="476.5" font-size="5.9" text-anchor="middle" fill="#f01818" transform="rotate(-90 507.0 474.4)" stroke="#f01818">CD31</text>
<text x="507.0" y="507.1" font-size="5.9" text-anchor="middle" fill="#18e018" transform="rotate(-90 507.0 505.0)" stroke="#18e018">CHRNE</text>
<text x="507.0" y="543.1" font-size="5.9" text-anchor="middle" fill="#f0f000" transform="rotate(-90 507.0 541.0)" stroke="#f0f000">CD11b</text>
<g clip-path="url(#ch1)"><g transform="translate(518.4 351.4)">
<path d="M4.0 2.7l0.2 0.1M8.8 1.5l-1.2 0.6M15.1 1.6l0.3 0.2M30.1 2.4l-0.3 0.4M41.2 1.0l0.5 0.9M48.6 2.3l0.7 1.9M70.4 1.7l0.8 1.8M97.6 1.6l-0.6 1.7M104.9 0.9l1.7 0.5M115.3 3.0l0.2 0.1M119.9 1.4l0.9 1.8M143.8 2.1l-0.5 0.8M156.0 1.2l0.8 0.8M162.6 2.4l-0.0 0.4M5.0 4.5l-0.0 0.0M17.6 5.8l-0.5 0.6M21.8 4.2l0.1 0.2M23.8 3.7l1.6 0.5M30.2 3.2l-0.9 1.2M36.4 4.8l-0.9 0.4M45.2 4.0l1.8 1.1M48.7 5.2l-1.8 0.8M56.1 4.3l-1.1 0.7M59.0 6.2l-0.0 0.0M66.0 5.5l-0.6 0.7M79.4 5.5l-2.0 0.8M84.1 5.9l-0.5 0.6M87.3 5.1l1.9 0.2M93.0 5.4l-0.8 0.3M97.0 5.2l-0.2 1.4M101.2 4.8l1.5 1.0M108.9 5.6l0.1 0.1M122.3 6.2l0.7 0.5M126.8 4.8l0.6 1.0M134.5 2.8l-0.4 1.5M138.1 5.9l-1.5 0.4M140.8 3.4l0.5 0.8M144.8 5.7l0.7 0.7M145.1 3.3l0.1 0.2M154.8 5.1l-0.8 1.8M12.2 7.1l0.0 0.2M14.5 9.0l0.9 0.3M18.1 7.2l-0.1 0.0M41.6 7.4l0.5 0.7M48.5 9.0l-1.3 0.5M50.6 6.4l0.1 1.9M55.6 9.2l-1.2 0.2M61.0 6.9l-1.2 1.0M67.7 7.5l1.1 0.0M69.3 6.7l0.1 1.7M74.3 8.0l0.1 1.3M108.0 9.7l-0.9 0.1M111.2 8.4l1.2 1.0M112.6 7.4l-0.4 0.7M129.1 7.7l0.2 0.6M136.8 6.6l0.2 1.9M138.5 9.2l0.7 0.7M144.5 6.3l0.0 1.7M145.3 8.1l0.0 0.9M150.8 6.7l-1.8 1.1M157.2 7.8l1.9 0.7M162.0 6.6l-0.4 0.2M0.9 11.5l-0.0 0.3M15.4 11.6l-0.1 0.4M22.5 12.3l0.1 0.5M26.5 9.6l-0.5 0.9M30.5 11.6l-0.4 0.7M37.1 11.0l0.1 1.4M40.1 11.0l1.5 0.4M43.9 10.2l0.4 0.2M46.8 11.7l0.7 1.6M57.8 11.5l-0.2 1.7M62.0 9.7l0.1 0.7M79.8 10.5l-0.6 0.2M90.7 12.5l-0.1 0.0M93.8 12.0l-1.2 0.9M96.5 11.8l0.6 0.1M101.4 10.9l1.4 1.2M103.8 12.4l-1.9 0.4M105.3 11.1l0.8 0.1M113.6 9.2l0.3 2.0M118.9 12.7l-0.6 0.1M121.7 11.2l0.5 0.5M123.4 13.0l-0.2 0.2M127.9 12.6l-0.0 0.8M141.3 12.7l-0.8 0.8M145.4 11.0l1.6 0.7M150.8 10.5l0.2 0.0M153.8 12.9l0.4 0.5M156.9 11.6l0.8 1.3M1.6 13.5l2.2 0.2M18.5 16.2l-0.0 0.0M28.3 13.3l0.6 0.0M29.4 13.9l0.8 0.5M33.8 12.7l0.3 1.9M63.8 14.4l0.3 0.3M65.9 14.8l1.6 1.0M71.1 13.2l-0.8 0.7M75.6 15.8l-0.1 0.1M79.8 15.0l-1.7 0.3M85.2 14.2l0.8 1.0M85.8 12.4l0.4 2.0M91.1 15.3l1.1 1.1M92.4 16.0l2.0 0.4M98.4 15.1l0.5 1.7M101.3 13.8l-1.6 1.4M104.9 15.4l-0.5 0.1M109.9 14.2l0.0 1.5M125.1 13.8l-0.9 0.3M125.5 12.9l0.4 0.8M131.3 13.6l0.6 1.1M142.8 14.8l1.3 1.3M146.8 15.1l-0.7 1.3M9.4 19.5l0.7 0.2M11.3 17.4l1.4 0.3M13.3 18.5l0.0 0.8M18.7 16.9l-1.0 1.0M20.2 17.7l1.7 0.7M29.9 17.0l-0.6 1.7M33.2 18.5l-0.2 2.1M42.6 19.0l0.7 0.7M47.4 18.4l-1.7 1.4M50.8 16.8l-0.5 1.2M56.4 17.5l-2.0 0.2M57.1 17.4l1.6 0.6M64.0 17.8l0.2 0.3M71.9 18.1l-0.1 0.5M87.8 16.0l-0.3 2.1M94.4 17.6l0.3 1.1M101.3 17.7l0.5 0.1M117.0 19.4l0.1 0.1M118.4 17.4l1.0 0.2M122.5 16.4l-0.8 0.8M131.8 16.9l-0.0 0.0M132.0 17.3l0.7 1.0M145.8 17.0l-1.6 1.1M156.6 18.5l-0.1 0.3M158.8 16.4l-0.5 0.9M163.3 16.7l-0.1 0.2M4.5 21.0l-0.2 1.0M8.6 19.5l-0.5 1.8M19.6 20.2l1.0 0.2M28.1 20.8l-0.6 0.6M30.4 22.0l-0.2 0.1M41.9 19.0l0.5 1.8M46.9 22.7l-0.1 0.8M50.7 21.1l-0.4 1.8M55.4 19.8l-0.2 0.0M59.0 19.3l0.0 1.3M64.0 20.3l-0.1 1.1M73.4 21.3l0.2 0.2M81.3 22.5l0.0 0.0M91.3 19.8l0.5 0.7M93.2 22.3l-1.3 0.7M97.2 20.4l0.0 1.0M98.9 20.9l1.0 0.6M104.4 21.6l-0.7 0.8M116.4 20.8l0.8 0.1M123.8 20.5l-0.3 0.2M130.9 20.6l-0.7 0.6M141.4 22.3l-1.8 1.2M149.8 20.1l-1.5 0.7M164.6 20.6l0.2 0.9M2.1 25.0l-0.0 1.8M7.5 24.2l-1.8 0.1M30.5 25.2l0.0 0.0M39.4 24.3l-0.9 0.4M40.1 25.0l-0.3 1.3M42.2 23.5l1.7 0.7M47.1 23.6l0.1 0.0M49.8 23.1l-0.0 0.1M66.1 25.8l-0.5 0.1M71.6 24.6l-1.1 1.0M79.1 24.1l0.4 1.9M87.9 22.6l1.6 1.5M100.2 23.0l0.9 0.9M127.8 25.2l-0.7 1.7M129.7 23.6l0.6 0.8M132.9 23.7l2.1 0.2M139.8 24.9l0.3 1.5M144.2 24.7l-0.0 0.0M154.3 23.9l-0.7 0.3M157.2 26.3l-0.1 0.1M162.8 23.5l0.9 0.8M9.2 27.5l0.5 0.1M12.3 26.6l-0.8 0.9M29.1 26.7l-1.7 1.0M43.4 28.9l0.6 1.0M51.7 27.2l0.1 0.3M58.0 26.8l1.7 1.2M68.6 27.3l0.2 1.0M75.8 29.2l-2.1 0.5M78.0 29.1l-0.9 0.8M95.8 29.0l0.1 0.0M104.5 26.4l-0.2 0.3M109.4 27.3l0.0 0.1M113.9 27.5l-1.0 0.7M123.7 28.7l0.5 0.4M127.1 26.0l-1.1 1.3M129.0 28.0l0.3 1.2M134.8 27.6l0.7 2.0M136.7 27.0l0.6 0.6M141.2 29.0l0.2 0.2M154.8 26.7l0.3 0.2M160.2 26.9l2.1 0.5M0.9 32.4l0.2 0.2M5.5 31.4l-1.7 0.4M13.1 31.0l0.2 0.4M15.0 30.1l0.3 2.0M30.0 31.8l-0.6 1.2M33.1 30.9l0.8 1.5M39.7 29.6l-1.5 0.2M44.5 31.0l0.1 0.1M46.6 30.2l-0.3 0.9M50.1 32.2l0.5 0.0M55.3 30.8l0.5 0.3M61.4 30.0l-0.3 0.2M66.7 32.5l1.1 0.2M70.5 30.1l0.2 0.0M80.9 30.9l0.9 1.8M96.5 29.8l-1.5 0.8M109.9 32.6l-0.3 0.2M115.3 32.1l0.0 0.5M118.3 30.8l-0.2 1.9M118.9 32.1l0.7 1.7M124.8 29.9l-0.3 0.2M129.2 31.1l-0.0 1.9M134.5 32.4l1.7 0.1M142.6 31.2l1.1 1.0M146.7 30.2l-0.1 0.1M155.0 30.4l-0.4 1.4M159.2 31.7l-0.2 1.1M161.8 30.7l0.6 0.6M8.1 33.8l0.2 0.3M11.6 34.7l-1.5 0.4M31.3 33.3l0.2 0.5M35.3 33.6l1.4 0.9M39.0 32.6l0.5 1.4M39.6 34.6l0.4 0.9M52.1 32.7l-0.9 1.7M61.0 34.0l1.2 0.1M64.1 32.8l-1.1 1.6M71.7 34.9l0.2 0.0M78.0 33.5l-0.5 1.6M96.3 34.7l-0.6 0.5M99.8 33.0l-1.4 0.6M109.9 33.5l0.6 0.1M119.1 33.7l0.0 0.2M125.5 36.2l-1.0 0.1M128.1 32.7l0.0 2.2M137.7 35.5l0.0 0.0M140.4 35.9l-2.0 0.7M144.8 34.4l1.2 0.2M158.3 32.8l-0.8 1.6M4.8 37.2l0.5 0.1M10.3 36.8l-0.3 0.7M24.8 39.0l-1.4 0.2M33.3 38.1l-1.6 0.8M36.2 36.6l-0.7 0.2M37.9 38.7l1.9 0.9M49.8 37.1l0.1 0.2M54.0 36.7l-0.2 0.9M56.3 39.4l0.5 0.2M60.7 39.2l-0.4 0.1M67.6 39.3l1.5 0.3M71.7 37.4l-1.0 0.8M73.9 36.6l0.4 0.0M78.6 38.8l-0.0 0.0M79.4 37.1l2.1 0.2M91.6 36.8l1.8 0.0M96.0 36.1l0.4 1.1M109.9 39.4l-0.9 0.4M117.9 38.9l-0.3 1.1M129.9 37.4l0.5 0.6M142.0 38.1l-1.5 0.8M149.5 36.5l-0.0 0.9M153.7 37.0l0.1 2.0M156.7 38.2l0.6 1.6M13.4 41.5l0.1 0.1M21.0 40.3l-0.1 1.1M27.8 39.9l-0.9 0.6M31.5 39.6l0.2 1.6M33.5 41.5l0.2 0.2M61.5 42.5l1.3 0.4M64.8 40.7l0.6 0.6M70.8 41.3l-1.0 0.3M75.7 42.1l1.2 0.5M79.1 41.0l0.2 0.2M108.9 41.6l0.4 0.7M117.3 39.7l2.0 0.8M119.4 41.3l-0.3 0.5M128.1 40.4l-0.3 0.0M129.6 42.1l0.1 0.1M137.8 40.0l-0.2 0.7M139.1 42.0l0.3 0.1M154.7 41.7l-1.3 0.6M157.1 40.6l-1.1 1.4M3.1 43.4l-0.1 0.3M4.3 44.4l0.9 0.4M14.0 44.8l0.4 0.4M18.7 44.4l0.7 0.3M19.9 42.1l0.6 1.7M29.0 44.2l-1.8 0.6M35.2 45.5l-0.7 0.1M44.8 44.6l-0.7 0.3M48.3 43.3l-1.1 0.1M66.8 42.9l0.1 1.4M79.0 45.1l1.8 0.4M85.9 43.1l-0.2 0.1M85.7 44.2l0.3 1.3M88.9 44.2l1.0 0.5M103.4 44.8l1.1 1.4M113.5 44.8l-1.1 0.3M119.7 44.2l-0.2 0.2M133.9 44.6l1.1 0.7M136.0 44.8l0.3 0.1M152.0 43.7l-1.7 0.6M157.1 43.9l1.1 1.7M161.0 46.0l-0.1 0.1M163.7 44.4l-0.3 1.1M2.2 47.1l-0.1 0.0M12.3 47.9l1.0 0.3M18.2 47.0l-0.5 1.0M18.7 47.5l2.2 0.1M25.0 47.2l1.1 1.1M35.3 45.9l-0.4 0.8M39.2 47.9l-0.1 0.3M42.4 47.6l0.6 2.0M45.6 47.0l0.2 0.5M57.0 46.0l0.9 1.2M73.5 47.8l-0.1 0.1M78.1 47.0l-0.7 1.6M82.7 47.1l1.9 0.7M89.6 47.5l-0.3 0.5M98.4 46.6l-1.5 1.5M100.3 47.5l0.2 0.2M103.7 47.4l-0.9 0.7M108.1 49.0l1.2 0.2M112.2 46.5l-1.3 0.9M115.3 48.1l-0.5 1.2M123.5 46.8l1.4 0.8M125.5 48.3l0.6 2.0M143.0 46.3l-2.1 0.0M148.9 48.6l-1.6 1.3M148.7 45.9l0.3 0.7M164.7 47.9l-0.4 1.2M8.7 49.7l0.5 0.7M10.2 48.6l-0.4 1.8M21.2 49.4l0.3 1.9M23.3 49.9l0.5 0.8M27.0 51.8l1.0 0.4M34.3 50.7l0.8 0.8M40.0 50.9l-1.3 0.2M42.1 49.1l-0.3 1.6M45.2 50.6l-0.2 0.1M52.8 50.3l-1.2 0.9M54.2 50.7l1.7 0.9M65.6 49.9l0.2 0.1M74.9 50.9l-0.1 0.1M88.8 51.6l-0.8 0.2M92.5 51.4l1.7 0.1M104.6 50.8l-0.8 0.7M106.7 49.7l-1.6 1.0M112.7 52.1l0.1 0.1M125.5 51.0l1.8 0.4M137.9 50.4l0.7 0.4M142.5 51.4l0.2 0.5M147.1 51.9l0.0 0.2M161.3 51.4l-0.3 0.3M7.2 52.8l-0.0 0.2M19.4 54.7l1.1 0.6M27.3 55.0l0.5 0.2M29.7 54.5l0.3 0.2M43.6 53.3l-1.2 0.3M48.2 55.2l-0.9 0.6M50.4 55.1l-1.1 1.1M60.6 53.0l-0.5 0.0M71.5 53.5l-0.6 1.3M73.5 54.3l-0.0 0.1M76.9 55.7l0.1 0.1M87.8 53.1l0.7 0.4M91.7 55.1l0.5 0.3M95.4 53.9l0.2 0.3M98.2 54.3l-0.6 0.3M99.5 55.4l0.3 0.0M107.8 55.4l-0.3 0.4M110.2 52.6l1.1 1.1M121.4 55.3l0.1 0.2M134.6 54.6l-1.1 1.7M136.4 54.7l0.1 1.0M141.5 54.3l-1.7 0.8M157.3 55.4l0.2 0.1M2.2 57.4l-1.5 1.1M5.1 59.1l-0.1 0.1M7.1 57.2l-0.4 1.3M12.6 57.0l0.1 0.9M20.2 56.7l1.1 0.2M25.8 56.3l-0.0 0.1M38.7 57.9l-0.4 0.1M40.3 56.8l0.3 0.9M48.8 58.0l0.2 0.5M60.4 58.3l-0.8 0.2M66.2 55.8l-0.7 1.5M76.4 58.0l-0.8 0.7M83.6 57.5l-0.7 1.3M87.3 58.4l0.1 0.4M102.9 57.5l0.0 0.9M116.5 57.5l1.9 0.5M119.7 58.8l-0.8 0.8M125.9 58.6l-1.9 0.8M125.5 56.2l0.2 0.1M129.5 57.3l0.6 0.7M138.9 56.4l0.3 0.5M145.3 57.4l-1.5 0.1M146.0 57.7l1.6 1.0M156.4 57.2l1.1 0.3M159.8 58.8l-0.0 0.2M22.6 61.3l2.2 0.1M30.8 59.1l-0.1 2.0M37.1 60.2l-0.0 0.0M42.0 61.6l-1.3 0.5M45.2 61.6l0.4 0.1M47.1 60.2l0.8 1.8M56.1 61.0l-1.3 1.4M57.0 59.6l0.5 0.9M63.1 60.8l0.8 1.9M72.0 61.9l0.3 0.9M79.6 59.7l-0.2 0.2M84.7 61.5l-1.8 0.4M89.7 61.2l-0.5 0.2M107.6 60.2l-0.3 0.3M109.7 58.9l-0.2 1.6M115.5 60.5l-0.9 0.7M117.5 60.2l0.6 1.5M121.3 62.2l0.9 0.3M126.0 61.3l-0.5 0.4M137.4 60.0l-0.1 0.6M141.7 60.5l0.1 0.9M142.2 59.1l1.0 1.3M147.2 62.0l0.2 0.1M149.5 62.5l-0.1 0.0M155.2 60.6l1.7 0.7M158.6 62.0l0.8 1.3M163.3 61.6l0.1 0.1M8.2 63.2l-1.8 0.8M25.8 63.2l0.1 0.0M37.3 64.1l-0.2 0.3M41.6 65.1l-0.2 0.0M44.0 63.2l-0.2 0.9M52.1 62.8l-0.9 0.5M54.3 62.4l1.2 0.9M57.2 65.6l-1.3 0.7M59.3 64.2l0.3 0.2M63.5 64.4l-1.0 0.4M66.4 64.9l-0.8 0.0M78.7 64.7l0.0 0.1M82.2 63.1l-1.1 1.2M88.0 63.7l-1.1 0.6M97.4 64.4l-1.4 0.5M102.8 64.7l0.4 1.1M107.5 65.7l0.4 0.5M110.6 63.2l-0.4 2.1M114.2 63.4l-1.5 0.2M122.6 62.5l-1.3 0.8M124.8 64.7l0.9 1.3M128.0 63.6l1.8 0.6M144.0 63.0l0.7 0.8M145.2 64.2l0.7 0.2M148.9 65.5l0.9 0.6M152.9 63.6l-0.1 0.2M163.3 65.2l-0.7 0.7M2.9 66.8l-0.3 1.0M4.0 69.0l-0.1 0.1M6.7 66.1l0.6 0.5M31.2 68.8l-0.2 0.9M34.1 67.0l-0.3 1.1M40.1 67.8l-1.5 0.9M42.4 66.2l-1.1 0.8M49.2 67.7l-2.1 0.3M60.8 66.3l-0.4 1.3M76.0 67.2l1.5 0.6M80.6 68.5l1.1 0.9M87.9 68.9l0.5 0.4M90.3 66.9l-0.1 0.0M108.7 67.9l-0.8 1.5M111.6 66.1l0.7 0.9M115.3 65.4l1.0 1.3M124.2 66.5l-0.2 1.1M131.1 66.3l0.4 1.8M138.1 66.0l0.3 0.2M140.8 66.0l-0.1 0.4M146.8 67.0l-1.3 1.4M154.7 66.3l0.1 0.5M161.4 65.9l-0.1 0.5M11.3 70.7l-1.1 0.9M13.7 71.6l-0.0 0.1M20.8 69.3l1.8 1.2M28.6 70.4l-0.2 2.2M30.1 71.2l1.5 0.7M42.6 71.5l-0.8 0.6M44.8 72.3l-0.3 0.0M48.1 71.8l-0.6 0.2M51.4 71.1l0.0 0.6M62.3 69.5l-2.0 0.6M78.8 69.7l0.1 0.5M83.7 70.2l1.0 0.7M91.3 71.1l-0.4 0.2M99.6 71.1l-0.6 2.1M105.6 70.5l0.0 1.3M119.8 69.9l1.2 0.9M122.8 71.1l1.7 0.6M131.4 69.5l-1.2 1.3M134.2 71.0l0.1 0.7M138.4 71.8l-0.5 0.0M140.0 71.1l0.3 0.6M151.6 69.6l1.3 0.5M156.1 71.1l2.0 0.6M159.3 69.0l0.2 1.1M164.9 70.4l-0.5 0.5M1.4 74.4l1.4 0.9M3.3 73.2l0.4 1.0M7.9 72.5l0.3 0.1M12.7 74.6l0.5 0.8M14.8 73.2l0.2 0.1M21.4 73.5l-0.3 0.2M23.2 75.1l0.0 0.6M27.2 74.6l1.2 0.0M32.6 75.0l-0.4 0.2M33.5 74.2l1.4 0.6M38.4 74.0l-0.7 1.6M42.4 74.8l1.5 0.2M49.5 75.4l1.6 0.8M56.6 75.1l-0.3 0.2M63.0 72.7l-0.4 1.9M75.0 73.4l0.8 1.8M76.8 72.9l-1.0 0.4M80.8 74.6l0.2 0.8M82.6 73.2l-0.1 0.1M89.6 74.9l1.3 0.9M104.8 73.1l-0.1 1.0M115.9 73.6l-0.2 0.9M119.3 71.9l-1.0 1.6M129.2 72.7l0.2 0.1M134.0 74.3l1.6 0.3M135.7 73.1l1.6 0.8M148.6 73.9l-0.5 1.3M154.5 74.9l1.1 0.6M3.7 78.1l0.9 0.3M11.2 76.6l1.1 1.2M18.3 77.5l0.2 0.3M19.6 75.9l0.4 1.3M27.1 78.0l0.8 0.1M33.3 78.4l2.0 0.7M36.7 77.6l-0.1 0.0M49.5 76.1l2.0 0.9M55.4 77.8l-0.7 1.6M60.2 76.0l0.1 0.5M66.6 78.1l-1.4 0.6M70.6 78.8l1.9 0.3M79.7 78.1l-1.0 0.5M80.6 76.6l0.4 1.7M85.2 77.6l0.4 1.1M98.1 77.2l1.4 0.1M101.1 77.6l0.3 0.2M109.1 78.0l-0.5 1.8M114.8 76.7l-0.3 0.2M131.1 75.9l-1.1 0.5M134.5 75.9l-0.8 0.1M138.1 76.4l-0.2 0.0M144.2 75.1l0.7 2.0M158.9 76.7l0.3 1.2M163.4 76.1l-1.3 0.4M5.7 81.1l0.2 0.7M6.9 80.9l1.1 1.4M19.0 80.4l0.3 2.1M24.7 82.0l0.2 0.8M47.1 80.4l-0.0 0.0M61.7 79.2l-1.5 0.5M65.1 79.5l-1.4 1.5M67.2 81.8l0.8 0.0M71.2 81.5l0.2 0.0M75.2 79.4l-0.0 0.0M78.3 81.3l-2.2 0.3M79.8 80.5l-0.1 1.7M88.5 80.5l0.2 0.6M97.5 80.1l-0.3 0.4M104.3 79.5l-1.5 0.4M118.7 80.5l-0.4 1.9M124.1 82.0l0.6 0.5M135.5 80.7l0.7 1.1M142.4 81.9l-0.4 0.5M148.4 82.2l-0.1 0.3M149.7 79.3l0.4 0.3M152.0 80.4l0.5 1.4M161.6 79.6l-0.3 0.1M164.3 80.0l-0.9 0.2M4.4 84.8l-0.3 1.3M7.4 84.4l-0.3 0.1M9.5 83.6l1.1 1.4M20.6 85.1l0.2 1.0M27.0 85.2l-2.0 0.4M28.0 83.3l0.4 1.7M57.0 85.5l0.2 0.2M61.8 83.9l0.0 0.0M65.9 84.6l-0.0 0.0M68.9 83.6l1.2 1.3M73.5 85.3l-1.0 0.7M82.0 83.6l-0.7 0.5M88.3 84.0l-0.6 0.1M89.9 83.3l-0.6 0.5M96.2 84.9l-0.7 1.1M109.4 85.0l0.4 0.4M116.4 84.2l1.4 1.3M129.5 84.5l-0.0 0.9M148.2 82.4l0.5 0.2M160.0 82.1l-0.3 1.7M160.9 84.1l1.6 1.0M1.2 88.5l0.9 0.6M8.6 87.8l0.9 0.4M20.4 88.7l-2.0 0.4M24.8 87.6l0.2 0.0M31.3 86.7l-0.4 0.1M39.2 87.7l-0.3 0.2M42.0 88.3l-1.4 1.6M50.1 87.7l-0.7 0.7M61.8 87.0l0.9 0.6M66.9 86.0l-0.1 1.6M69.2 86.4l0.6 0.6M75.4 86.1l0.7 0.5M84.6 88.6l-1.7 0.6M99.6 86.7l1.3 0.9M102.3 87.0l1.6 1.3M106.6 88.1l-0.5 0.5M111.7 86.0l-0.3 0.9M115.0 88.8l0.1 0.2M118.9 87.0l-1.8 0.2M122.9 87.4l-0.3 0.7M129.2 87.6l-1.6 1.0M129.1 87.8l-0.1 0.2M134.9 86.7l-1.5 0.1M154.9 87.9l-0.1 0.1M3.9 89.7l-1.5 0.7M10.5 92.0l-0.4 0.3M13.5 90.7l0.8 0.6M22.2 91.7l0.1 0.1M23.7 89.9l0.1 0.2M30.4 91.1l1.8 1.2M39.3 91.3l1.3 0.7M44.3 89.7l1.2 0.0M67.0 90.4l0.1 0.2M73.3 90.6l0.1 0.0M75.1 89.5l1.7 0.9M82.6 91.9l-1.2 0.2M88.1 91.3l0.2 0.2M94.1 90.7l1.0 0.1M98.2 89.2l0.1 2.1M102.9 89.3l0.9 0.0M113.3 89.7l0.4 0.2M115.9 90.2l0.1 0.8M124.8 89.1l0.6 0.4M129.0 91.2l0.3 1.1M137.2 90.3l0.7 1.8M139.8 89.2l-0.4 1.9M150.7 90.8l-1.5 0.5M153.3 91.4l1.8 0.1M10.5 93.4l-0.1 2.1M20.5 95.0l-0.6 0.8M33.7 93.7l0.6 0.4M41.7 95.0l-2.0 0.3M46.3 93.0l-0.5 0.8M45.7 93.4l1.9 1.0M52.7 93.3l0.9 0.5M60.9 95.5l1.8 0.1M64.1 93.9l-0.2 0.2M70.0 94.0l1.0 0.3M74.4 95.2l-0.0 0.1M78.6 93.5l-0.1 0.0M79.8 92.7l1.6 0.7M92.1 92.3l0.2 0.4M93.9 92.8l-0.1 0.3M100.2 93.3l1.9 0.9M105.2 94.7l0.6 1.6M108.3 94.5l0.6 0.6M111.0 94.9l-0.1 0.1M119.6 94.8l-1.5 0.3M129.1 95.1l0.9 0.2M132.2 93.5l-0.1 0.6M142.5 93.9l0.2 1.0M153.1 93.7l-0.1 0.1M156.8 94.0l-0.7 0.2M162.1 92.4l-0.8 0.1M3.2 97.6l-0.7 1.3M5.4 96.0l-0.6 0.2M12.2 97.1l0.4 1.5M13.8 98.9l0.1 0.1M20.3 97.8l0.1 1.0M35.6 98.9l0.4 0.2M36.6 95.6l0.3 1.3M42.1 97.9l0.4 0.9M51.9 97.1l0.9 0.0M55.5 96.7l-2.1 0.1M68.1 97.0l0.3 1.9M73.8 96.0l1.1 1.6M76.2 95.9l-0.1 0.0M85.7 98.4l-1.8 0.2M100.0 96.6l0.5 0.2M104.6 96.9l-0.4 0.1M110.7 95.8l0.1 0.1M112.3 96.4l0.7 0.7M119.6 98.2l0.1 0.0M125.4 97.1l-0.3 0.2M127.8 96.4l1.1 0.3M134.2 98.3l-0.0 0.1M152.4 96.8l0.8 1.9M155.8 98.6l-1.0 0.1M162.7 96.7l1.6 0.7M35.2 99.7l1.5 0.0M38.5 99.1l-0.4 1.0M51.5 99.8l-0.0 0.1M53.4 98.8l-0.9 1.9M77.5 98.7l0.2 1.2M93.7 100.2l0.9 0.8M111.8 99.9l-0.2 0.6M112.9 98.8l0.8 1.6M122.1 99.6l-1.6 0.7M131.5 99.9l0.9 1.6M162.3 99.4l-0.5 0.1M30.0 30.1l-2.1 0.1M27.0 35.7l0.5 0.5M16.8 22.1l0.6 0.9M14.6 24.4l1.4 1.1M21.0 21.3l0.3 0.1M23.2 20.2l0.7 0.6M14.7 35.5l1.5 0.5M19.2 37.5l-0.3 1.0M15.1 28.0l-0.7 0.5M24.7 21.0l1.5 0.5M23.2 20.1l-0.8 0.9M15.5 28.8l-0.0 0.1M15.2 22.4l0.3 2.1M23.9 19.8l-0.3 1.1M25.0 39.1l-0.2 0.3M25.8 38.4l0.5 1.0M24.9 39.8l0.1 0.4M23.1 40.2l-0.8 1.3M20.9 39.3l-0.2 0.7M22.2 18.6l-0.9 2.0M16.1 22.1l0.2 1.8M16.1 22.9l-0.2 0.1M19.5 39.2l0.9 1.3M17.5 23.8l-0.5 0.5M23.3 62.6l-0.1 1.2M16.3 53.3l-0.5 0.3M22.3 60.1l-0.6 1.1M21.0 54.7l-1.1 1.7M11.5 60.3l-0.1 0.3M18.1 53.8l1.0 0.4M15.5 74.0l-0.3 0.4M14.0 71.7l-1.0 1.6M12.3 72.1l0.7 0.0M13.5 71.6l-0.4 0.8M21.0 73.3l-1.0 1.2M10.9 70.6l2.2 0.1M17.1 74.2l1.8 1.2M14.8 73.5l-1.0 1.6M22.2 68.3l1.0 0.4M18.8 74.6l-0.3 0.0M21.3 58.2l1.6 0.4M11.2 58.5l-0.3 0.2M11.4 70.4l0.6 0.7M10.3 66.8l0.8 1.7M15.7 73.6l-1.4 0.5M11.1 64.3l-0.1 0.1M22.9 67.7l-0.3 0.3M19.7 73.7l-0.2 1.1M48.6 32.7l1.4 0.7M50.9 34.7l-0.6 0.5M46.3 30.2l-1.1 0.9M42.9 45.0l0.8 1.7M48.4 33.1l0.0 0.0M41.6 35.0l-1.3 0.0M42.0 38.9l-0.1 0.0M44.6 44.0l0.1 0.3M45.5 30.8l-0.1 0.3M43.0 42.4l-0.2 0.2M48.2 45.1l0.2 0.0M44.3 32.4l-0.0 0.0M47.7 29.7l-0.7 1.4M49.6 41.5l0.3 0.4M111.3 16.1l-0.5 0.2M106.8 25.4l-0.5 1.6M107.9 17.1l0.0 0.8M108.6 26.3l0.4 2.0M115.6 27.9l-0.1 0.0M111.4 15.4l1.3 1.2M108.8 26.2l0.2 0.4M111.7 27.0l-1.4 1.2M107.7 24.4l-0.1 0.1M111.5 28.5l-0.1 1.7M117.7 19.0l-0.0 0.9M116.8 17.1l-0.9 0.0M117.1 23.6l0.2 0.3M113.1 15.7l-0.3 0.2M111.1 15.7l0.1 0.1M133.9 12.6l-0.5 0.4M133.6 21.6l-0.6 0.6M133.6 10.5l1.0 0.2M141.6 20.9l-0.1 0.2M141.5 15.2l0.0 0.0M136.2 23.9l-0.0 1.9M140.2 11.4l-0.4 0.9M131.8 13.6l1.0 0.8M132.4 18.0l-0.2 0.1M131.4 17.7l1.1 1.7M136.8 24.2l1.0 0.5M140.6 18.3l1.3 0.3M136.3 24.8l1.0 0.9M137.7 24.8l-0.1 1.4M138.6 9.5l-1.6 0.9M142.1 15.3l-1.8 1.0M101.4 44.9l-0.5 1.2M92.4 45.6l-0.2 0.2M91.4 39.9l-0.4 1.3M104.5 41.9l0.7 0.6M104.5 37.9l0.0 2.2M99.8 46.5l-1.7 0.0M91.3 43.2l1.9 0.5M104.9 42.7l-1.9 0.1M103.6 44.1l-1.0 1.5M100.3 46.0l-0.2 0.6M95.4 46.5l0.7 0.5M100.1 46.4l1.2 1.2M92.2 43.2l-0.1 0.9M105.3 42.6l-0.9 0.6M147.3 54.7l-2.0 0.1M148.0 59.7l-0.0 0.1M148.7 59.2l-2.1 0.2M146.1 52.6l0.6 0.5M156.4 57.5l0.7 0.6M146.6 56.2l-0.7 1.5M157.2 57.3l-0.0 1.9M157.5 54.0l0.8 0.9M146.2 51.0l1.2 1.2M155.4 47.2l0.2 0.0M148.8 59.4l0.0 0.8M148.0 48.0l0.8 1.4M158.5 54.5l-1.8 0.9M154.1 62.0l0.1 0.3M155.9 46.8l-1.8 0.3M155.7 48.6l0.1 0.0M156.1 48.4l0.5 0.9M158.1 55.5l-0.7 1.9M69.8 73.4l0.8 1.2M72.3 73.7l0.8 0.9M76.2 67.5l0.3 1.8M63.5 68.5l-0.0 0.2M72.4 74.9l-0.0 0.2M70.7 73.1l-0.3 1.1M66.9 64.4l0.1 1.1M73.1 65.9l-0.1 0.4M70.5 64.0l-0.7 0.4M63.5 71.0l-1.8 0.1M73.4 65.4l-0.4 0.3M74.5 67.0l-0.2 0.1M63.9 68.9l-0.9 1.5M70.9 64.5l-0.2 1.6M64.0 67.7l0.1 1.2M118.8 76.6l-0.4 0.3M130.5 72.2l-0.8 0.1M131.4 77.1l1.4 0.3M128.1 71.4l0.6 0.2M121.9 79.6l-2.0 0.7M131.6 74.6l0.0 0.1M131.7 75.4l1.0 0.1M121.8 71.3l0.2 0.4M122.2 70.4l-0.0 0.0M118.0 76.8l0.1 0.0M118.5 72.2l1.9 0.9M130.9 78.0l-0.9 0.1M124.8 69.2l-0.1 0.0M119.7 78.5l-0.0 0.2M118.8 74.1l0.6 0.8M122.2 80.4l-0.7 0.1M45.9 82.1l0.0 0.1M34.4 81.8l-1.1 0.5M45.9 85.5l-0.6 1.2M44.0 85.5l-0.6 0.3M41.9 78.4l1.9 0.6M33.9 80.9l-0.9 0.7M44.5 86.4l0.2 0.0M44.4 77.6l0.7 0.9M44.8 84.9l0.2 0.1M37.1 86.8l1.4 0.8M35.5 84.4l-0.3 1.5M39.1 78.1l-1.6 0.2M34.6 85.1l0.7 0.1M34.2 83.1l-0.8 0.4M73.6 17.9l0.1 1.5M86.6 17.6l-1.1 1.0M81.3 13.2l-0.0 1.4M81.8 22.4l-0.0 0.2M83.1 14.0l-0.1 1.8M85.1 19.6l0.0 0.1M73.5 16.5l1.5 0.7M76.2 15.0l-0.0 0.3M73.9 17.6l0.1 0.0M82.3 14.0l0.2 0.4M78.6 22.4l-0.8 0.5M83.0 19.5l1.1 1.9M157.3 25.4l-1.2 1.5M156.0 23.9l0.9 0.2M164.6 25.5l-0.2 0.0M156.7 25.7l-0.3 1.3M162.8 16.3l1.1 0.8M163.1 20.0l0.9 1.4M165.1 20.9l-1.3 0.9M156.6 21.2l1.1 0.2M162.5 24.0l1.8 0.3M162.9 26.7l-1.9 0.7M155.3 23.5l0.9 1.4M155.8 23.1l0.3 0.0M160.0 27.8l-1.1 0.3M59.8 42.0l-0.7 0.9M58.6 51.9l-1.0 0.3M65.3 42.4l-1.3 1.3M66.3 48.9l-0.3 0.0M61.3 53.8l-2.0 0.8M66.3 46.1l-0.8 0.2M60.8 40.7l0.6 1.7M59.5 43.5l-0.4 1.1M61.7 41.5l1.0 0.7M65.7 46.0l-0.0 0.1M66.5 50.5l-1.4 0.1M65.8 50.2l-0.1 0.0M1.8 12.9l1.3 0.4M12.0 15.6l-0.4 0.7M8.6 7.1l-0.1 0.0M8.3 16.4l-0.2 1.1M12.2 8.1l-0.9 1.1M12.3 10.6l0.4 0.7M7.7 16.1l0.3 0.9M8.8 17.0l0.9 1.3M12.4 10.9l0.7 1.7M8.0 5.9l-0.5 1.9M3.5 9.3l0.3 0.3M2.3 13.3l-0.0 0.0M119.5 56.2l-0.6 0.3M112.8 52.1l-1.1 0.2M113.0 52.7l-0.9 0.2M119.0 46.8l1.3 0.8M113.5 49.4l-1.2 1.4M122.1 48.7l-1.1 0.2M115.4 47.2l-1.4 1.5M114.3 49.2l-0.1 1.8M122.3 54.7l-0.9 0.3M115.0 53.4l-0.2 2.1M122.9 49.5l-0.9 0.4M88.0 91.2l0.9 2.0M91.5 82.8l0.4 0.7M96.9 84.3l-1.0 1.2M87.3 84.4l1.0 1.3M87.7 90.1l-0.2 1.6M87.5 85.8l-0.1 0.8M86.2 86.6l1.5 0.4M95.4 91.6l0.5 0.4M93.0 92.6l-0.0 0.0M87.6 90.1l0.8 1.8M97.2 89.8l0.5 0.6M85.3 87.7l1.5 1.2M144.7 82.2l-1.1 1.2M144.8 92.8l0.8 0.4M141.8 91.1l-0.1 0.4M144.9 81.7l1.0 1.3M141.3 90.6l-1.5 1.0M145.4 82.1l0.2 1.1M141.5 84.6l-0.4 0.6M149.3 87.4l-0.3 0.2M150.1 86.8l0.8 0.6M138.7 88.9l1.3 1.4M148.1 92.9l0.2 0.1M144.1 82.2l-0.0 0.4M29.2 4.2l1.2 0.5M34.4 10.6l-1.1 0.8M34.2 6.1l0.0 0.0M25.0 7.1l-0.2 1.9M32.4 10.9l0.1 1.2M34.3 5.1l0.0 0.0M33.0 11.1l-0.2 0.6M25.6 6.7l-0.9 0.5M24.8 9.4l0.2 0.2M34.4 10.2l-0.0 0.3M54.6 95.3l0.6 0.1M55.1 95.0l-0.1 0.2M53.6 93.9l0.4 0.3M57.5 87.1l-0.1 0.4M62.9 90.5l-0.7 0.9M62.7 89.5l-1.4 0.7M62.3 95.5l-1.6 0.0M58.3 96.0l0.2 0.8M56.2 95.9l-0.5 1.2M60.9 94.3l1.0 0.7M54.3 94.3l-0.2 0.3M99.5 11.5l-1.4 0.1M102.1 3.1l0.2 0.1M96.2 9.8l0.3 0.0M97.7 11.2l1.0 0.5M96.4 6.9l-1.0 1.1M96.0 6.5l0.5 0.2M103.5 5.2l0.0 0.1M95.2 8.8l-1.2 0.2M100.6 11.1l1.2 1.2" stroke="#0404d4" stroke-width="2.0" stroke-linecap="round" fill="none"/>
<path d="M4.1 2.7l-0.1 0.0M30.3 2.5l-0.6 0.2M70.6 2.3l0.4 0.6M115.5 2.5l-0.1 1.0M156.4 1.5l0.0 0.0M17.6 5.8l-0.4 0.5M29.7 3.7l0.2 0.1M47.8 5.2l0.1 0.8M65.7 5.8l0.0 0.2M88.0 4.9l0.5 0.4M102.0 5.2l-0.1 0.1M127.6 5.3l-1.0 0.1M141.0 3.8l0.1 0.1M154.6 5.6l-0.3 0.7M18.0 7.0l0.1 0.4M50.5 7.2l0.3 0.3M68.2 7.2l0.1 0.6M107.3 9.4l0.5 0.6M129.2 7.9l-0.0 0.3M145.0 7.1l-0.9 0.1M157.9 8.0l0.6 0.3M15.6 11.6l-0.4 0.5M30.1 11.6l0.5 0.8M43.7 10.3l0.9 0.0M62.1 10.0l-0.1 0.0M92.9 12.3l0.5 0.3M102.8 12.2l0.2 0.7M118.8 12.7l-0.4 0.2M127.9 12.6l-0.1 0.8M150.9 10.4l-0.1 0.2M2.2 13.6l0.9 0.1M29.7 14.1l0.1 0.2M66.6 15.0l0.2 0.5M78.8 14.8l0.3 0.5M91.5 15.7l0.4 0.2M100.5 14.5l0.0 0.2M124.7 13.7l-0.1 0.4M143.3 15.2l0.4 0.5M11.9 17.5l0.2 0.1M21.1 17.7l-0.1 0.6M42.9 19.4l-0.0 0.0M55.3 17.6l0.3 0.1M71.7 17.9l0.3 0.8M101.7 17.6l-0.3 0.4M122.5 16.8l-0.6 0.0M144.9 17.2l0.1 0.6M162.8 16.8l0.8 0.1M20.3 20.0l-0.4 0.6M42.2 19.9l-0.1 0.1M55.3 19.7l-0.0 0.1M73.4 21.4l0.2 0.0M92.6 22.5l-0.1 0.3M103.9 22.0l0.4 0.0M130.4 20.6l0.3 0.4M164.8 21.1l-0.1 0.0M30.6 25.1l-0.2 0.2M42.9 23.7l0.2 0.4M65.9 25.8l-0.1 0.2M88.8 23.3l-0.0 0.1M130.3 23.7l-0.6 0.7M144.1 24.7l0.0 0.0M162.9 23.5l0.7 0.7M28.3 27.1l-0.1 0.3M58.7 27.0l0.4 0.7M77.6 29.2l-0.1 0.6M109.7 27.1l-0.4 0.6M126.5 26.7l-0.0 0.0M136.8 27.0l0.5 0.6M161.6 27.0l-0.7 0.3M13.0 31.0l0.2 0.3M33.5 31.5l-0.1 0.2M46.8 30.6l-0.7 0.1M61.1 30.0l0.1 0.2M81.3 31.5l0.1 0.5M115.3 31.9l0.2 0.7M124.5 29.6l0.4 0.7M143.1 31.7l-0.0 0.0M158.8 31.9l0.7 0.7M10.9 34.8l-0.1 0.3M39.0 33.3l0.3 0.1M61.5 34.0l0.3 0.3M77.7 34.0l0.0 0.6M110.5 33.2l-0.5 0.8M128.1 33.7l0.1 0.2M145.6 34.4l-0.2 0.2M10.1 36.9l-0.0 0.5M35.9 36.6l-0.1 0.3M54.1 36.8l-0.5 0.7M68.1 39.4l0.6 0.1M78.9 38.5l-0.6 0.7M96.1 36.5l0.2 0.2M129.8 37.4l0.8 0.6M153.6 37.6l0.3 0.9M20.7 40.6l0.4 0.6M33.5 41.6l0.1 0.2M70.2 41.4l0.3 0.0M109.3 41.6l-0.4 0.7M128.4 40.4l-1.0 0.1M139.2 42.0l0.1 0.0M3.1 43.5l-0.1 0.0M19.0 44.5l0.1 0.0M35.0 45.1l-0.4 0.9M66.8 43.6l0.3 0.0M86.1 44.5l-0.5 0.7M112.6 44.8l0.8 0.3M136.0 44.8l0.3 0.1M161.0 45.7l-0.1 0.7M12.8 48.0l0.1 0.1M25.6 47.8l-0.1 0.1M43.1 48.3l-0.8 0.4M73.4 47.8l0.1 0.1M89.4 47.6l0.1 0.2M103.6 47.5l-0.7 0.5M115.2 48.7l-0.3 0.0M142.0 46.3l-0.0 0.0M164.7 48.5l-0.3 0.1M21.4 50.3l-0.0 0.0M34.7 51.1l-0.0 0.0M45.2 50.4l-0.3 0.5M65.6 49.6l0.1 0.8M93.2 51.0l0.2 0.8M112.7 52.1l0.1 0.0M142.5 51.2l0.2 0.8M7.2 52.9l0.0 0.0M29.8 54.4l0.0 0.3M49.9 55.5l-0.0 0.3M73.5 54.3l0.0 0.0M92.1 55.0l-0.3 0.5M99.4 55.2l0.5 0.3M121.2 55.2l0.7 0.3M140.7 54.7l0.0 0.0M5.5 59.1l-0.9 0.1M20.4 56.5l0.7 0.7M40.5 57.3l-0.1 0.0M65.5 56.3l0.6 0.4M87.1 58.4l0.6 0.5M119.6 59.2l-0.6 0.0M129.8 57.2l-0.0 0.8M146.8 58.1l-0.0 0.1M23.8 61.0l-0.2 0.7M41.1 61.6l0.5 0.6M55.3 61.7l0.2 0.1M72.2 62.0l-0.1 0.7M89.3 61.3l0.4 0.2M114.7 60.6l0.8 0.4M125.5 61.3l0.5 0.4M142.7 59.6l-0.1 0.4M156.0 60.7l0.1 0.4M7.3 63.5l-0.1 0.2M41.9 65.1l-0.7 0.0M54.7 62.6l0.4 0.7M63.0 64.4l0.1 0.4M81.6 63.7l-0.0 0.0M103.1 65.1l-0.2 0.1M113.4 63.4l0.0 0.3M128.6 63.8l0.6 0.2M149.3 65.7l0.0 0.2M2.6 67.3l0.2 0.1M31.1 69.2l0.1 0.1M41.8 66.4l0.0 0.3M76.7 67.3l-0.0 0.4M90.4 66.7l-0.3 0.3M115.7 65.8l0.2 0.4M138.2 65.9l-0.0 0.5M154.7 66.4l0.2 0.2M13.5 71.6l0.3 0.0M30.8 71.4l0.1 0.2M48.2 71.9l-0.8 0.0M78.7 69.7l0.2 0.6M99.4 71.8l-0.3 0.7M123.4 71.2l0.6 0.4M138.0 71.5l0.4 0.6M157.1 71.4l-0.2 0.1M2.3 74.7l-0.5 0.2M13.2 75.0l-0.3 0.1M23.1 75.4l0.3 0.1M34.2 74.0l-0.1 0.9M50.0 75.6l0.6 0.4M75.3 73.9l0.2 1.0M82.4 73.0l0.3 0.4M115.8 73.9l0.1 0.1M134.4 74.4l0.9 0.3M155.0 75.1l0.2 0.1M18.8 77.3l-0.7 0.7M34.1 78.6l0.5 0.3M55.5 78.6l-0.9 0.1M71.6 78.9l-0.2 0.1M85.8 78.0l-0.7 0.5M109.3 78.7l-0.9 0.3M134.3 75.9l-0.3 0.1M159.2 77.2l-0.4 0.3M7.6 81.5l-0.3 0.3M47.2 80.3l-0.3 0.2M67.5 81.5l0.1 0.6M76.8 81.2l0.8 0.4M96.9 80.3l0.9 0.1M124.5 82.2l-0.2 0.3M148.3 82.0l-0.0 0.8M161.6 79.6l-0.4 0.1M7.3 84.4l-0.1 0.0M26.0 85.2l-0.0 0.3M61.7 83.8l0.2 0.1M72.9 85.7l0.0 0.0M89.5 83.5l0.2 0.1M117.5 84.6l-0.8 0.4M160.1 82.9l-0.5 0.1M9.0 87.9l0.1 0.1M30.8 86.4l0.5 0.6M49.5 87.6l0.4 0.8M69.7 86.3l-0.4 0.9M100.6 86.9l-0.7 0.6M111.4 86.2l0.3 0.4M122.6 87.7l0.4 0.1M134.0 86.7l0.3 0.1M10.4 92.1l-0.1 0.1M23.4 89.8l0.7 0.4M44.9 89.6l0.1 0.2M76.0 89.9l-0.2 0.1M94.8 90.5l-0.3 0.5M113.4 89.7l0.2 0.2M129.1 91.7l0.1 0.1M149.9 91.0l-0.0 0.0M20.4 95.4l-0.2 0.0M46.0 93.4l-0.0 0.1M61.7 95.5l0.3 0.1M74.8 95.1l-0.6 0.2M92.2 92.1l-0.1 0.9M105.1 95.4l0.9 0.2M118.8 95.0l0.2 0.0M142.4 94.3l0.3 0.2M161.4 92.5l0.6 0.1M12.4 97.8l0.0 0.2M35.8 98.8l-0.0 0.4M52.6 97.0l-0.6 0.2M74.9 96.8l-0.9 0.2M99.8 96.6l1.0 0.1M112.6 96.5l0.1 0.4M128.3 96.1l-0.0 0.9M155.0 98.5l0.5 0.2M38.5 99.5l-0.5 0.3M77.8 98.9l-0.5 0.7M113.5 99.3l-0.3 0.7M161.8 99.3l0.5 0.5M17.2 22.6l-0.2 0.0M23.1 20.5l0.9 0.1M14.7 27.9l0.2 0.6M15.5 28.7l-0.0 0.3M24.6 39.0l0.7 0.5M22.9 40.4l-0.3 0.9M16.2 22.9l0.1 0.2M17.5 23.8l-0.3 0.5M21.9 60.6l0.2 0.1M18.6 53.9l0.1 0.2M12.9 71.7l-0.4 0.8M11.7 70.3l0.5 0.8M23.0 68.4l-0.7 0.2M11.0 58.6l0.0 0.0M14.9 73.8l0.2 0.2M20.1 74.1l-0.9 0.2M45.8 30.6l-0.1 0.1M41.3 34.7l-0.5 0.6M45.3 30.7l0.2 0.4M44.6 32.4l-0.6 0.2M111.3 16.2l-0.4 0.1M108.4 27.2l0.8 0.2M108.7 26.3l0.5 0.1M111.3 29.2l0.2 0.2M117.2 23.7l-0.0 0.1M133.8 12.7l-0.4 0.3M141.5 21.0l0.0 0.0M139.9 11.6l0.1 0.5M131.9 18.5l0.0 0.2M136.8 25.1l0.0 0.3M140.8 15.6l0.9 0.4M91.2 40.5l0.1 0.0M98.6 46.3l0.8 0.4M103.5 44.6l-0.8 0.4M100.4 46.8l0.6 0.3M146.7 54.7l-0.7 0.1M146.8 52.7l-0.7 0.3M157.1 58.2l-0.0 0.1M155.6 47.1l-0.2 0.3M157.8 54.6l-0.3 0.5M156.1 48.5l-0.8 0.2M70.4 73.9l-0.5 0.1M63.3 68.4l0.4 0.3M67.0 64.9l-0.1 0.0M62.5 71.0l0.3 0.0M63.2 69.2l0.5 0.8M118.4 76.7l0.4 0.1M128.1 71.2l0.6 0.6M132.3 75.4l-0.2 0.2M117.9 76.4l0.3 0.9M124.6 69.1l0.2 0.2M122.1 80.4l-0.5 0.1M45.3 85.9l0.6 0.5M33.3 80.8l0.2 0.9M45.1 84.8l-0.5 0.2M38.7 78.1l-0.8 0.2M74.1 18.6l-0.8 0.1M81.5 22.3l0.7 0.4M74.2 16.9l0.0 0.0M82.3 14.1l0.3 0.3M156.7 25.7l0.2 0.9M156.6 26.3l-0.1 0.2M164.5 21.3l-0.0 0.0M162.1 26.8l-0.2 0.5M159.7 27.7l-0.5 0.5M64.4 42.7l0.5 0.7M65.7 45.8l0.4 0.9M62.1 41.9l0.1 0.1M65.8 50.2l0.0 0.0M8.5 7.1l0.0 0.0M12.8 10.9l-0.5 0.1M12.7 11.5l0.1 0.4M1.9 13.2l0.7 0.2M112.9 52.8l-0.7 0.1M121.5 48.6l-0.0 0.4M121.7 54.5l0.3 0.7M88.5 92.1l-0.2 0.2M87.9 84.8l-0.2 0.6M86.8 86.7l0.3 0.2M87.7 90.9l0.5 0.2M144.2 82.8l-0.0 0.0M145.4 82.4l-0.0 0.0M141.1 84.8l0.4 0.2M139.2 89.2l0.2 0.7M30.1 4.0l-0.6 0.8M24.8 7.8l0.2 0.5M32.4 11.3l0.9 0.4M34.2 10.1l0.5 0.6M53.7 93.8l0.3 0.5M62.2 89.4l-0.3 0.9M56.0 96.4l-0.1 0.2M98.7 11.5l0.2 0.2M98.3 11.3l-0.2 0.1M103.4 5.2l0.3 0.1" stroke="#1820f8" stroke-width="1.1" stroke-linecap="round" fill="none"/>
<path d="M50.0 20.0h0M55.0 22.0h0M52.0 18.0h0M75.0 55.0h0M84.0 54.0h0M80.0 83.0h0M156.0 62.0h0M142.0 90.0h0M12.0 97.0h0M28.0 7.0h0M147.0 8.0h0M104.0 72.0h0" stroke="#e8e8f8" stroke-width="1.9" stroke-linecap="round" fill="none"/>
<path d="M65.5 38.1h0M121.2 46.8h0M1.3 67.4h0M133.3 97.6h0M5.3 88.2h0M3.4 93.7h0M71.7 14.7h0M64.8 81.4h0M33.9 91.3h0M163.9 81.4h0M7.5 24.9h0M163.6 29.1h0M114.9 80.1h0M40.0 34.2h0M55.1 2.7h0M52.1 54.7h0M138.6 88.0h0M65.1 95.8h0M19.2 45.4h0M134.1 73.9h0M60.9 94.0h0M41.5 74.5h0M76.8 49.8h0M7.4 59.2h0M107.2 75.4h0M37.0 27.7h0M123.4 83.0h0M106.6 83.6h0M117.2 81.4h0M106.0 80.9h0M124.8 75.5h0M118.4 83.7h0M117.4 83.3h0M123.8 81.9h0M102.0 84.9h0M107.2 82.2h0M123.9 71.0h0M112.7 85.1h0M113.3 86.6h0M113.0 74.7h0" stroke="#b0a810" stroke-width="0.9" stroke-linecap="round" fill="none"/>
<path d="M43.8 16.9h0M27.8 79.6h0M33.7 27.6h0M131.9 14.1h0M96.4 39.6h0M36.0 17.3h0M1.5 31.8h0M154.8 34.7h0M125.4 29.4h0M16.7 79.7h0M158.0 58.6h0M73.8 61.4h0M145.6 66.1h0M64.5 83.8h0M74.4 23.7h0M133.0 75.9h0M1.6 95.0h0M112.8 68.7h0M28.8 76.8h0M12.1 77.9h0M158.7 0.6h0M4.9 93.9h0M159.4 73.4h0M4.8 86.5h0M45.8 93.3h0M65.2 97.5h0M120.4 39.4h0M29.7 46.5h0M74.6 95.6h0M51.1 51.4h0M69.9 28.5h0M26.1 47.9h0M76.6 21.6h0M150.0 8.1h0" stroke="#d01030" stroke-width="0.9" stroke-linecap="round" fill="none"/>
<path d="M19.6 82.0h0M86.6 81.4h0M17.8 87.0h0M77.5 87.6h0M23.4 89.2h0M117.3 44.4h0M67.1 46.1h0M12.2 11.8h0M18.4 16.8h0M35.4 52.6h0" stroke="#10b020" stroke-width="0.8" stroke-linecap="round" fill="none"/>
</g></g>
<g clip-path="url(#ch2)"><g transform="translate(518.4 456.6)">
<path d="M7.6 0.7l-0.2 1.2M11.9 1.6l1.6 0.7M16.2 1.7l0.3 0.9M20.7 0.6l-0.3 0.5M23.7 0.4l-1.0 0.7M28.8 0.7l0.4 0.8M37.2 0.4l-0.4 0.8M49.8 1.0l-1.2 0.6M50.9 2.0l0.2 1.0M57.0 2.1l-1.0 0.7M59.8 2.7l-0.0 0.0M67.9 0.9l0.7 0.3M71.3 0.2l-0.2 1.5M76.3 1.5l-1.1 0.7M79.9 2.4l0.4 0.6M83.2 1.4l-0.2 1.6M90.0 0.4l0.8 0.5M97.0 0.3l0.8 1.0M3.2 4.0l0.7 0.4M7.4 5.0l0.9 1.0M12.1 5.4l-1.2 0.1M12.4 5.3l0.5 0.4M17.5 4.3l-0.5 1.5M22.4 4.9l-0.7 0.5M23.1 3.1l0.4 0.7M26.4 3.0l0.1 1.1M31.1 3.4l-0.4 0.5M33.3 3.7l-1.0 0.5M37.1 3.9l0.7 0.2M42.8 5.1l0.6 0.1M45.3 4.3l-0.1 0.2M48.2 4.1l-1.4 1.0M51.8 5.6l-0.8 0.2M53.9 5.1l0.0 0.2M56.3 4.9l0.0 0.1M61.9 3.9l-0.0 0.5M64.3 4.9l-0.8 0.6M66.8 3.4l1.0 1.3M72.5 3.4l-0.5 1.0M74.2 5.0l-1.0 0.2M79.9 3.4l-0.2 0.0M85.2 4.0l0.6 1.1M89.9 3.1l-0.3 0.7M92.6 3.9l-0.4 0.3M94.2 4.1l-0.2 0.4M96.8 3.3l-0.0 0.0M99.3 3.0l0.2 0.1M1.9 6.4l-0.6 0.4M5.2 5.8l0.4 1.7M6.1 5.9l0.9 0.9M11.2 7.4l-0.3 0.5M12.8 7.0l0.6 0.7M15.8 5.5l0.5 1.6M20.5 7.4l-0.8 0.3M20.9 5.8l0.4 0.5M28.5 7.0l0.4 0.4M31.3 5.9l-0.8 0.5M33.4 6.7l0.2 0.6M35.7 6.2l-0.2 0.3M40.5 5.7l-0.8 0.9M42.5 5.2l0.0 1.2M46.8 8.0l1.3 0.0M52.0 6.9l-0.6 0.3M54.4 6.8l-0.9 0.4M60.3 6.8l-0.2 0.2M62.7 6.8l0.3 1.1M64.7 8.3l0.7 0.4M68.2 5.7l0.1 1.2M70.9 7.2l0.9 0.6M73.3 6.6l0.6 0.3M76.0 7.5l1.0 1.0M80.7 8.2l-0.5 0.5M81.0 5.6l0.6 1.7M84.5 7.2l-0.1 0.6M89.6 6.6l-0.1 0.4M91.0 5.7l0.2 0.3M98.2 7.2l-0.1 0.4M100.9 7.8l0.1 0.2M1.4 8.8l0.7 0.0M4.2 9.4l0.2 0.4M6.4 9.0l-0.2 0.3M11.6 10.1l-0.7 1.0M15.0 11.4l-1.3 0.1M15.1 9.5l0.1 0.3M19.7 9.1l-0.1 1.3M21.5 8.4l1.2 1.0M24.6 10.4l0.9 0.5M28.9 11.0l-0.7 0.5M30.9 8.3l-0.8 0.7M33.5 8.3l0.2 1.0M40.3 11.5l0.0 0.1M42.3 9.0l-0.5 1.2M45.2 9.2l0.9 0.9M48.8 9.8l-0.1 0.1M49.9 10.2l0.2 0.0M58.0 10.3l-1.0 1.2M59.3 10.7l-0.2 1.1M62.1 10.6l-0.4 1.0M63.9 8.6l1.2 0.5M72.9 11.3l-1.6 0.4M76.3 8.6l-0.1 0.8M78.7 9.4l0.2 0.1M84.3 10.8l0.5 1.1M88.6 8.6l-0.1 1.0M90.6 11.1l0.1 0.9M93.3 9.7l-0.1 0.0M98.2 9.8l-0.2 0.9M101.5 8.8l-0.2 1.7M2.2 13.7l0.3 0.7M3.2 14.1l-0.4 0.1M6.9 12.9l1.7 0.2M10.6 14.3l-0.9 0.2M12.2 12.9l-0.1 0.1M16.7 12.4l-1.0 0.1M19.2 12.1l0.7 1.0M20.2 12.6l1.2 0.0M25.8 11.3l-0.8 0.7M27.8 12.9l-0.4 1.1M29.9 13.7l0.8 1.2M32.8 12.3l0.2 0.1M36.1 12.7l0.5 0.7M43.4 12.0l-1.0 0.7M48.2 13.4l-0.8 1.1M50.5 14.3l1.3 0.0M58.0 13.7l-0.7 0.3M59.6 11.9l0.6 0.6M65.8 12.1l-0.1 0.0M69.0 13.7l1.1 1.4M69.9 14.4l-0.0 0.0M73.5 13.2l0.7 0.1M80.0 13.3l0.4 1.1M81.5 13.1l0.1 0.0M85.1 11.3l-1.1 1.3M88.0 13.5l-0.4 1.4M90.3 12.6l0.2 0.1M92.8 12.8l0.2 0.4M95.8 11.9l0.8 0.4M99.5 13.3l-0.8 1.4M1.8 14.7l0.8 0.3M5.2 16.7l-1.4 0.1M8.0 14.6l-0.2 0.3M8.9 15.8l-0.4 0.8M13.7 15.9l-0.3 0.5M16.3 15.3l0.4 0.0M17.6 16.7l-0.1 0.3M20.5 16.5l1.0 0.0M24.7 15.1l0.7 1.3M29.1 15.0l0.0 0.0M32.3 16.2l0.9 1.3M36.8 16.1l-0.3 1.2M40.5 14.0l-0.6 1.7M45.0 14.4l0.4 0.5M46.5 16.1l0.6 1.5M50.5 14.7l0.2 0.6M53.0 14.8l0.3 0.8M56.0 16.0l1.2 1.3M58.8 16.5l-1.0 1.4M63.6 17.0l-0.5 0.7M65.4 14.7l1.4 0.8M67.0 15.4l0.0 0.0M71.7 16.4l-0.1 0.3M72.5 16.7l0.3 0.5M76.0 14.7l-0.8 0.7M79.4 15.6l-0.3 0.0M89.3 16.4l0.5 1.2M90.8 15.2l-1.0 0.9M95.2 14.1l-0.3 1.1M97.1 14.6l-0.7 1.0M100.9 15.2l0.4 0.0M1.2 19.9l0.0 0.1M7.3 19.7l-0.6 1.0M10.9 19.4l-0.5 0.3M12.4 19.4l-1.0 0.9M15.0 18.5l0.3 0.6M18.0 19.6l1.3 0.4M22.7 19.2l0.1 0.3M25.0 17.6l0.4 1.0M26.6 18.2l0.7 0.4M30.4 19.2l-1.1 0.7M33.0 18.2l0.2 0.4M35.2 18.6l-0.6 0.5M38.7 18.5l0.3 1.0M42.6 19.0l-0.6 0.3M45.5 18.6l0.9 0.1M47.8 18.1l-0.2 0.8M51.2 17.0l-1.0 0.8M56.5 17.7l0.4 0.5M62.2 19.8l-0.6 0.6M64.6 19.8l-1.2 0.1M68.4 19.0l-0.0 0.1M71.7 19.3l-1.2 0.2M72.9 17.7l0.1 0.1M77.0 18.2l-0.0 0.0M79.0 19.7l-1.1 0.5M83.0 19.7l-0.0 0.1M84.8 18.9l-0.8 1.1M89.0 18.5l0.9 0.1M93.5 19.6l0.0 0.3M98.3 19.3l0.0 1.7M99.6 19.6l0.2 0.8M102.2 18.7l0.0 0.2M5.8 21.1l-0.0 0.3M9.5 21.3l-0.4 1.6M13.9 20.2l0.7 0.4M16.7 23.1l-0.0 0.0M17.2 22.4l1.2 0.6M22.5 22.9l-0.9 0.4M24.0 21.3l-1.5 0.4M29.7 22.8l0.6 0.3M34.3 21.0l-1.3 0.5M36.3 22.7l-0.5 0.3M43.4 20.7l-0.1 0.2M44.2 21.5l-0.5 1.2M48.6 21.2l-0.3 1.0M50.5 20.2l0.8 1.3M53.1 19.8l0.2 1.5M58.7 21.4l-0.1 0.1M63.3 22.1l0.7 0.5M65.6 20.4l1.1 0.2M68.9 21.1l-0.1 0.4M70.8 22.2l1.1 0.1M73.6 21.0l1.3 0.3M76.3 22.0l1.0 0.2M79.9 21.2l0.2 1.4M82.9 20.6l0.0 0.0M86.1 20.4l0.2 0.1M87.4 22.4l-0.2 1.2M90.7 22.3l1.2 1.0M93.6 20.7l-0.4 0.9M96.9 22.9l1.3 0.5M100.8 20.8l0.3 0.4M3.8 24.6l-0.6 1.5M7.7 25.6l0.3 0.0M10.1 22.7l0.9 1.0M13.5 25.2l0.3 0.2M16.9 23.7l-0.9 1.1M18.9 23.6l-1.3 0.5M21.4 24.8l0.3 1.3M23.8 23.2l0.5 0.7M30.9 25.1l0.3 1.7M32.9 23.4l0.5 0.3M35.5 22.7l-0.8 1.5M37.9 23.0l1.3 0.5M40.3 24.8l1.7 0.2M45.1 25.8l-0.5 0.1M46.6 23.4l1.5 0.4M49.2 25.1l0.4 0.3M56.4 25.6l-1.1 0.5M61.1 24.0l-1.7 0.3M61.2 25.3l0.2 0.4M67.5 25.1l-0.2 0.3M70.3 24.7l-1.2 0.1M74.5 23.0l-1.3 0.9M77.2 23.6l0.1 1.8M79.9 25.0l-0.3 0.8M82.8 24.3l-0.2 1.0M86.7 23.5l0.6 0.5M90.8 23.3l-0.0 0.0M93.4 23.6l-0.2 0.4M96.4 25.1l0.6 1.2M99.8 25.3l-0.4 0.4M102.5 25.8l0.4 0.1M2.3 26.5l-0.0 0.0M4.9 28.2l-1.4 0.4M6.5 26.0l1.0 0.8M9.7 28.6l-0.8 0.2M14.4 27.6l0.0 0.0M16.7 26.1l-1.3 0.4M17.6 28.2l1.3 0.1M21.2 27.1l-0.6 1.3M23.5 26.1l-0.1 1.2M26.8 26.4l0.5 0.9M34.1 26.1l1.0 0.1M35.8 28.3l-0.6 1.3M39.9 27.0l1.0 0.5M43.1 27.7l-0.0 0.0M45.0 25.9l-1.3 0.6M46.9 27.8l0.4 1.1M51.2 26.8l0.2 0.8M52.0 26.2l0.5 0.2M55.6 26.8l0.3 0.2M59.5 27.8l-1.3 1.1M62.5 26.9l-1.8 0.3M64.5 26.3l0.4 0.8M66.7 27.0l0.3 0.3M71.6 26.9l-0.5 0.9M77.7 28.2l-0.2 0.3M79.4 28.6l0.6 0.2M82.7 26.0l0.3 1.3M85.8 25.8l-1.0 0.8M87.0 26.8l0.9 0.3M91.7 27.5l-0.4 0.1M93.7 26.8l0.2 0.3M98.2 28.7l-0.4 0.6M101.4 28.5l0.1 0.1M103.1 28.1l0.0 0.2M4.1 28.7l0.8 1.4M6.7 29.2l1.4 0.8M16.0 31.7l0.6 0.0M19.3 30.4l0.0 0.2M25.0 29.4l0.4 0.2M31.3 31.2l0.7 0.4M33.9 30.3l-0.1 0.4M36.5 30.1l0.1 0.7M40.1 31.4l-0.7 0.2M41.9 30.2l0.5 1.2M45.2 31.0l-0.1 0.7M48.2 29.1l-0.2 0.5M51.5 30.9l0.7 1.0M53.2 29.9l0.6 0.3M55.0 29.7l0.3 1.5M60.0 29.1l0.7 0.6M61.7 30.3l1.2 0.5M65.8 30.6l1.3 0.2M69.9 29.2l-0.7 1.0M70.6 28.9l-1.3 0.8M74.2 29.9l-0.3 0.2M80.4 29.6l0.4 1.5M81.6 31.1l-0.8 1.5M86.4 31.4l0.2 0.8M87.0 30.6l0.3 0.4M92.2 29.1l-0.9 0.4M95.3 29.5l-0.1 0.1M96.3 30.8l0.6 0.3M100.2 30.5l-0.3 0.0M2.4 31.7l-0.8 0.4M4.7 32.2l-0.2 0.2M6.5 34.0l-0.1 0.0M10.5 32.2l-0.7 1.3M14.5 32.8l-1.0 1.2M16.1 34.1l0.6 0.4M17.4 34.2l0.2 0.0M20.6 34.5l0.2 0.0M23.7 34.1l1.6 0.6M30.7 33.6l1.0 0.3M32.1 33.6l1.3 0.3M36.5 34.6l0.8 0.0M42.8 31.7l0.5 0.8M44.7 33.9l-0.7 0.6M47.3 32.3l0.4 1.3M50.6 34.0l-0.0 0.2M52.6 33.6l-0.3 1.4M57.2 32.2l0.5 0.1M58.6 32.4l-0.9 1.2M61.8 32.6l0.2 1.1M68.2 33.0l-0.3 0.7M71.9 32.8l0.9 0.4M74.2 32.4l0.4 0.4M79.6 33.1l0.8 1.0M83.5 34.0l0.3 0.0M86.8 31.6l0.9 1.3M91.3 34.1l0.6 1.1M93.0 32.2l0.0 1.6M96.8 32.8l0.0 0.1M99.6 32.9l-1.0 0.3M102.3 32.2l0.9 1.4M3.7 37.4l-0.7 0.3M9.4 35.5l1.0 0.1M16.6 37.2l-1.0 0.0M22.5 36.5l0.0 0.1M25.3 34.6l-1.0 0.5M27.2 35.0l-1.0 1.2M28.6 37.1l1.1 0.9M31.7 35.4l0.4 1.7M36.8 35.3l0.9 1.1M38.7 37.1l-0.1 1.0M42.8 36.2l-0.9 0.8M48.0 35.0l0.1 0.0M51.5 37.2l-0.3 0.6M53.5 35.3l-0.0 0.0M57.1 35.0l-0.0 0.0M60.3 35.5l1.0 0.3M62.8 35.7l-1.3 0.0M65.3 35.8l0.4 0.6M67.1 35.3l1.3 0.4M71.5 35.1l-0.4 0.7M78.3 36.2l-0.1 0.6M80.3 36.7l1.0 1.4M85.7 37.2l-0.2 0.2M89.6 35.7l0.3 0.9M93.5 36.5l-0.3 0.0M100.9 34.8l1.1 0.0M101.9 37.1l-0.1 0.7M8.2 38.1l0.5 0.3M12.2 38.1l-1.3 0.2M14.6 39.8l-0.4 0.0M14.5 39.7l1.6 0.3M26.2 39.8l-1.4 0.2M28.6 37.7l-0.2 1.0M31.1 39.1l-1.0 1.2M33.0 38.7l-1.1 0.7M36.6 39.3l-1.4 0.1M38.6 37.2l0.6 1.0M41.9 39.7l-0.2 0.2M48.8 40.3l-1.0 0.4M51.6 38.3l0.4 1.7M53.8 38.0l-0.5 0.1M55.9 37.4l-0.4 0.8M60.8 39.7l-1.2 0.3M62.1 38.5l0.3 0.1M66.0 39.7l-0.0 0.1M70.2 40.0l-0.0 0.0M74.6 39.4l0.8 0.3M76.9 37.9l-0.8 0.5M80.2 37.8l1.3 0.1M82.9 37.5l-0.2 1.0M95.4 39.5l-0.0 0.0M95.6 38.2l1.2 0.9M98.7 38.1l0.1 1.1M2.5 43.3l-0.1 0.1M7.3 42.2l0.2 0.2M12.0 42.6l-1.6 0.2M14.6 43.2l0.3 0.5M18.2 41.8l-0.1 1.1M23.2 41.2l-0.1 0.4M25.3 41.7l-0.5 0.0M28.4 41.8l0.0 1.3M30.8 42.3l-0.2 1.2M34.0 40.6l0.9 0.9M36.8 41.5l-1.7 0.2M39.0 40.3l0.5 1.6M42.8 42.9l1.2 0.7M43.6 42.5l0.4 1.3M47.8 42.0l-0.2 1.3M49.8 41.6l0.0 0.0M53.2 40.4l-0.5 1.0M58.2 43.2l-0.1 0.2M62.1 42.0l0.2 0.2M63.9 40.7l1.6 0.8M72.6 42.8l-0.8 0.0M73.4 40.5l-0.0 0.2M77.8 41.7l0.2 1.0M80.6 42.5l0.6 1.2M85.7 41.2l1.0 0.1M87.4 43.0l1.1 0.0M90.1 42.1l-0.4 0.2M98.8 41.9l0.1 0.3M103.1 40.8l-0.9 0.1M2.9 44.2l-0.6 0.8M3.5 44.7l0.8 0.9M6.4 44.4l0.3 1.7M14.3 44.5l0.1 1.3M16.5 44.7l0.8 1.3M17.9 45.8l0.2 0.1M24.7 43.4l0.2 1.5M27.4 44.0l0.1 1.0M30.7 44.7l-0.5 0.4M31.4 43.9l1.2 0.8M35.7 44.3l-1.6 0.8M38.3 43.9l-0.1 0.5M47.2 46.0l0.2 0.1M52.4 45.2l-0.6 0.1M53.5 44.7l0.4 0.1M58.3 45.0l-1.3 0.6M60.5 46.0l0.7 0.7M61.2 45.7l-0.5 0.8M65.3 44.6l0.8 1.2M68.4 46.0l0.4 0.8M71.6 45.6l-0.3 0.2M73.8 45.9l-0.4 0.4M76.6 45.1l0.2 0.6M83.3 43.9l0.3 0.5M89.4 43.4l-0.4 1.4M91.5 44.4l-1.1 0.4M92.6 44.6l0.5 0.3M132.2 43.7l-0.5 0.6M2.3 48.8l0.2 0.9M5.5 47.4l0.1 0.5M8.8 48.2l-0.3 0.6M8.2 46.7l1.1 0.7M14.0 49.1l-0.2 0.1M15.4 46.8l-0.8 0.8M18.3 48.9l-0.3 0.6M20.3 48.1l0.7 0.0M23.4 47.9l1.6 0.8M27.7 49.2l0.0 0.0M30.5 47.9l0.6 0.6M32.0 47.7l0.0 0.1M35.8 47.1l-1.7 0.1M39.4 48.7l0.1 0.2M41.5 47.6l0.2 1.7M52.3 47.8l-1.0 0.3M52.9 47.7l0.6 0.1M55.6 48.7l0.6 0.4M59.7 47.5l-0.0 0.4M63.3 46.5l1.0 0.4M65.9 46.9l0.4 0.4M67.7 48.8l0.8 0.1M69.4 46.3l0.6 1.2M75.0 47.0l0.3 1.6M78.1 46.5l-1.0 0.3M80.3 48.3l-0.2 0.8M82.3 48.9l1.0 0.4M87.7 47.3l-1.5 0.3M89.6 46.9l-1.1 0.5M92.5 46.9l0.1 0.2M94.0 47.3l0.6 1.3M96.0 47.5l-0.4 0.5M99.9 48.3l1.0 0.9M130.1 47.5l-0.0 0.0M136.3 49.0l-0.3 0.1M138.5 47.5l-0.4 1.0M3.9 51.1l-0.4 0.9M6.2 51.7l0.2 0.2M10.9 50.2l-0.8 0.6M18.6 49.5l1.6 0.7M22.5 50.9l-0.1 0.1M25.9 50.3l0.1 0.5M28.0 48.7l-0.5 1.4M34.1 51.5l-0.2 0.6M35.6 49.1l0.5 1.4M41.9 50.3l-1.7 0.2M46.0 49.0l-0.6 0.8M48.4 51.0l0.8 0.9M51.8 50.3l0.0 0.0M52.9 50.9l0.8 0.3M57.7 52.0l0.9 0.1M62.0 51.8l0.5 0.4M65.0 49.4l0.7 1.6M67.0 51.4l1.2 0.2M71.0 51.2l0.7 0.1M77.0 49.3l0.1 1.3M78.6 51.4l1.0 0.1M83.9 51.1l-0.4 0.1M86.4 51.0l-1.0 0.5M87.5 51.6l0.7 0.9M91.5 48.8l0.3 1.7M94.7 49.4l-0.5 0.8M98.5 49.6l-1.2 0.0M98.6 51.6l0.1 0.5M123.9 49.7l0.8 0.8M126.6 50.2l1.2 1.1M144.2 51.5l-0.7 1.1M149.6 49.3l-0.2 0.5M1.3 52.1l0.8 0.8M4.0 54.2l-1.1 0.1M7.9 53.9l0.0 0.3M10.4 53.7l0.1 0.1M15.6 54.2l0.3 0.6M19.2 52.1l-0.7 0.7M20.6 51.7l1.1 1.1M23.0 52.0l0.6 1.4M28.0 54.0l0.3 0.6M29.2 54.2l-0.0 1.1M33.2 54.8l-0.5 0.4M36.1 53.8l0.6 0.8M42.8 54.1l0.1 1.2M45.7 52.4l0.6 1.1M48.1 53.2l0.1 0.0M49.5 53.6l0.4 1.5M55.4 51.4l-0.7 1.7M55.8 54.9l-0.5 0.4M60.0 52.6l0.1 0.0M62.6 52.2l0.6 0.0M66.5 54.2l0.4 0.0M67.2 53.5l-0.3 0.6M68.9 52.4l1.6 0.7M73.1 54.1l0.4 1.4M77.8 53.1l-0.5 1.1M79.6 54.7l-1.1 0.1M81.5 54.7l1.4 0.1M86.0 52.5l-0.4 0.5M88.1 53.6l1.2 0.2M91.7 52.6l0.0 0.0M95.3 53.8l0.4 1.4M100.1 52.5l-1.7 0.1M116.9 53.7l0.6 0.5M118.9 53.9l1.2 0.5M124.7 53.5l-0.1 1.6M128.4 52.7l-0.2 0.0M138.6 52.6l0.0 1.3M146.4 54.8l0.0 0.4M152.6 53.9l0.1 0.4M155.3 53.3l0.6 0.0M2.6 56.8l-0.9 0.4M4.5 57.4l0.0 0.1M8.5 56.9l-0.7 0.2M10.7 56.3l1.2 1.1M14.1 55.3l-0.9 1.1M14.6 57.7l1.0 0.4M18.3 57.3l-0.1 0.1M21.2 56.3l0.7 0.0M23.1 55.6l1.1 0.3M28.8 55.7l-0.3 0.1M31.5 56.8l0.4 0.3M34.6 55.9l0.3 0.6M35.6 57.1l-0.3 0.8M39.7 56.6l0.1 0.0M43.3 57.5l0.1 0.4M47.6 55.9l1.2 1.1M51.0 54.8l-0.5 0.8M55.5 55.0l-0.5 1.2M59.7 56.2l-0.0 0.0M66.1 56.8l-0.0 0.3M68.8 56.6l-0.7 0.3M72.3 57.4l-1.2 1.1M74.1 56.4l-1.3 0.4M76.1 56.3l1.1 1.3M78.6 56.4l0.2 0.7M84.4 55.0l-1.0 0.2M84.4 56.0l-0.4 0.3M92.5 56.8l-0.3 1.7M95.1 55.7l-0.4 1.6M96.1 57.3l-0.4 0.3M112.0 55.7l-1.0 0.8M115.0 55.8l0.3 0.5M120.1 57.5l0.0 0.2M123.0 55.3l-0.6 0.4M128.0 57.4l-0.8 0.6M128.5 55.6l0.1 0.2M143.9 56.5l0.2 0.2M145.9 55.8l1.1 0.2M159.1 57.3l-0.2 0.7M159.2 57.5l1.3 0.4M3.0 59.9l-0.2 0.9M3.2 58.5l0.5 0.2M7.0 60.6l-0.2 0.2M11.9 58.6l0.1 0.1M16.4 59.0l0.1 0.3M21.1 58.9l-1.6 0.8M21.2 60.2l-1.3 1.0M27.8 58.5l-0.5 0.5M30.8 58.5l-0.1 0.2M33.0 59.0l1.1 0.6M35.0 60.2l1.2 0.0M38.9 60.4l0.5 0.7M42.1 58.1l0.5 0.3M45.9 59.4l-1.7 0.1M46.3 60.0l0.2 0.1M50.7 58.3l0.7 1.0M52.7 58.7l0.2 0.2M55.4 58.3l0.4 0.1M60.0 60.1l0.3 0.8M63.0 58.9l-0.2 0.8M66.6 59.3l0.1 0.1M69.3 57.5l-0.1 1.3M70.1 58.0l-0.5 1.0M75.1 59.9l0.5 0.7M80.5 59.2l-0.7 1.0M81.8 58.5l0.4 1.2M85.6 57.6l0.7 1.0M88.9 59.7l0.8 0.3M92.8 60.2l-1.3 1.2M95.0 58.7l0.9 0.6M96.3 58.3l0.8 0.6M109.6 60.5l0.1 0.0M113.9 60.2l-0.1 0.0M124.9 57.6l0.9 1.3M130.1 58.2l-0.4 0.7M132.6 60.2l-0.8 0.5M142.2 58.3l0.4 1.6M146.6 59.1l0.3 1.2M152.4 60.7l-0.0 0.1M153.8 58.6l-0.0 0.4M157.2 59.7l-0.4 0.8M8.6 61.3l-0.0 0.3M10.1 62.5l-0.5 0.4M11.7 62.6l0.4 1.3M15.0 62.3l-0.1 0.1M21.6 61.5l-0.8 0.5M25.1 62.2l0.4 1.7M27.2 62.8l-1.2 0.4M29.3 63.2l0.2 1.1M33.9 61.5l1.1 0.4M35.6 62.4l-0.9 1.1M41.2 62.5l-1.3 0.7M40.9 62.4l-0.5 0.1M44.3 62.8l1.1 0.4M49.1 61.4l-0.3 0.4M51.9 62.6l-1.5 0.5M53.5 62.7l1.6 0.3M56.8 62.5l0.8 1.2M61.0 62.0l-1.1 0.4M66.3 62.7l0.7 0.2M70.7 60.5l0.8 1.0M73.8 62.7l-0.1 0.2M78.0 61.2l0.2 0.7M78.6 62.4l1.3 0.5M82.5 63.0l-1.2 0.3M85.6 62.2l-0.5 0.4M94.4 60.4l-0.6 1.6M106.4 63.3l0.5 0.2M108.8 62.6l-1.2 0.3M118.9 63.1l-1.2 0.3M126.3 61.8l-0.7 0.8M128.6 63.2l0.2 0.3M135.2 62.6l-0.3 0.1M149.6 62.0l0.1 0.6M152.8 62.4l-0.1 0.0M157.7 61.5l0.8 0.6M4.3 63.6l0.6 0.9M6.6 65.5l-1.1 0.5M10.1 63.4l1.0 1.4M12.1 63.8l0.1 0.7M17.6 64.4l-0.5 0.1M19.4 65.5l-1.7 0.2M23.1 65.8l-0.6 0.1M24.3 65.7l-1.3 1.1M27.0 65.3l0.3 0.2M30.7 64.9l0.7 1.2M32.6 64.6l0.1 0.8M35.6 64.8l0.3 1.1M40.8 65.0l-1.3 0.9M41.1 65.7l0.4 0.9M44.4 64.4l-0.1 0.4M48.3 64.1l-0.4 1.5M50.2 64.2l-1.1 0.6M57.0 64.1l-0.3 0.2M65.8 66.3l-0.4 0.7M70.0 65.3l-0.8 1.5M72.2 66.7l0.5 0.0M75.0 65.6l0.4 0.1M75.9 64.9l1.1 1.2M79.4 65.5l-1.2 0.8M82.5 64.4l0.6 0.4M87.1 66.2l-1.4 0.6M87.4 65.5l-0.2 1.6M92.0 64.6l0.2 0.3M104.6 65.7l-0.1 0.1M110.7 64.1l-1.2 1.2M118.3 64.3l0.7 0.1M120.4 66.1l-0.1 0.1M125.6 64.7l1.3 0.7M131.3 65.6l-0.0 0.7M136.1 66.2l0.2 0.1M140.9 64.7l-0.0 0.0M142.4 65.0l0.4 0.2M149.4 64.1l-0.1 0.5M160.7 64.5l-0.6 0.6M164.1 65.3l0.1 0.5M2.5 69.4l-0.3 0.2M3.5 66.6l-0.3 0.7M8.0 66.9l-0.3 0.1M11.4 68.1l0.0 0.2M11.8 66.0l0.3 1.7M15.6 69.2l-0.8 0.6M19.8 67.7l0.1 0.2M24.1 68.9l-0.8 1.4M27.2 68.4l1.5 0.0M31.3 66.9l0.6 1.0M34.0 66.7l-0.7 1.6M36.7 68.1l0.3 1.0M39.7 67.5l0.5 0.3M42.9 68.3l0.0 0.1M45.0 68.1l-0.8 1.5M48.1 68.6l1.0 0.1M51.7 68.4l-0.2 0.7M55.8 67.1l-0.2 0.1M60.3 68.9l0.4 1.2M62.9 67.8l-0.4 0.1M68.2 68.7l-0.7 0.8M72.1 68.9l0.4 0.3M73.6 68.9l-0.3 1.4M75.7 67.7l0.4 0.9M79.9 68.9l1.4 0.2M85.1 68.4l-0.2 0.8M101.0 68.9l-1.2 0.0M100.9 68.6l1.6 0.7M104.7 66.8l1.1 0.7M110.1 68.9l-1.1 0.4M111.6 67.9l-0.8 0.2M121.5 67.1l0.2 0.1M123.6 68.7l-0.9 1.5M135.5 66.6l-1.0 0.8M147.1 67.7l-1.2 0.1M157.5 69.5l-0.1 0.1M162.2 66.8l-0.4 0.5M2.2 71.8l0.0 0.0M6.8 72.2l0.3 0.6M13.5 72.1l0.7 0.7M17.0 71.9l0.5 0.1M21.0 70.2l-0.2 0.0M23.1 70.2l0.8 0.2M28.4 71.5l-0.9 0.0M29.5 71.6l0.4 1.7M31.9 72.2l0.2 0.2M36.1 71.2l-0.0 0.1M42.5 72.0l-0.7 0.3M46.1 71.5l0.0 0.2M47.4 71.7l-0.4 1.1M51.3 71.3l-0.8 0.7M55.2 69.7l-1.0 0.7M56.6 70.1l-0.2 0.6M58.4 70.8l-0.4 1.1M62.0 70.2l0.5 0.3M64.2 69.3l0.5 0.9M70.4 70.8l1.7 0.2M72.3 69.3l0.5 0.6M76.3 70.8l-0.4 0.5M78.5 69.1l0.1 1.4M100.8 70.6l1.4 0.7M102.5 70.2l-0.0 0.0M106.6 71.3l0.3 0.2M110.4 71.7l0.9 0.1M114.7 71.3l-0.5 0.1M122.0 69.5l1.7 0.3M125.0 70.9l0.3 0.2M134.6 71.8l-0.6 0.2M137.9 71.5l1.0 0.2M146.8 72.3l-0.7 0.2M152.6 70.8l-0.8 1.1M159.3 69.3l-0.1 0.8M163.9 70.7l0.2 1.0M0.9 72.9l-0.1 0.0M5.0 73.0l-0.4 0.1M6.0 72.4l0.7 1.2M11.6 74.2l-1.1 0.6M14.5 73.5l-1.0 0.2M16.2 73.0l-0.7 0.8M20.4 75.0l-0.4 0.3M23.5 74.4l-0.3 0.2M27.8 72.1l-0.5 0.8M30.4 73.4l-0.2 0.3M34.4 73.3l-0.3 0.1M37.3 75.1l-0.4 0.0M38.8 72.6l1.4 0.3M43.4 74.8l-1.4 0.4M43.5 74.8l0.0 0.4M49.1 74.5l-0.6 0.5M49.3 72.9l0.6 1.2M59.1 73.0l0.5 1.4M64.4 72.4l-1.3 0.6M64.1 72.9l-0.1 0.1M67.4 74.8l0.1 0.1M71.6 73.3l1.0 0.1M72.8 74.7l0.1 0.4M75.7 75.1l-0.3 0.1M93.2 73.2l0.3 0.8M98.2 74.9l0.4 0.1M100.0 74.8l-0.6 0.7M104.0 73.7l-0.7 0.2M105.2 74.6l-0.4 0.4M126.2 73.3l-0.5 0.5M143.0 72.3l1.3 0.7M145.1 72.9l0.5 0.6M149.3 72.7l0.7 0.4M152.9 73.4l0.1 1.6M2.4 75.9l0.1 1.0M4.9 77.7l-0.3 0.2M6.1 76.2l0.9 0.7M9.3 77.4l-0.8 1.6M12.5 76.6l0.0 0.0M18.8 77.4l1.0 0.1M24.8 77.4l0.3 0.1M27.5 76.6l-1.4 0.4M31.2 76.4l0.1 0.0M33.6 77.9l1.5 0.2M36.3 77.0l-0.1 0.2M39.5 75.9l-0.0 0.4M42.3 75.9l0.7 0.6M45.7 75.4l-1.7 0.2M47.1 75.5l0.1 0.5M49.6 76.6l-0.2 1.0M54.1 76.8l-1.1 0.6M56.2 77.8l0.7 0.1M58.7 75.2l0.2 0.8M63.0 77.2l-0.8 0.7M66.4 75.9l-0.6 1.1M66.9 77.4l0.5 0.0M70.4 77.8l0.3 0.6M73.4 75.6l1.2 0.7M89.2 77.0l0.7 0.9M90.6 76.3l-0.3 0.2M96.0 75.1l0.4 1.7M99.9 76.7l-0.0 1.2M103.3 75.9l-0.7 0.3M105.8 77.7l-0.3 0.9M112.2 77.0l-0.2 0.5M115.7 77.5l0.0 0.0M124.5 76.0l-0.1 0.2M134.7 77.1l-0.3 0.1M139.3 77.4l-0.1 0.2M145.3 76.8l0.7 0.6M151.1 78.0l-0.1 0.0M158.2 76.1l-0.9 0.2M164.5 77.1l-0.9 1.3M1.1 79.7l-0.1 0.0M3.7 79.2l-0.0 0.6M8.1 79.4l0.0 0.4M9.4 78.3l1.3 1.0M14.6 80.2l0.0 1.0M18.1 79.7l-0.1 1.0M23.1 79.8l-0.3 0.5M24.8 79.5l-1.2 0.5M27.2 80.7l0.1 0.2M30.7 79.3l-0.6 0.0M32.4 78.4l-0.0 1.1M34.3 78.8l1.0 0.1M39.3 79.2l1.0 0.3M46.3 79.1l0.9 1.1M50.9 78.8l-0.1 0.5M56.0 80.4l-0.3 0.6M63.1 79.2l-0.0 0.9M65.9 79.5l-1.6 0.1M80.1 81.1l-0.0 0.0M88.9 78.7l0.2 0.0M92.3 80.0l0.3 0.3M93.0 78.2l1.4 1.1M100.1 80.6l1.1 0.2M102.8 80.3l1.0 0.8M106.4 80.4l-0.3 0.2M109.1 78.3l-0.4 0.2M124.2 78.7l-0.6 0.9M125.7 78.6l-0.0 0.2M129.9 80.6l-0.1 0.6M141.6 78.7l-0.9 0.8M162.5 80.5l0.3 1.1M4.0 82.7l-0.9 0.5M6.3 81.6l0.3 0.8M10.6 83.4l-1.0 0.7M13.1 83.6l1.2 0.4M14.8 83.3l-0.2 0.4M23.4 80.8l-0.5 1.1M23.7 82.9l-0.3 0.3M27.1 83.2l0.4 0.9M30.6 81.7l0.7 0.2M36.3 81.5l0.2 0.5M39.6 81.2l0.3 0.2M41.4 82.7l1.7 0.1M46.9 82.6l-1.4 0.4M47.0 81.2l-1.1 0.4M49.9 81.7l0.6 1.0M52.5 83.3l1.1 1.0M58.3 82.7l-1.0 1.3M60.1 81.8l0.7 0.2M62.4 81.0l0.1 1.0M64.1 83.8l0.9 0.5M75.7 83.2l-1.3 1.1M76.3 83.1l0.4 1.0M81.1 81.2l-0.1 0.7M82.3 82.2l0.1 0.0M85.6 81.2l-1.4 0.6M89.8 83.6l-0.4 0.4M89.7 80.9l0.4 0.6M93.1 81.6l0.9 0.6M96.7 82.4l-1.1 1.0M100.1 82.8l-1.4 0.5M104.7 83.0l-1.1 0.5M125.5 81.7l-0.8 0.5M132.0 83.6l0.2 0.0M143.5 83.3l-0.0 0.3M147.8 82.7l-0.7 0.5M161.2 82.2l-0.4 1.5M2.1 84.7l-0.2 0.4M3.4 86.3l1.1 1.1M5.7 85.2l0.3 0.0M12.9 86.4l-1.3 1.0M16.1 83.9l-0.4 0.6M22.0 84.2l-0.5 0.9M24.2 85.2l0.4 0.1M26.6 85.5l-0.0 1.4M37.1 84.9l0.2 0.0M39.6 85.6l0.4 0.0M40.8 86.8l0.4 0.2M51.1 84.1l0.0 0.1M52.6 86.6l0.1 0.5M59.2 84.5l-0.7 0.1M63.0 86.2l-0.8 0.8M65.7 84.8l1.4 1.0M67.2 85.1l-0.1 0.9M73.1 84.0l-1.7 0.5M74.3 84.2l1.2 0.7M77.4 86.2l-0.7 0.6M79.1 84.5l-0.0 0.2M82.3 84.1l-0.2 0.2M85.9 85.9l-0.2 0.6M89.9 85.9l-0.5 0.3M89.9 84.2l0.8 0.2M95.5 84.8l-0.0 0.0M101.0 86.8l0.3 0.2M101.6 85.1l0.5 0.6M104.8 85.4l0.0 0.0M108.8 85.6l1.2 0.9M113.4 84.1l-0.0 1.1M128.9 84.3l0.3 0.1M130.7 86.8l0.8 0.3M133.8 84.1l-0.1 0.2M153.3 86.8l-0.0 0.0M162.4 84.0l1.3 0.3M2.4 87.1l0.3 0.4M5.4 88.2l0.3 0.6M12.8 89.2l-0.7 0.4M15.4 87.8l-0.6 0.7M20.5 88.5l-0.6 1.7M20.9 88.4l-0.5 1.5M27.4 89.2l-1.1 0.1M32.2 88.4l-0.4 0.1M36.9 89.4l-0.2 0.2M37.4 87.9l1.1 0.2M40.5 87.2l0.2 0.6M45.9 88.0l-0.0 0.1M47.8 89.4l0.0 0.0M50.5 87.7l0.0 0.9M52.8 86.9l-0.9 0.8M57.9 88.9l0.0 0.3M61.7 89.0l-0.0 0.1M66.1 88.7l0.0 1.3M69.2 87.2l0.3 0.4M70.6 89.5l-0.0 0.5M74.3 89.7l0.6 0.3M80.6 86.8l-0.5 1.7M86.1 88.3l0.1 0.3M87.8 87.5l-1.0 1.1M90.7 87.5l-0.4 0.1M98.4 87.7l-1.4 0.8M100.1 89.0l0.1 0.3M102.2 87.6l-0.7 0.3M107.8 87.0l-1.3 0.0M115.7 87.2l-0.7 0.2M116.4 89.2l0.6 1.2M128.5 89.2l0.0 0.2M133.0 89.4l0.0 0.0M135.8 87.8l-0.4 1.6M138.5 87.0l-0.9 0.3M152.6 89.0l-0.2 1.1M159.2 89.0l0.5 0.1M162.9 88.8l0.0 0.3M2.5 90.5l-1.4 0.9M4.2 91.9l-0.4 1.6M8.9 90.0l-1.1 0.9M11.6 91.8l-0.4 1.4M17.3 92.5l-0.7 0.1M17.5 90.1l0.0 0.4M19.7 90.5l1.3 0.7M23.8 92.3l1.7 0.0M29.1 90.8l-1.2 0.6M31.6 91.2l-0.5 1.2M31.8 91.4l0.5 1.7M38.7 91.6l-0.0 0.0M47.3 91.9l-0.0 0.4M50.8 92.2l-0.8 1.1M53.8 91.2l-0.1 0.1M57.0 89.3l-0.3 1.4M59.8 89.9l0.9 0.6M60.9 91.7l0.3 1.6M65.7 90.8l0.3 0.3M68.3 91.9l-0.5 1.7M71.2 92.0l-0.1 0.9M75.1 90.9l0.6 0.7M78.3 89.9l-0.8 0.7M78.4 92.0l-0.0 0.2M83.6 91.7l0.6 0.5M86.4 91.1l-1.2 0.9M88.8 90.9l-0.8 0.9M90.7 91.7l-0.9 0.2M93.3 91.3l-0.1 0.9M99.1 92.4l-0.1 0.1M103.7 89.4l-0.7 1.5M105.3 90.9l0.8 0.3M109.1 90.7l0.7 1.6M116.0 90.6l-0.3 1.1M118.2 91.0l-1.6 0.4M121.5 90.4l-0.7 1.3M123.0 92.1l-0.4 0.1M125.7 91.1l0.6 0.5M138.5 90.8l-0.1 0.6M140.6 91.9l0.5 0.1M143.9 91.9l0.0 0.0M146.3 89.4l0.7 1.2M148.3 89.8l1.5 0.6M7.3 93.5l0.4 0.0M17.6 92.9l0.8 0.5M24.8 95.4l0.7 0.1M28.3 94.4l-0.0 0.0M29.4 92.7l0.3 0.2M34.8 93.5l-0.6 0.8M38.6 95.1l0.8 0.2M39.8 94.6l1.7 0.1M45.2 95.2l1.1 0.1M48.2 94.8l1.6 0.4M49.8 94.5l0.6 1.1M53.7 95.4l0.1 0.1M57.8 93.2l-0.6 1.2M58.2 93.2l0.2 0.0M60.8 93.9l0.5 0.7M66.6 94.8l0.1 0.4M68.7 93.8l0.5 0.8M71.9 94.8l1.0 0.7M73.6 94.7l0.2 1.7M76.4 94.2l-0.5 0.2M84.3 93.1l0.3 0.3M89.2 94.0l-0.9 0.5M93.2 95.1l-0.0 0.3M99.7 92.7l-0.0 1.8M103.6 92.5l-0.2 1.2M104.6 93.5l0.4 0.4M108.6 94.3l-0.5 0.8M117.7 93.0l1.3 0.3M139.7 93.8l0.7 0.5M147.4 94.1l1.1 0.4M148.7 93.6l-0.2 1.0M156.0 94.3l0.8 0.7M158.1 94.1l-0.3 0.1M162.2 95.3l0.4 0.5M2.0 95.6l0.3 0.7M3.8 96.5l-0.4 0.4M8.5 97.6l0.3 0.6M9.9 96.2l-0.3 1.0M13.2 95.4l1.2 0.9M17.0 98.0l-0.9 0.7M19.1 97.2l-0.4 1.2M21.7 96.5l1.8 0.3M25.0 96.4l-0.7 0.0M26.0 95.6l0.4 0.9M29.3 97.3l0.3 1.0M34.8 97.9l-0.7 1.2M36.9 96.2l0.6 1.0M39.7 96.3l-0.2 0.3M42.5 95.8l0.7 0.7M44.7 97.3l0.3 0.2M51.5 96.0l0.3 0.5M53.8 97.9l0.7 0.1M57.9 96.8l-1.2 0.4M60.3 96.5l-0.6 0.2M62.6 96.2l-0.4 0.1M64.4 95.2l0.3 1.6M68.3 97.3l-0.0 0.4M69.8 97.8l1.0 0.1M75.7 95.4l-0.6 1.0M76.9 96.3l0.0 0.1M78.5 96.4l0.2 0.3M86.2 97.4l-0.6 1.1M89.4 96.7l0.3 1.4M89.7 95.5l0.5 0.8M96.0 98.3l1.2 0.6M99.2 97.7l0.6 1.4M103.1 97.1l0.9 1.3M109.6 95.7l-0.1 0.3M122.6 97.0l0.2 0.2M136.2 96.7l-0.2 1.1M148.1 96.9l0.9 0.5M152.8 97.2l-0.6 0.9M157.7 96.5l0.0 0.0M0.7 100.3l1.1 0.4M2.2 98.6l1.3 0.4M6.9 99.3l0.2 0.0M9.1 99.6l1.4 1.0M13.2 101.0l0.0 0.1M15.4 99.6l1.0 0.0M19.9 99.3l-0.8 0.1M21.3 98.6l-0.8 0.9M23.4 98.4l0.9 1.3M28.2 100.2l-0.5 0.6M30.8 100.4l1.4 0.8M34.5 100.0l0.4 1.4M36.9 98.5l0.5 1.6M39.9 98.7l-0.0 0.1M43.0 100.9l0.6 0.4M44.3 98.7l1.1 0.6M46.7 100.7l0.2 0.1M50.0 99.8l-0.4 0.1M52.9 99.1l0.7 0.6M65.2 99.3l0.2 1.0M67.9 98.4l0.5 1.1M73.8 98.8l0.1 0.2M75.8 99.5l-0.5 1.4M81.1 99.1l-0.4 0.1M82.9 100.1l1.3 0.4M85.6 99.6l-1.0 1.2M88.7 99.5l-1.0 1.0M91.7 98.5l-0.7 0.2M95.4 98.7l0.2 1.2M96.7 101.1l0.1 0.1M100.7 99.4l-0.2 1.1M101.6 99.7l-0.1 0.0M107.9 100.7l0.3 0.9M119.2 98.9l-1.6 0.7M123.8 99.3l0.5 0.5M126.1 100.1l1.0 0.2M132.9 99.9l0.3 0.2M142.7 98.6l-0.0 0.1M151.6 100.2l-0.4 1.6M156.8 98.4l0.1 0.5M161.6 100.1l1.1 1.2" stroke="#0505c4" stroke-width="2.4" stroke-linecap="round" fill="none"/>
<path d="M16.3 2.2l0.1 0.0M23.0 0.6l0.5 0.3M51.0 2.5l-0.0 0.0M82.8 2.2l0.7 0.0M3.7 4.2l-0.3 0.0M12.7 5.3l-0.2 0.3M23.6 3.3l-0.6 0.3M33.1 3.6l-0.7 0.5M45.3 4.3l-0.0 0.2M53.8 4.8l0.4 0.6M64.1 5.2l-0.6 0.0M73.9 5.1l-0.3 0.1M89.8 3.0l-0.1 1.0M96.9 2.9l-0.2 0.7M5.2 6.3l0.5 0.7M13.0 7.0l0.3 0.7M21.1 6.0l0.0 0.0M33.6 6.7l-0.1 0.6M42.1 5.6l0.9 0.4M54.0 6.8l-0.0 0.3M64.9 8.4l0.2 0.2M73.6 6.8l0.0 0.0M81.1 6.3l0.3 0.1M91.5 5.8l-0.8 0.0M1.9 8.6l-0.1 0.4M11.0 10.3l0.3 0.7M19.2 9.7l1.0 0.0M28.1 11.1l0.9 0.3M40.2 11.3l0.3 0.4M48.8 9.6l-0.2 0.5M59.1 11.1l0.2 0.3M72.2 11.5l-0.3 0.0M84.5 11.3l0.0 0.2M92.9 9.5l0.7 0.6M7.7 13.0l-0.1 0.1M16.2 12.3l-0.0 0.2M25.0 11.4l0.8 0.4M33.0 11.9l-0.2 0.8M47.8 13.9l0.0 0.2M59.6 12.1l0.7 0.2M69.9 14.4l0.1 0.0M81.3 12.7l0.3 0.9M90.3 12.3l0.2 0.6M99.0 14.0l0.2 0.1M7.9 14.7l-0.2 0.3M16.5 15.3l-0.1 0.1M25.3 15.6l-0.4 0.3M37.0 16.7l-0.6 0.1M46.8 16.5l-0.1 0.7M56.6 16.6l-0.0 0.1M65.8 14.9l0.4 0.4M72.6 16.6l-0.1 0.6M89.6 16.7l-0.1 0.6M96.7 15.1l0.3 0.1M7.4 20.0l-0.8 0.2M15.6 18.7l-1.0 0.2M25.0 17.9l0.4 0.4M33.3 18.3l-0.4 0.3M42.5 19.0l-0.3 0.4M50.6 17.3l0.2 0.3M64.1 19.6l-0.3 0.5M73.0 17.5l-0.1 0.3M82.7 19.3l0.5 0.8M93.7 19.7l-0.3 0.2M102.2 18.8l-0.0 0.0M14.1 20.0l0.2 0.7M22.0 23.0l0.1 0.2M34.0 21.2l-0.8 0.0M43.8 21.7l0.2 0.8M53.4 20.5l-0.5 0.3M65.9 20.3l0.5 0.5M74.2 21.1l0.0 0.2M83.0 20.3l-0.2 0.7M91.3 22.8l0.0 0.0M101.2 20.6l-0.5 0.8M7.9 25.5l-0.1 0.1M16.1 24.0l0.8 0.3M24.4 23.5l-0.7 0.3M35.2 23.4l-0.3 0.2M44.8 25.6l0.1 0.3M55.7 25.8l0.3 0.0M67.5 25.2l-0.1 0.2M76.9 24.4l0.7 0.1M87.0 23.5l-0.0 0.4M96.5 25.5l0.4 0.4M6.9 26.2l0.1 0.5M16.2 26.2l-0.3 0.2M23.7 26.5l-0.6 0.4M35.0 28.9l1.0 0.1M44.4 26.2l-0.0 0.0M52.7 26.3l-0.9 0.2M61.9 27.0l-0.6 0.1M71.5 26.9l-0.4 0.7M82.7 26.5l0.1 0.2M91.8 27.5l-0.5 0.2M101.6 28.5l-0.3 0.0M7.2 29.5l0.3 0.3M24.7 29.5l0.9 0.1M36.7 30.4l-0.4 0.2M45.4 31.0l-0.5 0.7M53.4 29.9l0.0 0.4M62.1 30.1l0.2 0.7M70.2 29.2l-0.4 0.2M80.8 31.6l0.9 0.4M91.3 29.1l0.9 0.4M99.8 30.2l0.5 0.7M4.6 32.1l0.0 0.5M14.3 33.4l-0.6 0.0M20.7 34.1l-0.1 0.8M32.8 33.4l-0.2 0.7M44.3 34.0l0.0 0.5M52.6 34.1l-0.2 0.3M61.6 32.9l0.6 0.5M74.5 32.6l-0.1 0.0M87.2 32.3l0.1 0.1M97.0 32.5l-0.4 0.6M16.0 37.2l0.1 0.0M26.4 35.4l0.6 0.2M37.1 35.7l0.3 0.2M47.9 34.7l0.3 0.5M56.9 34.9l0.5 0.3M65.5 36.0l-0.0 0.3M78.3 36.3l-0.1 0.3M90.0 35.9l-0.5 0.5M101.8 37.4l0.0 0.0M14.5 39.6l-0.2 0.5M28.6 38.0l-0.4 0.3M36.2 39.3l-0.5 0.2M47.9 40.4l0.8 0.1M56.0 37.5l-0.5 0.7M66.2 39.5l-0.4 0.4M76.3 38.1l0.3 0.2M95.2 39.4l0.5 0.2M2.5 43.3l0.0 0.0M15.1 43.5l-0.7 0.1M25.1 41.5l-0.2 0.5M34.5 41.1l-0.2 0.0M43.2 42.9l0.4 0.8M49.9 41.6l0.0 0.0M62.1 42.1l0.1 0.1M73.8 40.4l-0.8 0.4M86.2 41.1l-0.1 0.4M98.5 41.7l0.7 0.6M2.3 44.4l0.6 0.4M14.2 45.1l0.2 0.1M24.8 44.1l0.0 0.2M32.2 44.0l-0.5 0.5M47.0 45.9l0.5 0.3M57.9 45.3l-0.5 0.0M65.8 45.0l-0.2 0.4M73.6 46.1l-0.0 0.0M89.5 44.0l-0.5 0.2M132.2 43.8l-0.4 0.4M8.6 48.5l-0.0 0.0M15.0 47.1l-0.0 0.1M24.0 48.2l0.2 0.2M31.9 47.5l0.3 0.4M41.5 48.3l0.2 0.4M55.7 48.7l0.4 0.4M66.1 47.1l-0.0 0.0M75.4 47.8l-0.7 0.1M82.8 49.1l0.0 0.0M92.3 46.8l0.5 0.3M100.4 48.7l0.1 0.2M138.5 47.9l-0.4 0.0M6.2 51.8l0.1 0.0M22.5 50.9l-0.2 0.1M34.1 51.7l-0.3 0.2M45.3 49.4l0.7 0.1M52.9 51.0l0.8 0.2M65.5 49.9l-0.2 0.5M77.0 49.7l0.1 0.5M85.7 51.1l0.4 0.3M94.5 49.7l-0.2 0.3M124.2 50.0l0.1 0.3M149.8 49.1l-0.5 0.8M7.7 53.8l0.4 0.4M18.8 52.2l0.2 0.4M28.1 54.2l0.1 0.1M36.5 54.1l-0.3 0.2M48.5 53.0l-0.6 0.6M55.5 55.0l0.1 0.1M67.1 54.2l-0.9 0.1M73.3 54.8l0.0 0.0M82.2 54.7l-0.1 0.1M91.7 52.7l-0.0 0.0M117.2 53.9l0.1 0.1M128.1 52.5l0.5 0.4M152.3 53.9l0.8 0.4M2.4 56.7l-0.5 0.8M11.4 56.5l-0.2 0.9M18.5 57.2l-0.5 0.3M28.7 55.7l-0.1 0.1M35.4 57.2l0.0 0.5M48.3 56.0l-0.3 0.9M59.7 56.2l-0.1 0.1M71.4 57.7l0.6 0.4M78.4 56.6l0.6 0.2M92.3 57.5l0.1 0.3M111.3 56.0l0.4 0.1M122.6 55.5l0.2 0.1M144.1 56.2l-0.2 0.9M160.3 57.6l-0.9 0.2M7.2 60.3l-0.5 0.8M19.8 59.2l1.0 0.1M31.1 58.6l-0.7 0.1M39.5 60.7l-0.7 0.2M46.8 59.8l-0.6 0.5M55.6 58.3l-0.0 0.1M66.6 59.3l0.1 0.0M75.6 60.3l-0.5 0.1M85.9 58.1l0.1 0.1M95.3 58.5l0.3 0.8M113.9 59.9l-0.2 0.8M132.3 60.4l-0.1 0.1M152.4 60.7l-0.1 0.2M8.9 61.2l-0.6 0.6M14.7 62.2l0.5 0.3M26.6 62.5l0.1 1.0M34.8 62.7l0.6 0.5M45.0 62.7l-0.3 0.6M54.4 62.8l-0.1 0.1M66.3 62.8l0.7 0.0M78.3 61.2l-0.4 0.7M85.5 62.4l-0.1 0.0M107.9 62.4l0.6 0.6M128.9 63.2l-0.5 0.3M152.6 62.4l0.2 0.1M4.1 64.0l0.9 0.1M12.2 63.9l0.0 0.4M23.0 65.6l-0.5 0.5M30.9 65.3l0.3 0.2M40.2 65.4l-0.2 0.0M48.4 64.8l-0.6 0.3M65.6 66.3l-0.2 0.8M75.3 65.5l-0.1 0.3M83.2 64.5l-0.8 0.3M92.0 64.5l0.3 0.4M118.4 64.0l0.6 0.8M131.3 65.9l-0.0 0.1M142.6 65.1l0.2 0.1M164.2 65.6l-0.2 0.0M3.2 66.6l0.3 0.5M11.9 66.4l0.1 0.9M23.5 69.2l0.3 0.9M33.6 67.2l0.3 0.7M42.9 68.3l-0.0 0.0M51.1 68.7l0.9 0.2M62.6 67.5l0.1 0.8M73.5 69.4l-0.1 0.4M85.0 68.5l-0.1 0.5M105.3 67.2l-0.1 0.0M121.7 66.8l-0.2 0.6M146.5 67.7l0.1 0.0M14.2 72.4l-0.6 0.1M23.6 70.2l-0.1 0.4M31.9 72.2l0.2 0.1M46.1 71.6l0.0 0.0M54.5 69.9l0.4 0.3M62.3 70.3l-0.2 0.1M72.6 69.5l-0.1 0.3M101.4 70.5l0.2 0.8M110.7 71.5l0.1 0.6M125.3 70.9l-0.2 0.3M146.4 72.0l0.3 0.9M163.6 71.1l0.9 0.0M5.0 72.9l-0.3 0.4M14.3 73.6l-0.6 0.1M23.1 74.3l0.5 0.3M34.2 73.3l0.1 0.0M42.7 75.0l0.1 0.0M49.5 73.2l0.2 0.7M63.8 72.9l0.4 0.1M73.1 74.6l-0.7 0.6M98.4 74.8l-0.1 0.4M104.9 74.7l0.3 0.1M145.5 73.0l-0.2 0.3M2.4 76.2l0.1 0.5M9.0 78.1l-0.2 0.2M24.9 77.3l0.1 0.3M34.0 78.0l0.5 0.0M42.8 76.1l-0.3 0.1M49.6 77.0l-0.3 0.3M58.7 75.2l0.2 0.7M67.1 77.4l0.1 0.0M89.8 77.3l-0.4 0.2M99.5 77.2l0.7 0.2M112.4 77.0l-0.5 0.5M134.4 76.8l0.3 0.7M150.8 77.8l0.6 0.3M1.1 79.5l-0.1 0.5M10.4 78.6l-0.7 0.4M23.4 79.8l-0.8 0.5M30.0 79.3l1.0 0.2M40.0 79.1l-0.3 0.4M55.7 80.5l0.4 0.3M80.1 81.1l-0.1 0.1M93.3 78.6l0.7 0.3M106.2 80.4l0.1 0.2M125.3 78.5l0.9 0.4M162.9 81.0l-0.6 0.2M10.0 83.3l0.1 0.8M23.4 81.3l-0.6 0.3M31.4 81.8l-0.9 0.1M42.4 82.4l-0.2 0.7M50.0 82.2l0.3 0.1M60.5 81.9l0.0 0.0M75.2 83.6l-0.3 0.2M82.4 82.1l-0.2 0.2M90.1 80.8l-0.4 0.9M99.8 82.8l-0.7 0.6M131.8 83.4l0.5 0.2M161.1 82.6l-0.2 0.8M4.0 86.8l-0.1 0.2M15.9 84.1l0.1 0.1M26.7 85.8l-0.4 0.9M41.4 86.7l-0.9 0.4M58.8 84.4l0.0 0.3M67.6 85.3l-0.9 0.4M76.7 86.3l0.8 0.2M86.2 85.9l-0.8 0.4M95.8 84.7l-0.8 0.3M104.7 85.3l0.1 0.2M129.1 84.4l0.0 0.0M153.2 86.5l0.2 0.5M5.5 88.4l-0.0 0.0M20.1 89.3l0.1 0.0M32.2 88.4l-0.4 0.2M40.8 87.4l-0.3 0.1M50.5 88.0l-0.0 0.1M61.3 88.8l0.8 0.3M70.9 89.5l-0.7 0.5M86.0 88.4l0.3 0.2M97.8 88.0l-0.3 0.2M106.9 86.8l0.6 0.5M128.1 89.2l0.8 0.2M138.2 86.8l-0.4 0.9M162.8 88.6l0.3 0.8M8.4 90.5l0.0 0.0M18.0 90.2l-1.0 0.2M28.5 90.9l0.1 0.5M38.6 91.3l0.1 0.5M53.8 91.1l-0.1 0.2M60.7 92.2l0.5 0.6M70.8 92.3l0.7 0.4M78.3 92.1l0.1 0.0M88.1 91.0l0.6 0.6M99.1 92.4l-0.1 0.1M109.5 91.4l0.0 0.2M121.2 90.8l0.0 0.4M138.8 90.8l-0.6 0.6M146.6 90.0l0.1 0.2M7.0 93.5l0.9 0.1M28.3 94.4l0.1 0.1M38.8 94.9l0.4 0.6M48.8 94.9l0.5 0.1M57.3 93.6l0.4 0.4M66.6 94.9l0.1 0.3M73.9 95.4l-0.5 0.2M88.4 94.2l0.7 0.2M103.3 92.7l0.5 0.8M118.2 93.0l0.5 0.2M148.3 93.8l0.5 0.6M162.2 95.5l0.3 0.2M3.9 96.7l-0.7 0.1M13.8 95.9l0.1 0.0M22.8 96.4l-0.5 0.5M29.9 97.7l-0.9 0.3M39.8 96.3l-0.3 0.3M51.8 96.0l-0.3 0.4M59.8 96.6l0.5 0.0M68.3 97.2l-0.0 0.5M77.0 96.3l-0.1 0.1M89.5 97.3l0.2 0.2M99.5 98.4l0.0 0.0M122.6 96.9l0.2 0.4M152.5 97.6l-0.0 0.0M1.1 100.1l0.3 0.6M10.0 100.0l-0.2 0.1M19.7 99.3l-0.4 0.2M28.3 100.3l-0.6 0.3M36.7 99.2l0.9 0.1M44.6 99.0l0.5 0.2M53.3 99.4l0.0 0.0M68.4 98.6l-0.7 0.6M75.4 100.1l0.2 0.2M84.7 100.1l0.7 0.2M95.7 99.1l-0.3 0.4M101.6 99.6l-0.2 0.3M118.6 99.1l-0.4 0.3M133.0 99.9l0.2 0.1M156.6 98.3l0.4 0.7" stroke="#2230f0" stroke-width="1.3" stroke-linecap="round" fill="none"/>
<path d="M12.0 73.7h0M14.3 75.5h0M15.8 76.2h0M13.8 75.3h0M14.9 76.3h0M15.1 75.6h0M14.2 85.6h0M14.7 84.1h0M14.9 76.6h0M4.7 82.3h0M15.1 78.0h0M5.2 75.6h0M7.0 85.8h0M10.8 86.5h0M13.0 73.6h0M3.9 79.6h0M14.8 75.6h0M7.5 73.4h0M16.1 82.1h0M5.2 84.2h0M8.2 86.3h0M8.1 73.0h0M6.4 74.3h0M12.1 73.5h0M9.4 87.2h0M5.6 84.3h0M14.5 84.4h0M15.8 83.5h0M9.5 73.1h0M15.5 81.8h0M4.7 78.5h0M14.8 76.2h0M5.9 74.9h0M8.9 73.4h0M12.8 86.3h0M13.5 76.1h0M13.6 85.6h0M13.6 74.2h0M4.6 80.5h0M16.1 79.8h0M11.3 86.4h0M12.1 72.8h0M9.0 72.2h0M4.1 80.3h0M4.4 77.6h0M12.3 86.9h0M16.5 80.3h0M14.3 84.4h0M13.7 85.7h0M4.3 78.3h0M45.6 67.4h0M38.5 63.6h0M43.9 78.8h0M39.5 79.8h0M47.0 69.0h0M33.8 76.6h0M40.1 63.7h0M39.5 63.9h0M37.7 79.5h0M38.3 80.1h0M39.1 64.8h0M42.2 79.3h0M36.1 79.1h0M46.5 75.9h0M46.6 74.6h0M39.4 64.7h0M33.5 68.1h0M33.1 74.6h0M46.1 68.5h0M35.0 65.3h0M43.4 79.7h0M31.8 73.2h0M40.5 64.1h0M39.7 79.9h0M46.2 66.8h0M34.3 67.2h0M41.2 64.1h0M40.5 64.1h0M33.7 75.1h0M46.8 72.2h0M44.6 65.6h0M37.1 79.8h0M43.4 79.8h0M43.1 65.4h0M42.8 79.1h0M34.7 77.9h0M44.0 65.2h0M33.4 68.4h0M43.8 79.0h0M40.4 64.2h0M39.5 80.5h0M36.3 64.7h0M44.9 66.7h0M36.8 65.5h0M33.2 74.3h0M45.1 77.0h0M44.8 67.2h0M33.4 71.2h0M36.1 78.7h0M34.8 67.1h0M92.6 9.8h0M92.9 15.1h0M85.1 7.8h0M89.9 17.3h0M83.3 15.7h0M93.2 15.2h0M83.6 14.7h0M85.7 7.9h0M87.0 17.2h0M91.4 15.4h0M88.6 6.9h0M93.5 11.4h0M85.1 7.6h0M81.6 13.3h0M93.7 13.7h0M86.7 7.3h0M93.8 11.3h0M86.8 8.1h0M90.9 8.6h0M93.6 8.9h0M85.9 16.0h0M83.6 9.6h0M90.6 7.8h0M82.2 13.2h0M83.9 15.4h0M90.4 16.8h0M83.7 8.5h0M81.9 13.0h0M90.0 7.3h0M83.8 8.8h0M88.5 16.8h0M92.0 15.4h0M81.9 10.9h0M93.9 9.3h0M88.1 6.9h0M92.6 9.0h0M82.9 14.2h0M92.1 9.9h0M86.1 17.2h0M92.7 14.4h0M82.7 11.0h0M91.4 15.9h0M91.3 16.0h0M82.5 12.1h0M93.6 13.6h0M84.1 8.9h0M81.8 10.5h0M86.0 7.9h0M94.2 12.9h0M87.2 16.8h0M53.7 7.9h0M56.7 13.0h0M44.3 14.2h0M57.1 12.9h0M43.9 9.7h0M49.7 17.2h0M44.9 7.9h0M42.7 12.2h0M43.5 12.5h0M57.4 10.4h0M54.7 7.9h0M43.7 9.7h0M43.0 12.3h0M46.8 7.5h0M46.1 7.8h0M49.7 16.9h0M46.7 16.6h0M49.1 17.0h0M53.5 16.1h0M42.9 12.3h0M56.9 12.9h0M52.8 6.8h0M53.0 7.2h0M56.5 13.1h0M53.0 16.8h0M55.7 13.5h0M49.2 16.9h0M48.0 6.6h0M56.3 11.3h0M43.8 10.3h0M55.9 10.2h0M47.0 7.5h0M43.4 8.5h0M44.1 10.1h0M45.9 16.0h0M55.9 14.6h0M56.4 13.7h0M54.2 8.0h0M54.9 15.4h0M44.8 8.9h0M45.3 15.8h0M53.5 7.8h0M55.3 15.3h0M43.0 11.1h0M43.7 8.5h0M54.6 8.0h0M50.9 7.5h0M50.5 17.0h0M56.5 9.2h0M51.3 16.1h0M146.3 63.5h0M141.3 68.3h0M143.3 68.3h0M142.7 55.3h0M133.8 59.9h0M140.6 55.0h0M141.4 54.7h0M138.7 55.0h0M135.6 58.3h0M145.5 64.1h0M142.7 67.3h0M146.4 61.4h0M142.9 68.6h0M134.9 57.8h0M145.1 64.0h0M136.6 68.0h0M134.1 64.6h0M144.6 58.2h0M145.0 65.1h0M141.4 68.6h0M139.1 69.2h0M134.4 62.6h0M133.7 64.8h0M139.6 69.0h0M139.8 69.1h0M144.2 56.0h0M141.4 68.0h0M134.7 60.9h0M146.5 61.8h0M135.6 66.4h0M145.7 60.4h0M143.8 56.6h0M142.7 67.7h0M135.6 57.8h0M136.2 67.2h0M134.5 61.3h0M135.5 66.3h0M142.2 55.7h0M137.4 55.6h0M143.2 66.1h0M144.5 66.6h0M141.4 54.9h0M143.6 67.1h0M137.1 68.6h0M133.5 60.7h0M135.1 65.3h0M136.7 67.8h0M144.7 57.9h0M142.0 56.6h0M145.1 64.7h0M35.5 29.2h0M28.7 25.2h0M32.6 25.7h0M29.1 25.1h0M27.8 34.5h0M33.6 25.9h0M24.5 27.2h0M35.6 32.3h0M27.9 34.1h0M24.0 30.3h0M24.7 27.6h0M32.5 34.9h0M35.5 30.4h0M35.0 31.5h0M24.7 32.3h0M24.7 28.2h0M30.6 25.3h0M24.7 32.8h0M24.5 31.8h0M35.1 33.1h0M28.4 25.2h0M25.2 31.0h0M27.1 34.4h0M32.8 34.6h0M31.2 25.7h0M30.5 34.9h0M31.5 24.8h0M34.4 27.0h0M24.4 28.5h0M28.6 35.8h0M26.7 33.9h0M33.2 24.8h0M27.5 25.7h0M30.7 25.5h0M25.1 27.4h0M32.7 34.4h0M32.9 34.7h0M33.2 26.1h0M34.2 26.0h0M34.9 28.1h0M31.7 25.3h0M30.8 35.4h0M25.8 33.8h0M32.5 34.6h0M35.3 32.9h0M27.7 34.8h0M35.0 26.9h0M30.6 35.0h0M25.6 26.8h0M33.1 33.3h0M105.2 87.2h0M114.6 87.3h0M106.4 79.9h0M115.4 86.9h0M114.6 87.3h0M114.6 81.7h0M115.0 83.1h0M110.5 89.5h0M106.6 89.1h0M108.8 89.5h0M107.3 89.2h0M104.1 84.6h0M115.3 83.3h0M103.9 85.5h0M104.0 85.4h0M104.0 85.7h0M106.9 89.1h0M107.5 80.9h0M104.2 86.9h0M105.8 88.1h0M115.2 87.8h0M105.0 87.7h0M110.1 80.1h0M103.9 86.4h0M110.6 89.6h0M108.9 80.0h0M113.6 88.5h0M116.1 84.3h0M110.6 90.0h0M115.3 83.7h0M106.4 88.4h0M116.6 85.1h0M107.3 90.0h0M113.0 88.7h0M104.5 87.4h0M104.6 86.6h0M104.8 83.1h0M114.4 81.7h0M116.0 83.0h0M107.4 90.1h0M114.0 89.3h0M116.2 84.6h0M106.3 81.4h0M115.4 83.8h0M114.0 81.1h0M110.0 90.3h0M106.3 81.1h0M106.5 81.0h0M114.7 82.2h0M104.7 81.9h0M147.9 89.3h0M148.1 80.3h0M147.6 80.3h0M154.2 82.4h0M146.2 87.8h0M154.4 82.6h0M154.5 84.9h0M151.3 79.9h0M154.8 86.3h0M154.4 83.8h0M154.2 85.6h0M154.1 81.8h0M151.8 80.3h0M152.9 89.4h0M145.1 87.5h0M150.9 79.9h0M152.0 89.9h0M154.1 82.3h0M154.9 85.9h0M154.5 82.8h0M148.6 80.6h0M154.4 87.6h0M155.1 84.2h0M153.9 88.6h0M155.2 83.5h0M145.1 86.6h0M152.9 81.5h0M145.6 87.2h0M152.3 80.2h0M154.9 87.1h0M154.9 83.6h0M146.5 89.1h0M152.1 80.6h0M151.8 80.6h0M145.2 85.7h0M149.2 79.9h0M151.0 79.6h0M153.4 80.7h0M155.2 85.8h0M147.4 90.1h0M147.5 81.2h0M146.6 81.2h0M150.0 90.1h0M152.6 89.9h0M154.8 85.7h0M151.8 80.2h0M153.3 88.5h0M152.4 88.4h0M150.6 90.3h0M148.5 90.0h0M146.1 97.1h0M99.1 93.5h0M21.2 95.0h0M40.3 8.6h0M141.6 98.0h0M98.4 35.0h0M87.0 29.7h0M84.0 35.6h0M23.9 92.6h0M10.4 22.7h0M149.9 100.2h0M164.2 65.7h0M54.0 39.2h0M4.2 12.6h0M133.7 70.7h0M158.6 87.3h0M72.1 98.5h0M79.8 24.6h0M0.5 15.9h0M68.6 63.9h0M132.0 99.8h0M131.1 54.8h0M12.1 96.1h0M20.7 64.3h0M33.4 64.3h0M41.9 67.9h0M26.8 69.0h0M7.2 29.2h0M42.8 55.7h0M4.0 88.4h0M27.0 8.4h0M40.0 44.3h0M51.7 43.8h0M141.0 67.0h0M131.8 70.6h0M54.5 31.9h0M76.1 19.1h0M157.8 63.2h0M21.3 34.4h0M67.8 51.4h0M110.6 68.4h0M61.3 52.5h0M36.6 10.4h0M74.8 98.2h0M18.5 0.9h0M29.4 16.9h0M41.0 12.8h0M140.6 84.9h0M44.4 23.1h0M98.1 82.5h0M60.9 101.0h0M90.3 13.5h0M58.2 58.9h0M84.0 33.7h0M101.7 28.6h0M126.3 54.5h0M139.4 93.8h0M45.0 70.2h0M133.8 76.2h0M100.1 51.5h0M138.7 98.9h0M142.4 62.6h0M118.8 50.4h0M90.2 99.1h0M38.5 31.0h0M91.3 37.3h0M85.7 7.7h0M59.0 0.9h0M37.6 35.8h0M145.9 52.8h0M39.4 6.2h0M135.4 94.4h0M20.1 23.3h0M45.5 29.8h0M13.4 57.8h0M79.3 62.8h0M85.9 14.6h0M90.5 92.6h0M94.7 34.3h0" stroke="#b01828" stroke-width="0.7" stroke-linecap="round" fill="none"/>
<path d="M136.6 45.0l0.4 0.1M46.7 23.9l0.5 0.2M32.9 28.3l0.2 0.3M149.4 81.1l0.2 0.0M3.3 44.0l-0.4 0.0M19.3 8.5l-0.3 0.9M7.6 84.9l-0.1 0.1M89.4 8.3l-0.4 0.1M58.8 23.6l0.1 0.0M124.0 48.0l0.1 0.1M95.3 43.7l1.2 0.5M143.8 63.4l0.9 0.8M89.6 98.2l1.2 0.7M37.4 29.4l-0.8 0.3M83.4 70.6l-0.6 0.2M23.2 99.7l0.3 0.2M41.8 96.0l1.0 0.5M12.3 40.4l0.5 0.1M20.0 54.8l-0.7 0.1M33.6 75.5l0.1 1.3M22.2 91.4l0.1 0.0M105.1 92.2l0.6 0.9M41.9 29.1l0.5 0.5M78.4 46.5l0.0 0.1M127.8 99.3l-0.3 1.0M95.4 79.1l-0.2 0.7M63.2 97.2l-0.3 0.2M42.8 21.5l-0.0 0.2M75.4 46.6l0.1 1.4M57.9 40.6l-0.7 0.1M104.5 84.4l-0.2 0.8M41.8 65.9l0.6 0.7M13.8 85.2l0.5 0.9M161.7 80.0l1.0 0.0M78.1 35.1l0.3 1.2M40.0 76.0l-0.0 0.2M73.8 72.5l-0.5 1.1M57.8 81.8l-0.2 0.6M33.9 26.5l0.6 0.3M48.4 71.9l-0.2 0.1M56.2 0.8l-0.3 0.2M91.3 31.2l-0.0 0.4M138.3 94.0l-0.6 0.3M46.8 43.2l1.2 0.6M6.7 0.2l0.7 0.9M156.8 75.4l-0.6 0.2M67.0 44.8l0.8 0.3M33.1 10.0l0.0 0.0M105.5 89.2l-1.0 0.8M25.6 68.0l-0.5 0.7M53.9 9.1l0.2 0.1M149.1 94.3l-0.9 0.7M22.8 79.7l-0.4 0.1M69.2 77.1l-0.2 0.3M15.5 77.9l-0.5 0.1M89.6 35.2l0.0 0.2M112.8 73.9l0.4 0.7M78.1 33.2l0.0 0.2M10.5 31.1l-0.5 0.1M18.4 39.9l-0.1 0.0M28.2 38.5l-0.7 1.1M78.2 5.7l0.4 0.1M92.2 3.8l0.3 1.0M86.9 49.5l0.0 0.0M10.4 96.4l-0.3 0.0M27.4 38.7l-0.2 0.7M136.8 60.2l-0.0 0.0M37.1 9.7l-0.1 0.3M160.0 61.1l0.7 0.8M5.5 70.8l-0.1 0.3M22.9 26.4l-1.0 0.7M60.3 87.8l-0.8 0.1M47.4 54.4l-0.3 0.3M93.3 25.7l0.3 1.1M89.5 56.6l-0.0 0.0M99.4 40.7l-0.7 0.7M82.5 82.9l-0.7 0.2M142.8 78.2l-0.4 0.5M119.6 74.3l0.2 1.0M90.5 1.4l0.8 0.3M48.8 42.7l0.5 0.2M13.5 97.7l0.1 0.1M2.8 1.2l0.3 0.1M10.5 45.0l-0.0 0.0M89.9 85.2l-0.3 0.8M2.8 96.0l-0.9 1.0M72.7 68.2l-0.0 0.0M64.7 75.5l0.4 1.0M55.1 82.9l0.2 0.2M71.7 8.6l0.3 0.0M92.5 74.9l0.8 0.4M34.6 2.9l0.5 0.5M150.1 54.2l0.1 0.0M14.1 72.6l-0.9 0.6M50.7 25.4l-0.4 0.8M69.4 6.8l0.2 0.3M27.2 73.4l0.2 0.1M62.9 92.5l-0.0 0.5M51.7 67.1l-0.1 0.0M156.0 79.2l0.0 0.2M164.5 67.6l0.0 0.3M94.8 58.6l-0.9 0.7M53.3 13.3l1.2 0.6M127.2 90.4l0.0 1.3M28.9 82.7l-0.3 1.0M109.6 100.7l0.5 0.5M3.6 60.1l1.0 0.8M93.7 9.2l-0.4 0.2M19.7 0.4l-0.4 0.9M82.2 67.8l0.4 0.5M4.1 60.7l-0.9 0.3M53.4 14.1l0.4 0.8M30.1 74.8l0.5 0.0M6.8 5.6l0.2 0.8M60.8 56.1l0.2 0.3M78.6 31.7l-0.8 0.2M106.8 62.6l-0.3 1.2M42.4 80.5l-0.0 0.9M71.2 76.4l0.1 0.3M14.1 80.0l-0.4 0.3M15.2 82.8l-0.7 0.1M11.9 12.2l-0.0 0.1M25.0 42.4l-0.2 0.2M18.9 60.9l0.4 1.2M20.3 95.3l1.2 0.3M37.0 49.5l-0.3 0.4M152.9 82.4l1.2 0.5M24.0 92.0l-0.7 0.9M72.2 21.2l0.8 1.1M72.9 90.1l0.5 1.1M141.1 98.3l-0.4 0.6M36.4 31.8l-0.0 0.1M131.3 54.0l-0.2 0.2M88.4 44.2l1.0 0.3M79.3 83.5l0.2 0.1M98.9 41.2l-0.7 0.5M44.2 60.9l1.3 0.1M23.4 40.2l-1.2 0.6M6.7 66.4l-0.2 0.3M128.0 48.2l1.0 0.9M17.6 9.0l-0.0 0.0M74.5 16.1l0.3 1.2M72.2 61.4l-0.5 0.2M110.7 62.2l-0.4 0.0M77.1 60.8l0.0 0.1M160.2 92.2l-1.1 0.7M115.7 78.0l-1.0 0.4M90.9 62.8l-0.1 0.1M95.8 59.4l0.8 0.0M93.7 44.8l-0.7 0.5M110.8 70.7l-0.1 0.2M75.2 49.9l-0.5 0.6M95.9 52.8l-0.2 0.0M90.5 58.2l-0.4 1.2M84.9 69.2l0.6 1.2M90.3 52.3l-0.1 0.7M85.2 47.7l1.0 0.1M97.5 72.7l0.8 1.0M93.1 58.0l0.5 0.3M96.4 56.2l-0.7 0.1M86.0 46.7l0.1 0.4M83.1 60.3l1.3 0.2M88.3 50.8l0.3 0.6M86.7 63.9l1.0 0.4M95.4 60.6l-0.1 0.1M80.7 64.7l0.1 0.3M89.8 57.0l-0.3 1.0M85.2 38.2l0.1 1.0M111.9 75.0l-0.3 1.2M81.7 55.1l1.0 0.2M88.9 56.8l0.0 0.0M86.8 38.3l-0.2 0.2M89.5 78.0l-1.2 0.4M86.1 67.7l-0.5 0.4M93.1 75.1l-0.4 0.3M116.5 65.3l-0.2 1.1M98.8 69.5l0.0 0.1M97.8 53.4l0.7 0.1M98.8 53.2l0.5 0.4M90.4 53.5l-0.3 0.9M89.8 76.5l-0.1 0.3M80.8 51.9l-0.5 0.6M84.8 59.8l-0.0 0.2M99.0 47.2l-0.2 0.6M91.7 63.3l-0.1 0.1M80.4 50.7l1.1 0.2M87.1 59.7l0.4 0.6M121.9 65.8l-0.6 0.3M96.3 71.9l1.2 0.2M94.7 50.6l-1.0 0.1M77.8 38.0l0.0 1.1M99.8 69.8l-0.5 0.2M65.0 67.9l-0.1 1.2M88.4 59.8l0.5 0.3M82.2 55.3l-1.0 0.9M100.9 70.3l1.0 0.4M68.9 78.2l0.1 0.7M106.2 62.7l-1.1 0.2M99.1 51.0l-0.2 0.1M79.6 59.9l-1.1 0.3M91.3 52.5l-0.2 0.2M88.9 52.1l0.1 0.7M96.7 57.8l-1.2 0.7M92.3 55.0l0.1 0.3M81.6 57.9l-0.0 1.3M85.3 52.0l1.2 0.6M78.4 69.6l-0.2 0.9M59.7 65.3l0.5 0.3M80.9 65.8l0.4 0.3M93.3 56.9l1.3 0.2M77.3 66.6l0.8 0.3M99.7 49.3l0.5 0.5M86.6 46.2l0.2 1.1M79.8 64.0l-1.0 0.0M77.0 58.1l-0.5 1.1M86.2 42.7l-0.2 0.8M75.3 67.5l0.3 0.8M91.7 55.5l0.0 1.2M72.9 65.8l-0.3 0.2M85.0 60.3l-0.1 0.1M91.1 56.3l0.0 0.0M89.0 64.9l-0.3 0.8M88.6 64.1l-0.4 0.7M88.4 56.8l-0.5 0.3M96.7 80.4l0.7 1.1M81.2 66.6l1.0 0.7M81.1 67.1l-0.2 1.2M95.5 55.5l-0.3 0.5M97.0 59.1l0.0 0.2M76.0 67.4l-1.3 0.1M100.9 69.5l1.0 0.5M94.3 79.7l0.1 0.1M104.6 76.2l-0.2 0.0M90.1 61.1l-0.9 0.2M92.3 64.3l0.2 0.2M99.1 56.9l-0.0 0.1M84.5 63.7l1.1 0.1M92.1 48.0l-0.5 0.9M79.9 67.6l-0.0 0.0M91.8 61.1l-1.0 0.4M77.0 52.6l0.6 0.6M96.6 53.2l-0.3 0.1M106.8 68.5l-0.2 1.4M84.1 54.9l0.1 0.7M89.4 77.0l-0.0 1.1M77.6 65.4l-0.8 0.7M74.6 65.6l-0.1 0.4M87.6 55.9l-0.8 0.1M94.3 49.3l-0.3 0.0M80.3 56.0l-0.9 0.1M90.3 52.3l-0.7 0.5M100.5 70.4l-0.9 0.5M94.0 79.4l0.2 0.3M85.5 65.7l0.3 0.6M98.9 56.7l0.1 0.5M85.9 64.4l-0.8 1.1M93.9 56.0l0.9 0.5M77.3 66.3l0.7 0.0M77.0 40.9l0.3 0.8M84.4 39.7l-0.6 0.2M90.7 61.1l-0.1 0.2M71.0 49.5l0.0 0.1M88.6 62.2l-0.4 0.8M102.1 71.2l-0.4 0.8M90.2 64.5l-0.4 0.2M87.1 81.8l-0.4 0.4M90.0 48.3l-0.5 0.8M89.4 60.1l-0.4 0.1M57.6 70.6l0.1 0.0M101.2 44.0l0.2 0.0M85.6 59.6l0.7 0.5M90.3 55.6l-1.1 0.5M80.9 63.7l0.1 1.2M79.3 71.4l-0.1 0.0M112.8 77.4l0.8 0.7M84.2 60.6l0.9 0.1M89.4 58.4l0.9 0.8M85.8 42.0l1.0 0.8M65.9 49.1l0.3 0.7M76.8 51.8l0.2 0.0M107.8 83.2l-0.3 0.6M89.1 45.8l-0.4 0.3M74.4 76.1l0.4 0.9M100.1 72.2l-1.0 0.4M85.2 67.8l1.1 0.1M94.4 51.6l0.2 0.0M83.5 57.4l0.0 0.0M90.2 60.0l0.5 0.1M64.3 75.5l-0.6 1.0M88.9 41.6l-0.1 0.1M101.1 68.7l-0.2 0.1M73.9 77.8l-0.6 0.3M111.0 64.5l0.1 0.1M85.0 54.6l1.1 0.0M92.5 65.9l-0.9 0.2M77.0 62.6l-0.2 0.7M78.3 65.0l0.7 0.4M61.0 77.2l0.0 0.5M57.2 69.5l0.1 0.0M58.0 80.9l-0.6 0.2M77.6 73.2l-0.4 0.6M60.6 70.3l-0.0 0.9M60.4 86.8l-0.6 0.6M37.1 77.5l1.1 0.6M70.5 79.8l-0.1 1.0M54.8 61.8l0.6 0.2M70.5 78.6l-0.5 0.6M55.6 84.4l-0.1 0.0M68.5 63.9l-0.0 0.5M66.5 70.4l-0.7 0.1M58.8 67.0l-1.3 0.2M66.4 75.6l-0.4 0.3M54.4 77.2l-0.2 0.4M70.6 66.4l0.8 0.5M59.5 68.8l0.5 1.0M62.8 80.4l0.1 0.0M34.8 91.5l0.7 0.0M47.1 91.0l-0.5 0.6M61.7 72.7l0.0 0.1M59.9 70.1l-0.1 0.3M55.3 80.4l-0.7 0.0M49.2 89.4l1.0 0.5M56.4 84.2l-0.7 0.5M63.8 83.1l-0.5 0.5M60.6 72.1l-0.3 0.2M59.3 74.1l0.8 0.9M81.3 90.1l0.2 0.2M55.9 73.7l0.1 0.3M63.9 68.6l0.2 0.2M59.6 78.5l-0.0 0.0M59.0 87.2l-1.2 0.1M61.3 100.6l1.1 0.6M61.1 74.5l-0.1 0.0M60.0 72.9l-0.3 0.1M62.9 86.4l-1.0 0.3M55.2 74.5l-0.7 0.3M58.8 76.2l1.3 0.6M72.2 98.5l0.8 0.9M58.8 77.9l0.5 0.2M42.1 81.7l-0.1 0.4M63.2 70.2l0.9 0.8M42.6 81.6l0.8 0.1M59.7 83.2l-0.3 0.9M50.6 91.1l0.6 1.1M60.4 70.1l-0.2 0.1M67.9 84.9l-0.1 0.0M52.4 84.4l-0.6 1.0M42.6 90.9l0.1 0.0M38.4 70.7l0.5 1.3M37.3 81.2l-0.0 0.3M62.9 76.9l0.0 1.1M47.0 77.7l-0.4 0.5M71.3 78.0l-1.1 0.4M46.8 83.3l-0.4 0.9M71.7 69.2l0.9 0.1M49.4 81.3l0.3 0.8M50.1 63.8l-0.0 0.9M50.1 84.8l-0.6 0.2M44.2 71.9l-0.5 0.0M55.4 76.7l0.1 0.3M53.8 73.1l-1.1 0.5M60.2 88.9l0.7 0.2M49.7 59.4l-0.1 0.4M74.3 91.5l0.2 0.3M57.1 53.0l-0.3 0.5M58.1 86.9l1.2 0.4M46.3 70.2l0.9 0.3M57.3 74.4l-1.4 0.3M67.3 67.3l1.1 0.0M49.7 85.3l-1.2 0.5M41.9 89.3l-0.9 0.1M60.9 71.9l-1.0 0.0M68.1 72.4l0.1 0.0M61.4 79.3l0.3 0.1M137.4 59.3l-0.3 0.7M149.0 70.5l0.5 0.7M147.8 63.8l0.4 1.0M140.5 68.5l0.2 0.7M129.4 61.7l-0.0 0.0M129.9 55.6l-0.0 0.0M134.4 66.8l-1.3 0.3M135.4 56.6l0.3 0.1M123.1 58.6l0.6 0.5M119.5 78.7l-0.2 0.0M134.1 53.2l-0.2 0.1M125.2 56.9l0.2 1.3M138.9 66.3l0.2 0.4M144.4 59.3l1.0 0.6M126.5 48.3l-0.1 0.4M131.2 59.4l-0.1 0.2M145.8 53.6l-1.1 0.6M144.5 71.8l-0.1 0.5M130.6 52.7l0.2 0.1M132.8 57.3l-1.3 0.3M141.7 74.0l0.7 0.6M110.8 70.2l-0.2 0.4M137.4 56.5l-0.9 0.1M123.2 61.6l-0.8 1.0M139.1 65.2l0.1 0.2M123.8 64.5l0.4 0.1M118.5 57.4l-0.1 1.2M150.8 59.0l0.1 1.4M148.9 77.0l0.1 0.3M155.4 51.5l-0.9 0.6M142.7 49.5l-1.1 0.2M144.5 67.8l0.0 0.7M138.4 57.1l0.2 0.9M135.2 53.1l-0.3 0.9M123.2 59.7l0.2 0.0M148.0 63.1l-0.3 0.9M142.2 62.3l-0.1 0.7M140.3 59.1l0.6 0.1M96.8 15.7l-0.5 0.0M98.5 11.2l0.5 0.0M94.1 13.5l-0.3 1.0M94.3 11.0l-0.0 0.1M94.8 15.9l0.4 0.1M92.5 5.3l-0.3 1.3M97.8 3.6l0.2 1.2M93.5 14.7l0.3 0.1M96.5 5.6l-0.6 0.7M97.2 7.2l0.3 0.2M90.6 5.3l0.2 0.0M96.4 12.3l-0.4 0.2M101.5 2.5l-0.1 1.3M94.7 0.8l0.3 0.2M94.9 7.8l-0.4 0.1M99.2 25.6l-0.3 0.5M98.9 0.8l-0.2 0.3M95.3 22.1l-0.1 0.1M94.7 25.3l0.2 0.4M95.7 5.4l-0.3 0.8M94.9 6.5l0.5 0.2M100.1 3.3l-0.2 1.3M100.4 5.6l-0.2 0.5M98.3 3.6l0.3 0.7M95.7 0.8l0.1 0.0M95.7 8.2l0.3 0.8M97.4 13.1l-0.1 0.2M103.1 14.8l-1.0 0.6M100.6 14.7l0.2 0.4M97.6 14.3l0.9 1.0M93.3 11.3l0.6 0.1M117.2 38.7l-0.8 0.4M133.6 50.0l-0.0 0.1M134.5 42.6l-1.0 0.8M148.8 45.8l0.6 0.4M122.3 43.1l1.1 0.3M141.2 39.4l-0.1 0.7M118.2 51.4l0.3 1.1M139.0 38.5l-0.9 0.6M127.7 40.7l-0.3 0.3M126.5 39.1l-0.2 0.2M141.9 48.6l1.3 0.1M123.5 49.3l-0.5 1.0M135.0 42.0l0.2 0.5M128.6 51.0l0.0 0.7M115.7 41.0l1.1 0.7M119.5 39.9l0.5 0.5M126.6 48.6l1.0 0.4M122.9 48.1l1.0 0.0" stroke="#8c8800" stroke-width="1.6" stroke-linecap="round" fill="none"/>
<path d="M136.8 45.0h0M149.5 81.1h0M7.5 84.9h0M124.0 48.1h0M90.2 98.6h0M23.3 99.8h0M19.6 54.8h0M105.3 92.7h0M127.6 99.8h0M42.8 21.6h0M104.4 84.8h0M162.1 80.0h0M73.5 73.1h0M48.3 71.9h0M138.0 94.1h0M156.4 75.5h0M105.0 89.6h0M148.7 94.6h0M15.3 78.0h0M78.1 33.3h0M27.8 39.0h0M86.9 49.5h0M136.8 60.2h0M5.5 70.9h0M47.2 54.5h0M99.0 41.1h0M119.7 74.8h0M49.1 42.8h0M10.5 45.0h0M72.7 68.2h0M71.8 8.6h0M150.1 54.2h0M69.5 6.9h0M51.7 67.1h0M94.3 58.9h0M28.7 83.2h0M4.1 60.5h0M82.4 68.0h0M30.3 74.8h0M78.2 31.8h0M71.3 76.6h0M11.9 12.3h0M20.9 95.5h0M23.6 92.5h0M140.9 98.6h0M88.9 44.3h0M44.9 60.9h0M128.5 48.7h0M71.9 61.5h0M90.9 62.8h0M110.7 70.9h0M90.3 58.8h0M85.7 47.7h0M96.1 56.3h0M88.4 51.1h0M80.8 64.8h0M111.8 75.6h0M86.7 38.4h0M92.9 75.2h0M98.1 53.5h0M89.7 76.7h0M98.9 47.4h0M87.3 60.0h0M94.2 50.6h0M64.9 68.5h0M101.4 70.5h0M99.0 51.0h0M88.9 52.5h0M81.6 58.5h0M59.9 65.5h0M77.7 66.8h0M79.3 64.0h0M75.4 67.9h0M85.0 60.4h0M88.4 64.4h0M81.7 66.9h0M97.1 59.2h0M94.4 79.8h0M92.4 64.4h0M91.9 48.5h0M77.3 52.9h0M84.2 55.3h0M74.6 65.8h0M79.8 56.1h0M94.1 79.5h0M85.5 65.0h0M77.2 41.4h0M71.0 49.5h0M90.0 64.6h0M89.2 60.1h0M85.9 59.9h0M79.3 71.4h0M89.9 58.8h0M76.9 51.8h0M74.6 76.5h0M94.5 51.6h0M64.0 76.1h0M73.6 77.9h0M92.0 66.0h0M61.1 77.5h0M77.4 73.4h0M37.7 77.9h0M70.3 78.9h0M66.2 70.4h0M54.3 77.4h0M62.9 80.4h0M61.7 72.7h0M49.7 89.6h0M60.4 72.2h0M55.9 73.9h0M58.4 87.2h0M59.9 73.0h0M59.5 76.4h0M42.0 81.9h0M59.5 83.6h0M67.9 84.9h0M38.6 71.3h0M46.8 77.9h0M72.1 69.2h0M49.8 84.9h0M53.2 73.4h0M74.4 91.7h0M46.7 70.4h0M49.1 85.6h0M68.2 72.4h0M149.2 70.8h0M129.3 61.7h0M135.6 56.6h0M133.9 53.2h0M144.9 59.6h0M145.3 53.9h0M132.1 57.5h0M136.9 56.6h0M124.0 64.5h0M148.9 77.2h0M144.6 68.2h0M123.3 59.7h0M140.5 59.1h0M93.9 14.0h0M92.3 6.0h0M96.2 6.0h0M96.2 12.4h0M94.8 7.9h0M95.2 22.2h0M95.6 5.8h0M98.4 4.0h0M97.4 13.2h0M100.7 14.9h0M98.0 14.8h0M133.6 50.0h0M122.9 43.3h0M138.6 38.7h0M142.5 48.6h0M128.6 51.3h0M127.1 48.8h0" stroke="#d0c820" stroke-width="1.2" stroke-linecap="round" fill="none"/>
<path d="M100.4 54.1l-0.6 0.0M106.2 90.4l-0.6 0.2M18.5 32.9l-0.5 0.3M38.5 6.9l0.0 0.0M32.9 91.9l0.6 0.4M151.3 95.4l-0.2 0.2M76.8 22.0l-0.7 0.1M128.3 57.2l-0.1 0.3M53.9 48.3l0.2 0.2M19.3 63.1l-0.1 0.3M32.8 48.1l0.2 0.1M67.5 19.7l-0.0 0.6M73.4 12.4l0.3 0.2M67.3 24.0l-1.2 0.0M37.1 76.7l0.7 0.8M48.9 52.1l-0.8 0.5M13.1 51.8l-0.1 0.0M16.4 37.3l-0.7 0.4M84.1 24.2l-0.8 0.6M142.6 98.8l0.2 0.1M75.8 63.9l-0.6 0.8M49.8 34.7l-1.0 0.4M34.8 24.1l-0.3 0.2M59.5 51.9l-0.1 0.1M65.5 58.6l0.6 0.5M65.6 48.9l-0.3 1.0M4.9 21.8l-0.3 0.7M47.6 34.2l0.7 0.7M61.0 53.3l0.4 0.2M44.9 63.6l0.0 0.2M48.4 74.0l-0.9 0.3M127.5 89.3l0.1 0.2M151.7 72.1l-0.0 0.0M96.2 46.7l0.2 0.0M72.2 43.2l0.1 0.4M63.2 11.3l0.2 1.0M72.2 24.4l-0.4 0.2M84.9 9.3l-1.1 0.3M4.2 5.3l-0.4 0.8M106.0 84.7l-0.4 0.1M91.4 95.2l0.0 0.0M136.4 72.8l0.4 0.7M104.3 84.7l-0.8 0.3M107.9 70.5l-1.0 0.1M80.5 43.9l0.7 0.7M100.3 13.5l1.0 0.3M74.3 76.1l0.1 0.2M139.9 97.8l-0.2 1.1M94.0 11.0l1.2 0.1M7.5 90.4l-0.1 0.3M68.7 74.7l-0.2 0.1M26.6 99.1l-0.4 0.7M100.5 23.1l-0.1 0.3M78.2 30.6l-1.0 0.0M30.6 56.3l1.1 0.4M11.4 74.5l1.0 0.1M147.2 76.7l-1.2 0.2M6.6 63.1l-1.0 0.7M30.8 69.0l0.7 0.2M159.9 59.4l-0.4 0.1M147.0 68.2l-0.9 0.5M19.8 88.2l0.3 0.1M100.6 93.0l-0.4 0.9M48.1 53.6l-0.1 1.1M50.0 17.8l1.0 0.4M1.2 77.4l-1.0 0.5M50.3 95.7l0.1 0.1M102.1 37.4l-1.0 0.1M9.7 100.7l0.4 0.1M165.3 82.7l-0.7 0.9M100.0 75.7l-0.1 0.3M24.9 29.8l-0.0 0.1M41.0 15.8l-0.0 0.0M10.9 100.5l-0.5 0.0M84.9 63.7l0.0 0.1M17.8 53.5l-1.0 0.2M59.4 54.4l-0.3 1.1M33.0 87.2l0.7 0.1M116.9 68.7l-0.1 0.3M3.6 47.7l-0.5 0.4M22.4 74.2l-0.3 0.1M58.6 68.4l0.7 0.9M13.6 26.7l-0.4 0.6M9.9 92.5l0.5 0.6M102.7 37.3l0.0 0.3M12.2 89.3l-0.9 0.5M33.3 22.0l-0.4 0.6M73.7 74.5l-0.9 0.5M94.5 86.7l0.3 0.6M160.1 61.4l-0.2 0.1M100.1 50.2l1.0 0.6M100.1 75.1l0.2 0.0M131.3 84.7l-1.0 0.5M87.6 66.9l0.4 0.8M64.3 29.2l-0.1 0.7M37.4 8.5l0.5 0.2M65.0 95.6l0.8 0.6M95.5 20.8l0.3 0.4M50.2 90.2l0.0 0.3M96.1 98.9l-0.3 0.3M2.7 32.9l-0.2 0.3M23.3 58.5l-0.8 0.8M30.9 24.2l-0.4 0.3M63.2 35.1l-0.1 0.4M85.1 30.0l0.1 1.1M55.5 26.6l-0.8 0.8M111.1 99.4l0.6 0.2M27.4 49.6l-0.4 0.5M74.1 15.6l-0.3 0.1M47.8 11.1l0.2 1.0M65.2 43.3l0.5 0.0M16.4 26.0l0.3 0.8M95.9 52.7l0.3 0.9M72.6 65.1l-0.9 0.3M78.8 42.7l-0.6 0.5M93.5 35.7l0.0 0.8M8.2 35.5l1.0 0.1M22.7 54.7l-0.1 0.0M18.5 58.6l-0.2 0.3M90.8 56.6l-0.0 0.0M72.6 70.6l-0.5 0.0M9.5 75.4l0.7 0.7M93.4 44.0l0.1 0.4M3.0 15.7l0.6 0.7M68.0 87.8l-0.2 0.9M14.0 63.7l-0.4 0.9M53.3 34.6l-1.0 0.5M41.9 51.9l-0.0 0.0M87.2 22.0l0.3 0.8M30.5 97.9l0.1 0.0M78.9 72.9l0.0 0.0M71.0 57.0l0.8 0.1M83.6 100.7l0.2 0.5M68.1 96.9l-0.4 0.0M4.6 1.1l0.2 0.3M75.4 94.6l0.2 0.2M25.0 8.7l-0.3 0.7M161.7 83.9l-0.3 0.2M34.9 18.1l-0.3 0.3M84.3 49.9l-0.6 1.0M34.8 44.4l-0.3 0.1M38.3 89.4l-0.0 0.0M59.0 83.7l0.1 0.5M81.6 43.2l-0.3 0.7M53.7 88.8l-0.1 0.7M93.5 60.5l0.6 0.4M65.3 2.6l-0.0 0.1M14.3 72.5l0.5 0.4M91.6 43.4l0.9 0.1M83.1 55.3l-0.2 0.4M24.2 79.9l0.7 0.5M24.2 92.9l-1.0 0.4M28.1 26.0l-0.4 0.5M57.7 70.3l0.9 0.3M18.1 27.2l-0.3 0.1M74.4 32.7l-0.1 0.4M30.9 35.2l0.4 0.9M72.8 12.7l0.2 0.2M62.1 35.8l0.3 0.1M32.8 82.1l-1.1 0.2M30.0 87.0l0.0 0.9M59.7 100.4l0.0 0.3M117.6 85.3l0.5 0.9M125.7 60.2l0.2 0.7M57.9 88.6l0.8 0.3M71.4 91.6l-0.9 0.4M83.8 35.8l0.5 0.9M100.2 35.9l0.0 0.7M28.3 35.0l-0.0 0.2M93.6 59.4l-0.8 0.8M102.6 71.1l1.1 0.1M34.2 75.8l0.5 0.1M11.7 19.4l0.4 0.3M64.0 13.7l-0.8 0.1M91.7 37.7l0.1 0.0M83.8 21.4l0.5 0.4M20.7 50.4l0.0 0.4M62.8 1.0l0.2 0.0M25.9 6.1l0.3 0.3M74.7 38.1l0.3 0.3M5.3 69.4l0.7 0.5M119.9 96.4l-0.6 0.4M23.4 23.4l-0.5 0.0M20.7 29.3l0.5 0.7M70.1 79.7l0.6 0.2M85.0 54.0l-0.1 0.7M45.7 80.7l-0.1 0.3M7.3 36.6l0.0 1.0M7.7 56.5l0.3 0.4M158.1 68.2l0.1 0.1M40.9 95.6l-0.1 0.6M47.6 1.7l0.1 0.6M119.9 84.0l-0.1 0.1M63.3 64.7l0.5 0.7M157.1 67.5l-0.0 0.0M98.0 54.0l-0.0 0.0M17.6 68.4l0.3 1.1" stroke="#4890d8" stroke-width="1.5" stroke-linecap="round" fill="none"/>
<path d="M98.7 18.5l-0.4 0.5M141.9 66.6l0.1 0.9M52.0 88.2l-0.1 0.5M20.2 47.2l-0.5 0.3M131.1 45.3l-0.5 0.3M83.5 62.3l0.1 0.1M108.2 76.0l-1.0 0.3M44.5 83.5l-0.1 0.1M143.9 66.5l0.4 0.3M131.4 97.9l-0.1 0.4M8.0 71.8l-0.0 1.1M1.1 34.5l0.7 0.1M97.0 46.8l0.0 0.1M96.4 84.2l-1.1 0.3M62.4 99.0l-1.1 0.3M35.3 4.4l-0.3 0.3M88.1 62.1l-0.7 0.8M52.6 19.5l-0.2 0.5M62.2 52.3l-0.1 0.3M95.7 60.5l0.3 0.2M13.9 27.4l0.1 0.1M3.4 86.1l0.0 0.6M39.5 4.8l0.7 0.6M33.0 73.7l0.5 0.0M108.3 67.0l-0.5 0.0M47.8 44.2l0.0 0.1M50.8 64.5l-0.0 0.1M12.8 61.3l-0.6 0.3M76.5 47.1l-0.2 0.4M154.8 97.1l0.1 0.0M8.4 6.0l-0.3 0.7M63.1 97.6l0.1 0.1M111.0 71.6l-0.0 0.0M100.6 54.2l-0.6 0.4M98.2 17.5l0.9 0.8M30.9 21.4l-0.2 0.6M79.7 33.2l-0.1 1.0M133.9 92.0l1.0 0.2M90.3 28.1l-0.1 0.0M92.6 94.6l0.1 0.3M109.9 59.0l-0.4 1.0M27.8 17.5l0.3 0.8M163.6 98.6l0.1 1.1M145.8 50.0l-0.3 0.3M96.3 58.7l0.1 0.0M89.1 88.6l0.1 0.9M46.8 66.9l1.0 0.3M51.4 35.6l-0.2 0.1M19.8 19.6l-0.0 0.0M102.2 87.0l0.0 0.0M80.3 96.1l-0.2 0.2M111.4 79.8l0.5 0.7M43.4 17.5l1.1 0.1M50.1 57.5l0.4 0.1M74.0 31.8l0.6 0.8M41.3 2.4l0.0 0.0M36.2 81.7l0.3 0.3M89.0 54.5l0.0 0.7M160.6 53.6l0.6 0.1M36.7 89.6l0.9 0.6M6.4 85.2l-1.0 0.7M59.5 82.6l0.4 0.6M32.2 11.3l0.0 0.1M37.4 23.7l-0.3 0.3M10.4 58.5l0.2 0.2M26.9 19.6l0.0 0.1M70.9 12.3l0.1 0.1M86.6 5.8l-0.3 1.1M30.9 7.8l-0.6 0.3M134.5 89.2l0.8 0.9M4.0 67.4l-0.4 0.4M105.9 85.7l1.1 0.3M109.6 60.9l-0.8 0.6M57.6 30.9l-0.4 0.4M79.2 27.5l0.0 0.1M8.7 3.8l0.6 0.4M71.6 57.2l0.4 0.9M36.7 19.5l0.0 0.2M22.9 64.0l-0.2 0.5M41.1 76.6l-0.0 0.1M59.1 93.2l0.5 0.9M121.2 77.7l0.5 0.3M50.4 23.8l0.2 0.0M42.9 20.3l0.0 0.1M1.9 36.7l-0.3 0.2M56.2 10.9l0.1 1.1M158.8 77.4l-0.0 1.0M33.1 37.0l0.0 0.0M67.5 7.0l-0.2 0.4M88.6 46.5l0.4 0.9M17.9 1.6l-0.2 0.4M52.3 70.0l0.2 0.3M60.0 31.3l-0.8 0.2M21.7 10.4l-0.1 0.8M91.6 50.7l-0.0 1.0M92.6 99.3l0.4 0.4M57.9 59.5l-0.1 1.1M84.6 47.5l0.9 0.2M63.4 13.0l-0.1 0.1M28.8 35.6l0.4 0.3M34.7 49.3l0.3 0.9M67.3 63.2l0.1 0.2M22.6 80.1l-0.1 0.2M53.7 71.0l0.2 1.0M85.4 69.8l0.5 0.2M159.3 96.8l0.7 0.5M108.0 85.8l0.5 1.0M37.5 75.9l-0.0 0.1M59.0 87.1l-0.0 0.1M25.8 11.5l-0.1 0.3M66.4 38.1l-1.0 0.3M66.3 96.8l0.7 0.9M13.9 84.2l-0.0 0.8M14.4 7.4l0.6 0.3M23.4 8.4l-1.1 0.0M67.5 12.7l0.3 0.3M134.2 93.0l-0.4 0.1M122.3 98.2l-0.7 0.5M114.1 53.1l-0.1 0.8M57.0 87.2l0.1 0.0M11.7 41.7l0.4 0.2M37.5 17.4l-0.4 0.5M149.1 80.2l0.4 0.5M100.8 80.3l-0.2 0.6M90.9 95.6l-0.3 0.3M1.6 29.0l-0.4 1.1M5.1 8.6l-0.1 0.1M9.7 26.8l-0.4 0.2M6.0 54.4l0.3 0.9M79.9 40.2l0.2 0.5M38.5 3.1l0.4 0.1M29.9 32.3l-0.6 0.7M25.6 94.1l-0.9 0.7M90.2 46.0l-0.6 0.6M142.7 51.9l-0.1 0.0M136.6 88.3l-0.2 0.4M130.9 51.5l0.1 0.1M37.5 33.1l-0.2 0.2M67.2 57.6l-0.2 1.0M150.1 90.5l0.7 0.2M46.4 58.6l-0.2 0.9M80.5 41.8l0.1 0.4M36.9 73.6l-0.3 0.5M6.5 2.9l0.3 0.6M86.7 81.9l0.7 0.6M39.0 42.2l0.3 0.9M38.2 60.5l0.6 0.3M71.1 35.3l0.0 1.1M23.5 26.6l-0.2 0.6M36.6 24.2l1.0 0.4M50.3 94.6l-0.0 0.1M32.7 59.0l0.3 0.2M122.2 50.6l0.1 0.0M75.9 83.3l-0.9 0.3M66.1 16.8l-0.1 0.4M19.4 83.1l0.6 0.8M55.8 69.6l-0.3 0.7M80.9 56.7l-0.3 1.1M69.0 52.9l-0.9 0.1M24.6 7.2l-0.0 0.0M54.0 40.2l-0.2 0.6M80.9 64.3l0.3 0.0M58.1 23.6l0.9 0.2M33.4 88.6l0.7 0.4M89.7 40.2l0.7 0.8M85.3 43.4l0.7 0.3M23.3 92.1l-0.2 0.2" stroke="#18d038" stroke-width="1.4" stroke-linecap="round" fill="none"/>
<path d="M96.3 33.9l-0.2 0.2M63.0 36.4l-0.0 1.2M138.4 97.3l-0.3 0.7M109.6 81.6l0.5 0.1M32.4 65.8l0.9 0.0M5.8 42.5l-0.1 0.1M73.3 37.7l0.2 0.1M10.1 77.6l0.2 0.0M87.6 99.2l0.3 0.6M50.8 23.7l-0.5 0.2M42.9 34.7l-0.1 0.0M73.0 90.6l0.0 0.0M20.8 42.3l-0.1 0.4M5.2 33.9l-0.2 0.5M6.6 66.4l0.3 0.1M56.3 71.9l0.2 0.2M92.7 30.4l-0.1 0.0M18.4 11.9l-0.7 0.2M5.8 51.6l-0.0 0.1M83.3 32.8l0.8 0.7M76.5 52.7l0.1 0.1M26.6 47.0l-0.6 0.5M50.0 46.1l-0.4 0.1M42.4 47.8l-0.7 0.1M7.8 48.5l0.2 0.6M99.3 19.1l0.8 0.1M15.2 5.0l-0.4 0.1M88.0 85.8l-0.3 0.6M12.9 29.8l0.0 0.0M77.3 2.3l-0.5 0.1M98.8 84.8l0.2 0.2M63.2 36.1l-0.5 0.7M10.2 72.7l-0.1 0.2M18.5 26.9l-0.0 0.1M14.4 83.4l0.8 0.6M102.7 79.5l0.0 0.1M1.3 81.5l-0.2 0.3M26.6 100.3l0.3 0.6M61.5 28.3l-0.8 0.7M25.0 66.2l-0.1 0.2M57.7 31.1l0.4 0.2M4.8 77.7l0.0 0.0M69.2 38.5l-0.6 0.0M11.1 26.4l0.1 0.2M74.6 60.5l0.1 0.1M131.3 87.3l0.6 0.2M29.0 80.6l0.2 0.8M97.7 47.2l0.8 0.6M98.8 1.7l-0.6 0.2M133.4 80.9l-0.1 0.1M57.1 51.3l-0.8 0.6M1.6 62.6l-0.3 0.9M15.4 61.1l-0.3 0.3M73.3 92.7l-0.4 0.4M73.3 93.6l0.5 0.6M1.6 26.7l-0.0 0.0M4.3 43.7l0.3 0.2M63.5 43.0l0.6 0.6M97.7 11.6l0.0 0.1M48.2 87.6l0.4 0.1M57.1 52.7l-0.2 0.3M51.7 21.8l1.1 0.3M39.1 21.5l-0.0 0.0M73.2 47.0l1.0 0.6M32.9 4.5l-0.2 0.3M32.0 33.9l-0.4 0.8M87.8 88.7l-0.1 0.3M27.3 58.9l-0.0 1.2M86.6 11.0l-0.0 0.8M63.7 22.8l1.0 0.3M30.2 3.8l-0.0 0.1M48.3 3.0l0.8 0.2M13.0 63.7l-0.5 1.0M37.0 95.2l0.1 0.9M97.7 42.0l0.3 0.5M71.3 95.3l0.4 1.1M97.9 51.1l-0.1 0.1M100.7 14.3l0.0 0.3M15.6 93.8l0.3 0.5M83.7 21.6l-0.0 0.1M80.3 15.0l0.3 0.0M95.5 58.4l-0.8 0.1M14.8 54.1l-0.8 0.6M33.9 45.2l-0.1 0.9M41.7 52.8l-0.7 0.1M60.8 8.0l-0.4 0.4M18.5 12.6l0.1 0.1M14.7 15.4l-0.9 0.0M22.9 52.0l0.1 0.3M53.7 22.3l-0.3 0.3M63.3 30.8l-0.3 0.2M53.1 24.3l-0.5 0.6M70.6 64.8l-0.1 0.9M75.8 52.5l-0.0 0.2M15.5 3.9l0.1 0.1M42.2 37.7l-0.1 0.4M40.5 69.9l0.3 1.0M153.3 68.6l0.1 0.0M40.5 87.5l-0.1 0.2M71.5 71.3l-0.7 0.8M93.2 5.4l0.9 0.2M22.5 44.8l0.0 1.2M78.6 10.1l0.1 0.6M54.1 28.7l-0.5 0.4M10.3 49.6l0.1 1.2M57.7 74.0l-0.6 0.0M147.4 90.6l-0.5 0.3M11.4 51.6l-0.6 0.8M35.0 90.5l0.4 0.1M55.5 10.5l-0.2 0.5M1.3 33.2l-0.0 0.0M43.4 51.3l-0.7 0.6M156.6 61.4l0.9 0.6M53.2 22.9l1.1 0.2M24.4 93.7l0.7 0.6M20.9 40.2l0.4 0.7M52.2 100.8l0.4 0.5M34.8 20.8l0.2 0.1M141.3 57.5l-0.8 0.4M99.2 27.0l0.2 0.5M71.1 15.4l-0.6 0.7M128.9 77.5l0.8 0.0M29.4 79.7l-0.4 0.9M11.9 65.1l0.0 0.0M58.5 14.9l0.3 0.1M15.2 15.7l0.0 0.1M21.2 71.2l0.0 0.1M133.0 94.3l0.1 0.8M86.8 65.6l-0.7 0.5M32.8 11.7l-0.0 1.0M115.7 83.1l-0.3 0.3M20.2 47.2l-0.3 0.1M54.6 18.2l0.8 0.1M19.2 10.0l0.3 0.9M104.7 64.4l-0.4 0.2M35.8 32.7l0.0 0.0M23.7 59.0l0.2 0.7M96.1 39.4l-0.8 0.4M128.3 82.6l-0.2 0.1M32.4 13.6l-0.2 0.8M75.7 15.9l-0.1 0.1M29.5 2.3l-0.0 0.6M25.1 42.1l-0.1 0.3M33.5 67.5l-0.0 0.0M122.5 69.4l0.3 0.0M107.7 72.5l0.3 0.5M60.4 77.5l-0.0 0.1M78.8 71.6l0.0 0.2M133.5 88.7l-0.2 1.0M4.5 65.6l0.7 0.2M43.1 9.5l-0.4 0.1M107.1 95.3l-0.3 0.1M104.0 73.2l-0.0 0.2M71.1 46.1l-0.1 0.8M27.6 96.0l0.4 0.2M70.2 91.6l-0.3 0.1M35.4 15.0l1.1 0.4M67.7 34.5l-0.0 0.0M45.7 56.7l0.3 0.2M91.2 89.5l0.3 0.0M65.4 85.9l0.6 0.8M44.9 28.9l0.3 0.2M108.2 71.6l-0.5 0.5M25.6 21.5l-0.4 0.4M72.1 100.6l0.3 0.2M51.0 59.6l1.0 0.1M34.5 66.6l-0.3 0.0" stroke="#c8ccd8" stroke-width="1.4" stroke-linecap="round" fill="none"/>
<path d="M154.3 69.8l0.3 0.4M155.9 80.2l0.4 0.2M157.9 75.8l0.1 0.0M154.1 70.8l-0.3 0.0M153.7 69.0l-0.8 1.1M150.7 70.6l1.7 0.0M157.4 67.5l0.3 0.8M156.3 71.5l0.2 1.1M154.2 67.2l-0.5 1.5M157.4 65.8l0.3 0.3M159.5 63.1l0.0 0.4M160.9 72.6l-0.7 1.7M151.6 64.9l1.2 0.4M156.0 75.1l0.8 0.6M156.7 76.6l-0.1 0.1M157.2 68.4l-1.3 1.1M154.0 72.9l0.4 0.2M157.5 66.8l-0.8 1.2M153.4 70.3l0.2 0.7M152.5 71.1l1.0 0.9M151.8 65.5l-0.2 0.6M151.7 69.7l1.4 0.1M121.4 46.5l1.2 0.9M146.2 50.0l-0.3 0.0M128.2 56.4l-0.4 1.1M114.2 62.0l-0.3 0.1M119.3 49.7l1.4 0.7M134.2 52.0l-0.3 0.1" stroke="#e8e800" stroke-width="2.4" stroke-linecap="round" fill="none"/>
</g></g>
<text x="675.7" y="451.0" font-size="6.4" text-anchor="middle" fill="#fff" stroke="#fff">20μm</text>
<line x1="667.9" y1="452.5" x2="683.3" y2="452.5" stroke="#fff" stroke-width="0.9"/>
<text x="675.7" y="556.3" font-size="6.4" text-anchor="middle" fill="#fff" stroke="#fff">20μm</text>
<line x1="667.9" y1="557.8" x2="683.3" y2="557.8" stroke="#fff" stroke-width="0.9"/>
</svg>
</body></html>
